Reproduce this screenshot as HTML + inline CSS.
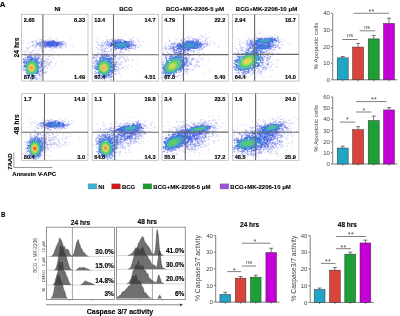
<!DOCTYPE html><html><head><meta charset="utf-8"><style>html,body{margin:0;padding:0;background:#fff;}svg{display:block;will-change:transform}</style></head><body>
<svg width="400" height="316" viewBox="0 0 400 316">
<defs><filter id="soft" x="-5%" y="-5%" width="110%" height="110%"><feGaussianBlur stdDeviation="0.32"/><feColorMatrix type="saturate" values="0.82"/></filter></defs>
<rect width="400" height="316" fill="#fff"/>
<text x="-0.3" y="6.6" font-family="Liberation Sans, sans-serif" font-size="7.8" font-weight="bold" fill="#000" stroke="#000" stroke-width="0.12">A</text>
<text transform="translate(0.9,216.8) scale(0.78,1)" font-family="Liberation Sans, sans-serif" font-size="7.8" font-weight="bold" fill="#000" stroke="#000" stroke-width="0.12">B</text>
<text x="57.5" y="11.1" text-anchor="middle" font-family="Liberation Sans, sans-serif" font-size="6.1" font-weight="bold" fill="#000" stroke="#000" stroke-width="0.12">NI</text>
<text x="126" y="11.1" text-anchor="middle" font-family="Liberation Sans, sans-serif" font-size="6.1" font-weight="bold" fill="#000" stroke="#000" stroke-width="0.12">BCG</text>
<text x="195" y="11.1" text-anchor="middle" font-family="Liberation Sans, sans-serif" font-size="6.1" font-weight="bold" fill="#000" stroke="#000" stroke-width="0.12">BCG+MK-2206-5 μM</text>
<text x="266.5" y="11.1" text-anchor="middle" font-family="Liberation Sans, sans-serif" font-size="6.1" font-weight="bold" fill="#000" stroke="#000" stroke-width="0.12">BCG+MK-2206-10 μM</text>
<text transform="translate(18.6,47.5) rotate(-90)" text-anchor="middle" font-family="Liberation Sans, sans-serif" font-size="6.8" font-weight="bold" fill="#000" stroke="#000" stroke-width="0.12">24 hrs</text>
<text transform="translate(18.6,124.2) rotate(-90)" text-anchor="middle" font-family="Liberation Sans, sans-serif" font-size="6.8" font-weight="bold" fill="#000" stroke="#000" stroke-width="0.12">48 hrs</text>
<rect x="21.6" y="14.3" width="66.4" height="66.8" fill="#fff" stroke="#b8b8b8" stroke-width="0.8"/>
<g filter="url(#soft)">
<path d="M70.4 38.0h.3M44.3 37.0h.3M72.5 46.7h.3M23.6 40.9h.3M62.1 62.1h.3M58.8 56.1h.3M54.3 52.4h.3M22.6 42.8h.3M49.4 37.9h.3M50.4 38.1h.3M70.5 45.3h.3M62.0 49.2h.3M37.5 38.9h.3M51.9 50.7h.3M66.1 47.7h.3M52.3 55.0h.3M49.6 50.5h.3M57.0 61.3h.3M55.5 66.1h.3" stroke="rgb(120, 120, 245)" stroke-opacity="0.4" stroke-width="0.75" stroke-linecap="square" fill="none"/>
<path d="M40.0 39.2h.3M52.0 56.0h.3M55.6 63.5h.3M31.8 41.1h.3M43.4 50.9h.3M52.8 67.5h.3M46.1 53.6h.3M27.6 43.2h.3M43.3 39.1h.3M51.4 68.8h.3M43.2 51.8h.3M43.4 50.4h.3M41.0 39.4h.3M53.0 58.1h.3M47.8 54.9h.3M54.3 64.2h.3M49.3 55.8h.3M33.0 41.1h.3M22.5 50.7h.3M56.3 39.3h.3M59.9 48.4h.3M41.9 50.4h.3M42.8 52.2h.3M49.2 56.4h.3M30.2 42.6h.3M26.7 47.6h.3M34.2 41.1h.3M41.2 51.2h.3M49.0 56.7h.3M45.4 54.6h.3M66.1 46.0h.3M26.8 48.2h.3M36.2 40.7h.3M61.6 47.7h.3M52.5 62.4h.3M32.1 42.1h.3M43.4 49.3h.3M56.2 48.7h.3M28.3 47.8h.3M36.5 40.9h.3M47.0 39.5h.3M65.9 45.7h.3M52.5 48.9h.3M50.6 59.9h.3M29.9 46.2h.3M27.9 48.6h.3M44.1 54.7h.3M29.8 47.4h.3M62.4 40.8h.3M32.2 42.7h.3M33.9 41.9h.3M51.1 61.7h.3M34.9 41.6h.3M39.1 50.8h.3M64.7 46.3h.3M66.7 43.2h.3M49.6 66.8h.3M64.9 41.8h.3M42.4 40.0h.3" stroke="rgb(112, 114, 243)" stroke-opacity="0.4" stroke-width="0.75" stroke-linecap="square" fill="none"/>
<path d="M32.7 42.7h.3M39.5 48.8h.3M50.4 61.9h.3M26.9 49.7h.3M37.0 48.9h.3M49.7 65.0h.3M48.3 58.9h.3M45.0 56.1h.3M60.6 47.4h.3M49.9 62.8h.3M25.3 50.9h.3M50.8 48.7h.3M49.3 65.2h.3M49.8 62.4h.3M39.4 40.8h.3M31.9 46.2h.3M49.7 62.9h.3M34.5 48.1h.3M49.2 64.2h.3M43.1 55.0h.3M57.5 47.9h.3M40.8 48.3h.3M41.4 48.4h.3M48.4 60.2h.3M58.4 47.8h.3M32.4 45.8h.3M49.1 63.3h.3M36.5 50.5h.3M34.9 47.4h.3M46.0 73.1h.3M47.2 59.1h.3M32.9 45.9h.3M50.4 39.8h.3M62.9 41.4h.3M46.3 72.2h.3M41.5 40.6h.3M46.3 58.6h.3M45.6 48.3h.3M33.4 44.4h.3M33.4 45.1h.3M36.1 47.1h.3M48.2 63.8h.3M48.0 65.0h.3M34.0 50.2h.3M24.3 52.8h.3M47.9 65.0h.3M45.9 72.2h.3M65.1 44.8h.3M47.0 68.7h.3M53.3 48.1h.3M41.7 47.9h.3M41.4 54.5h.3" stroke="rgb(105, 109, 242)" stroke-opacity="0.4" stroke-width="0.75" stroke-linecap="square" fill="none"/>
<path d="M60.3 47.1h.3M40.7 79.0h.3M47.1 67.8h.3M36.3 42.4h.3M35.4 46.4h.3M65.3 43.6h.3M55.1 47.9h.3M43.4 40.6h.3M25.9 51.9h.3M47.0 61.0h.3M60.5 46.9h.3M52.4 40.0h.3M33.1 50.5h.3M27.7 51.2h.3M35.0 45.5h.3M46.6 61.1h.3M36.4 46.4h.3M34.9 44.9h.3M47.0 62.9h.3M45.5 71.7h.3M59.1 47.2h.3M62.9 41.9h.3M39.7 79.0h.3M60.2 46.9h.3M46.7 62.6h.3M45.3 59.6h.3M43.4 57.2h.3M43.5 40.8h.3M62.6 46.0h.3M37.3 80.0h.3M36.0 43.7h.3M36.5 45.8h.3M36.5 43.3h.3M44.5 73.2h.3M48.5 40.3h.3M37.2 42.9h.3M45.7 60.8h.3M45.4 47.7h.3M36.8 43.2h.3M53.7 40.3h.3M46.4 64.3h.3M63.9 42.8h.3M36.5 45.5h.3M41.4 77.3h.3M64.1 43.0h.3M39.7 46.8h.3M38.6 53.6h.3M37.4 42.9h.3M42.9 41.0h.3" stroke="rgb(98, 104, 241)" stroke-opacity="0.4" stroke-width="0.75" stroke-linecap="square" fill="none"/>
<path d="M44.4 73.0h.3M45.1 60.2h.3M32.4 51.3h.3M44.0 40.9h.3M39.1 46.5h.3M39.5 42.1h.3M56.3 40.5h.3M37.0 43.6h.3M37.4 43.2h.3M45.9 63.3h.3M63.3 45.2h.3M40.4 46.7h.3M41.2 41.6h.3M64.1 44.0h.3M37.0 45.0h.3M31.3 80.3h.3M45.9 65.6h.3M53.2 40.4h.3M40.5 46.7h.3M62.7 42.3h.3M37.0 44.2h.3M40.3 46.6h.3M40.5 41.9h.3M39.9 55.0h.3M30.2 80.0h.3M61.1 41.6h.3M38.4 42.9h.3M55.1 47.4h.3M37.7 45.2h.3M56.0 47.3h.3M44.9 61.3h.3M43.8 47.1h.3M53.0 40.5h.3M38.0 43.4h.3M61.6 45.9h.3M36.3 79.6h.3M29.1 52.2h.3" stroke="rgb(90, 99, 240)" stroke-opacity="0.4" stroke-width="0.75" stroke-linecap="square" fill="none"/>
<path d="M42.6 46.9h.3M61.0 46.1h.3M37.8 44.6h.3M38.9 42.9h.3M38.0 54.0h.3M37.9 44.2h.3M56.2 47.1h.3M49.4 47.5h.3M45.2 65.6h.3M45.5 41.0h.3M25.6 54.4h.3M40.2 55.8h.3M44.7 41.1h.3M38.3 78.5h.3M39.5 42.8h.3M42.5 41.6h.3M45.0 67.4h.3M44.4 61.6h.3M45.6 47.2h.3M62.0 42.3h.3M38.3 44.4h.3M33.1 79.8h.3M47.6 47.3h.3M44.5 47.0h.3M31.1 52.4h.3M31.1 79.7h.3M22.4 59.2h.3M39.6 45.6h.3M36.4 79.1h.3M63.0 43.3h.3M62.8 44.8h.3M40.4 56.4h.3M41.6 46.3h.3M39.7 77.2h.3M41.7 46.3h.3M43.4 72.4h.3" stroke="rgb(84, 94, 240)" stroke-opacity="0.55" stroke-width="0.75" stroke-linecap="square" fill="none"/>
<path d="M36.4 79.0h.3M42.0 58.3h.3M36.7 78.9h.3M40.0 42.9h.3M55.9 47.0h.3M36.9 54.0h.3M24.9 55.7h.3M39.5 45.1h.3M43.0 46.5h.3M45.4 46.9h.3M42.9 41.8h.3M43.3 72.2h.3M61.0 42.1h.3M39.9 43.1h.3M44.5 41.4h.3M44.9 46.8h.3M43.3 60.6h.3M44.5 66.4h.3M49.6 47.2h.3M44.4 67.9h.3M32.3 79.5h.3M38.7 55.4h.3M41.7 74.7h.3M35.1 53.5h.3M41.3 75.2h.3M51.8 40.7h.3M53.0 40.8h.3M41.7 42.3h.3M46.5 41.1h.3M54.3 47.0h.3M59.2 41.6h.3M60.0 41.8h.3M43.9 62.6h.3M62.1 44.8h.3M30.5 53.1h.3M50.4 47.1h.3M24.3 75.1h.3M41.7 42.4h.3" stroke="rgb(81, 93, 240)" stroke-opacity="0.55" stroke-width="0.75" stroke-linecap="square" fill="none"/>
<path d="M38.1 55.3h.3M60.3 45.8h.3M39.9 44.4h.3M40.2 43.4h.3M54.2 46.9h.3M38.9 55.9h.3M23.4 58.6h.3M40.0 44.0h.3M26.4 55.0h.3M45.8 46.7h.3M41.6 58.7h.3M43.2 41.9h.3M51.7 47.0h.3M43.9 63.9h.3M62.2 44.4h.3M27.0 77.6h.3M47.1 41.2h.3M44.9 41.5h.3M40.2 44.4h.3M40.2 44.3h.3M40.7 44.9h.3M40.1 75.8h.3M48.7 46.9h.3M42.6 72.1h.3M45.0 46.4h.3M41.5 45.3h.3M50.6 41.0h.3M53.8 41.0h.3M42.5 42.4h.3M42.4 42.4h.3" stroke="rgb(78, 92, 240)" stroke-opacity="0.55" stroke-width="0.75" stroke-linecap="square" fill="none"/>
<path d="M43.9 46.2h.3M42.7 71.6h.3M58.8 41.7h.3M61.9 44.3h.3M38.8 56.4h.3M42.7 45.7h.3M48.5 41.1h.3M56.0 46.5h.3M23.7 59.0h.3M52.2 46.8h.3M39.8 75.8h.3M43.6 66.8h.3M52.8 41.0h.3M23.2 60.0h.3M60.5 42.4h.3M41.0 58.9h.3M61.6 43.4h.3M45.1 46.3h.3M36.5 55.0h.3M42.4 42.6h.3M42.9 62.3h.3M41.7 60.0h.3M43.1 69.7h.3M44.4 46.1h.3M61.5 44.4h.3M41.8 60.3h.3M59.7 45.6h.3" stroke="rgb(75, 90, 240)" stroke-opacity="0.55" stroke-width="0.75" stroke-linecap="square" fill="none"/>
<path d="M41.9 72.6h.3M50.4 46.7h.3M50.2 46.7h.3M46.2 41.6h.3M43.7 42.3h.3M23.8 59.3h.3M43.2 42.5h.3M39.3 57.4h.3M42.8 63.2h.3M50.5 41.2h.3M42.2 61.4h.3M24.9 57.8h.3M42.7 70.0h.3M60.5 42.7h.3M42.2 43.2h.3M50.8 41.2h.3M45.5 41.9h.3M61.2 43.7h.3M48.3 46.5h.3M42.8 69.0h.3" stroke="rgb(71, 89, 240)" stroke-opacity="0.55" stroke-width="0.75" stroke-linecap="square" fill="none"/>
<path d="M60.9 44.6h.3M42.0 44.4h.3M45.1 42.0h.3M54.8 41.4h.3M43.1 45.3h.3M47.1 46.3h.3M42.5 43.2h.3M61.1 43.7h.3M53.8 41.3h.3M36.3 55.5h.3M32.2 54.4h.3M42.6 69.3h.3M34.2 54.8h.3M57.7 45.9h.3M23.5 60.7h.3M54.5 41.4h.3M58.0 41.9h.3M35.5 77.8h.3M53.1 41.3h.3M30.1 54.8h.3M50.0 46.5h.3M34.4 55.0h.3M48.0 41.6h.3" stroke="rgb(68, 88, 240)" stroke-opacity="0.55" stroke-width="0.75" stroke-linecap="square" fill="none"/>
<path d="M23.0 62.5h.3M31.5 54.7h.3M40.4 59.5h.3M42.0 70.4h.3M40.6 73.4h.3M43.7 42.8h.3M32.3 78.3h.3M46.1 45.9h.3M43.2 43.2h.3M41.9 70.6h.3M22.5 66.3h.3M49.2 41.5h.3M58.9 45.3h.3M31.8 54.8h.3M56.8 41.8h.3M41.3 61.3h.3M59.6 45.0h.3M42.1 63.2h.3M54.0 46.3h.3M44.3 45.3h.3M30.4 78.0h.3M60.5 43.8h.3M47.5 46.1h.3M60.5 43.9h.3M23.1 70.5h.3M45.2 42.3h.3M29.9 55.2h.3" stroke="rgb(65, 86, 240)" stroke-opacity="0.55" stroke-width="0.75" stroke-linecap="square" fill="none"/>
<path d="M54.1 46.3h.3M38.1 57.4h.3M51.5 46.4h.3M28.9 55.6h.3M41.2 61.3h.3M28.9 77.5h.3M44.8 45.5h.3M46.2 45.8h.3M53.8 41.5h.3M55.6 46.1h.3M38.2 57.5h.3M41.9 63.0h.3M56.9 45.8h.3M52.7 41.5h.3M26.0 75.5h.3M44.7 42.6h.3M60.3 43.9h.3M38.9 75.1h.3M28.4 55.9h.3M34.9 77.6h.3M52.5 41.5h.3M46.9 42.0h.3M44.6 45.2h.3M49.8 41.6h.3M59.4 42.8h.3M42.2 66.0h.3M36.7 56.6h.3M45.0 45.4h.3M48.9 46.2h.3M23.4 62.5h.3" stroke="rgb(62, 85, 240)" stroke-opacity="0.55" stroke-width="0.75" stroke-linecap="square" fill="none"/>
<path d="M22.9 68.6h.3M41.7 63.2h.3M57.1 45.7h.3M57.9 45.4h.3M27.1 57.0h.3M45.6 42.4h.3M30.6 55.4h.3M56.1 45.9h.3M56.0 45.9h.3M43.6 43.7h.3M41.8 69.1h.3M51.1 41.6h.3M56.7 45.7h.3M26.2 57.8h.3M35.7 77.1h.3M41.6 63.2h.3M44.2 44.8h.3M38.9 58.7h.3M54.3 41.7h.3M58.9 44.9h.3M37.9 57.8h.3M39.0 58.8h.3M23.7 61.9h.3M43.8 43.8h.3M41.5 63.4h.3M28.8 56.1h.3" stroke="rgb(59, 84, 240)" stroke-opacity="0.55" stroke-width="0.75" stroke-linecap="square" fill="none"/>
<path d="M50.9 46.1h.3M38.8 74.8h.3M59.6 43.4h.3M41.7 64.4h.3M48.4 41.9h.3M24.0 61.5h.3M46.5 45.6h.3M56.6 45.6h.3M45.2 45.2h.3M55.2 41.9h.3M46.1 45.5h.3M48.4 41.9h.3M52.5 46.1h.3M24.7 60.1h.3M33.7 55.8h.3M41.2 62.7h.3M27.6 57.0h.3M27.8 56.8h.3M56.1 45.7h.3M57.5 45.4h.3M53.0 46.0h.3M25.9 58.6h.3M47.4 45.7h.3M27.8 56.9h.3M59.5 43.9h.3" stroke="rgb(56, 82, 240)" stroke-opacity="0.55" stroke-width="0.75" stroke-linecap="square" fill="none"/>
<path d="M57.8 42.5h.3M44.4 44.2h.3M35.2 56.5h.3M59.0 43.2h.3M57.7 42.5h.3M30.0 77.4h.3M40.5 61.6h.3M24.5 61.0h.3M41.3 69.6h.3M41.0 70.4h.3M44.7 43.4h.3M41.5 64.8h.3M52.5 46.0h.3M41.6 67.0h.3M52.4 41.8h.3M49.0 42.0h.3M53.4 45.9h.3M27.1 75.9h.3" stroke="rgb(53, 81, 240)" stroke-opacity="0.55" stroke-width="0.75" stroke-linecap="square" fill="none"/>
<path d="M27.4 57.5h.3M46.5 42.6h.3M46.7 45.4h.3M44.8 43.6h.3M40.5 71.5h.3M58.5 44.7h.3M46.7 42.5h.3M44.7 43.9h.3M38.8 74.1h.3M41.4 65.5h.3M50.5 45.9h.3M44.9 43.7h.3M41.4 65.9h.3M25.0 60.3h.3M58.7 43.5h.3M30.8 56.2h.3M58.0 42.9h.3" stroke="rgb(50, 80, 240)" stroke-opacity="0.75" stroke-width="0.75" stroke-linecap="square" fill="none"/>
<path d="M47.0 45.3h.3M46.8 42.6h.3M58.7 43.5h.3M57.5 42.7h.3M58.0 42.9h.3M41.3 66.8h.3M58.2 44.6h.3M24.3 62.0h.3M57.2 45.1h.3M29.6 56.6h.3M28.2 57.3h.3M49.1 42.1h.3M53.8 42.0h.3M38.1 59.0h.3M48.9 42.2h.3M57.1 42.6h.3M52.9 45.8h.3M49.2 45.6h.3M53.9 42.0h.3M58.3 44.4h.3M54.1 42.1h.3M24.0 62.8h.3" stroke="rgb(49, 81, 239)" stroke-opacity="0.75" stroke-width="0.75" stroke-linecap="square" fill="none"/>
<path d="M46.3 42.9h.3M48.2 45.4h.3M55.5 45.4h.3M25.6 59.8h.3M51.2 42.0h.3M45.5 44.2h.3M55.8 45.4h.3M48.7 45.5h.3M24.4 62.0h.3M24.0 63.1h.3M50.2 45.7h.3M23.5 68.8h.3M40.8 64.1h.3M56.5 45.1h.3M38.0 59.2h.3M29.8 56.8h.3M28.7 57.3h.3M53.8 45.6h.3M31.4 56.5h.3M56.5 42.6h.3M50.7 42.1h.3M47.3 42.7h.3" stroke="rgb(48, 82, 239)" stroke-opacity="0.75" stroke-width="0.75" stroke-linecap="square" fill="none"/>
<path d="M40.2 71.0h.3M28.2 57.6h.3M40.8 64.5h.3M36.5 58.0h.3M48.5 45.4h.3M57.2 42.9h.3M58.1 43.8h.3M38.7 73.5h.3M48.0 42.6h.3M57.2 44.7h.3M46.1 44.3h.3M53.1 45.6h.3M48.1 45.2h.3M34.8 57.2h.3" stroke="rgb(48, 83, 239)" stroke-opacity="0.75" stroke-width="0.75" stroke-linecap="square" fill="none"/>
<path d="M50.1 45.5h.3M50.2 42.3h.3M31.6 77.1h.3M51.0 45.5h.3M47.7 42.7h.3M34.0 57.0h.3M27.6 58.2h.3M39.4 61.5h.3M29.0 57.4h.3M35.4 57.6h.3M51.3 42.2h.3M56.8 42.9h.3M48.6 42.5h.3M57.8 44.0h.3M51.0 42.2h.3M37.8 59.4h.3M50.9 45.5h.3M56.1 45.0h.3M48.8 42.6h.3M28.5 76.2h.3M48.1 42.7h.3M46.4 44.0h.3M47.3 43.0h.3M54.4 42.4h.3M46.4 43.8h.3M56.3 42.9h.3M48.6 42.6h.3M57.5 43.8h.3M32.4 76.9h.3M55.4 42.6h.3M57.1 43.3h.3M24.1 64.1h.3M36.4 58.5h.3M33.9 76.6h.3M52.7 42.3h.3M57.0 43.3h.3M48.0 42.9h.3M55.7 42.7h.3M48.0 42.9h.3M47.2 44.5h.3M39.7 62.7h.3M55.4 42.7h.3M51.6 42.4h.3M40.5 66.2h.3M57.0 44.2h.3M52.4 45.3h.3M54.7 45.1h.3M37.0 59.1h.3M48.2 44.8h.3M56.4 44.6h.3M39.1 72.1h.3M52.0 45.3h.3M24.9 62.1h.3M56.4 43.2h.3M47.1 44.0h.3M47.3 43.5h.3M47.6 44.5h.3M52.7 42.5h.3M56.7 44.2h.3M24.7 62.7h.3M53.3 45.2h.3M56.8 44.1h.3M47.4 44.2h.3M54.3 42.7h.3M32.1 57.3h.3M40.3 67.4h.3M56.6 44.3h.3" stroke="rgb(47, 85, 239)" stroke-opacity="0.75" stroke-width="0.75" stroke-linecap="square" fill="none"/>
<path d="M56.7 44.0h.3M49.0 44.9h.3M30.1 57.6h.3M49.3 44.9h.3M48.1 43.2h.3M49.7 45.0h.3M47.6 43.6h.3M54.4 42.8h.3M52.0 42.6h.3M47.6 44.1h.3M48.5 43.1h.3M24.2 65.0h.3M48.4 44.6h.3M55.1 44.8h.3M24.0 66.6h.3M27.0 59.6h.3M36.9 59.5h.3M49.5 42.9h.3M54.9 44.8h.3M47.7 44.0h.3M55.8 43.2h.3M50.3 45.0h.3M49.0 43.0h.3M55.6 44.5h.3M55.8 44.4h.3M55.4 44.6h.3M52.0 45.1h.3M39.4 63.2h.3M48.7 44.6h.3M54.6 42.9h.3M54.8 44.7h.3M48.4 43.3h.3M54.3 42.9h.3M36.1 75.1h.3M48.0 44.1h.3M30.9 57.7h.3M51.6 42.7h.3M48.7 43.3h.3M49.4 44.7h.3M48.3 44.1h.3M48.3 44.0h.3M55.4 44.4h.3M52.8 42.8h.3M50.0 43.0h.3M48.4 44.0h.3M39.7 69.0h.3M34.7 75.8h.3M38.6 62.0h.3M54.7 43.1h.3M49.3 44.5h.3M50.3 43.0h.3M33.2 76.3h.3M48.6 43.9h.3M50.7 44.8h.3M39.8 67.6h.3M53.7 44.7h.3M52.1 44.8h.3M48.8 44.0h.3M53.5 43.0h.3M55.2 43.9h.3M33.4 76.2h.3M52.4 44.7h.3M49.0 43.8h.3M28.8 75.7h.3M53.4 43.0h.3M31.4 57.9h.3M35.1 58.7h.3M24.3 65.9h.3M50.6 44.6h.3M54.0 43.2h.3M54.6 43.4h.3M31.2 76.3h.3M51.1 44.6h.3M49.2 44.0h.3M51.2 44.6h.3M52.4 44.6h.3M49.5 43.7h.3M52.2 44.6h.3M51.3 44.6h.3M50.5 44.4h.3M49.7 43.7h.3M53.3 44.5h.3M49.6 43.9h.3M51.6 44.5h.3M54.0 43.4h.3M27.9 59.5h.3M32.5 76.2h.3M50.5 44.3h.3M36.3 59.8h.3M53.4 43.3h.3M52.5 43.2h.3" stroke="rgb(43, 93, 237)" stroke-opacity="0.75" stroke-width="0.75" stroke-linecap="square" fill="none"/>
<path d="M50.0 43.7h.3M34.5 58.7h.3M24.5 65.5h.3M30.6 58.3h.3M53.9 43.5h.3M24.5 65.9h.3M36.9 60.4h.3M50.2 44.1h.3M51.1 44.4h.3M24.8 70.2h.3M50.3 44.0h.3M51.0 43.4h.3M24.5 69.1h.3M53.4 44.2h.3M52.2 44.3h.3M50.5 43.9h.3M38.2 62.2h.3M50.8 44.0h.3M38.1 62.1h.3M50.9 44.0h.3M53.5 43.9h.3M30.1 58.5h.3M50.9 43.9h.3M37.0 60.6h.3M51.7 43.5h.3M52.5 43.5h.3M38.8 63.7h.3M51.5 43.6h.3M52.5 44.1h.3M51.1 43.9h.3M51.8 43.6h.3M39.4 68.3h.3M53.1 43.8h.3M25.8 62.1h.3M24.5 66.2h.3M33.0 58.4h.3M51.9 43.6h.3M51.5 44.0h.3M51.5 43.8h.3M37.8 72.5h.3M51.6 43.9h.3M39.3 65.8h.3M51.9 43.8h.3M33.0 58.4h.3M36.7 60.5h.3M38.4 71.4h.3M36.1 60.0h.3M38.3 62.8h.3M31.4 76.1h.3M31.0 58.5h.3M32.5 58.5h.3M26.5 61.2h.3M34.9 59.2h.3M32.3 58.5h.3M32.6 58.5h.3M24.6 67.2h.3M29.1 59.2h.3M26.4 73.2h.3M26.9 61.0h.3M34.1 75.4h.3M32.1 58.6h.3M36.3 60.5h.3M38.3 70.9h.3M26.7 61.3h.3M38.5 63.9h.3M26.1 72.6h.3" stroke="rgb(39, 101, 236)" stroke-opacity="0.75" stroke-width="0.75" stroke-linecap="square" fill="none"/>
<path d="M36.9 73.2h.3M26.6 61.6h.3M32.5 75.8h.3M38.2 70.8h.3M26.2 62.3h.3M32.9 59.0h.3M35.0 59.8h.3M31.2 59.0h.3M27.1 73.6h.3M29.9 59.3h.3M29.0 59.7h.3M36.8 73.0h.3M36.8 61.5h.3M37.8 71.3h.3M37.1 72.6h.3M34.8 59.9h.3M33.0 75.5h.3M28.0 74.4h.3M36.1 60.9h.3M36.9 72.8h.3M28.3 60.3h.3M37.8 71.1h.3M25.6 70.8h.3M36.7 61.8h.3" stroke="rgb(35, 110, 235)" stroke-opacity="0.9" stroke-width="1.0" stroke-linecap="square" fill="none"/>
<path d="M31.3 59.3h.3M33.1 75.2h.3M32.3 59.4h.3M31.7 75.4h.3M26.0 63.4h.3M38.4 66.7h.3M36.4 72.9h.3M33.3 59.7h.3M30.9 59.6h.3M30.9 59.6h.3M36.4 72.8h.3M30.2 59.8h.3M34.6 60.4h.3M28.9 74.5h.3M37.5 70.8h.3" stroke="rgb(30, 120, 230)" stroke-opacity="0.9" stroke-width="1.0" stroke-linecap="square" fill="none"/>
<path d="M36.2 61.9h.3M25.6 65.2h.3M38.1 67.4h.3M38.1 67.2h.3M34.6 60.6h.3M38.0 68.4h.3M26.2 63.7h.3M38.1 67.0h.3M32.2 75.0h.3M30.1 60.2h.3M37.9 68.9h.3M36.6 62.7h.3M29.6 74.6h.3M33.0 60.1h.3M36.7 63.0h.3M25.5 66.5h.3M36.5 62.7h.3M35.9 72.8h.3M25.5 67.7h.3M37.5 70.0h.3M36.4 62.6h.3" stroke="rgb(26, 130, 226)" stroke-opacity="0.9" stroke-width="1.0" stroke-linecap="square" fill="none"/>
<path d="M37.9 67.4h.3M37.5 64.8h.3M37.8 66.6h.3M36.9 63.6h.3M36.8 63.4h.3M37.3 64.7h.3M27.3 62.4h.3M35.5 73.1h.3M37.8 67.5h.3M25.9 65.4h.3M35.2 61.6h.3M26.8 63.3h.3M28.8 61.2h.3M35.8 72.7h.3M30.7 60.4h.3M32.5 74.7h.3M35.3 61.8h.3M37.4 65.5h.3M36.9 64.1h.3M31.7 60.4h.3M35.9 62.5h.3" stroke="rgb(22, 141, 222)" stroke-opacity="0.9" stroke-width="1.0" stroke-linecap="square" fill="none"/>
<path d="M37.5 68.9h.3M37.6 67.5h.3M28.0 61.9h.3M31.7 74.6h.3M31.3 60.5h.3M27.6 62.5h.3M29.4 61.1h.3M35.1 61.9h.3M37.0 70.2h.3M37.0 64.9h.3M34.8 61.7h.3M29.4 61.2h.3M37.4 68.0h.3M36.1 63.2h.3M37.1 69.4h.3" stroke="rgb(18, 151, 218)" stroke-opacity="0.9" stroke-width="1.0" stroke-linecap="square" fill="none"/>
<path d="M37.0 69.8h.3M31.2 60.7h.3M37.2 68.4h.3M27.5 72.4h.3M36.0 71.8h.3M36.9 69.9h.3M36.9 65.2h.3M37.2 66.4h.3M31.4 60.8h.3M27.4 72.1h.3M36.8 64.9h.3M31.6 74.3h.3M34.7 62.0h.3M32.7 74.2h.3M26.5 70.4h.3M29.0 61.8h.3M26.9 71.2h.3M26.6 70.5h.3" stroke="rgb(15, 160, 213)" stroke-opacity="1" stroke-width="1.0" stroke-linecap="square" fill="none"/>
<path d="M26.6 64.8h.3M29.4 61.5h.3M29.9 61.3h.3M26.7 64.7h.3M28.2 62.4h.3M30.5 61.2h.3M36.5 64.6h.3M29.7 61.5h.3M32.7 74.0h.3M33.1 73.8h.3M28.2 62.6h.3M29.7 61.5h.3" stroke="rgb(15, 165, 204)" stroke-opacity="1" stroke-width="1.0" stroke-linecap="square" fill="none"/>
<path d="M33.0 61.4h.3M36.7 69.5h.3M33.9 61.8h.3M32.2 61.2h.3M34.1 73.2h.3M36.9 67.3h.3M34.8 62.5h.3M27.1 71.1h.3M34.7 72.8h.3M26.6 65.4h.3M35.9 64.0h.3M31.1 74.0h.3M36.5 65.3h.3M27.8 63.2h.3M29.2 62.0h.3M26.3 67.2h.3M28.7 73.0h.3M36.7 66.5h.3M36.7 68.9h.3M34.2 73.0h.3M35.9 71.0h.3M26.6 69.5h.3M31.0 61.4h.3M28.8 62.3h.3M35.0 62.9h.3M34.6 62.6h.3M28.6 62.5h.3" stroke="rgb(16, 170, 195)" stroke-opacity="1" stroke-width="1.0" stroke-linecap="square" fill="none"/>
<path d="M36.3 65.0h.3M36.0 70.7h.3M26.4 67.8h.3M36.7 67.2h.3M27.1 64.7h.3M35.1 63.2h.3M35.8 64.3h.3M28.5 62.7h.3M35.7 64.1h.3M36.4 65.6h.3M32.0 73.8h.3M26.6 66.4h.3M36.2 65.3h.3M36.3 69.8h.3M31.2 61.6h.3M36.6 67.4h.3M29.6 73.3h.3" stroke="rgb(17, 175, 186)" stroke-opacity="1" stroke-width="1.0" stroke-linecap="square" fill="none"/>
<path d="M32.6 61.7h.3M32.7 61.8h.3M35.0 63.4h.3M26.7 69.3h.3M29.9 73.4h.3M26.9 69.7h.3M28.7 72.6h.3M26.7 66.5h.3M35.7 70.8h.3" stroke="rgb(17, 180, 177)" stroke-opacity="1" stroke-width="1.0" stroke-linecap="square" fill="none"/>
<path d="M36.2 66.1h.3M27.6 71.1h.3M36.3 66.9h.3M27.3 64.8h.3M34.8 63.4h.3M32.6 62.0h.3M36.3 67.5h.3M36.3 67.5h.3M29.9 62.2h.3M34.2 72.5h.3M36.3 67.4h.3M27.9 71.5h.3M34.3 63.0h.3M27.1 65.4h.3M36.2 66.6h.3M36.1 66.0h.3M30.2 62.2h.3M32.7 73.2h.3M36.1 66.2h.3" stroke="rgb(18, 185, 168)" stroke-opacity="1" stroke-width="1.0" stroke-linecap="square" fill="none"/>
<path d="M27.9 64.1h.3M27.0 66.0h.3M28.9 63.0h.3M34.9 63.7h.3M33.9 62.8h.3M34.7 63.5h.3M34.5 63.4h.3M29.0 63.0h.3M27.0 66.7h.3M30.3 62.3h.3" stroke="rgb(19, 190, 159)" stroke-opacity="1" stroke-width="1.0" stroke-linecap="square" fill="none"/>
<path d="M30.1 73.0h.3M35.0 64.1h.3M35.9 66.2h.3M34.6 71.8h.3M33.7 72.5h.3M35.8 65.8h.3M29.2 63.0h.3M29.9 62.6h.3M27.9 64.3h.3M33.4 62.7h.3M27.0 67.2h.3M30.0 72.9h.3M32.8 62.5h.3M28.9 72.2h.3M27.4 65.4h.3M35.9 66.7h.3M35.8 66.1h.3M30.4 62.5h.3M31.2 62.3h.3M30.9 62.4h.3M32.9 72.9h.3M35.9 67.1h.3M27.2 66.4h.3M30.2 62.5h.3" stroke="rgb(20, 195, 150)" stroke-opacity="1" stroke-width="1.0" stroke-linecap="square" fill="none"/>
<path d="M30.6 73.0h.3M35.5 70.0h.3M32.3 62.4h.3M28.3 64.0h.3M31.5 73.1h.3M28.5 63.7h.3M35.5 65.4h.3M27.3 69.5h.3M35.3 65.0h.3M27.7 70.5h.3M33.8 63.2h.3M32.9 62.7h.3M27.6 65.3h.3M33.7 63.2h.3M31.3 73.0h.3M35.4 65.2h.3M27.9 70.8h.3M35.6 65.9h.3M35.7 69.2h.3M31.7 62.5h.3M35.1 64.8h.3" stroke="rgb(25, 196, 140)" stroke-opacity="1" stroke-width="1.0" stroke-linecap="square" fill="none"/>
<path d="M27.2 68.0h.3M28.8 63.7h.3M34.7 71.2h.3M32.0 62.6h.3M35.3 65.4h.3M34.2 63.7h.3M35.4 69.8h.3M27.7 65.4h.3M31.4 72.9h.3M35.2 70.1h.3" stroke="rgb(31, 198, 130)" stroke-opacity="1" stroke-width="1.0" stroke-linecap="square" fill="none"/>
<path d="M34.3 71.5h.3M28.8 71.7h.3M29.8 63.1h.3M29.7 63.2h.3M35.6 67.2h.3M35.3 65.7h.3M30.7 62.8h.3M32.2 62.8h.3M35.3 65.9h.3M31.2 62.7h.3M35.6 67.7h.3M34.5 64.4h.3" stroke="rgb(36, 200, 120)" stroke-opacity="1" stroke-width="1.0" stroke-linecap="square" fill="none"/>
<path d="M30.8 62.9h.3M28.1 64.9h.3M27.7 66.0h.3M27.6 66.1h.3M31.6 62.8h.3M35.0 65.3h.3M35.2 65.8h.3M34.7 64.8h.3M32.8 72.4h.3M31.5 62.9h.3M29.0 63.9h.3M33.7 71.8h.3M30.5 63.0h.3M27.5 66.8h.3M27.6 66.4h.3M35.4 67.0h.3M28.0 65.3h.3M31.7 62.9h.3M31.6 72.6h.3M34.8 65.0h.3" stroke="rgb(42, 201, 110)" stroke-opacity="1" stroke-width="1.0" stroke-linecap="square" fill="none"/>
<path d="M27.8 65.9h.3M32.3 63.1h.3M35.4 67.1h.3M31.9 63.0h.3M27.7 66.5h.3M28.6 64.5h.3M30.2 63.3h.3M34.9 70.0h.3M31.0 72.5h.3M31.2 63.0h.3M29.7 63.5h.3M33.9 64.0h.3M35.0 65.8h.3M35.2 69.0h.3M33.5 63.7h.3M34.4 64.7h.3M35.3 67.3h.3M33.4 63.7h.3M35.3 67.6h.3" stroke="rgb(47, 203, 99)" stroke-opacity="1" stroke-width="1.0" stroke-linecap="square" fill="none"/>
<path d="M27.6 67.9h.3M27.6 68.2h.3M29.7 71.9h.3M34.7 70.3h.3M35.0 65.9h.3M31.5 72.4h.3M30.3 63.3h.3M34.7 70.3h.3M31.5 72.4h.3M28.6 64.7h.3M33.4 63.7h.3M29.6 71.8h.3M33.0 63.5h.3M34.1 64.4h.3M27.8 69.1h.3M29.6 63.8h.3M31.3 63.2h.3" stroke="rgb(53, 205, 90)" stroke-opacity="1" stroke-width="1.0" stroke-linecap="square" fill="none"/>
<path d="M28.6 64.9h.3M34.2 70.9h.3M35.2 68.4h.3M27.8 66.7h.3M34.4 70.6h.3M34.7 65.6h.3M35.1 68.6h.3M29.5 71.6h.3M27.9 69.0h.3M29.6 71.7h.3M34.2 70.7h.3M31.2 72.3h.3M27.9 68.9h.3" stroke="rgb(58, 206, 79)" stroke-opacity="1" stroke-width="1.0" stroke-linecap="square" fill="none"/>
<path d="M34.5 70.2h.3M34.9 66.3h.3M33.9 71.0h.3M31.6 72.2h.3M29.8 63.9h.3M30.3 72.0h.3M28.6 65.1h.3M33.4 64.0h.3M28.9 64.7h.3M34.3 70.4h.3M32.8 71.9h.3M28.4 65.5h.3M31.5 63.4h.3M34.4 70.2h.3M27.9 67.5h.3M35.0 66.9h.3M34.9 66.7h.3M33.4 64.1h.3M29.0 64.6h.3M28.8 70.7h.3" stroke="rgb(64, 208, 70)" stroke-opacity="1" stroke-width="1.0" stroke-linecap="square" fill="none"/>
<path d="M33.8 71.0h.3M29.0 70.9h.3M28.8 70.7h.3M35.0 67.9h.3M29.5 64.2h.3M34.4 70.1h.3M28.5 70.2h.3M34.5 65.6h.3M33.3 71.4h.3M30.4 71.8h.3M32.7 71.7h.3M31.9 63.6h.3M34.9 68.2h.3M28.0 68.3h.3M34.8 66.7h.3" stroke="rgb(70, 210, 60)" stroke-opacity="1" stroke-width="1.0" stroke-linecap="square" fill="none"/>
<path d="M28.7 65.3h.3M31.3 63.6h.3M31.0 71.9h.3M30.5 71.8h.3M32.8 64.0h.3M33.9 64.9h.3M33.9 64.9h.3M33.5 71.0h.3M30.9 71.9h.3M33.6 71.0h.3M32.9 71.5h.3M33.9 70.6h.3M28.3 69.3h.3M34.7 66.8h.3M34.2 65.3h.3M28.2 69.2h.3M32.6 63.9h.3M28.6 65.5h.3M34.4 65.9h.3M31.8 63.7h.3M31.4 63.7h.3M34.7 68.8h.3M28.3 66.3h.3M30.6 63.8h.3" stroke="rgb(79, 211, 55)" stroke-opacity="1" stroke-width="1.0" stroke-linecap="square" fill="none"/>
<path d="M33.9 65.0h.3M28.3 66.4h.3M28.6 65.6h.3M30.5 71.7h.3M28.1 68.3h.3M32.7 71.6h.3M28.5 69.7h.3M33.5 64.7h.3M28.7 70.0h.3M29.0 70.6h.3M33.5 70.9h.3M32.4 64.0h.3M28.1 67.8h.3M32.3 71.7h.3M33.1 71.2h.3M34.7 67.5h.3M34.5 69.1h.3M33.8 70.6h.3" stroke="rgb(88, 212, 50)" stroke-opacity="1" stroke-width="1.0" stroke-linecap="square" fill="none"/>
<path d="M30.6 64.0h.3M28.6 65.8h.3M33.1 64.4h.3M33.6 70.7h.3M33.5 64.8h.3M32.9 64.3h.3M34.3 66.1h.3M29.3 64.9h.3M31.7 71.7h.3M34.0 65.5h.3M30.4 71.5h.3M33.3 70.9h.3M31.9 64.0h.3M30.3 71.4h.3M28.3 67.8h.3M28.5 69.1h.3" stroke="rgb(97, 213, 45)" stroke-opacity="1" stroke-width="1.0" stroke-linecap="square" fill="none"/>
<path d="M28.7 65.9h.3M32.2 64.1h.3M29.5 64.8h.3M33.3 70.9h.3M34.3 66.2h.3M31.5 64.0h.3M28.5 69.1h.3M28.3 67.3h.3M34.5 67.5h.3M31.6 64.1h.3M30.7 64.2h.3M28.9 70.0h.3" stroke="rgb(106, 215, 39)" stroke-opacity="1" stroke-width="1.0" stroke-linecap="square" fill="none"/>
<path d="M30.5 64.3h.3M30.4 64.3h.3M32.7 64.5h.3M30.3 71.2h.3M33.0 71.0h.3M30.8 64.2h.3M34.2 66.4h.3M28.7 66.2h.3M33.6 70.3h.3M28.4 67.3h.3M31.1 71.4h.3M34.4 68.5h.3M31.6 64.2h.3" stroke="rgb(115, 216, 35)" stroke-opacity="1" stroke-width="1.0" stroke-linecap="square" fill="none"/>
<path d="M30.8 64.3h.3M30.6 64.4h.3M29.1 65.6h.3M28.8 66.4h.3M28.5 67.7h.3M31.9 71.3h.3M30.1 64.7h.3M29.2 65.6h.3" stroke="rgb(125, 217, 29)" stroke-opacity="1" stroke-width="1.0" stroke-linecap="square" fill="none"/>
<path d="M33.3 70.4h.3M30.9 71.2h.3M29.1 65.9h.3M31.2 64.4h.3M31.9 64.5h.3M32.2 64.6h.3M32.6 70.9h.3M32.0 71.1h.3M31.5 64.4h.3M29.2 69.9h.3" stroke="rgb(134, 218, 25)" stroke-opacity="1" stroke-width="1.0" stroke-linecap="square" fill="none"/>
<path d="M33.6 65.8h.3M29.3 69.9h.3M30.3 64.8h.3M30.9 64.5h.3M32.4 64.7h.3M32.7 64.9h.3M30.3 70.9h.3M33.1 65.2h.3M34.0 68.8h.3M31.4 64.5h.3M29.0 66.3h.3M32.3 64.7h.3M30.9 64.6h.3M31.1 64.6h.3M32.5 64.8h.3M34.1 67.5h.3M32.2 64.7h.3" stroke="rgb(143, 220, 19)" stroke-opacity="1" stroke-width="1.0" stroke-linecap="square" fill="none"/>
<path d="M31.7 64.6h.3M30.9 64.7h.3M29.0 69.2h.3M32.8 70.6h.3M29.2 66.0h.3M30.0 70.5h.3M28.9 68.5h.3M33.9 68.6h.3M29.0 69.1h.3M29.7 65.5h.3" stroke="rgb(152, 221, 15)" stroke-opacity="1" stroke-width="1.0" stroke-linecap="square" fill="none"/>
<path d="M30.9 64.8h.3M30.9 64.8h.3M31.3 64.7h.3M33.4 69.8h.3M31.2 70.9h.3M31.2 70.9h.3M29.3 69.5h.3M30.1 70.5h.3M28.9 67.6h.3M28.9 68.1h.3M33.6 66.3h.3M31.1 70.9h.3M33.9 67.5h.3M33.9 68.0h.3M30.8 70.8h.3M30.5 65.0h.3" stroke="rgb(161, 222, 10)" stroke-opacity="1" stroke-width="1.0" stroke-linecap="square" fill="none"/>
<path d="M29.2 66.6h.3M30.4 70.6h.3M29.1 67.0h.3M30.2 65.3h.3M30.6 65.1h.3M33.1 65.7h.3M33.5 69.3h.3M31.3 70.8h.3M32.9 65.5h.3M31.6 64.9h.3" stroke="rgb(170, 223, 5)" stroke-opacity="1" stroke-width="1.0" stroke-linecap="square" fill="none"/>
<path d="M33.2 69.7h.3M29.4 69.4h.3M31.4 70.7h.3M33.5 66.7h.3M32.1 65.2h.3M29.2 68.5h.3M33.7 67.7h.3" stroke="rgb(180, 225, 0)" stroke-opacity="1" stroke-width="1.0" stroke-linecap="square" fill="none"/>
<path d="M32.0 65.2h.3M32.3 70.4h.3M33.3 69.3h.3M33.6 68.4h.3M32.1 70.4h.3M29.2 67.2h.3M33.2 66.3h.3" stroke="rgb(187, 223, 0)" stroke-opacity="1" stroke-width="1.0" stroke-linecap="square" fill="none"/>
<path d="M33.6 68.1h.3M29.2 67.8h.3M30.3 65.6h.3M31.1 70.4h.3M29.4 66.9h.3M30.0 66.0h.3M30.2 70.0h.3M33.4 67.4h.3" stroke="rgb(194, 221, 0)" stroke-opacity="1" stroke-width="1.0" stroke-linecap="square" fill="none"/>
<path d="M33.0 69.4h.3M30.8 70.3h.3M30.8 65.5h.3M33.0 66.2h.3M31.9 65.4h.3M30.3 65.8h.3M31.8 65.4h.3M31.2 65.4h.3M32.1 65.5h.3M29.5 67.1h.3M31.2 70.3h.3M29.4 68.4h.3M30.0 66.1h.3" stroke="rgb(201, 220, 0)" stroke-opacity="1" stroke-width="1.0" stroke-linecap="square" fill="none"/>
<path d="M29.6 68.9h.3M29.5 67.1h.3M31.1 70.2h.3M33.3 67.6h.3M31.2 70.2h.3M33.3 67.8h.3M32.7 66.1h.3M33.1 66.8h.3M31.4 70.2h.3M31.5 70.1h.3" stroke="rgb(208, 218, 0)" stroke-opacity="1" stroke-width="1.0" stroke-linecap="square" fill="none"/>
<path d="M29.8 66.7h.3M29.9 66.5h.3M30.8 70.0h.3M29.7 68.6h.3M30.9 70.0h.3M33.2 67.3h.3M33.2 68.4h.3M30.2 69.5h.3M30.1 66.3h.3M29.8 68.9h.3M32.9 69.1h.3M29.7 67.2h.3M31.3 70.0h.3M33.1 68.4h.3M30.8 65.8h.3" stroke="rgb(216, 216, 0)" stroke-opacity="1" stroke-width="1.0" stroke-linecap="square" fill="none"/>
<path d="M33.0 67.0h.3M30.7 65.9h.3M31.3 65.8h.3M32.0 69.8h.3M29.7 67.6h.3M29.7 67.4h.3M31.3 69.9h.3M31.9 69.8h.3M32.3 66.1h.3M31.5 69.9h.3M29.7 67.6h.3M29.9 68.8h.3M29.9 66.9h.3M32.0 69.7h.3M32.6 69.2h.3M30.8 66.0h.3" stroke="rgb(223, 215, 0)" stroke-opacity="1" stroke-width="1.0" stroke-linecap="square" fill="none"/>
<path d="M29.8 68.0h.3M30.6 66.2h.3M31.7 69.8h.3M32.4 66.4h.3M29.8 67.5h.3M33.0 67.9h.3M32.8 68.7h.3M29.9 68.6h.3M30.7 66.2h.3M32.9 67.7h.3M30.1 66.8h.3M32.9 68.2h.3M31.9 69.6h.3" stroke="rgb(230, 213, 0)" stroke-opacity="1" stroke-width="1.0" stroke-linecap="square" fill="none"/>
<path d="M31.5 66.0h.3M31.1 66.1h.3M30.1 67.0h.3M32.8 68.2h.3M30.3 66.9h.3M32.5 68.8h.3M31.0 69.5h.3" stroke="rgb(237, 211, 0)" stroke-opacity="1" stroke-width="1.0" stroke-linecap="square" fill="none"/>
<path d="M31.2 66.2h.3M32.3 69.1h.3M30.0 67.7h.3M32.1 69.3h.3M30.4 66.8h.3M32.7 67.6h.3M30.3 67.0h.3M32.7 68.2h.3M30.8 66.5h.3M32.7 67.6h.3M30.2 67.3h.3M30.2 67.6h.3" stroke="rgb(245, 210, 0)" stroke-opacity="1" stroke-width="1.0" stroke-linecap="square" fill="none"/>
<path d="M31.1 69.3h.3M31.8 69.3h.3M31.8 66.5h.3M32.4 67.0h.3M30.5 66.9h.3M30.9 66.6h.3M30.9 66.6h.3M30.2 67.9h.3M31.3 66.5h.3M30.3 68.4h.3M31.3 66.5h.3" stroke="rgb(246, 198, 0)" stroke-opacity="1" stroke-width="1.0" stroke-linecap="square" fill="none"/>
<path d="M32.3 67.2h.3M32.4 68.4h.3M32.4 67.6h.3M32.4 68.4h.3M31.9 69.0h.3M30.4 68.2h.3M30.4 68.2h.3M31.3 69.0h.3" stroke="rgb(248, 186, 0)" stroke-opacity="1" stroke-width="1.0" stroke-linecap="square" fill="none"/>
<path d="M30.6 67.3h.3M30.6 67.4h.3M30.5 67.9h.3M32.3 67.6h.3M31.4 68.9h.3M30.5 67.8h.3M32.1 67.3h.3M31.6 68.8h.3M32.1 68.4h.3M30.7 68.3h.3M30.7 68.4h.3M30.6 67.9h.3M30.6 68.1h.3M31.6 67.0h.3M31.9 67.2h.3M31.9 68.5h.3M32.1 67.5h.3M30.8 67.3h.3M31.1 67.1h.3M32.0 67.4h.3M32.1 67.9h.3" stroke="rgb(250, 175, 0)" stroke-opacity="1" stroke-width="1.0" stroke-linecap="square" fill="none"/>
<path d="M31.1 67.1h.3M30.8 68.2h.3M32.0 68.1h.3M30.8 68.1h.3M32.0 67.8h.3M31.3 68.6h.3M32.0 67.9h.3M31.9 68.0h.3M31.5 68.5h.3M31.7 67.4h.3M30.9 68.1h.3M31.5 67.3h.3M31.9 67.7h.3M31.9 67.8h.3M31.2 68.4h.3M31.1 68.3h.3M31.2 68.4h.3M31.0 68.2h.3M31.7 68.2h.3M31.5 67.4h.3" stroke="rgb(251, 163, 0)" stroke-opacity="1" stroke-width="1.0" stroke-linecap="square" fill="none"/>
<path d="M31.6 68.2h.3M31.1 67.7h.3M31.2 68.2h.3M31.5 67.8h.3M31.4 67.8h.3" stroke="rgb(253, 151, 0)" stroke-opacity="1" stroke-width="1.0" stroke-linecap="square" fill="none"/>
</g>
<line x1="42.9" y1="14.3" x2="42.9" y2="81.1" stroke="#666" stroke-width="1.1"/>
<line x1="21.6" y1="54.8" x2="88.0" y2="54.8" stroke="#666" stroke-width="1.1"/>
<g font-family="Liberation Sans, sans-serif" font-size="5.6" font-weight="bold" fill="#000" stroke="#000" stroke-width="0.15">
<text x="23.8" y="21.5">2.65</text>
<text x="85.0" y="21.5" text-anchor="end">8.33</text>
<text x="23.8" y="79.3">87.5</text>
<text x="85.0" y="79.3" text-anchor="end">1.49</text>
</g>
<rect x="92.1" y="14.3" width="66.4" height="66.8" fill="#fff" stroke="#b8b8b8" stroke-width="0.8"/>
<g filter="url(#soft)">
<path d="M143.9 54.2h.3M125.2 34.8h.3M136.2 71.9h.3M105.4 36.0h.3M133.4 37.3h.3M96.9 38.7h.3M144.0 41.9h.3M138.0 63.9h.3M94.5 40.2h.3M137.6 60.5h.3M142.3 41.1h.3M137.1 39.0h.3" stroke="rgb(120, 120, 245)" stroke-opacity="0.4" stroke-width="0.75" stroke-linecap="square" fill="none"/>
<path d="M137.5 40.2h.3M129.4 52.4h.3M121.3 37.2h.3M97.0 41.4h.3M138.9 41.5h.3M140.5 46.4h.3M131.7 66.1h.3M132.4 59.5h.3M96.9 41.9h.3M132.6 60.7h.3M132.6 39.0h.3M129.4 38.4h.3M120.5 76.7h.3M113.2 37.7h.3M134.5 49.7h.3M121.9 74.2h.3M139.1 42.6h.3M139.9 45.0h.3M138.4 47.4h.3M137.8 47.7h.3" stroke="rgb(112, 114, 243)" stroke-opacity="0.4" stroke-width="0.75" stroke-linecap="square" fill="none"/>
<path d="M127.7 67.9h.3M123.6 52.5h.3M97.4 43.3h.3M113.1 38.3h.3M122.7 52.3h.3M125.5 69.2h.3M129.9 39.1h.3M118.2 38.1h.3M135.3 48.8h.3M96.4 47.5h.3M127.3 57.4h.3M122.4 54.3h.3M128.4 64.6h.3M128.2 59.4h.3M138.6 45.9h.3M103.3 40.5h.3M129.7 50.5h.3M128.5 60.5h.3M108.2 39.3h.3M98.3 43.9h.3M131.2 39.6h.3M100.8 41.8h.3M120.0 52.8h.3M120.2 52.1h.3M126.0 57.8h.3M121.7 51.6h.3M98.3 44.7h.3M106.6 39.9h.3M97.4 48.6h.3M128.4 50.5h.3M125.5 66.4h.3M115.5 38.7h.3" stroke="rgb(105, 109, 242)" stroke-opacity="0.4" stroke-width="0.75" stroke-linecap="square" fill="none"/>
<path d="M123.4 56.5h.3M126.6 59.9h.3M121.1 51.5h.3M119.2 53.7h.3M119.4 51.7h.3M123.9 68.0h.3M132.9 40.5h.3M114.2 78.9h.3M126.4 61.4h.3M99.2 45.4h.3M110.3 39.4h.3M133.4 40.8h.3M106.6 40.3h.3M97.8 49.6h.3M125.4 60.1h.3M101.8 42.3h.3M123.4 57.6h.3M134.8 48.2h.3M117.3 51.7h.3M101.3 42.7h.3M114.5 39.0h.3M106.8 40.4h.3M99.9 45.4h.3M124.4 59.7h.3M124.5 60.1h.3M121.5 56.9h.3M121.0 51.0h.3M122.7 67.7h.3M123.6 59.0h.3M124.8 62.0h.3M100.4 45.0h.3M118.6 73.5h.3M119.4 72.2h.3" stroke="rgb(98, 104, 241)" stroke-opacity="0.4" stroke-width="0.75" stroke-linecap="square" fill="none"/>
<path d="M116.6 53.4h.3M100.4 47.6h.3M127.7 50.2h.3M122.5 67.4h.3M120.8 56.9h.3M135.5 47.3h.3M130.2 40.1h.3M121.9 68.2h.3M120.8 50.9h.3M137.1 44.4h.3M99.1 49.9h.3M115.3 52.5h.3M135.3 47.4h.3M110.4 80.0h.3M101.2 44.9h.3M101.1 46.1h.3M110.7 79.7h.3M102.4 43.3h.3M95.3 76.4h.3M111.6 39.8h.3M101.7 47.3h.3M101.6 45.7h.3M110.0 79.9h.3M92.8 58.2h.3M120.5 69.0h.3M120.3 57.8h.3M102.0 48.4h.3M105.1 41.8h.3" stroke="rgb(90, 99, 240)" stroke-opacity="0.4" stroke-width="0.75" stroke-linecap="square" fill="none"/>
<path d="M102.0 44.9h.3M94.6 55.0h.3M135.1 42.7h.3M98.0 78.6h.3M133.0 48.3h.3M101.0 49.9h.3M95.4 76.1h.3M100.9 49.9h.3M115.8 54.4h.3M111.7 40.0h.3M121.9 62.2h.3M119.5 57.9h.3M102.8 46.7h.3M93.3 57.9h.3M125.6 50.1h.3M104.1 42.8h.3M121.4 61.7h.3M102.7 45.3h.3M118.6 39.5h.3M121.1 65.1h.3M112.1 40.1h.3M94.0 56.8h.3M102.7 49.8h.3M103.9 49.0h.3M125.4 50.0h.3M131.9 41.2h.3" stroke="rgb(84, 94, 240)" stroke-opacity="0.55" stroke-width="0.75" stroke-linecap="square" fill="none"/>
<path d="M94.9 55.7h.3M121.6 39.5h.3M96.4 76.7h.3M107.5 41.4h.3M104.7 48.9h.3M135.4 46.0h.3M135.5 45.8h.3M116.1 55.5h.3M115.0 50.2h.3M93.5 58.5h.3M103.4 45.7h.3M97.4 53.1h.3M119.0 69.1h.3M105.1 80.2h.3M110.4 51.0h.3M118.5 58.1h.3M105.9 42.2h.3M133.2 42.0h.3M131.4 48.6h.3M135.6 45.2h.3M117.0 39.7h.3M110.9 51.6h.3M95.0 74.9h.3M105.2 42.8h.3M105.4 48.4h.3M94.1 57.4h.3M107.5 41.6h.3M104.1 43.8h.3M97.3 77.4h.3M99.6 78.9h.3M117.9 39.7h.3M94.3 73.6h.3M118.8 39.6h.3M109.4 41.0h.3M120.3 63.7h.3M119.3 59.9h.3M114.8 40.0h.3M102.2 50.9h.3M111.3 49.8h.3M118.0 70.3h.3M104.4 50.4h.3" stroke="rgb(81, 93, 240)" stroke-opacity="0.55" stroke-width="0.75" stroke-linecap="square" fill="none"/>
<path d="M114.3 49.9h.3M113.0 53.7h.3M106.9 48.5h.3M119.8 65.1h.3M115.2 74.3h.3M114.6 55.0h.3M94.5 57.5h.3M113.5 76.1h.3M118.5 68.8h.3M96.1 55.2h.3M131.6 48.2h.3M115.2 55.7h.3M130.9 41.3h.3M92.7 67.4h.3M97.0 76.7h.3M104.6 44.9h.3M122.5 39.9h.3M92.7 66.0h.3M115.7 73.2h.3M120.5 39.8h.3M110.7 49.2h.3M96.1 55.6h.3M108.6 51.7h.3M131.7 48.1h.3M115.6 56.5h.3M104.9 51.2h.3M105.7 46.9h.3" stroke="rgb(78, 92, 240)" stroke-opacity="0.55" stroke-width="0.75" stroke-linecap="square" fill="none"/>
<path d="M102.5 51.6h.3M129.9 48.7h.3M115.4 56.5h.3M106.2 47.2h.3M119.2 39.9h.3M99.0 53.2h.3M134.7 45.4h.3M106.7 42.8h.3M117.4 59.0h.3M105.9 51.4h.3M105.1 51.5h.3M93.3 62.4h.3M99.0 77.9h.3M118.8 64.0h.3M111.2 77.3h.3M116.0 49.7h.3M111.6 53.7h.3M130.6 41.4h.3M113.7 49.4h.3M93.2 62.9h.3M107.4 42.5h.3M114.7 56.3h.3M120.7 40.0h.3M133.9 46.3h.3M118.2 67.0h.3M111.0 48.9h.3M114.6 40.4h.3M97.2 55.0h.3" stroke="rgb(75, 90, 240)" stroke-opacity="0.55" stroke-width="0.75" stroke-linecap="square" fill="none"/>
<path d="M126.2 49.4h.3M116.3 71.2h.3M113.8 40.6h.3M102.6 52.1h.3M113.6 55.6h.3M112.6 75.9h.3M114.3 56.2h.3M108.4 42.2h.3M125.9 49.4h.3M115.3 49.4h.3M129.5 48.5h.3M111.5 76.6h.3M109.0 78.1h.3M104.1 79.1h.3M117.7 62.3h.3M120.0 40.2h.3M102.5 78.9h.3M116.7 69.6h.3" stroke="rgb(71, 89, 240)" stroke-opacity="0.55" stroke-width="0.75" stroke-linecap="square" fill="none"/>
<path d="M117.6 40.3h.3M109.9 77.6h.3M131.1 41.9h.3M112.7 41.0h.3M106.3 44.7h.3M114.9 57.4h.3M131.6 42.2h.3M106.4 44.9h.3M112.5 55.3h.3M113.7 40.8h.3M133.9 45.6h.3M112.5 41.1h.3M122.9 40.3h.3M134.0 45.0h.3M134.0 44.7h.3M129.4 41.4h.3M108.9 47.6h.3M106.8 44.2h.3M114.1 73.6h.3M94.4 60.7h.3M117.2 67.0h.3M129.5 41.4h.3M108.1 42.9h.3M117.5 64.4h.3M97.0 56.2h.3M132.1 42.6h.3" stroke="rgb(68, 88, 240)" stroke-opacity="0.55" stroke-width="0.75" stroke-linecap="square" fill="none"/>
<path d="M111.2 76.4h.3M128.9 48.5h.3M131.3 47.6h.3M111.7 75.9h.3M104.5 52.8h.3M97.8 76.2h.3M115.0 58.4h.3M133.3 45.9h.3M133.1 43.6h.3M107.4 53.3h.3M128.8 48.4h.3M110.6 41.9h.3M115.2 71.2h.3M110.6 76.5h.3" stroke="rgb(65, 86, 240)" stroke-opacity="0.55" stroke-width="0.75" stroke-linecap="square" fill="none"/>
<path d="M107.3 45.0h.3M117.3 40.6h.3M112.6 41.4h.3M115.5 40.8h.3M124.8 49.1h.3M94.1 63.3h.3M107.2 53.4h.3M101.5 53.7h.3M112.1 56.0h.3M129.1 41.6h.3M111.6 55.6h.3M122.7 49.3h.3M112.4 41.5h.3M97.0 57.1h.3M116.3 62.1h.3M95.2 72.2h.3M96.1 58.4h.3M109.0 43.0h.3M116.0 61.4h.3M107.8 45.5h.3" stroke="rgb(62, 85, 240)" stroke-opacity="0.55" stroke-width="0.75" stroke-linecap="square" fill="none"/>
<path d="M113.2 41.3h.3M100.5 77.7h.3M116.3 67.2h.3M114.8 59.2h.3M116.2 62.3h.3M123.5 40.7h.3M122.1 40.6h.3M107.9 44.4h.3M132.9 44.1h.3M94.0 66.2h.3M131.9 43.0h.3M95.9 73.3h.3M116.3 64.0h.3M94.2 68.6h.3M108.4 46.1h.3M115.2 60.4h.3M105.8 78.2h.3M113.0 41.5h.3M116.8 40.8h.3M108.4 45.9h.3M120.4 49.2h.3" stroke="rgb(59, 84, 240)" stroke-opacity="0.55" stroke-width="0.75" stroke-linecap="square" fill="none"/>
<path d="M108.6 43.8h.3M116.0 62.9h.3M116.1 66.4h.3M94.2 65.2h.3M114.5 71.1h.3M98.1 75.9h.3M101.7 54.3h.3M107.8 77.5h.3M132.8 44.9h.3M128.4 48.2h.3M102.6 54.1h.3M115.3 41.1h.3M119.3 40.7h.3M96.0 59.5h.3M100.9 54.7h.3M115.1 69.3h.3" stroke="rgb(56, 82, 240)" stroke-opacity="0.55" stroke-width="0.75" stroke-linecap="square" fill="none"/>
<path d="M132.7 45.0h.3M116.3 48.8h.3M109.0 43.7h.3M126.4 48.6h.3M118.4 40.8h.3M109.1 76.7h.3M95.2 71.4h.3M115.0 69.1h.3M124.3 41.0h.3M105.0 54.2h.3" stroke="rgb(53, 81, 240)" stroke-opacity="0.55" stroke-width="0.75" stroke-linecap="square" fill="none"/>
<path d="M124.8 41.1h.3M110.1 75.9h.3M116.1 48.7h.3M106.6 77.6h.3M105.1 54.3h.3M114.6 69.4h.3M115.8 41.2h.3M122.5 48.9h.3M109.1 55.4h.3M95.5 61.4h.3M121.3 49.0h.3M112.6 42.0h.3M106.2 54.6h.3M106.9 54.7h.3M103.0 54.6h.3" stroke="rgb(50, 80, 240)" stroke-opacity="0.75" stroke-width="0.75" stroke-linecap="square" fill="none"/>
<path d="M94.7 68.0h.3M132.1 45.6h.3M129.3 47.6h.3M103.9 54.6h.3M114.9 62.8h.3M115.2 65.9h.3M132.1 44.9h.3M104.6 54.6h.3M121.2 48.9h.3M110.3 46.5h.3M120.5 48.9h.3M114.5 69.0h.3" stroke="rgb(49, 81, 239)" stroke-opacity="0.75" stroke-width="0.75" stroke-linecap="square" fill="none"/>
<path d="M96.2 60.4h.3M113.2 47.8h.3M115.0 64.6h.3M112.8 58.9h.3M96.4 73.0h.3M128.6 42.1h.3M114.9 64.4h.3M111.1 42.9h.3M116.1 41.4h.3M114.8 64.1h.3M125.5 41.4h.3M131.7 44.2h.3M111.5 57.8h.3M112.3 73.0h.3M108.2 76.6h.3M109.6 45.1h.3M112.0 58.3h.3M114.5 48.1h.3M100.8 77.0h.3" stroke="rgb(48, 82, 239)" stroke-opacity="0.75" stroke-width="0.75" stroke-linecap="square" fill="none"/>
<path d="M106.7 55.2h.3M114.8 66.3h.3M114.0 69.6h.3M108.5 55.8h.3M111.2 74.3h.3M104.7 55.0h.3M111.0 43.1h.3M110.5 46.4h.3M113.2 71.4h.3M108.7 55.9h.3M101.6 55.6h.3M114.7 66.2h.3M113.5 70.8h.3M120.3 41.1h.3M127.5 41.9h.3M124.6 41.3h.3M126.5 41.7h.3M116.1 48.3h.3M110.3 46.0h.3M112.6 72.1h.3M108.8 56.2h.3M111.1 43.2h.3" stroke="rgb(48, 83, 239)" stroke-opacity="0.75" stroke-width="0.75" stroke-linecap="square" fill="none"/>
<path d="M125.2 41.5h.3M114.6 41.8h.3M101.6 55.8h.3M114.6 65.2h.3M95.6 62.8h.3M129.5 42.7h.3M124.8 48.4h.3M114.2 68.1h.3M119.2 41.2h.3M104.0 55.3h.3M112.2 59.1h.3M110.5 57.4h.3M111.1 57.9h.3M110.1 45.1h.3M110.8 43.6h.3M130.9 46.2h.3M111.6 43.0h.3M106.3 77.1h.3M129.0 42.5h.3M111.2 43.3h.3M114.9 41.9h.3M111.3 73.6h.3M102.5 55.7h.3M101.3 56.2h.3M117.5 41.4h.3M95.1 67.2h.3M115.7 48.1h.3M122.2 48.6h.3M114.1 67.3h.3M95.1 67.4h.3M109.6 75.3h.3M131.3 44.7h.3M111.2 43.5h.3M95.4 69.2h.3M130.9 43.9h.3M127.6 42.1h.3M111.8 72.9h.3M109.4 56.9h.3M113.9 68.1h.3M130.9 45.9h.3M114.2 66.3h.3M111.9 72.6h.3M113.1 61.0h.3M112.3 72.1h.3M105.2 55.6h.3M110.5 44.6h.3M106.6 55.8h.3M125.5 41.7h.3M126.7 41.9h.3M112.8 60.6h.3M99.9 57.2h.3M99.2 57.7h.3M111.1 46.1h.3M130.3 43.5h.3M114.0 66.6h.3M106.4 55.9h.3M110.5 74.3h.3M95.4 65.0h.3M113.6 62.9h.3M126.1 41.9h.3M127.3 47.7h.3M111.2 58.8h.3M126.0 41.9h.3M117.6 48.2h.3M120.2 41.4h.3M110.9 44.5h.3" stroke="rgb(47, 85, 239)" stroke-opacity="0.75" stroke-width="0.75" stroke-linecap="square" fill="none"/>
<path d="M120.6 41.4h.3M110.9 45.1h.3M113.3 62.4h.3M97.1 60.6h.3M107.4 56.5h.3M113.7 64.3h.3M113.6 63.8h.3M111.4 46.0h.3M111.0 45.4h.3M111.1 45.3h.3M105.3 77.0h.3M111.3 59.2h.3M113.7 47.3h.3M115.6 47.8h.3M108.5 57.1h.3M112.5 70.8h.3M102.6 56.4h.3M111.5 59.6h.3M113.2 68.7h.3M110.3 58.4h.3M102.4 56.5h.3M124.3 41.7h.3M111.3 45.5h.3M110.7 58.8h.3M128.9 43.0h.3M97.1 60.9h.3M116.0 42.0h.3M116.5 41.9h.3M130.0 46.1h.3M129.1 46.8h.3M127.6 47.4h.3M127.7 47.4h.3M111.3 45.1h.3M121.5 41.6h.3M120.3 41.6h.3M130.3 45.7h.3M113.4 66.9h.3M118.5 48.2h.3M126.2 42.1h.3M113.3 66.9h.3M124.6 41.9h.3M127.5 47.4h.3M111.9 43.9h.3M104.7 56.4h.3M124.3 41.8h.3M112.0 43.8h.3M126.5 42.2h.3M119.6 41.7h.3M103.2 76.8h.3M102.4 56.8h.3M130.0 45.8h.3M104.1 56.5h.3M128.0 47.1h.3M118.1 48.1h.3M111.7 44.4h.3M128.0 47.1h.3M112.0 71.1h.3M109.0 75.0h.3M128.9 43.2h.3M111.4 60.3h.3M112.8 68.9h.3M125.3 42.1h.3M100.2 58.0h.3M112.1 44.1h.3M111.8 44.9h.3M115.5 42.3h.3M115.3 42.4h.3M114.0 42.8h.3M111.9 44.5h.3M120.2 41.7h.3M108.2 75.4h.3M129.8 44.1h.3M95.7 66.4h.3M112.4 70.0h.3M118.8 41.8h.3M113.7 43.0h.3M106.0 56.8h.3M126.3 47.6h.3M102.5 76.6h.3M112.5 69.7h.3M114.4 47.1h.3M104.8 76.7h.3M117.6 42.0h.3M128.2 43.0h.3M114.3 47.1h.3M128.5 46.7h.3M109.9 58.8h.3M116.5 42.2h.3M117.5 47.9h.3M100.2 58.1h.3M106.5 57.0h.3M110.7 59.7h.3M114.6 42.7h.3M112.9 43.5h.3M119.0 48.0h.3M97.0 61.8h.3M111.9 61.5h.3M118.6 48.0h.3M112.7 68.2h.3M124.3 47.9h.3M115.0 42.6h.3M101.8 57.4h.3M114.2 42.9h.3M112.2 45.5h.3M99.4 75.0h.3M104.7 76.6h.3" stroke="rgb(43, 93, 237)" stroke-opacity="0.75" stroke-width="0.75" stroke-linecap="square" fill="none"/>
<path d="M118.5 47.9h.3M121.0 48.0h.3M101.7 57.5h.3M129.6 45.7h.3M100.1 58.4h.3M129.1 46.1h.3M112.7 67.7h.3M112.3 62.8h.3M122.9 48.0h.3M112.2 44.7h.3M112.2 62.7h.3M108.9 74.7h.3M119.3 48.0h.3M124.9 42.2h.3M109.8 59.2h.3M96.0 68.4h.3M110.6 60.0h.3M109.4 58.9h.3M96.1 69.0h.3M108.2 75.1h.3M109.5 59.0h.3M101.6 76.1h.3M122.9 47.9h.3M101.4 57.8h.3M109.0 58.6h.3M128.2 46.6h.3M113.6 43.4h.3M108.7 74.8h.3M127.4 46.9h.3M119.6 47.9h.3M121.3 47.9h.3M125.8 42.4h.3M96.0 66.7h.3M113.5 46.3h.3M96.5 63.8h.3M106.7 75.8h.3M113.9 43.4h.3M112.4 64.6h.3M102.7 76.3h.3M108.0 58.3h.3M111.5 61.8h.3M123.8 42.1h.3M112.7 45.2h.3M103.1 57.4h.3M124.9 42.3h.3M117.4 47.6h.3M96.4 69.7h.3M111.3 71.2h.3M108.4 58.6h.3M104.8 76.3h.3M108.5 58.7h.3M114.2 46.6h.3M118.7 42.1h.3M105.7 76.1h.3M112.9 44.4h.3M107.8 58.3h.3M101.6 75.9h.3M114.0 46.4h.3M114.4 46.6h.3M118.9 42.2h.3M127.9 43.4h.3M108.6 74.5h.3M109.5 59.6h.3M104.2 57.6h.3M125.3 42.5h.3M97.2 62.7h.3M113.3 45.7h.3M129.0 44.7h.3M118.6 47.6h.3M107.1 75.4h.3M128.9 44.5h.3M99.5 74.6h.3M105.8 57.8h.3M106.0 57.8h.3M114.2 43.5h.3M124.0 47.5h.3M103.9 76.2h.3M128.8 45.5h.3M108.7 74.3h.3M128.7 45.7h.3" stroke="rgb(39, 101, 236)" stroke-opacity="0.75" stroke-width="0.75" stroke-linecap="square" fill="none"/>
<path d="M113.3 44.6h.3M98.6 73.6h.3M124.5 42.5h.3M108.0 74.8h.3M113.7 45.8h.3M115.3 46.8h.3M100.3 59.0h.3M109.5 60.0h.3M112.1 65.9h.3M111.4 70.3h.3M111.9 64.3h.3M110.8 71.5h.3M114.5 43.5h.3M115.9 46.9h.3M114.0 43.9h.3M114.9 46.6h.3M105.0 76.0h.3M128.7 44.6h.3M114.1 46.0h.3M114.9 46.5h.3M128.7 45.2h.3M113.5 45.0h.3M117.3 42.6h.3M112.0 66.3h.3M104.7 57.9h.3M107.1 58.5h.3M103.4 58.0h.3M97.8 72.4h.3M125.3 47.1h.3M116.4 42.9h.3M111.2 62.8h.3M109.3 60.1h.3M111.9 66.8h.3M127.7 43.8h.3M127.1 43.4h.3M99.8 59.7h.3M103.5 58.1h.3M111.0 70.8h.3M114.1 45.8h.3M124.9 42.7h.3M127.0 43.4h.3M124.1 47.3h.3M118.4 42.5h.3M109.0 60.0h.3M120.9 47.5h.3M126.1 43.1h.3M102.3 58.4h.3M123.1 47.4h.3M128.3 45.1h.3M97.4 63.0h.3M109.8 72.7h.3M114.4 45.9h.3M127.9 45.9h.3M116.2 43.1h.3M107.5 59.0h.3M100.6 59.2h.3M125.7 43.0h.3M105.0 75.8h.3M124.1 42.6h.3M127.9 45.7h.3M111.3 63.7h.3M127.7 46.0h.3M122.3 47.4h.3M99.3 60.3h.3M116.6 43.0h.3M122.1 42.5h.3M99.2 74.0h.3M115.0 46.2h.3M127.6 45.9h.3M110.3 61.8h.3M115.8 43.3h.3M109.9 61.2h.3M108.4 59.7h.3M114.8 43.8h.3M114.2 44.7h.3M105.5 58.4h.3M110.2 61.7h.3M116.3 43.2h.3" stroke="rgb(35, 110, 235)" stroke-opacity="0.9" stroke-width="1.0" stroke-linecap="square" fill="none"/>
<path d="M108.2 59.7h.3M126.7 43.5h.3M110.9 70.4h.3M115.7 46.4h.3M106.0 58.6h.3M126.5 46.5h.3M114.4 44.6h.3M114.9 45.9h.3M110.8 63.1h.3M106.4 75.2h.3M105.0 75.6h.3M115.4 43.7h.3M118.8 47.2h.3M115.1 43.8h.3M122.0 47.3h.3M114.5 44.4h.3M117.1 46.9h.3M114.7 44.2h.3M111.5 67.6h.3M114.6 44.5h.3M123.9 42.8h.3M115.4 46.1h.3M119.3 42.7h.3M114.5 44.7h.3M111.4 66.0h.3M125.8 46.6h.3M111.0 69.7h.3M127.2 45.8h.3M122.8 42.7h.3M117.7 46.9h.3M116.8 43.2h.3M96.9 69.3h.3M126.9 46.0h.3M98.5 61.8h.3M120.1 42.7h.3M114.6 45.0h.3M122.2 42.7h.3M111.4 67.5h.3M110.5 62.8h.3M110.0 71.7h.3M106.9 59.3h.3M114.8 44.8h.3M97.2 64.6h.3M116.1 43.6h.3M116.1 46.3h.3M100.2 60.1h.3M118.0 46.9h.3M117.5 46.7h.3M106.5 59.2h.3M124.8 46.7h.3M111.2 67.6h.3M97.3 64.3h.3M97.0 69.2h.3M102.8 59.0h.3M117.1 43.3h.3M127.2 45.0h.3M126.4 46.0h.3M96.9 67.9h.3M109.3 61.3h.3" stroke="rgb(30, 120, 230)" stroke-opacity="0.9" stroke-width="1.0" stroke-linecap="square" fill="none"/>
<path d="M103.6 58.9h.3M103.2 59.0h.3M125.8 43.6h.3M121.1 47.1h.3M110.0 62.5h.3M108.5 60.6h.3M110.4 63.4h.3M124.2 43.1h.3M121.4 47.1h.3M124.2 46.7h.3M115.3 44.6h.3M116.8 43.5h.3M109.2 61.4h.3M111.1 66.3h.3M99.8 60.7h.3M115.8 45.7h.3M119.1 46.9h.3M126.6 45.6h.3M109.5 61.9h.3M97.1 68.9h.3M118.8 43.1h.3M108.1 73.6h.3M109.8 62.5h.3M117.2 43.5h.3M120.3 43.0h.3M104.4 75.3h.3M119.3 46.8h.3M122.8 46.9h.3M116.3 45.9h.3M126.8 44.9h.3M108.8 61.1h.3M116.8 46.2h.3M108.1 60.5h.3M118.6 43.2h.3M123.0 46.8h.3M107.7 74.0h.3M99.9 60.7h.3M103.6 59.1h.3M110.1 63.2h.3M119.3 46.8h.3M97.8 63.7h.3M120.4 43.0h.3M115.9 45.4h.3M126.4 44.5h.3M124.4 46.5h.3M116.4 45.9h.3M116.1 44.2h.3M121.2 46.9h.3M117.5 43.5h.3M97.1 67.2h.3M110.9 66.5h.3M121.8 46.9h.3M104.2 59.2h.3M109.0 72.6h.3M119.9 43.1h.3M124.4 46.5h.3M122.0 43.1h.3M117.9 46.4h.3M117.3 46.2h.3M116.1 45.5h.3M121.5 46.8h.3M110.7 65.1h.3M110.8 66.0h.3M97.2 66.5h.3M99.9 60.9h.3M116.2 45.5h.3M118.0 46.4h.3M119.6 46.7h.3M116.3 45.6h.3M100.0 60.8h.3M123.3 46.6h.3M103.5 59.3h.3M105.1 59.4h.3M105.9 74.8h.3" stroke="rgb(26, 130, 226)" stroke-opacity="0.9" stroke-width="1.0" stroke-linecap="square" fill="none"/>
<path d="M110.8 67.1h.3M100.5 60.5h.3M97.2 66.8h.3M123.9 43.4h.3M121.0 43.1h.3M108.4 61.1h.3M118.8 43.3h.3M123.4 43.3h.3M97.7 64.4h.3M97.2 66.9h.3M118.4 46.5h.3M126.0 45.5h.3M110.8 66.7h.3M116.9 45.9h.3M121.2 46.7h.3M106.1 74.7h.3M117.8 46.2h.3M107.2 60.3h.3M122.3 43.3h.3M116.8 44.2h.3M124.7 43.8h.3M97.8 64.2h.3M108.8 61.7h.3M97.6 65.0h.3M117.8 46.2h.3M124.9 46.1h.3M116.4 45.2h.3M116.4 45.2h.3M110.2 64.1h.3M120.8 43.3h.3M122.5 46.6h.3M110.2 69.7h.3M125.8 44.6h.3M125.8 45.3h.3M97.6 69.9h.3M124.7 46.0h.3M97.3 67.1h.3M97.6 65.2h.3M117.1 45.7h.3M98.1 63.7h.3M110.4 69.1h.3M102.2 74.8h.3M101.7 60.1h.3M105.2 59.7h.3M119.5 46.4h.3M104.3 75.0h.3M118.4 46.2h.3M118.1 43.8h.3M108.9 62.1h.3M121.0 46.5h.3M125.6 44.8h.3M108.5 61.6h.3M117.9 46.0h.3M121.2 43.4h.3M107.6 60.8h.3M118.1 46.0h.3M110.0 64.2h.3M119.2 46.3h.3M118.8 46.2h.3M106.2 60.1h.3" stroke="rgb(22, 141, 222)" stroke-opacity="0.9" stroke-width="1.0" stroke-linecap="square" fill="none"/>
<path d="M107.9 61.1h.3M124.7 44.1h.3M97.5 69.0h.3M97.6 65.8h.3M99.1 62.2h.3M118.9 46.2h.3M122.4 46.4h.3M117.1 44.9h.3M108.6 61.9h.3M103.3 59.8h.3M117.4 44.5h.3M117.3 44.6h.3M110.3 65.6h.3M124.3 44.0h.3M121.8 43.5h.3M107.7 61.1h.3M122.1 43.6h.3M106.8 60.5h.3M117.4 44.6h.3M110.0 69.8h.3M124.7 45.5h.3M124.9 45.3h.3M109.4 71.1h.3M102.7 74.7h.3M102.5 60.0h.3M109.0 62.7h.3M118.1 45.6h.3M119.1 43.9h.3M123.1 46.1h.3M98.9 62.7h.3M123.4 43.9h.3M103.7 59.9h.3M122.2 46.2h.3M117.7 45.1h.3M107.3 61.0h.3M119.5 43.9h.3M124.7 45.2h.3M108.0 72.9h.3M122.4 46.1h.3M105.0 60.0h.3M124.6 45.2h.3M119.4 46.0h.3M118.4 45.6h.3M118.3 45.5h.3M102.6 60.2h.3M118.7 44.2h.3M123.3 45.9h.3M110.2 68.0h.3M124.5 44.9h.3M124.5 45.0h.3M110.1 68.7h.3M100.2 61.5h.3M99.1 62.7h.3M102.2 74.5h.3M118.8 44.2h.3M119.3 44.0h.3M118.6 44.3h.3" stroke="rgb(18, 151, 218)" stroke-opacity="0.9" stroke-width="1.0" stroke-linecap="square" fill="none"/>
<path d="M107.2 61.0h.3M120.6 43.9h.3M118.1 45.0h.3M119.2 44.1h.3M110.2 66.8h.3M123.7 44.4h.3M98.8 71.6h.3M121.7 43.9h.3M108.1 72.6h.3M118.4 44.9h.3M122.8 44.1h.3M99.1 72.1h.3M99.0 72.0h.3M104.1 74.6h.3M108.9 63.0h.3M119.0 45.5h.3M123.9 44.7h.3M123.4 44.4h.3M103.6 60.1h.3M120.6 45.9h.3M122.7 45.7h.3M121.6 44.0h.3M118.9 45.4h.3M103.2 74.6h.3M122.2 44.1h.3M122.0 45.8h.3M109.3 63.7h.3M123.1 45.5h.3M101.8 60.6h.3M119.0 44.6h.3M122.9 44.3h.3M121.1 44.1h.3M97.7 67.9h.3M110.0 67.3h.3M99.8 62.1h.3M122.7 44.3h.3M123.0 44.4h.3M121.7 45.7h.3M104.2 60.2h.3M107.7 61.7h.3M120.1 44.3h.3M120.9 44.2h.3M121.2 44.2h.3M119.2 45.0h.3M123.1 44.7h.3M119.3 44.8h.3M119.7 44.5h.3M108.7 62.9h.3M119.8 44.5h.3M122.6 45.5h.3M108.4 62.5h.3M119.8 45.4h.3M121.7 44.3h.3M122.3 44.4h.3M100.5 61.6h.3M123.0 44.8h.3M100.6 73.4h.3M99.8 72.7h.3" stroke="rgb(15, 160, 213)" stroke-opacity="1" stroke-width="1.0" stroke-linecap="square" fill="none"/>
<path d="M120.5 45.5h.3M122.6 45.3h.3M119.5 45.0h.3M120.3 45.5h.3M119.6 44.9h.3M119.7 44.8h.3M121.5 45.5h.3M99.3 72.1h.3M119.8 45.1h.3M120.4 45.4h.3M107.6 72.9h.3M122.6 44.9h.3M122.6 44.8h.3M120.1 45.2h.3M97.9 67.0h.3M120.8 45.4h.3M122.0 44.6h.3M121.6 44.5h.3M120.1 44.9h.3M120.2 44.8h.3M122.1 44.7h.3M120.2 45.1h.3M98.5 64.4h.3M121.8 44.7h.3M121.6 45.3h.3M109.9 66.9h.3M120.6 44.8h.3M121.2 45.2h.3M121.9 45.0h.3M109.8 68.1h.3M102.0 60.8h.3M108.9 63.5h.3M109.1 70.6h.3M109.8 67.6h.3M107.6 62.0h.3M109.5 65.1h.3M98.1 69.1h.3M103.9 60.5h.3M98.5 64.6h.3M100.8 61.6h.3" stroke="rgb(15, 165, 204)" stroke-opacity="1" stroke-width="1.0" stroke-linecap="square" fill="none"/>
<path d="M100.6 61.8h.3M101.6 61.2h.3M101.4 61.3h.3M108.3 71.7h.3M109.6 66.5h.3M104.4 60.7h.3M98.5 64.9h.3M99.5 63.1h.3M109.4 65.5h.3M108.3 63.1h.3M109.4 65.9h.3M104.6 74.1h.3M103.2 60.9h.3M107.5 72.4h.3" stroke="rgb(16, 170, 195)" stroke-opacity="1" stroke-width="1.0" stroke-linecap="square" fill="none"/>
<path d="M102.2 61.1h.3M101.7 61.4h.3M109.3 69.2h.3M108.1 63.1h.3M98.4 65.8h.3M106.5 73.2h.3M99.6 63.2h.3M100.4 62.3h.3M106.2 73.4h.3M108.2 63.3h.3M98.9 64.5h.3M98.2 67.2h.3M98.7 70.2h.3M108.8 70.5h.3M108.9 64.7h.3M98.3 68.3h.3M99.1 64.1h.3M107.2 72.6h.3M108.8 70.3h.3M108.6 64.1h.3M108.9 64.8h.3" stroke="rgb(17, 175, 186)" stroke-opacity="1" stroke-width="1.0" stroke-linecap="square" fill="none"/>
<path d="M108.7 64.4h.3M106.9 62.1h.3M100.3 72.5h.3M107.3 62.5h.3M103.0 73.8h.3M101.9 73.5h.3M107.7 71.9h.3M109.3 66.9h.3M107.9 71.6h.3M98.8 65.0h.3M107.2 62.5h.3M101.3 73.2h.3M109.2 68.3h.3M104.4 73.8h.3M102.0 61.6h.3M99.4 64.0h.3M106.8 62.2h.3M103.7 61.2h.3M105.8 73.3h.3M98.5 67.6h.3M100.8 62.4h.3" stroke="rgb(17, 180, 177)" stroke-opacity="1" stroke-width="1.0" stroke-linecap="square" fill="none"/>
<path d="M104.9 73.6h.3M103.5 73.7h.3M103.9 61.3h.3M109.0 66.0h.3M105.3 61.6h.3M101.3 73.0h.3M99.7 71.5h.3M98.6 66.4h.3M108.5 64.7h.3M108.6 70.0h.3M99.9 63.5h.3M99.5 64.1h.3M108.6 64.9h.3M98.9 69.7h.3M104.9 73.5h.3M100.0 63.3h.3M106.9 62.7h.3" stroke="rgb(18, 185, 168)" stroke-opacity="1" stroke-width="1.0" stroke-linecap="square" fill="none"/>
<path d="M108.9 66.6h.3M102.4 73.4h.3M105.0 73.4h.3M106.1 62.2h.3M103.9 73.6h.3M105.2 61.7h.3M99.7 71.2h.3M107.9 63.9h.3M99.5 64.4h.3M108.0 64.1h.3M103.0 61.7h.3M102.5 61.8h.3M108.4 70.1h.3M108.2 64.6h.3M99.4 64.6h.3M100.8 62.8h.3M101.4 72.8h.3M108.8 67.1h.3M99.6 70.9h.3M107.6 71.4h.3" stroke="rgb(19, 190, 159)" stroke-opacity="1" stroke-width="1.0" stroke-linecap="square" fill="none"/>
<path d="M108.6 65.7h.3M107.3 71.6h.3M108.7 66.6h.3M108.7 66.2h.3M101.7 72.9h.3M101.9 72.9h.3M108.7 67.9h.3M101.9 72.9h.3M105.7 72.9h.3M107.0 71.9h.3M102.6 73.2h.3M105.2 73.1h.3M107.0 63.1h.3M100.3 71.7h.3M100.5 71.9h.3M108.7 68.0h.3M104.2 61.9h.3M105.6 72.9h.3" stroke="rgb(20, 195, 150)" stroke-opacity="1" stroke-width="1.0" stroke-linecap="square" fill="none"/>
<path d="M103.8 61.9h.3M99.0 66.2h.3M99.9 64.1h.3M107.0 63.3h.3M108.4 69.1h.3M99.2 65.7h.3M102.9 73.1h.3M99.0 67.8h.3M105.2 72.9h.3M104.3 62.0h.3M99.5 70.2h.3M108.0 64.8h.3M105.6 62.4h.3M107.3 71.3h.3M105.9 62.6h.3" stroke="rgb(25, 196, 140)" stroke-opacity="1" stroke-width="1.0" stroke-linecap="square" fill="none"/>
<path d="M107.1 71.5h.3M107.5 64.1h.3M99.0 67.9h.3M100.8 63.3h.3M99.4 65.5h.3M102.5 62.3h.3M108.2 65.7h.3M99.9 64.5h.3M101.5 72.4h.3M108.1 69.5h.3M107.0 71.4h.3M106.7 63.4h.3" stroke="rgb(31, 198, 130)" stroke-opacity="1" stroke-width="1.0" stroke-linecap="square" fill="none"/>
<path d="M101.4 72.3h.3M107.6 70.4h.3M101.8 62.8h.3M100.2 71.0h.3M106.5 71.9h.3M108.3 68.0h.3M99.4 66.0h.3M108.3 66.9h.3M104.6 62.4h.3" stroke="rgb(36, 200, 120)" stroke-opacity="1" stroke-width="1.0" stroke-linecap="square" fill="none"/>
<path d="M101.2 63.4h.3M107.3 70.8h.3M104.9 62.6h.3M104.3 72.7h.3M100.9 71.6h.3M99.4 67.6h.3M103.2 62.5h.3M100.8 71.4h.3M108.1 66.6h.3M99.9 65.2h.3M108.0 69.0h.3M101.1 71.7h.3" stroke="rgb(42, 201, 110)" stroke-opacity="1" stroke-width="1.0" stroke-linecap="square" fill="none"/>
<path d="M108.1 67.4h.3M99.4 67.6h.3M102.7 62.7h.3M107.9 69.1h.3M100.3 64.7h.3M101.0 63.8h.3M99.5 68.7h.3M107.9 66.4h.3M107.9 66.5h.3M105.4 63.1h.3M104.2 72.5h.3" stroke="rgb(47, 203, 99)" stroke-opacity="1" stroke-width="1.0" stroke-linecap="square" fill="none"/>
<path d="M108.0 67.4h.3M99.5 67.9h.3M103.3 62.7h.3M108.0 67.2h.3M100.9 71.3h.3M100.7 64.2h.3M105.7 71.9h.3M101.8 63.3h.3M103.2 72.5h.3M103.5 62.8h.3M102.6 63.0h.3M103.5 62.8h.3M100.2 70.2h.3M105.8 63.5h.3" stroke="rgb(53, 205, 90)" stroke-opacity="1" stroke-width="1.0" stroke-linecap="square" fill="none"/>
<path d="M100.0 65.6h.3M102.2 72.1h.3M102.7 63.0h.3M107.4 65.5h.3M107.5 65.7h.3M102.9 72.3h.3M99.7 67.8h.3M104.0 62.9h.3M107.7 66.5h.3M104.6 72.3h.3M106.7 64.4h.3M101.0 71.2h.3M104.5 72.3h.3M100.3 65.1h.3M107.5 69.3h.3M99.7 68.3h.3M100.7 64.6h.3M100.6 70.6h.3" stroke="rgb(58, 206, 79)" stroke-opacity="1" stroke-width="1.0" stroke-linecap="square" fill="none"/>
<path d="M105.2 63.3h.3M107.0 70.3h.3M100.0 69.3h.3M104.1 72.3h.3M103.7 72.3h.3M99.8 66.7h.3M101.0 71.1h.3M100.7 64.7h.3M101.1 64.2h.3M103.7 63.1h.3M103.0 63.1h.3M100.9 70.8h.3M101.6 71.6h.3M103.7 72.2h.3M100.2 65.6h.3M101.9 63.7h.3M107.1 69.9h.3M101.1 64.3h.3M105.5 71.7h.3" stroke="rgb(64, 208, 70)" stroke-opacity="1" stroke-width="1.0" stroke-linecap="square" fill="none"/>
<path d="M100.2 65.7h.3M100.8 70.7h.3M100.4 70.1h.3M107.1 69.7h.3M104.5 72.1h.3M107.6 67.6h.3M102.8 63.3h.3M100.8 64.9h.3M100.6 70.3h.3M106.3 64.4h.3M103.8 72.1h.3M107.0 69.9h.3M107.5 68.3h.3M104.0 63.3h.3M104.5 72.0h.3M102.7 63.4h.3" stroke="rgb(70, 210, 60)" stroke-opacity="1" stroke-width="1.0" stroke-linecap="square" fill="none"/>
<path d="M107.3 66.2h.3M100.0 67.0h.3M107.5 67.3h.3M107.5 67.4h.3M106.9 70.0h.3M100.0 68.1h.3M102.2 63.7h.3M103.7 72.0h.3M100.3 69.2h.3M106.9 65.5h.3M104.6 63.5h.3M100.8 65.1h.3" stroke="rgb(79, 211, 55)" stroke-opacity="1" stroke-width="1.0" stroke-linecap="square" fill="none"/>
<path d="M100.1 67.4h.3M104.0 63.4h.3M105.4 71.4h.3M100.1 67.4h.3M101.5 64.4h.3M106.9 69.7h.3M107.3 67.3h.3M105.8 64.2h.3M102.0 64.0h.3M107.2 68.6h.3M106.4 70.3h.3M102.8 63.7h.3" stroke="rgb(88, 212, 50)" stroke-opacity="1" stroke-width="1.0" stroke-linecap="square" fill="none"/>
<path d="M105.0 71.5h.3M100.2 67.8h.3M105.0 71.5h.3M106.1 70.7h.3M100.8 70.0h.3M106.4 65.0h.3M105.6 71.1h.3M107.1 68.6h.3M101.8 64.3h.3M104.0 71.7h.3M100.7 65.7h.3M102.9 71.6h.3M106.7 65.6h.3" stroke="rgb(97, 213, 45)" stroke-opacity="1" stroke-width="1.0" stroke-linecap="square" fill="none"/>
<path d="M101.9 64.3h.3M105.8 70.8h.3M100.3 67.4h.3M100.4 68.7h.3M105.9 70.7h.3M103.3 71.6h.3M107.0 68.6h.3M100.5 69.1h.3M103.2 63.8h.3M102.6 71.4h.3M105.7 70.9h.3M106.8 69.1h.3M107.0 68.1h.3" stroke="rgb(106, 215, 39)" stroke-opacity="1" stroke-width="1.0" stroke-linecap="square" fill="none"/>
<path d="M105.3 71.1h.3M100.4 67.5h.3M100.5 68.3h.3M100.7 66.2h.3M101.8 64.6h.3M107.0 67.7h.3M101.4 70.4h.3M103.9 63.9h.3M103.5 71.5h.3M103.1 71.4h.3M101.7 64.7h.3" stroke="rgb(115, 216, 35)" stroke-opacity="1" stroke-width="1.0" stroke-linecap="square" fill="none"/>
<path d="M103.3 71.4h.3M105.6 70.7h.3M106.9 67.8h.3M103.5 64.0h.3M101.5 70.4h.3M103.6 71.4h.3M104.8 64.2h.3M106.3 69.7h.3M101.0 65.8h.3M104.6 71.2h.3M103.6 71.3h.3M105.3 64.5h.3M106.0 65.2h.3" stroke="rgb(125, 217, 29)" stroke-opacity="1" stroke-width="1.0" stroke-linecap="square" fill="none"/>
<path d="M106.6 69.1h.3M106.7 66.8h.3M106.6 69.0h.3M106.2 69.7h.3M103.0 71.2h.3M101.5 70.1h.3M106.3 69.5h.3M102.7 71.0h.3M106.5 66.2h.3M104.4 64.3h.3" stroke="rgb(134, 218, 25)" stroke-opacity="1" stroke-width="1.0" stroke-linecap="square" fill="none"/>
<path d="M102.1 70.7h.3M102.5 64.5h.3M106.4 69.3h.3M103.8 71.2h.3M106.1 65.7h.3M100.7 68.0h.3M103.4 64.3h.3M106.4 69.1h.3M105.0 64.6h.3M101.1 66.1h.3M106.3 69.1h.3M104.5 64.4h.3M100.8 68.3h.3M103.1 71.0h.3" stroke="rgb(143, 220, 19)" stroke-opacity="1" stroke-width="1.0" stroke-linecap="square" fill="none"/>
<path d="M106.6 67.9h.3M104.1 64.4h.3M104.5 64.5h.3M105.4 70.4h.3M101.7 70.1h.3M103.4 64.4h.3M101.5 69.8h.3M101.2 66.1h.3M100.9 67.3h.3M104.0 64.4h.3M101.0 66.7h.3M103.7 71.0h.3" stroke="rgb(152, 221, 15)" stroke-opacity="1" stroke-width="1.0" stroke-linecap="square" fill="none"/>
<path d="M105.8 69.8h.3M100.9 67.7h.3M104.4 70.8h.3M105.2 70.4h.3M102.1 70.4h.3M101.5 69.6h.3M103.8 70.9h.3M103.3 70.9h.3M105.5 65.3h.3M104.8 70.6h.3M104.1 64.6h.3M101.9 65.4h.3M101.0 68.4h.3M101.5 65.9h.3M105.3 70.3h.3M102.9 64.7h.3" stroke="rgb(161, 222, 10)" stroke-opacity="1" stroke-width="1.0" stroke-linecap="square" fill="none"/>
<path d="M103.3 64.7h.3M105.4 65.3h.3M102.1 65.3h.3M101.2 66.9h.3M106.2 67.0h.3M102.7 64.9h.3M102.7 70.5h.3M105.6 65.7h.3" stroke="rgb(170, 223, 5)" stroke-opacity="1" stroke-width="1.0" stroke-linecap="square" fill="none"/>
<path d="M101.2 67.2h.3M101.7 65.8h.3M102.7 65.0h.3M104.9 65.1h.3M104.9 65.1h.3M101.5 66.2h.3M104.6 70.5h.3M104.7 70.4h.3M106.1 66.9h.3M101.3 67.0h.3M102.8 70.4h.3M102.6 70.3h.3M101.3 67.3h.3M105.1 70.0h.3M105.6 69.5h.3" stroke="rgb(180, 225, 0)" stroke-opacity="1" stroke-width="1.0" stroke-linecap="square" fill="none"/>
<path d="M106.1 68.3h.3M105.1 65.4h.3M104.0 64.9h.3M101.3 67.3h.3M102.6 70.2h.3M101.3 67.4h.3" stroke="rgb(187, 223, 0)" stroke-opacity="1" stroke-width="1.0" stroke-linecap="square" fill="none"/>
<path d="M102.4 70.0h.3M103.9 65.0h.3M101.8 69.3h.3M105.7 69.1h.3M101.7 69.1h.3M106.0 67.5h.3M102.0 69.5h.3M105.0 65.6h.3M105.5 69.4h.3M103.9 65.1h.3M103.5 70.4h.3M102.6 65.5h.3M105.9 67.1h.3M105.9 68.0h.3M105.5 69.3h.3M102.7 70.1h.3" stroke="rgb(194, 221, 0)" stroke-opacity="1" stroke-width="1.0" stroke-linecap="square" fill="none"/>
<path d="M102.3 69.8h.3M105.4 66.1h.3M104.8 70.0h.3M105.7 68.6h.3M102.9 65.4h.3M102.6 65.6h.3M102.0 69.3h.3M102.8 65.5h.3M102.9 65.5h.3" stroke="rgb(201, 220, 0)" stroke-opacity="1" stroke-width="1.0" stroke-linecap="square" fill="none"/>
<path d="M103.7 70.2h.3M105.4 66.3h.3M102.1 66.2h.3M104.2 65.4h.3M105.2 69.3h.3M105.7 67.9h.3M105.5 68.7h.3M102.7 69.8h.3M102.1 69.2h.3M103.0 69.9h.3M101.8 68.4h.3" stroke="rgb(208, 218, 0)" stroke-opacity="1" stroke-width="1.0" stroke-linecap="square" fill="none"/>
<path d="M103.2 65.5h.3M102.6 69.6h.3M101.8 67.3h.3M105.1 66.2h.3M101.8 68.2h.3M105.4 68.7h.3M105.6 68.2h.3M102.2 66.3h.3M105.6 67.8h.3M105.5 67.4h.3" stroke="rgb(216, 216, 0)" stroke-opacity="1" stroke-width="1.0" stroke-linecap="square" fill="none"/>
<path d="M102.2 69.1h.3M105.5 68.1h.3M102.4 69.3h.3M105.1 66.3h.3M105.4 68.2h.3M104.2 65.7h.3M104.1 65.7h.3M105.4 68.0h.3M105.1 66.5h.3M102.5 66.3h.3M102.2 66.8h.3" stroke="rgb(223, 215, 0)" stroke-opacity="1" stroke-width="1.0" stroke-linecap="square" fill="none"/>
<path d="M105.2 66.8h.3M102.4 69.1h.3M103.8 65.8h.3M104.9 69.0h.3M102.5 69.2h.3M105.3 68.2h.3M102.8 69.4h.3M102.9 66.1h.3M105.0 68.8h.3M104.7 66.3h.3M105.2 67.1h.3M102.2 67.1h.3M102.3 68.7h.3M102.3 66.9h.3" stroke="rgb(230, 213, 0)" stroke-opacity="1" stroke-width="1.0" stroke-linecap="square" fill="none"/>
<path d="M104.8 69.0h.3M102.1 67.5h.3M103.8 69.5h.3M105.0 66.8h.3M105.1 68.4h.3M104.5 69.2h.3M102.2 67.5h.3M105.1 68.1h.3M103.9 69.5h.3M103.8 69.5h.3M103.8 66.0h.3M104.0 69.4h.3M103.9 69.5h.3M105.1 67.6h.3M102.8 66.4h.3M105.1 68.2h.3" stroke="rgb(237, 211, 0)" stroke-opacity="1" stroke-width="1.0" stroke-linecap="square" fill="none"/>
<path d="M104.9 66.8h.3M102.7 66.6h.3M104.0 66.2h.3M105.0 67.8h.3M103.5 69.3h.3M102.5 67.0h.3M104.9 68.2h.3M104.9 68.1h.3M103.2 66.4h.3" stroke="rgb(245, 210, 0)" stroke-opacity="1" stroke-width="1.0" stroke-linecap="square" fill="none"/>
<path d="M104.3 66.5h.3M103.3 66.4h.3M103.9 66.4h.3M104.9 68.0h.3M103.9 69.1h.3M102.5 67.9h.3M103.2 69.0h.3M103.4 66.5h.3M103.8 66.4h.3M103.5 66.4h.3M104.1 66.6h.3" stroke="rgb(246, 198, 0)" stroke-opacity="1" stroke-width="1.0" stroke-linecap="square" fill="none"/>
<path d="M102.7 67.2h.3M104.7 67.5h.3M102.8 68.5h.3M104.6 67.3h.3M103.8 68.9h.3M102.9 68.6h.3M104.3 68.6h.3M103.0 68.5h.3M103.0 67.0h.3M102.9 68.3h.3" stroke="rgb(248, 186, 0)" stroke-opacity="1" stroke-width="1.0" stroke-linecap="square" fill="none"/>
<path d="M103.0 68.3h.3M104.0 68.6h.3M103.8 66.8h.3M104.4 68.2h.3M103.9 66.9h.3M103.0 68.0h.3M104.4 67.7h.3M103.2 68.4h.3M103.2 67.1h.3M103.4 67.0h.3M103.6 68.5h.3M103.7 67.0h.3M103.3 67.2h.3M103.4 68.3h.3" stroke="rgb(250, 175, 0)" stroke-opacity="1" stroke-width="1.0" stroke-linecap="square" fill="none"/>
<path d="M103.8 68.3h.3M103.8 68.3h.3M103.6 68.3h.3M103.3 67.6h.3M103.4 67.8h.3M103.6 68.1h.3M103.6 68.1h.3M103.5 68.0h.3M103.4 67.8h.3M103.7 68.0h.3" stroke="rgb(251, 163, 0)" stroke-opacity="1" stroke-width="1.0" stroke-linecap="square" fill="none"/>
</g>
<line x1="113.5" y1="14.3" x2="113.5" y2="81.1" stroke="#666" stroke-width="1.1"/>
<line x1="92.1" y1="54.8" x2="158.5" y2="54.8" stroke="#666" stroke-width="1.1"/>
<g font-family="Liberation Sans, sans-serif" font-size="5.6" font-weight="bold" fill="#000" stroke="#000" stroke-width="0.15">
<text x="94.3" y="21.5">13.4</text>
<text x="155.5" y="21.5" text-anchor="end">14.7</text>
<text x="94.3" y="79.3">67.4</text>
<text x="155.5" y="79.3" text-anchor="end">4.51</text>
</g>
<rect x="162.0" y="14.3" width="66.4" height="66.8" fill="#fff" stroke="#b8b8b8" stroke-width="0.8"/>
<g filter="url(#soft)">
<path d="M213.1 53.6h.3M218.3 47.3h.3M218.5 46.3h.3M205.7 34.2h.3M209.6 70.4h.3M204.9 73.1h.3M200.5 35.2h.3M202.0 35.7h.3" stroke="rgb(120, 120, 245)" stroke-opacity="0.4" stroke-width="0.75" stroke-linecap="square" fill="none"/>
<path d="M208.9 60.7h.3M214.9 43.4h.3M208.6 37.5h.3M214.3 43.7h.3M168.5 39.9h.3M203.4 53.2h.3M206.1 37.7h.3M202.7 52.7h.3M202.4 37.0h.3M212.4 42.0h.3M203.8 37.3h.3M188.5 36.5h.3M206.4 38.3h.3M169.5 40.5h.3M190.0 36.7h.3M181.3 78.3h.3M187.8 74.7h.3" stroke="rgb(112, 114, 243)" stroke-opacity="0.4" stroke-width="0.75" stroke-linecap="square" fill="none"/>
<path d="M210.1 41.0h.3M201.0 37.6h.3M166.1 42.9h.3M191.6 37.0h.3M198.9 37.4h.3M186.9 37.2h.3M178.2 38.6h.3M169.8 41.2h.3M169.6 41.3h.3M202.5 65.6h.3M202.2 58.4h.3M199.0 52.7h.3M210.1 44.8h.3M202.0 58.5h.3M162.7 49.1h.3M199.5 55.5h.3M206.9 39.8h.3M202.5 61.0h.3M165.5 44.4h.3M206.2 39.6h.3M197.5 52.7h.3M164.9 79.7h.3M186.8 38.0h.3M184.9 38.2h.3M193.6 70.1h.3M209.6 42.8h.3" stroke="rgb(105, 109, 242)" stroke-opacity="0.4" stroke-width="0.75" stroke-linecap="square" fill="none"/>
<path d="M188.5 37.9h.3M198.8 67.0h.3M199.2 57.0h.3M163.1 52.6h.3M165.4 79.6h.3M176.2 39.9h.3M200.6 59.4h.3M202.3 49.8h.3M164.8 46.5h.3M196.7 54.8h.3M187.0 73.1h.3M199.0 66.3h.3M182.2 76.0h.3M208.8 45.1h.3M165.1 46.5h.3M163.0 53.9h.3M183.2 75.2h.3M164.9 47.4h.3M193.3 69.4h.3M163.1 53.9h.3M186.5 73.1h.3M163.5 53.4h.3M192.3 69.7h.3M198.3 65.8h.3M165.0 48.7h.3M207.0 46.6h.3M198.0 65.8h.3M165.4 48.7h.3M199.2 61.1h.3M192.9 38.3h.3" stroke="rgb(98, 104, 241)" stroke-opacity="0.4" stroke-width="0.75" stroke-linecap="square" fill="none"/>
<path d="M194.3 54.0h.3M194.3 53.3h.3M196.1 66.7h.3M166.2 46.8h.3M165.6 49.7h.3M193.7 38.5h.3M202.5 49.0h.3M196.5 65.9h.3M194.0 54.5h.3M166.0 48.6h.3M194.3 67.4h.3M205.4 40.6h.3M198.3 61.9h.3M181.5 39.6h.3M201.7 49.2h.3M183.0 74.4h.3M207.1 45.7h.3M198.2 50.5h.3M166.1 50.0h.3M197.9 62.8h.3M195.8 38.7h.3M196.4 58.1h.3M183.2 39.3h.3M188.9 38.7h.3M199.8 49.9h.3M166.5 48.0h.3M187.0 71.6h.3M200.1 49.8h.3M185.0 39.2h.3M168.4 45.0h.3M196.5 64.6h.3M191.8 38.7h.3M207.6 43.5h.3M183.3 73.9h.3M207.0 42.3h.3M196.0 51.2h.3M206.0 46.4h.3M194.7 38.8h.3M197.2 61.9h.3" stroke="rgb(90, 99, 240)" stroke-opacity="0.4" stroke-width="0.75" stroke-linecap="square" fill="none"/>
<path d="M196.7 60.2h.3M196.4 38.9h.3M177.1 77.0h.3M170.7 43.7h.3M207.1 44.8h.3M188.6 69.9h.3M193.9 66.1h.3M193.6 51.9h.3M195.4 64.4h.3M171.7 43.2h.3M199.9 39.5h.3M196.3 62.2h.3M207.1 44.2h.3M163.0 77.4h.3M164.4 55.1h.3M185.9 71.6h.3M192.2 55.2h.3M166.8 52.2h.3M172.5 43.0h.3M199.7 49.5h.3M204.4 47.1h.3M184.2 39.7h.3M180.8 40.3h.3M180.1 75.2h.3M206.7 43.3h.3M205.5 41.8h.3" stroke="rgb(84, 94, 240)" stroke-opacity="0.55" stroke-width="0.75" stroke-linecap="square" fill="none"/>
<path d="M194.0 51.3h.3M169.1 46.0h.3M168.1 48.9h.3M183.9 39.8h.3M181.8 40.2h.3M202.1 48.3h.3M188.8 68.9h.3M198.4 39.6h.3M194.2 59.6h.3M171.8 43.9h.3M187.8 69.5h.3M183.8 72.6h.3M203.6 40.9h.3M193.2 58.2h.3M181.3 40.5h.3M176.6 76.4h.3M175.3 42.2h.3M204.1 46.9h.3M197.4 49.9h.3M186.9 69.9h.3" stroke="rgb(81, 93, 240)" stroke-opacity="0.55" stroke-width="0.75" stroke-linecap="square" fill="none"/>
<path d="M192.7 58.7h.3M203.5 47.2h.3M169.2 48.8h.3M168.8 77.8h.3M169.4 50.0h.3M193.2 39.5h.3M165.0 77.3h.3M192.1 51.4h.3M167.8 53.1h.3M205.8 44.3h.3M205.7 44.1h.3M192.1 58.5h.3M175.3 76.5h.3M195.2 39.6h.3M191.5 64.5h.3M178.2 75.3h.3M192.5 60.1h.3M197.2 39.8h.3M190.1 55.5h.3M186.8 69.3h.3M169.9 48.1h.3" stroke="rgb(78, 92, 240)" stroke-opacity="0.55" stroke-width="0.75" stroke-linecap="square" fill="none"/>
<path d="M166.2 55.0h.3M172.4 44.6h.3M166.0 77.3h.3M170.9 46.1h.3M166.3 55.1h.3M170.5 47.0h.3M170.3 49.0h.3M174.4 43.4h.3M191.6 59.4h.3M186.8 69.0h.3M196.2 39.9h.3M170.8 46.8h.3M191.5 63.0h.3M165.6 56.0h.3M191.4 59.0h.3M171.4 45.8h.3M190.5 64.7h.3M188.3 53.7h.3M204.9 43.2h.3M184.6 70.7h.3M188.2 53.7h.3M170.8 49.2h.3" stroke="rgb(75, 90, 240)" stroke-opacity="0.55" stroke-width="0.75" stroke-linecap="square" fill="none"/>
<path d="M174.1 43.9h.3M189.4 55.9h.3M192.9 39.9h.3M199.0 48.8h.3M190.2 64.2h.3M189.3 65.6h.3M190.3 63.9h.3M189.2 40.1h.3M188.5 54.9h.3M193.5 50.4h.3M173.1 44.8h.3M191.0 61.2h.3M198.3 40.4h.3M171.3 48.6h.3M174.7 43.8h.3M187.4 53.1h.3M168.8 77.1h.3M189.2 40.1h.3M188.3 55.0h.3M190.5 51.1h.3M188.1 54.7h.3" stroke="rgb(71, 89, 240)" stroke-opacity="0.55" stroke-width="0.75" stroke-linecap="square" fill="none"/>
<path d="M171.5 47.7h.3M196.3 40.2h.3M174.3 44.1h.3M190.3 63.1h.3M185.5 69.3h.3M187.8 54.6h.3M187.3 53.7h.3M168.7 54.0h.3M190.4 61.9h.3M200.5 47.9h.3M204.4 43.7h.3M177.6 42.7h.3M167.9 54.7h.3M188.2 55.3h.3M202.1 41.6h.3M171.9 48.5h.3M165.7 56.7h.3M188.1 66.2h.3M187.0 53.9h.3M200.7 47.7h.3M165.3 57.3h.3" stroke="rgb(68, 88, 240)" stroke-opacity="0.55" stroke-width="0.75" stroke-linecap="square" fill="none"/>
<path d="M187.0 52.0h.3M171.7 52.0h.3M174.8 44.3h.3M172.3 48.0h.3M182.9 41.3h.3M166.9 56.0h.3M187.5 66.5h.3M188.9 51.1h.3M185.4 68.8h.3M173.0 50.0h.3M203.8 44.9h.3M183.8 70.3h.3M188.7 57.2h.3M203.5 43.0h.3M172.6 47.9h.3M193.3 40.3h.3M164.4 58.7h.3M191.4 50.5h.3M173.2 50.1h.3" stroke="rgb(65, 86, 240)" stroke-opacity="0.55" stroke-width="0.75" stroke-linecap="square" fill="none"/>
<path d="M168.6 54.8h.3M189.0 63.4h.3M186.2 40.8h.3M170.0 53.9h.3M173.3 46.2h.3M173.1 49.0h.3M173.6 50.6h.3M185.8 53.6h.3M172.9 47.3h.3M173.7 50.3h.3M173.1 48.4h.3M203.4 45.1h.3M189.1 59.3h.3M173.9 50.5h.3M185.2 52.7h.3M173.2 47.1h.3M188.6 50.9h.3M173.7 51.5h.3M191.7 40.5h.3M173.6 46.3h.3M197.3 40.8h.3M168.1 76.5h.3" stroke="rgb(62, 85, 240)" stroke-opacity="0.55" stroke-width="0.75" stroke-linecap="square" fill="none"/>
<path d="M187.8 51.0h.3M167.7 76.4h.3M173.4 52.2h.3M174.4 49.8h.3M163.8 75.2h.3M185.0 41.2h.3M187.2 65.6h.3M174.8 50.9h.3M187.8 64.5h.3M184.3 52.5h.3M174.6 50.0h.3M198.4 41.1h.3M185.3 51.5h.3M184.4 52.0h.3M174.2 49.2h.3M173.7 52.2h.3M173.9 48.4h.3M181.2 71.8h.3" stroke="rgb(59, 84, 240)" stroke-opacity="0.55" stroke-width="0.75" stroke-linecap="square" fill="none"/>
<path d="M202.5 45.7h.3M174.0 48.5h.3M200.4 47.3h.3M173.8 47.5h.3M199.0 47.9h.3M184.1 51.9h.3M188.4 40.9h.3M198.6 41.2h.3M184.0 53.0h.3M174.0 47.5h.3M176.8 44.1h.3M174.0 47.1h.3M187.2 41.0h.3M175.8 50.6h.3M186.7 65.8h.3M186.6 65.9h.3M175.5 50.0h.3M185.1 54.4h.3M187.9 41.0h.3" stroke="rgb(56, 82, 240)" stroke-opacity="0.55" stroke-width="0.75" stroke-linecap="square" fill="none"/>
<path d="M167.9 76.2h.3M196.4 41.0h.3M201.0 46.7h.3M175.8 50.2h.3M183.4 69.6h.3M176.2 50.5h.3M188.2 60.6h.3M190.5 40.9h.3M186.2 56.0h.3M196.6 48.6h.3" stroke="rgb(53, 81, 240)" stroke-opacity="0.55" stroke-width="0.75" stroke-linecap="square" fill="none"/>
<path d="M176.0 52.1h.3M187.3 58.2h.3M202.4 44.6h.3M177.9 51.1h.3M183.4 42.0h.3M187.7 62.2h.3M184.2 54.3h.3M175.6 52.5h.3M181.2 52.1h.3M166.3 58.1h.3M174.3 53.0h.3M182.3 42.2h.3M200.9 46.5h.3M182.8 53.3h.3M174.4 53.0h.3M178.6 43.6h.3M179.6 43.2h.3M180.7 51.6h.3M187.4 50.4h.3M178.9 51.6h.3M166.4 58.0h.3M180.9 52.2h.3M197.9 48.0h.3M179.0 51.3h.3M184.9 50.8h.3M202.3 44.2h.3M180.2 52.0h.3M177.3 50.1h.3M176.1 52.5h.3" stroke="rgb(50, 80, 240)" stroke-opacity="0.75" stroke-width="0.75" stroke-linecap="square" fill="none"/>
<path d="M187.6 60.6h.3M195.4 41.1h.3M175.2 46.6h.3M178.9 50.9h.3M199.2 47.4h.3M190.9 41.0h.3M177.6 44.2h.3M197.3 41.4h.3M176.9 52.5h.3M180.8 71.3h.3M166.1 58.5h.3M179.6 43.3h.3M183.1 53.8h.3M171.0 54.8h.3M181.5 50.9h.3M187.5 41.4h.3M180.7 50.9h.3M188.4 50.2h.3M187.3 62.2h.3M177.1 49.6h.3M181.7 50.8h.3M176.7 45.0h.3" stroke="rgb(49, 81, 239)" stroke-opacity="0.75" stroke-width="0.75" stroke-linecap="square" fill="none"/>
<path d="M176.6 49.1h.3M179.0 72.5h.3M187.1 62.8h.3M201.9 44.2h.3M186.7 58.0h.3M182.5 42.4h.3M175.5 47.2h.3M184.0 42.0h.3M193.3 41.1h.3M183.4 68.8h.3M186.6 41.5h.3M184.3 50.5h.3M162.8 73.4h.3M193.9 49.1h.3M186.0 57.0h.3M200.2 42.4h.3M178.2 52.8h.3M184.3 55.1h.3M184.3 55.1h.3M180.6 53.1h.3M186.6 58.2h.3M185.1 50.4h.3M163.6 61.9h.3M187.1 41.5h.3M179.3 52.9h.3M199.9 42.4h.3M181.8 53.6h.3M196.0 48.4h.3" stroke="rgb(48, 82, 239)" stroke-opacity="0.75" stroke-width="0.75" stroke-linecap="square" fill="none"/>
<path d="M196.5 48.2h.3M182.1 53.8h.3M192.6 41.2h.3M201.6 43.9h.3M183.2 42.3h.3M181.8 53.8h.3M163.1 62.9h.3M198.4 41.9h.3M183.4 68.5h.3M186.9 41.6h.3M201.0 43.2h.3M197.9 47.6h.3M180.9 70.8h.3M179.3 53.2h.3M200.3 46.2h.3M185.9 50.2h.3M195.5 48.5h.3M200.9 45.6h.3" stroke="rgb(48, 83, 239)" stroke-opacity="0.75" stroke-width="0.75" stroke-linecap="square" fill="none"/>
<path d="M176.2 46.8h.3M197.5 47.7h.3M180.4 50.1h.3M186.6 59.1h.3M177.4 48.9h.3M176.3 46.4h.3M177.5 49.0h.3M177.1 45.3h.3M177.6 44.9h.3M182.9 54.6h.3M177.3 45.1h.3M169.5 56.3h.3M196.7 41.7h.3M184.5 66.8h.3M179.9 53.5h.3M167.2 75.3h.3M181.2 43.1h.3M179.5 53.5h.3M176.5 46.9h.3M186.5 59.5h.3M177.7 45.0h.3M187.7 49.9h.3M175.4 53.8h.3M188.9 49.7h.3M177.5 48.7h.3M183.1 42.6h.3M168.5 75.4h.3M200.7 45.5h.3M186.5 62.0h.3M179.4 44.0h.3M182.8 42.7h.3M192.5 41.4h.3M176.9 47.9h.3M186.2 41.9h.3M195.8 48.2h.3M185.9 64.2h.3M186.5 60.2h.3M183.4 42.6h.3M197.1 41.9h.3M186.1 63.4h.3M171.3 55.5h.3M170.7 55.8h.3M188.9 41.6h.3M179.2 53.7h.3M176.5 53.8h.3M188.2 49.7h.3M183.8 55.7h.3M197.3 41.9h.3M200.9 44.1h.3M172.2 55.1h.3M179.4 44.1h.3M174.7 54.2h.3M179.2 49.3h.3M168.1 75.3h.3M200.0 43.0h.3M182.8 68.5h.3M170.6 75.2h.3M186.2 62.4h.3M185.2 65.0h.3M162.9 64.3h.3M178.4 44.8h.3M169.3 56.8h.3M173.6 74.5h.3M185.3 64.8h.3M200.4 43.5h.3M177.5 53.8h.3M162.8 72.5h.3M179.0 53.9h.3M182.6 49.8h.3M178.2 48.6h.3M188.6 41.7h.3M180.7 49.5h.3M177.7 45.6h.3M185.5 58.2h.3M180.5 49.5h.3M165.3 74.5h.3M186.5 42.1h.3M179.7 54.1h.3M191.8 41.6h.3M193.2 41.6h.3M183.0 42.9h.3M163.5 73.2h.3M187.9 49.6h.3M174.0 74.3h.3M190.1 49.3h.3M185.8 59.6h.3" stroke="rgb(47, 85, 239)" stroke-opacity="0.75" stroke-width="0.75" stroke-linecap="square" fill="none"/>
<path d="M177.6 46.0h.3M182.8 42.9h.3M183.2 49.7h.3M183.3 49.7h.3M177.9 45.7h.3M185.1 42.4h.3M179.0 48.7h.3M200.4 44.8h.3M185.9 60.5h.3M189.5 49.3h.3M186.5 49.6h.3M195.2 41.8h.3M189.0 41.8h.3M197.8 42.3h.3M178.4 48.3h.3M193.0 41.7h.3M197.3 47.3h.3M182.0 69.0h.3M182.0 69.0h.3M181.0 43.7h.3M189.9 49.3h.3M178.1 45.7h.3M188.5 49.4h.3M185.8 61.7h.3M194.4 48.3h.3M166.4 59.6h.3M186.0 49.6h.3M179.1 48.6h.3M162.9 64.9h.3M200.0 43.8h.3M185.2 58.6h.3M178.2 45.7h.3M183.2 67.4h.3M182.8 43.1h.3M184.5 57.5h.3M184.2 65.9h.3M182.4 49.4h.3M200.0 44.9h.3M192.8 48.6h.3M178.0 46.3h.3M170.2 56.8h.3M199.9 45.2h.3M179.5 48.6h.3M198.6 46.5h.3M195.1 48.0h.3M185.1 63.9h.3M180.4 70.2h.3M198.9 46.2h.3M188.6 42.0h.3M178.9 48.1h.3M199.2 43.3h.3M180.4 48.8h.3M191.0 41.9h.3M165.3 74.1h.3M177.8 54.5h.3M171.8 56.0h.3M178.2 46.8h.3M178.7 47.8h.3M198.0 46.7h.3M178.5 45.9h.3M191.2 41.9h.3M181.1 55.2h.3M177.9 54.6h.3M180.6 55.1h.3M187.2 49.3h.3M167.1 74.7h.3M176.6 54.7h.3M180.1 44.6h.3M199.8 44.5h.3M190.2 42.0h.3M178.8 47.7h.3M185.3 61.3h.3M196.2 42.3h.3M163.0 71.8h.3M184.8 58.9h.3M198.0 46.6h.3M179.0 54.8h.3M179.7 44.9h.3M178.3 54.7h.3M179.8 44.8h.3M179.7 48.3h.3M194.6 48.0h.3M184.5 49.3h.3M166.1 60.5h.3M192.6 42.0h.3M178.9 47.6h.3M182.8 49.1h.3M184.2 49.2h.3M193.9 48.1h.3M189.8 42.1h.3M174.7 55.2h.3M179.9 48.3h.3M184.2 58.1h.3M180.0 44.8h.3M195.5 42.3h.3M193.1 48.3h.3M178.9 47.4h.3M180.0 44.9h.3M184.4 64.5h.3M199.3 45.2h.3M183.9 65.5h.3M178.8 46.8h.3M184.7 42.9h.3M181.9 48.8h.3M190.9 42.1h.3M193.3 42.1h.3M165.4 73.9h.3M171.7 56.4h.3M176.5 72.6h.3M189.7 42.2h.3M188.3 49.0h.3M195.9 47.4h.3M186.3 49.1h.3M199.0 43.9h.3M199.2 44.8h.3M181.7 56.0h.3M197.7 46.5h.3M199.1 44.1h.3M174.0 73.7h.3M186.7 42.6h.3M198.9 45.4h.3M185.8 49.1h.3M181.4 55.9h.3M196.8 47.0h.3" stroke="rgb(43, 93, 237)" stroke-opacity="0.75" stroke-width="0.75" stroke-linecap="square" fill="none"/>
<path d="M182.3 67.6h.3M194.2 42.2h.3M164.2 72.9h.3M184.5 63.5h.3M195.7 47.4h.3M179.5 45.7h.3M162.6 67.9h.3M171.8 56.5h.3M192.4 48.3h.3M184.4 63.9h.3M170.8 57.1h.3M171.8 74.3h.3M180.7 69.3h.3M183.8 65.0h.3M177.8 55.2h.3M184.7 62.3h.3M187.6 42.5h.3M198.8 44.2h.3M198.9 44.8h.3M184.5 63.1h.3M162.8 67.2h.3M192.4 48.3h.3M179.8 45.8h.3M179.5 46.7h.3M174.0 73.6h.3M179.6 47.0h.3M179.9 55.6h.3M180.1 69.8h.3M197.4 43.1h.3M197.5 43.2h.3M197.1 46.6h.3M182.4 48.6h.3M192.2 48.3h.3M184.7 48.9h.3M180.3 45.3h.3M181.1 68.8h.3M183.9 64.5h.3M167.0 60.2h.3M168.6 58.7h.3M189.9 42.4h.3M197.8 43.5h.3M189.5 42.4h.3M179.8 46.3h.3M180.6 47.8h.3M186.2 42.9h.3M185.2 48.8h.3M180.6 45.2h.3M180.9 47.9h.3M183.4 48.6h.3M189.3 42.5h.3M183.0 66.1h.3M183.2 48.6h.3M179.9 46.3h.3M198.2 45.3h.3M184.0 43.6h.3M180.8 45.2h.3M179.2 70.3h.3M174.2 56.0h.3M185.8 43.1h.3M171.6 57.1h.3M184.1 63.1h.3M198.3 44.7h.3M197.1 43.3h.3M187.4 48.7h.3M182.9 57.8h.3M170.0 58.0h.3M179.0 55.8h.3M198.0 44.0h.3M196.5 43.1h.3M187.1 42.9h.3M178.0 55.7h.3M181.5 47.9h.3M163.1 67.4h.3M178.6 70.7h.3M183.6 59.1h.3M197.0 46.3h.3M192.4 48.0h.3M175.6 72.6h.3M176.1 72.3h.3M180.4 46.7h.3M177.9 71.2h.3M180.6 47.0h.3M183.9 63.2h.3M180.0 69.4h.3M195.0 42.8h.3M181.3 56.8h.3M190.2 42.6h.3M180.2 69.2h.3M180.8 45.7h.3M180.9 45.6h.3M196.8 43.4h.3M187.7 48.6h.3M180.5 56.4h.3M183.3 48.3h.3M188.6 42.8h.3M189.3 48.4h.3M180.1 69.2h.3" stroke="rgb(39, 101, 236)" stroke-opacity="0.75" stroke-width="0.75" stroke-linecap="square" fill="none"/>
<path d="M197.9 44.8h.3M180.6 46.6h.3M181.6 47.7h.3M191.0 48.2h.3M187.7 42.9h.3M181.9 57.3h.3M173.6 73.4h.3M197.8 44.5h.3M177.9 55.9h.3M190.9 42.6h.3M181.2 45.4h.3M182.6 66.0h.3M178.9 56.0h.3M169.7 58.5h.3M183.8 62.6h.3M164.2 72.0h.3M180.1 69.2h.3M181.1 56.8h.3M165.6 73.2h.3M192.5 42.7h.3M183.4 64.2h.3M182.8 65.5h.3M194.9 42.9h.3M182.3 66.5h.3M183.5 59.5h.3M192.4 47.8h.3M191.3 42.7h.3M177.0 56.0h.3M182.1 57.7h.3M192.1 47.9h.3M163.7 65.9h.3M183.6 48.2h.3M181.4 45.5h.3M184.0 44.0h.3M191.4 42.7h.3M193.4 42.8h.3M195.2 46.9h.3M190.2 42.8h.3M193.3 47.5h.3M183.5 60.1h.3M182.2 44.9h.3M189.3 42.8h.3M197.4 45.2h.3M194.2 47.2h.3M188.9 48.3h.3M187.9 43.0h.3M197.4 45.0h.3M186.6 43.3h.3M183.1 48.0h.3M181.2 46.4h.3M181.6 67.3h.3M181.6 67.1h.3M182.0 45.1h.3M172.4 57.2h.3M184.8 43.8h.3M197.1 44.3h.3M196.6 45.9h.3M185.3 48.2h.3M163.3 68.7h.3M195.3 43.3h.3M169.9 74.0h.3M180.9 57.2h.3M195.7 43.4h.3M187.3 48.3h.3M176.0 56.3h.3M182.5 47.5h.3M185.9 43.6h.3M185.9 43.6h.3M191.5 47.8h.3M178.0 56.3h.3M182.4 65.6h.3M194.4 43.2h.3M181.8 47.0h.3M182.0 47.1h.3M182.4 65.7h.3M181.8 45.7h.3M170.1 58.6h.3M166.2 62.0h.3M181.4 67.2h.3M183.1 63.8h.3M183.4 61.2h.3M181.7 46.5h.3M181.7 66.7h.3M183.0 64.1h.3M186.8 43.5h.3M180.6 68.2h.3M163.4 68.7h.3M182.8 45.0h.3M163.5 67.7h.3M193.2 43.1h.3M195.8 46.2h.3M187.0 43.4h.3M195.8 43.7h.3M196.7 44.4h.3M182.3 47.0h.3M182.7 64.7h.3M191.7 43.0h.3M191.0 43.0h.3M182.7 59.4h.3" stroke="rgb(35, 110, 235)" stroke-opacity="0.9" stroke-width="1.0" stroke-linecap="square" fill="none"/>
<path d="M170.8 58.3h.3M182.2 45.7h.3M189.2 48.0h.3M192.2 43.1h.3M184.3 47.8h.3M163.9 70.7h.3M168.5 73.8h.3M187.9 48.0h.3M191.1 43.1h.3M192.8 47.3h.3M185.7 43.9h.3M196.4 45.3h.3M185.6 43.9h.3M170.5 73.7h.3M167.4 61.0h.3M187.1 48.0h.3M194.5 43.5h.3M196.3 45.3h.3M181.3 58.0h.3M167.2 61.1h.3M183.0 47.2h.3M182.7 59.9h.3M189.0 47.9h.3M182.1 65.5h.3M182.8 60.4h.3M185.4 44.0h.3M184.7 44.3h.3M183.0 62.1h.3M173.3 73.0h.3M179.2 57.0h.3M166.7 61.8h.3M175.2 56.8h.3M189.2 47.8h.3M189.5 47.8h.3M183.3 45.1h.3M195.9 44.3h.3M179.6 57.2h.3M173.7 57.2h.3M190.0 47.7h.3M166.6 73.2h.3M172.8 57.6h.3M195.2 46.1h.3M187.9 47.9h.3M185.3 47.7h.3M177.0 56.8h.3M163.7 67.8h.3M163.7 68.1h.3M187.7 47.9h.3M184.8 47.6h.3M187.3 43.7h.3M194.0 46.7h.3M192.4 47.2h.3M184.9 47.6h.3M180.6 57.8h.3M170.5 58.7h.3M176.4 56.8h.3M182.9 46.6h.3M184.2 44.7h.3M186.3 43.9h.3M195.7 44.4h.3M181.4 66.4h.3M182.8 61.1h.3M183.8 47.2h.3M164.7 71.5h.3M192.3 43.4h.3M163.8 68.0h.3M188.2 47.8h.3M185.5 44.2h.3M166.6 73.1h.3M183.9 47.2h.3M180.4 67.9h.3M191.8 47.3h.3M192.3 43.4h.3M175.4 57.0h.3M195.7 44.7h.3M182.8 62.1h.3M195.7 44.9h.3M194.7 46.2h.3M174.8 57.1h.3M195.2 45.8h.3M187.8 47.7h.3M187.1 43.8h.3M193.8 46.6h.3M186.1 44.1h.3M164.9 71.7h.3M182.7 62.3h.3M183.5 46.7h.3M182.7 61.8h.3M182.2 64.6h.3M164.0 69.6h.3M179.8 57.6h.3M175.4 57.1h.3M183.8 45.3h.3M165.6 72.4h.3M190.7 43.5h.3M178.5 57.2h.3" stroke="rgb(30, 120, 230)" stroke-opacity="0.9" stroke-width="1.0" stroke-linecap="square" fill="none"/>
<path d="M163.9 69.4h.3M180.1 68.1h.3M182.4 60.6h.3M164.2 66.5h.3M164.9 64.8h.3M195.4 44.7h.3M186.5 44.1h.3M187.6 47.6h.3M195.3 45.4h.3M182.1 59.8h.3M178.4 69.8h.3M191.6 43.5h.3M165.5 63.7h.3M192.9 46.8h.3M193.3 46.7h.3M194.9 45.7h.3M182.2 64.3h.3M169.3 73.5h.3M195.3 44.7h.3M190.8 47.3h.3M171.0 73.4h.3M181.9 59.7h.3M185.0 44.7h.3M194.4 46.1h.3M194.8 44.3h.3M187.6 47.6h.3M183.6 46.0h.3M181.7 65.4h.3M188.5 47.5h.3M186.7 47.5h.3M189.2 43.7h.3M194.0 46.3h.3M188.8 47.5h.3M195.1 45.3h.3M195.1 44.9h.3M183.9 45.7h.3M174.2 57.5h.3M190.4 47.3h.3M184.6 45.0h.3M186.5 44.2h.3M175.9 57.3h.3M181.6 59.4h.3M185.9 44.5h.3M195.0 45.2h.3M174.4 57.5h.3M194.6 44.4h.3M170.1 59.4h.3M191.6 47.0h.3M184.2 45.6h.3M182.3 61.7h.3M182.3 62.3h.3M181.8 60.1h.3M181.6 65.2h.3M175.4 71.7h.3M178.8 69.1h.3M192.6 46.6h.3M194.4 44.5h.3M185.1 46.9h.3M184.3 46.2h.3M191.7 43.8h.3M182.2 62.5h.3M166.7 72.7h.3M171.8 58.5h.3M181.8 60.1h.3M167.4 61.6h.3M175.9 71.3h.3M192.5 46.6h.3M194.0 44.4h.3M188.3 47.3h.3M194.5 45.2h.3M176.2 71.1h.3M191.0 43.8h.3M168.1 73.1h.3M185.8 44.8h.3M184.8 46.6h.3M194.4 44.9h.3M182.2 62.0h.3M174.3 72.1h.3M185.0 46.7h.3M190.7 47.0h.3M169.9 73.2h.3M168.3 73.1h.3M186.8 47.1h.3M194.2 45.3h.3M193.6 45.9h.3M168.9 60.4h.3M192.0 46.6h.3M193.8 44.5h.3M193.4 44.3h.3M164.6 70.4h.3" stroke="rgb(26, 130, 226)" stroke-opacity="0.9" stroke-width="1.0" stroke-linecap="square" fill="none"/>
<path d="M172.9 58.2h.3M193.1 44.2h.3M169.0 60.4h.3M191.6 46.7h.3M185.4 46.6h.3M178.9 68.9h.3M179.1 68.6h.3M192.9 46.2h.3M170.6 59.3h.3M165.9 63.7h.3M178.2 57.8h.3M185.1 45.7h.3M190.4 44.0h.3M182.0 62.6h.3M189.5 44.1h.3M189.9 44.1h.3M179.7 67.9h.3M185.6 45.2h.3M187.3 47.0h.3M191.6 44.1h.3M187.6 47.0h.3M181.9 63.2h.3M193.1 45.9h.3M191.0 44.1h.3M193.6 44.9h.3M178.5 57.9h.3M173.1 58.3h.3M175.6 57.7h.3M186.4 44.9h.3M191.8 44.2h.3M180.9 66.0h.3M188.2 44.4h.3M191.6 44.2h.3M176.7 57.7h.3M181.7 63.8h.3M185.8 45.3h.3M187.5 46.9h.3M179.2 58.3h.3M191.1 46.6h.3M164.5 69.5h.3M189.0 44.3h.3M185.6 45.7h.3M165.5 64.5h.3M187.3 44.7h.3M192.7 45.9h.3M166.8 62.7h.3M191.5 44.2h.3M177.6 57.8h.3M186.7 46.7h.3M191.4 44.3h.3M193.2 45.1h.3M191.7 44.3h.3M186.2 45.3h.3M186.8 45.0h.3M190.8 46.5h.3M164.9 70.6h.3M169.0 73.0h.3M180.8 59.7h.3M188.5 44.5h.3M173.5 58.3h.3M174.6 71.8h.3M186.9 45.1h.3M188.8 46.7h.3M188.0 46.7h.3M173.9 58.2h.3M190.0 44.4h.3M171.7 72.8h.3M191.1 46.3h.3M191.7 46.1h.3M179.9 59.0h.3M192.6 45.3h.3M181.2 64.7h.3M181.6 61.9h.3M191.1 46.2h.3M190.7 46.3h.3" stroke="rgb(22, 141, 222)" stroke-opacity="0.9" stroke-width="1.0" stroke-linecap="square" fill="none"/>
<path d="M189.3 44.6h.3M192.0 44.8h.3M181.2 60.7h.3M169.3 72.9h.3M192.4 45.3h.3M177.2 58.0h.3M169.5 60.4h.3M166.2 71.9h.3M165.9 64.3h.3M192.2 45.4h.3M192.3 45.4h.3M191.9 44.9h.3M187.2 45.2h.3M177.2 58.0h.3M174.8 58.1h.3M192.0 45.7h.3M186.9 45.7h.3M191.4 44.8h.3M189.4 46.4h.3M191.7 45.7h.3M191.9 45.1h.3M192.0 45.3h.3M181.1 60.8h.3M190.3 44.7h.3M187.5 45.3h.3M189.1 44.8h.3M190.9 44.8h.3M190.8 44.8h.3M191.7 45.6h.3M188.5 44.9h.3M191.2 44.9h.3M187.4 45.5h.3M189.4 46.3h.3M187.5 46.0h.3M190.4 44.8h.3M190.9 44.9h.3M189.3 46.2h.3M191.3 45.7h.3M188.7 45.0h.3M188.4 45.1h.3M175.8 58.1h.3M187.9 45.3h.3M189.5 46.2h.3M167.7 72.6h.3M191.3 45.5h.3M164.9 70.0h.3M170.7 59.8h.3M188.1 46.0h.3M172.0 72.5h.3M169.2 72.8h.3M190.5 45.8h.3M178.8 58.7h.3M190.8 45.1h.3M188.8 45.2h.3M189.7 46.0h.3M189.5 45.0h.3M165.4 65.5h.3M188.4 45.5h.3M172.4 72.4h.3M188.9 46.0h.3M188.8 45.3h.3M189.0 45.3h.3M179.4 67.6h.3M190.5 45.4h.3M189.2 45.8h.3M189.0 45.5h.3M189.0 45.6h.3M190.0 45.5h.3M177.2 69.8h.3M168.1 61.8h.3M179.9 59.6h.3M167.0 72.1h.3M181.2 62.3h.3" stroke="rgb(18, 151, 218)" stroke-opacity="0.9" stroke-width="1.0" stroke-linecap="square" fill="none"/>
<path d="M167.5 62.5h.3M181.0 64.2h.3M179.6 67.0h.3M180.6 60.6h.3M171.6 72.5h.3M173.1 58.9h.3M180.9 61.3h.3M179.9 66.5h.3M165.0 69.6h.3M172.0 59.3h.3M171.3 59.7h.3M176.0 58.4h.3M164.9 68.1h.3M167.7 62.4h.3M176.7 70.0h.3M170.9 59.9h.3M171.9 72.3h.3M165.2 66.6h.3M166.7 63.7h.3M170.6 72.5h.3M174.7 58.7h.3M177.2 58.7h.3M172.8 72.0h.3M167.3 72.0h.3M177.8 68.9h.3M168.5 61.8h.3M174.9 58.7h.3M180.8 62.3h.3" stroke="rgb(15, 160, 213)" stroke-opacity="1" stroke-width="1.0" stroke-linecap="square" fill="none"/>
<path d="M180.0 60.5h.3M180.4 64.9h.3M167.2 63.3h.3M165.2 69.4h.3M178.1 59.1h.3M180.6 64.0h.3M175.6 58.8h.3M165.8 70.6h.3M172.3 72.0h.3M178.0 68.5h.3M177.3 59.0h.3M180.3 61.4h.3M180.2 61.2h.3M177.0 58.9h.3M178.7 59.5h.3M166.7 64.0h.3M180.1 65.2h.3M170.8 72.3h.3M179.2 67.0h.3M172.6 59.5h.3M176.6 58.9h.3M180.5 62.7h.3M175.2 58.9h.3M166.9 71.5h.3M170.7 60.5h.3M165.3 67.5h.3M175.4 70.5h.3M174.2 71.2h.3M177.9 68.5h.3" stroke="rgb(15, 165, 204)" stroke-opacity="1" stroke-width="1.0" stroke-linecap="square" fill="none"/>
<path d="M168.2 62.4h.3M177.0 59.1h.3M172.4 59.7h.3M165.5 69.3h.3M179.5 60.5h.3M179.9 61.3h.3M167.8 71.8h.3M179.1 66.7h.3M176.8 69.4h.3M179.0 60.3h.3M168.1 71.9h.3M165.5 68.5h.3M172.4 59.9h.3M173.3 59.6h.3M177.3 59.5h.3M165.5 68.2h.3M170.6 72.1h.3" stroke="rgb(16, 170, 195)" stroke-opacity="1" stroke-width="1.0" stroke-linecap="square" fill="none"/>
<path d="M173.5 59.6h.3M177.6 59.7h.3M168.4 71.8h.3M176.7 59.4h.3M170.7 60.8h.3M166.1 70.1h.3M175.1 59.4h.3M175.1 59.4h.3M176.9 69.1h.3M176.9 59.5h.3M179.2 60.8h.3M165.7 67.6h.3M173.7 59.7h.3M179.4 61.3h.3M175.0 59.5h.3M173.8 59.7h.3M174.0 71.0h.3M177.2 59.7h.3M179.3 65.7h.3M170.5 61.0h.3M176.7 59.6h.3M175.9 69.8h.3M178.8 60.6h.3M166.9 70.9h.3M166.3 70.2h.3M179.8 64.0h.3M175.4 70.1h.3M175.7 69.9h.3" stroke="rgb(17, 175, 186)" stroke-opacity="1" stroke-width="1.0" stroke-linecap="square" fill="none"/>
<path d="M176.3 69.4h.3M177.5 59.9h.3M171.7 60.5h.3M168.1 71.5h.3M168.8 62.4h.3M175.4 59.6h.3M173.9 59.8h.3M176.9 68.7h.3M167.0 70.8h.3M167.6 63.8h.3M165.9 67.3h.3M175.7 59.7h.3M172.6 60.3h.3M179.0 65.9h.3M172.2 60.4h.3M176.9 68.7h.3M175.6 69.8h.3M176.2 59.8h.3M176.8 59.9h.3M179.5 63.1h.3M166.0 68.5h.3M170.0 71.7h.3M167.8 71.2h.3" stroke="rgb(17, 180, 177)" stroke-opacity="1" stroke-width="1.0" stroke-linecap="square" fill="none"/>
<path d="M178.5 66.6h.3M168.2 71.4h.3M179.2 62.0h.3M176.9 60.0h.3M177.4 60.3h.3M170.6 61.3h.3M177.5 60.4h.3M169.2 71.6h.3M176.9 60.1h.3M167.9 63.7h.3M166.2 69.1h.3M176.8 68.7h.3M166.5 66.0h.3M171.6 71.5h.3M166.8 65.5h.3M168.7 71.4h.3M179.1 64.9h.3M168.8 62.8h.3M170.3 71.6h.3M166.4 66.3h.3M166.9 70.3h.3M174.8 70.1h.3M172.1 71.3h.3M175.1 70.0h.3M179.2 64.6h.3M172.6 71.1h.3M174.7 70.2h.3" stroke="rgb(18, 185, 168)" stroke-opacity="1" stroke-width="1.0" stroke-linecap="square" fill="none"/>
<path d="M179.0 64.9h.3M166.2 68.7h.3M174.8 60.1h.3M171.1 61.2h.3M178.4 66.3h.3M167.8 70.9h.3M175.1 60.1h.3M172.6 60.6h.3M166.2 68.3h.3M174.2 60.2h.3M177.7 67.4h.3M174.4 60.2h.3M168.5 71.2h.3M174.9 69.9h.3M177.3 67.8h.3M168.1 71.0h.3M167.8 70.7h.3M178.9 64.6h.3M178.8 62.4h.3M172.9 60.6h.3M170.0 71.4h.3" stroke="rgb(19, 190, 159)" stroke-opacity="1" stroke-width="1.0" stroke-linecap="square" fill="none"/>
<path d="M168.9 71.2h.3M169.1 71.2h.3M168.1 63.8h.3M176.1 60.4h.3M178.9 64.3h.3M166.5 66.8h.3M178.9 64.2h.3M166.8 69.5h.3M177.8 66.9h.3M169.2 71.2h.3M167.8 64.4h.3M178.7 64.8h.3M178.6 65.2h.3M171.3 61.5h.3" stroke="rgb(20, 195, 150)" stroke-opacity="1" stroke-width="1.0" stroke-linecap="square" fill="none"/>
<path d="M178.6 62.9h.3M176.1 68.7h.3M172.9 60.9h.3M178.6 63.0h.3M166.7 68.5h.3M176.6 60.9h.3M171.5 61.5h.3M175.0 69.5h.3M174.6 60.6h.3M178.6 63.8h.3M167.8 64.6h.3M177.6 66.8h.3M166.7 68.1h.3M167.0 66.4h.3M166.8 66.8h.3" stroke="rgb(25, 196, 140)" stroke-opacity="1" stroke-width="1.0" stroke-linecap="square" fill="none"/>
<path d="M174.1 60.8h.3M177.0 61.2h.3M167.2 69.6h.3M170.7 71.0h.3M167.0 66.4h.3M174.1 60.8h.3M169.0 63.4h.3M166.9 68.8h.3M172.4 70.7h.3M175.0 60.8h.3M169.5 70.9h.3M172.3 61.3h.3M169.0 63.5h.3M177.5 61.7h.3M178.2 62.8h.3M172.9 61.1h.3M174.7 60.8h.3M167.9 64.8h.3M167.0 66.7h.3M170.0 70.9h.3M173.2 61.1h.3M174.9 69.3h.3M167.5 65.5h.3M174.1 69.8h.3M176.1 61.1h.3" stroke="rgb(31, 198, 130)" stroke-opacity="1" stroke-width="1.0" stroke-linecap="square" fill="none"/>
<path d="M167.2 69.2h.3M170.5 62.4h.3M170.1 70.9h.3M168.1 64.6h.3M170.3 70.8h.3M175.7 61.1h.3M174.1 61.0h.3M170.2 62.6h.3M177.9 65.3h.3M177.9 62.9h.3M177.9 62.9h.3M176.4 67.8h.3M169.8 63.0h.3M167.5 69.3h.3M177.1 61.8h.3M167.3 69.0h.3" stroke="rgb(36, 200, 120)" stroke-opacity="1" stroke-width="1.0" stroke-linecap="square" fill="none"/>
<path d="M178.0 64.7h.3M173.0 70.2h.3M177.1 61.9h.3M168.9 70.5h.3M174.8 69.2h.3M169.6 63.2h.3M177.9 65.0h.3M177.5 62.4h.3M170.0 62.9h.3M167.2 67.2h.3M176.7 67.4h.3M174.0 69.7h.3M172.9 70.2h.3M172.1 61.7h.3M168.5 64.3h.3M170.4 62.7h.3M174.8 69.2h.3M167.2 67.9h.3M167.4 66.4h.3M177.3 62.3h.3M177.9 64.5h.3M176.1 68.0h.3M169.1 70.4h.3M175.2 61.3h.3" stroke="rgb(42, 201, 110)" stroke-opacity="1" stroke-width="1.0" stroke-linecap="square" fill="none"/>
<path d="M177.8 63.6h.3M176.2 67.8h.3M175.4 68.6h.3M169.0 64.0h.3M167.3 67.6h.3M170.2 62.9h.3M177.7 63.5h.3M176.3 61.7h.3M169.5 63.5h.3M175.3 61.4h.3M175.4 61.5h.3M177.5 63.0h.3M169.7 63.4h.3M167.4 68.0h.3M174.2 69.4h.3M167.8 65.9h.3M176.5 61.9h.3M177.7 64.5h.3M167.8 69.2h.3M170.7 70.5h.3M168.2 69.7h.3M176.6 67.1h.3M167.4 67.6h.3M167.5 66.9h.3M168.4 65.0h.3" stroke="rgb(47, 203, 99)" stroke-opacity="1" stroke-width="1.0" stroke-linecap="square" fill="none"/>
<path d="M168.7 70.0h.3M168.7 64.5h.3M169.5 63.7h.3M172.9 69.9h.3M167.5 67.6h.3M170.9 70.4h.3M169.6 70.3h.3M172.8 61.8h.3M176.9 62.5h.3M170.1 70.3h.3M171.9 70.2h.3M168.7 69.9h.3M168.4 65.2h.3M169.0 64.4h.3M172.0 62.2h.3" stroke="rgb(53, 205, 90)" stroke-opacity="1" stroke-width="1.0" stroke-linecap="square" fill="none"/>
<path d="M175.7 61.8h.3M176.5 62.3h.3M175.2 68.4h.3M167.7 66.8h.3M173.8 69.4h.3M169.2 64.2h.3M168.2 69.2h.3M167.8 66.5h.3M173.7 61.8h.3M177.0 66.0h.3M174.4 61.7h.3M171.1 62.7h.3M168.9 69.7h.3M177.3 64.1h.3M173.6 69.4h.3M174.0 61.8h.3M171.6 62.5h.3M177.2 64.8h.3M173.8 61.8h.3M176.5 66.8h.3M168.8 64.8h.3M174.9 61.9h.3" stroke="rgb(58, 206, 79)" stroke-opacity="1" stroke-width="1.0" stroke-linecap="square" fill="none"/>
<path d="M168.8 64.9h.3M174.8 61.8h.3M174.5 68.8h.3M172.9 62.0h.3M168.2 69.0h.3M177.0 65.7h.3M171.5 70.0h.3M171.3 70.1h.3M172.9 62.1h.3M172.9 69.6h.3M168.7 69.5h.3M176.5 62.8h.3M176.8 63.1h.3M169.6 64.1h.3M175.7 67.6h.3M171.0 70.1h.3M168.8 65.0h.3M176.0 67.2h.3M177.0 65.5h.3M167.9 67.0h.3M171.5 62.7h.3M173.9 62.0h.3M175.1 62.0h.3M168.0 66.7h.3M173.5 62.0h.3M167.9 67.3h.3M174.8 68.4h.3M171.3 62.8h.3" stroke="rgb(64, 208, 70)" stroke-opacity="1" stroke-width="1.0" stroke-linecap="square" fill="none"/>
<path d="M176.9 63.5h.3M174.9 62.1h.3M173.3 69.4h.3M176.4 62.8h.3M172.0 62.5h.3M168.5 69.1h.3M168.8 69.4h.3M171.6 62.7h.3M174.1 68.9h.3M174.2 62.0h.3M173.9 62.1h.3M169.9 63.9h.3M171.3 69.9h.3M169.3 69.7h.3M169.2 64.6h.3M168.1 66.8h.3M171.8 69.8h.3M168.3 66.2h.3M173.0 62.2h.3M168.3 66.3h.3M168.9 69.4h.3M168.6 65.5h.3M176.5 66.1h.3" stroke="rgb(70, 210, 60)" stroke-opacity="1" stroke-width="1.0" stroke-linecap="square" fill="none"/>
<path d="M174.5 62.2h.3M168.2 68.1h.3M176.8 64.8h.3M172.0 62.7h.3M176.3 63.1h.3M168.5 65.9h.3M171.4 63.0h.3M168.4 66.2h.3M168.1 67.6h.3M176.6 63.8h.3M171.4 69.7h.3M176.0 63.0h.3M175.8 62.8h.3M174.6 68.3h.3M171.9 62.8h.3M174.6 62.3h.3M169.4 69.4h.3M170.5 69.7h.3" stroke="rgb(79, 211, 55)" stroke-opacity="1" stroke-width="1.0" stroke-linecap="square" fill="none"/>
<path d="M168.3 68.0h.3M168.6 65.9h.3M171.3 63.1h.3M176.2 66.4h.3M170.5 63.7h.3M170.5 63.7h.3M169.0 69.0h.3M176.5 64.0h.3M170.2 64.0h.3M171.5 63.1h.3M171.3 69.6h.3M169.7 69.4h.3M168.4 67.8h.3M169.6 64.7h.3M172.1 69.5h.3M173.1 69.1h.3M176.2 63.5h.3M169.9 64.3h.3" stroke="rgb(88, 212, 50)" stroke-opacity="1" stroke-width="1.0" stroke-linecap="square" fill="none"/>
<path d="M172.8 69.2h.3M168.4 67.6h.3M174.6 62.6h.3M172.6 69.2h.3M170.3 64.0h.3M176.4 64.4h.3M175.5 67.1h.3M170.5 63.9h.3M174.6 68.1h.3M168.5 67.2h.3M169.9 69.3h.3M169.1 65.4h.3M171.5 63.2h.3M176.3 65.5h.3M173.6 62.6h.3M175.6 63.1h.3M172.5 69.2h.3" stroke="rgb(97, 213, 45)" stroke-opacity="1" stroke-width="1.0" stroke-linecap="square" fill="none"/>
<path d="M168.7 68.0h.3M175.4 63.0h.3M168.8 68.3h.3M176.2 64.3h.3M173.2 68.8h.3M174.6 62.8h.3M171.4 63.4h.3M172.7 69.1h.3M172.8 62.9h.3M168.7 67.2h.3M171.5 69.3h.3M172.9 68.9h.3M176.1 64.7h.3M175.9 63.9h.3" stroke="rgb(106, 215, 39)" stroke-opacity="1" stroke-width="1.0" stroke-linecap="square" fill="none"/>
<path d="M175.8 66.2h.3M170.6 64.1h.3M170.1 69.2h.3M171.3 63.6h.3M169.0 68.2h.3M169.0 66.3h.3M174.3 68.0h.3M171.4 63.6h.3M171.1 63.7h.3M176.0 64.4h.3M175.7 66.3h.3M170.3 64.4h.3M175.6 63.6h.3M170.2 69.1h.3M169.1 68.3h.3M176.0 64.5h.3M175.1 63.2h.3M169.3 65.7h.3M169.2 68.3h.3M168.9 67.2h.3M172.8 63.1h.3M171.1 63.9h.3" stroke="rgb(115, 216, 35)" stroke-opacity="1" stroke-width="1.0" stroke-linecap="square" fill="none"/>
<path d="M175.8 64.2h.3M173.3 68.6h.3M169.9 68.9h.3M169.0 66.6h.3M169.9 68.9h.3M175.7 65.9h.3M169.9 64.9h.3M175.9 64.6h.3M170.6 69.1h.3M175.9 64.8h.3M175.5 63.8h.3M175.5 63.8h.3M175.4 66.4h.3M170.8 69.0h.3M174.8 67.2h.3M170.0 65.0h.3M172.6 63.3h.3M174.4 63.2h.3M174.8 67.2h.3" stroke="rgb(125, 217, 29)" stroke-opacity="1" stroke-width="1.0" stroke-linecap="square" fill="none"/>
<path d="M169.2 67.8h.3M169.1 67.5h.3M170.0 65.0h.3M169.2 66.3h.3M172.9 63.3h.3M175.7 64.6h.3M173.8 63.2h.3M174.3 63.3h.3M172.3 68.8h.3M174.4 67.5h.3M169.2 67.5h.3M175.5 64.3h.3M173.9 63.3h.3M171.1 68.9h.3M171.9 63.7h.3M170.1 65.0h.3" stroke="rgb(134, 218, 25)" stroke-opacity="1" stroke-width="1.0" stroke-linecap="square" fill="none"/>
<path d="M169.5 66.0h.3M172.6 63.5h.3M175.5 65.6h.3M175.5 64.9h.3M170.4 68.7h.3M173.1 63.4h.3M175.0 66.5h.3M171.3 64.1h.3M171.4 64.1h.3M175.5 65.1h.3M175.4 64.9h.3M174.8 66.8h.3M171.3 64.2h.3M171.2 64.2h.3M175.3 64.4h.3M175.4 64.9h.3M172.9 63.5h.3M171.6 64.0h.3" stroke="rgb(143, 220, 19)" stroke-opacity="1" stroke-width="1.0" stroke-linecap="square" fill="none"/>
<path d="M174.6 63.7h.3M169.5 66.5h.3M172.0 68.6h.3M172.1 63.8h.3M169.6 67.7h.3M173.1 63.6h.3M174.8 66.7h.3M171.2 68.6h.3M171.9 64.0h.3M174.2 63.7h.3M174.7 64.0h.3M170.1 68.2h.3M173.2 68.0h.3" stroke="rgb(152, 221, 15)" stroke-opacity="1" stroke-width="1.0" stroke-linecap="square" fill="none"/>
<path d="M169.6 67.1h.3M175.0 64.6h.3M172.1 68.4h.3M170.8 64.8h.3M172.2 68.4h.3M169.8 66.5h.3M170.0 67.9h.3M171.3 68.5h.3M170.9 64.8h.3M173.3 63.8h.3M173.6 67.6h.3M169.7 67.1h.3M169.9 67.7h.3M170.2 68.0h.3M172.5 64.0h.3M173.1 63.9h.3M173.9 63.9h.3M171.5 64.4h.3" stroke="rgb(161, 222, 10)" stroke-opacity="1" stroke-width="1.0" stroke-linecap="square" fill="none"/>
<path d="M170.5 68.1h.3M169.9 67.4h.3M173.2 63.9h.3M170.4 65.5h.3M170.1 67.6h.3M171.3 68.3h.3M170.1 66.2h.3M174.6 64.7h.3M171.5 68.2h.3M170.7 65.3h.3M173.4 67.5h.3M170.1 66.2h.3" stroke="rgb(170, 223, 5)" stroke-opacity="1" stroke-width="1.0" stroke-linecap="square" fill="none"/>
<path d="M172.8 64.1h.3M174.0 66.9h.3M172.9 67.7h.3M174.1 66.8h.3M170.8 65.3h.3M173.3 64.1h.3M171.6 64.7h.3M172.8 67.8h.3M172.0 64.4h.3M174.4 64.6h.3M173.3 67.5h.3M170.9 68.0h.3M171.1 68.0h.3M170.6 65.6h.3M171.5 64.7h.3M172.6 67.8h.3M170.2 66.8h.3M171.0 65.3h.3M174.5 65.1h.3" stroke="rgb(180, 225, 0)" stroke-opacity="1" stroke-width="1.0" stroke-linecap="square" fill="none"/>
<path d="M173.0 64.3h.3M173.7 67.0h.3M170.3 66.6h.3M172.2 64.5h.3M170.8 65.5h.3M174.3 65.0h.3M174.1 66.5h.3M171.3 67.9h.3M172.5 64.5h.3M172.7 67.6h.3M173.8 64.5h.3M173.5 67.1h.3M171.8 64.8h.3M170.8 67.6h.3M170.4 66.5h.3M170.7 65.8h.3M171.8 67.8h.3M174.1 64.9h.3" stroke="rgb(187, 223, 0)" stroke-opacity="1" stroke-width="1.0" stroke-linecap="square" fill="none"/>
<path d="M174.2 65.3h.3M174.1 65.0h.3M171.5 65.0h.3M170.5 66.7h.3M171.2 67.7h.3M170.8 66.0h.3M170.6 66.6h.3M174.1 66.0h.3M172.0 64.8h.3M173.7 64.8h.3M173.2 64.6h.3M170.8 67.3h.3M174.0 65.9h.3M172.0 64.9h.3M172.5 67.4h.3M173.8 65.0h.3M171.3 67.5h.3" stroke="rgb(194, 221, 0)" stroke-opacity="1" stroke-width="1.0" stroke-linecap="square" fill="none"/>
<path d="M174.0 65.5h.3M173.8 66.3h.3M173.8 66.1h.3M173.7 65.1h.3M172.0 65.0h.3M173.5 66.6h.3M170.9 66.9h.3M172.1 67.4h.3M171.4 65.6h.3M173.0 64.9h.3M171.0 66.6h.3M172.0 67.3h.3M173.7 65.8h.3M172.5 65.0h.3M171.1 66.2h.3M173.2 65.0h.3" stroke="rgb(201, 220, 0)" stroke-opacity="1" stroke-width="1.0" stroke-linecap="square" fill="none"/>
<path d="M173.7 65.8h.3M171.3 67.1h.3M173.0 66.8h.3M173.6 66.1h.3M171.8 67.2h.3M173.3 65.3h.3M172.1 65.3h.3M171.5 65.8h.3M171.3 66.8h.3M172.3 65.2h.3M172.1 67.1h.3M173.0 66.6h.3M171.3 66.5h.3M172.1 65.4h.3M172.9 65.3h.3M171.8 67.1h.3M171.7 67.0h.3M172.9 65.3h.3M172.0 65.5h.3" stroke="rgb(208, 218, 0)" stroke-opacity="1" stroke-width="1.0" stroke-linecap="square" fill="none"/>
<path d="M173.2 66.0h.3M173.1 65.5h.3M172.2 65.5h.3M171.7 65.9h.3M172.1 66.8h.3M172.4 65.6h.3M172.9 66.1h.3M171.8 66.4h.3M172.5 65.7h.3M172.7 66.3h.3M172.5 66.5h.3M172.8 66.2h.3M172.2 66.3h.3M172.2 66.2h.3M172.5 66.1h.3" stroke="rgb(216, 216, 0)" stroke-opacity="1" stroke-width="1.0" stroke-linecap="square" fill="none"/>
</g>
<line x1="183.5" y1="14.3" x2="183.5" y2="81.1" stroke="#666" stroke-width="1.1"/>
<line x1="162.0" y1="54.6" x2="228.4" y2="54.6" stroke="#666" stroke-width="1.1"/>
<g font-family="Liberation Sans, sans-serif" font-size="5.6" font-weight="bold" fill="#000" stroke="#000" stroke-width="0.15">
<text x="164.2" y="21.5">4.79</text>
<text x="225.4" y="21.5" text-anchor="end">22.2</text>
<text x="164.2" y="79.3">67.8</text>
<text x="225.4" y="79.3" text-anchor="end">5.40</text>
</g>
<rect x="232.5" y="14.3" width="66.4" height="66.8" fill="#fff" stroke="#b8b8b8" stroke-width="0.8"/>
<g filter="url(#soft)">
<path d="M258.7 31.1h.3M290.2 44.5h.3M259.8 32.6h.3M245.6 35.5h.3M274.4 75.7h.3M238.8 39.0h.3M287.3 43.2h.3" stroke="rgb(120, 120, 245)" stroke-opacity="0.4" stroke-width="0.75" stroke-linecap="square" fill="none"/>
<path d="M257.8 33.8h.3M270.6 76.5h.3M260.4 33.7h.3M262.7 33.9h.3M255.0 34.8h.3M235.9 80.1h.3M278.1 53.6h.3M234.4 46.4h.3M263.8 77.3h.3M274.5 35.4h.3M276.9 67.2h.3M239.5 41.8h.3M240.3 41.2h.3M277.2 36.4h.3M255.5 78.4h.3M276.2 67.2h.3M277.7 60.4h.3" stroke="rgb(112, 114, 243)" stroke-opacity="0.4" stroke-width="0.75" stroke-linecap="square" fill="none"/>
<path d="M282.9 44.7h.3M277.2 60.2h.3M284.4 40.3h.3M279.5 48.5h.3M276.7 64.0h.3M260.3 76.3h.3M275.3 51.0h.3M272.5 70.5h.3M267.7 35.5h.3M280.3 47.9h.3M236.3 48.6h.3M279.7 48.2h.3M239.3 44.3h.3M241.3 78.6h.3M254.7 77.3h.3M249.2 38.0h.3M281.9 45.6h.3M239.9 44.1h.3M282.1 41.8h.3M239.8 45.1h.3M270.3 70.1h.3" stroke="rgb(105, 109, 242)" stroke-opacity="0.4" stroke-width="0.75" stroke-linecap="square" fill="none"/>
<path d="M273.0 51.9h.3M261.6 74.4h.3M273.1 53.9h.3M264.9 36.2h.3M278.5 37.6h.3M277.6 37.4h.3M272.7 53.4h.3M278.4 48.2h.3M243.0 41.9h.3M238.9 77.4h.3M280.3 44.2h.3M277.7 37.5h.3M248.5 39.0h.3M234.0 53.8h.3M272.1 36.7h.3M256.0 37.2h.3M272.7 55.3h.3M256.4 75.4h.3M274.1 49.7h.3M237.7 49.8h.3M279.1 47.5h.3M274.7 49.4h.3M248.8 77.1h.3M270.0 68.6h.3M242.7 43.4h.3M272.9 64.2h.3M279.2 43.2h.3M272.0 50.7h.3" stroke="rgb(98, 104, 241)" stroke-opacity="0.4" stroke-width="0.75" stroke-linecap="square" fill="none"/>
<path d="M240.9 77.0h.3M259.3 73.9h.3M246.6 77.0h.3M240.4 47.2h.3M271.2 53.3h.3M245.6 40.9h.3M273.2 49.8h.3M280.7 41.8h.3M259.5 73.7h.3M271.3 66.0h.3M235.3 53.2h.3M279.4 42.4h.3M247.5 40.0h.3M270.7 66.3h.3M270.7 51.2h.3M265.3 70.5h.3M256.0 37.7h.3M261.5 72.3h.3M240.4 76.4h.3M241.7 46.7h.3M281.3 39.7h.3" stroke="rgb(90, 99, 240)" stroke-opacity="0.4" stroke-width="0.75" stroke-linecap="square" fill="none"/>
<path d="M238.4 50.8h.3M240.9 48.0h.3M241.0 48.0h.3M271.5 62.1h.3M270.7 37.2h.3M272.0 37.3h.3M278.1 42.7h.3M270.6 56.4h.3M246.2 76.2h.3M260.6 72.0h.3M265.1 69.7h.3M268.5 66.9h.3M262.3 37.3h.3M266.2 68.8h.3M253.2 38.6h.3M260.1 72.0h.3" stroke="rgb(84, 94, 240)" stroke-opacity="0.55" stroke-width="0.75" stroke-linecap="square" fill="none"/>
<path d="M278.6 42.2h.3M278.1 45.2h.3M276.8 44.1h.3M270.0 56.7h.3M237.8 52.4h.3M260.9 71.4h.3M247.1 41.3h.3M268.8 52.6h.3M270.0 57.2h.3M257.2 38.0h.3M250.2 75.0h.3M257.4 72.7h.3M265.9 68.0h.3M278.0 46.7h.3M265.6 68.2h.3M266.3 67.6h.3M268.4 52.6h.3M247.4 41.3h.3M246.1 43.5h.3M262.5 70.1h.3M268.8 54.6h.3M268.2 65.3h.3" stroke="rgb(81, 93, 240)" stroke-opacity="0.55" stroke-width="0.75" stroke-linecap="square" fill="none"/>
<path d="M234.0 57.2h.3M246.5 43.1h.3M268.9 50.4h.3M269.6 58.7h.3M269.6 37.5h.3M278.8 41.6h.3M241.4 49.8h.3M243.5 47.5h.3M254.3 38.7h.3M268.2 64.3h.3M269.0 61.9h.3M246.8 43.6h.3M242.5 48.9h.3M252.9 73.7h.3M245.9 45.1h.3M250.3 40.0h.3M277.6 46.4h.3M237.3 53.8h.3M241.0 50.5h.3M268.4 63.0h.3" stroke="rgb(78, 92, 240)" stroke-opacity="0.55" stroke-width="0.75" stroke-linecap="square" fill="none"/>
<path d="M263.3 68.8h.3M254.6 73.0h.3M270.3 49.5h.3M267.4 64.6h.3M268.8 59.3h.3M241.9 75.0h.3M247.5 42.9h.3M267.4 64.4h.3M276.3 47.4h.3M268.6 58.7h.3M272.3 37.8h.3M267.1 52.4h.3M263.8 68.0h.3M267.6 63.6h.3M276.9 45.4h.3M276.7 38.5h.3M257.6 71.5h.3M251.9 73.6h.3M274.4 43.9h.3M242.4 74.8h.3M264.2 67.4h.3M258.4 38.2h.3M262.3 68.8h.3M267.7 55.6h.3" stroke="rgb(75, 90, 240)" stroke-opacity="0.55" stroke-width="0.75" stroke-linecap="square" fill="none"/>
<path d="M266.9 50.9h.3M268.0 57.3h.3M276.7 38.5h.3M267.0 53.6h.3M247.6 44.5h.3M266.5 37.7h.3M275.5 47.6h.3M260.2 38.0h.3M267.8 57.1h.3M266.9 63.9h.3M266.1 64.9h.3M267.5 55.7h.3M249.3 41.1h.3M253.2 72.8h.3M266.3 51.3h.3M264.8 66.2h.3M246.7 45.9h.3M275.0 38.3h.3M266.8 50.4h.3M273.9 38.1h.3M267.6 58.3h.3M243.8 74.5h.3M271.8 37.9h.3M263.0 67.6h.3M264.1 37.8h.3M241.9 50.7h.3" stroke="rgb(71, 89, 240)" stroke-opacity="0.55" stroke-width="0.75" stroke-linecap="square" fill="none"/>
<path d="M236.5 55.7h.3M248.6 44.3h.3M250.5 40.4h.3M267.4 60.6h.3M238.4 53.8h.3M258.6 70.2h.3M248.9 43.6h.3M254.0 72.2h.3M274.8 44.8h.3M278.8 40.2h.3M248.1 45.3h.3M267.0 61.0h.3M238.6 53.7h.3M270.5 49.0h.3M259.5 69.5h.3M251.6 40.1h.3M258.2 38.4h.3M267.1 57.9h.3" stroke="rgb(68, 88, 240)" stroke-opacity="0.55" stroke-width="0.75" stroke-linecap="square" fill="none"/>
<path d="M266.9 60.4h.3M265.4 51.4h.3M236.4 72.6h.3M266.9 59.0h.3M243.0 74.0h.3M245.0 74.0h.3M266.8 59.9h.3M258.3 38.5h.3M266.5 37.9h.3M262.8 66.8h.3M249.3 44.8h.3M270.3 49.0h.3M272.4 43.8h.3M243.0 50.6h.3M239.1 73.5h.3M247.9 46.1h.3M275.5 47.1h.3M249.6 42.2h.3M237.4 55.3h.3M274.6 38.4h.3M248.0 73.5h.3M249.9 43.2h.3M242.1 73.8h.3" stroke="rgb(65, 86, 240)" stroke-opacity="0.55" stroke-width="0.75" stroke-linecap="square" fill="none"/>
<path d="M278.0 39.6h.3M275.4 45.5h.3M260.9 38.2h.3M272.2 44.1h.3M245.9 48.3h.3M275.1 42.3h.3M273.1 43.0h.3M250.3 44.1h.3M253.5 71.8h.3M268.8 38.0h.3M249.1 45.6h.3M278.1 40.1h.3M263.5 65.4h.3M273.7 42.8h.3M233.9 60.7h.3M267.6 49.5h.3M274.5 47.5h.3M250.7 41.0h.3M247.4 47.1h.3M250.3 42.9h.3M265.0 62.9h.3M273.8 44.9h.3" stroke="rgb(62, 85, 240)" stroke-opacity="0.55" stroke-width="0.75" stroke-linecap="square" fill="none"/>
<path d="M246.6 73.4h.3M250.7 43.5h.3M250.3 45.1h.3M256.6 39.0h.3M276.2 41.7h.3M250.4 45.0h.3M271.4 44.0h.3M251.0 44.5h.3M238.1 72.7h.3M251.2 43.9h.3M273.4 47.8h.3M275.1 45.8h.3M261.1 67.1h.3M251.2 43.8h.3M265.4 55.4h.3M238.7 72.8h.3M255.0 70.7h.3" stroke="rgb(59, 84, 240)" stroke-opacity="0.55" stroke-width="0.75" stroke-linecap="square" fill="none"/>
<path d="M271.3 43.5h.3M250.5 42.0h.3M264.0 51.8h.3M273.3 44.9h.3M252.6 40.2h.3M272.8 44.8h.3M264.3 52.6h.3M249.8 72.5h.3M251.4 44.7h.3M251.2 43.2h.3M246.2 73.2h.3M247.7 72.9h.3M234.2 60.9h.3M251.1 41.2h.3M264.2 52.8h.3M246.0 49.5h.3M244.4 73.2h.3M258.2 38.8h.3" stroke="rgb(56, 82, 240)" stroke-opacity="0.55" stroke-width="0.75" stroke-linecap="square" fill="none"/>
<path d="M274.2 38.6h.3M251.4 45.2h.3M260.7 38.5h.3M253.3 71.1h.3M251.1 41.5h.3M272.6 38.4h.3M254.9 70.4h.3M252.0 44.8h.3M277.2 40.7h.3M252.2 44.7h.3M265.1 56.9h.3M244.7 73.1h.3M257.8 68.7h.3M263.6 52.2h.3M258.1 38.9h.3M234.9 60.0h.3M252.7 44.4h.3M245.5 73.0h.3M265.0 57.2h.3M255.2 70.1h.3" stroke="rgb(53, 81, 240)" stroke-opacity="0.55" stroke-width="0.75" stroke-linecap="square" fill="none"/>
<path d="M251.6 42.8h.3M269.7 43.9h.3M273.7 45.4h.3M268.6 38.2h.3M276.3 41.3h.3M263.4 52.3h.3M270.4 43.3h.3M246.1 50.0h.3M249.3 47.0h.3M236.8 57.4h.3M272.2 44.9h.3M233.8 67.8h.3M253.4 44.5h.3M265.3 49.5h.3M248.1 72.4h.3M252.9 43.5h.3M249.6 46.8h.3" stroke="rgb(50, 80, 240)" stroke-opacity="0.75" stroke-width="0.75" stroke-linecap="square" fill="none"/>
<path d="M262.3 64.4h.3M271.7 42.9h.3M238.2 71.9h.3M248.2 48.5h.3M274.1 38.8h.3M233.6 66.4h.3M243.3 72.8h.3M261.6 38.5h.3M261.2 65.4h.3M235.3 70.0h.3M233.8 63.6h.3M237.5 56.9h.3M248.1 48.9h.3M269.6 43.4h.3M252.1 42.6h.3" stroke="rgb(49, 81, 239)" stroke-opacity="0.75" stroke-width="0.75" stroke-linecap="square" fill="none"/>
<path d="M257.2 68.4h.3M260.3 66.0h.3M235.1 60.5h.3M258.3 39.0h.3M266.9 38.3h.3M243.5 72.6h.3M254.7 44.4h.3M269.7 48.5h.3M264.1 56.8h.3M254.9 44.1h.3M261.9 51.1h.3M250.0 47.2h.3M250.5 46.8h.3M241.9 72.5h.3M270.3 44.7h.3M269.3 44.5h.3M239.4 55.2h.3" stroke="rgb(48, 82, 239)" stroke-opacity="0.75" stroke-width="0.75" stroke-linecap="square" fill="none"/>
<path d="M253.3 45.4h.3M262.7 62.7h.3M262.6 62.8h.3M271.2 48.0h.3M241.7 53.4h.3M267.9 43.7h.3M255.4 44.4h.3M268.3 44.3h.3M255.4 44.3h.3M248.0 71.9h.3M244.8 51.4h.3M269.9 44.7h.3M271.6 47.9h.3M255.6 44.3h.3M260.1 38.8h.3M276.4 40.4h.3M252.2 41.8h.3M262.7 53.1h.3M255.6 44.1h.3M252.6 45.8h.3M267.5 43.8h.3M253.1 42.8h.3M235.0 69.1h.3M263.6 59.9h.3M235.1 69.1h.3M276.1 40.8h.3M271.0 38.5h.3M253.7 45.4h.3" stroke="rgb(48, 83, 239)" stroke-opacity="0.75" stroke-width="0.75" stroke-linecap="square" fill="none"/>
<path d="M272.8 42.3h.3M267.2 44.1h.3M255.7 44.6h.3M248.5 71.7h.3M261.5 51.3h.3M256.1 44.1h.3M262.7 62.1h.3M253.7 45.5h.3M248.0 49.9h.3M252.5 46.0h.3M265.7 38.4h.3M261.2 50.7h.3M238.4 56.5h.3M266.7 44.0h.3M252.1 70.4h.3M236.3 70.2h.3M249.8 48.3h.3M255.8 44.8h.3M273.9 39.0h.3M234.9 61.9h.3M256.6 44.0h.3M252.6 41.7h.3M256.5 44.0h.3M256.9 44.3h.3M255.9 43.7h.3M276.0 40.6h.3M236.5 59.1h.3M234.3 66.9h.3M262.1 53.0h.3M236.2 70.0h.3M256.6 44.6h.3M255.4 43.5h.3M250.4 47.8h.3M254.4 45.4h.3M257.0 44.5h.3M252.8 46.1h.3M263.1 60.2h.3M247.9 50.2h.3M249.9 71.1h.3M256.9 43.9h.3M248.5 49.9h.3M267.9 38.5h.3M256.5 44.8h.3M259.1 39.1h.3M257.3 44.5h.3M269.8 44.9h.3M259.1 66.0h.3M275.9 40.4h.3M257.6 44.4h.3M272.7 42.2h.3M274.7 39.3h.3M250.0 48.8h.3M268.3 43.2h.3M256.3 44.9h.3M262.9 55.3h.3M269.3 48.3h.3M268.3 43.2h.3M247.5 50.6h.3M250.5 48.3h.3M261.5 63.1h.3M246.6 71.7h.3M252.4 46.5h.3M272.9 46.3h.3M234.7 63.5h.3M268.2 48.5h.3M258.0 43.9h.3M261.4 52.6h.3M260.2 50.9h.3M258.7 66.0h.3M244.7 71.9h.3M267.7 43.3h.3M262.0 62.0h.3M271.4 38.7h.3M269.4 42.9h.3M265.3 43.7h.3M261.0 38.9h.3M264.6 43.8h.3M260.6 51.7h.3M243.3 71.9h.3M259.5 44.0h.3M259.9 50.4h.3M263.2 44.0h.3M261.7 53.2h.3M256.1 67.9h.3M264.5 49.1h.3M251.7 70.1h.3" stroke="rgb(47, 85, 239)" stroke-opacity="0.75" stroke-width="0.75" stroke-linecap="square" fill="none"/>
<path d="M261.1 44.3h.3M256.5 43.4h.3M270.3 45.2h.3M262.8 57.7h.3M274.7 39.5h.3M254.9 42.9h.3M261.5 44.0h.3M257.7 45.0h.3M238.8 56.8h.3M260.6 44.5h.3M267.7 48.5h.3M258.4 66.0h.3M262.3 44.4h.3M259.6 50.7h.3M262.3 60.5h.3M260.4 51.7h.3M235.5 61.6h.3M259.3 39.2h.3M269.7 45.1h.3M234.8 66.9h.3M262.7 58.3h.3M262.7 49.3h.3M259.5 43.8h.3M238.0 70.6h.3M252.1 47.0h.3M275.0 39.8h.3M258.9 44.8h.3M269.0 45.0h.3M263.6 44.5h.3M272.3 46.8h.3M268.0 43.1h.3M264.5 38.6h.3M270.1 38.7h.3M257.9 66.3h.3M257.8 45.0h.3M254.6 45.9h.3M259.6 50.1h.3M236.2 60.3h.3M235.3 62.3h.3M242.3 53.9h.3M263.0 38.8h.3M257.4 45.1h.3M259.5 39.2h.3M247.0 71.3h.3M263.9 43.6h.3M261.4 44.6h.3M270.5 38.7h.3M263.8 43.6h.3M244.3 71.6h.3M249.1 50.4h.3M252.6 46.9h.3M251.6 48.2h.3M267.2 44.8h.3M269.8 45.2h.3M248.4 50.7h.3M257.6 66.5h.3M270.3 38.7h.3M245.7 51.9h.3M257.9 66.2h.3M254.4 40.7h.3M259.5 44.8h.3M274.5 39.6h.3M252.7 46.9h.3M261.9 44.6h.3M265.4 44.7h.3M235.7 61.4h.3M262.3 49.3h.3M258.8 65.3h.3M258.4 65.6h.3M258.9 45.0h.3M257.8 45.2h.3M261.0 62.5h.3M236.7 59.7h.3M269.3 48.0h.3M265.5 44.8h.3M245.3 71.4h.3M247.7 51.1h.3M262.2 59.4h.3M258.7 45.1h.3M272.0 46.4h.3M260.8 53.0h.3M248.9 70.7h.3M274.4 39.6h.3M264.9 43.4h.3M236.0 68.7h.3M251.9 69.6h.3M263.1 44.7h.3M267.4 43.1h.3M262.3 58.2h.3M255.2 42.7h.3M238.9 57.1h.3M258.4 50.4h.3M264.9 48.8h.3M252.3 47.9h.3M256.0 40.1h.3M266.5 48.6h.3M255.0 40.5h.3M241.9 54.5h.3M263.3 43.5h.3M252.7 69.2h.3M253.8 46.6h.3M252.6 49.2h.3M257.1 66.4h.3M248.2 70.8h.3M262.1 57.0h.3M259.0 45.2h.3M259.1 64.5h.3M262.1 49.2h.3M274.6 40.8h.3M271.6 46.8h.3M267.4 43.0h.3M262.2 44.9h.3M269.9 45.5h.3M260.0 45.1h.3M267.7 45.1h.3M258.4 45.3h.3M261.8 59.3h.3M262.9 49.0h.3M264.4 38.8h.3M271.2 46.1h.3M266.6 48.4h.3M260.1 52.9h.3M259.9 43.3h.3M265.9 43.1h.3M258.4 51.3h.3M253.5 49.4h.3M271.4 46.3h.3M254.3 46.6h.3M259.1 45.3h.3M270.1 42.4h.3M265.4 38.8h.3M269.2 38.8h.3M257.0 45.7h.3M239.6 56.7h.3M272.0 39.1h.3M257.8 51.1h.3M254.4 41.7h.3M267.6 45.2h.3M256.7 42.8h.3M235.3 64.5h.3M268.8 45.4h.3M256.6 49.7h.3M258.6 64.7h.3M256.2 50.0h.3M266.8 45.1h.3M274.4 40.1h.3M244.1 53.3h.3M261.9 49.0h.3M254.6 41.2h.3M265.6 43.1h.3M239.3 57.1h.3M256.8 50.6h.3M257.9 43.0h.3M256.1 50.3h.3M254.6 50.0h.3M264.7 48.7h.3M253.8 48.8h.3M240.2 56.2h.3M256.6 50.6h.3M255.6 50.2h.3M267.7 45.3h.3M253.4 48.2h.3M255.8 50.3h.3M254.1 48.9h.3" stroke="rgb(43, 93, 237)" stroke-opacity="0.75" stroke-width="0.75" stroke-linecap="square" fill="none"/>
<path d="M269.2 42.5h.3M260.6 45.2h.3M264.0 45.1h.3M269.5 45.6h.3M273.8 39.8h.3M259.7 63.0h.3M259.4 49.2h.3M259.0 63.9h.3M255.6 67.0h.3M255.9 49.3h.3M242.6 54.4h.3M260.9 43.2h.3M253.4 50.3h.3M265.1 45.1h.3M257.0 51.0h.3M266.7 48.3h.3M269.9 47.5h.3M253.7 48.1h.3M259.9 62.5h.3M260.5 61.5h.3M252.2 68.9h.3M256.3 49.2h.3M254.5 46.9h.3M252.4 50.6h.3M260.3 53.9h.3M235.8 66.8h.3M266.8 45.3h.3M255.6 42.3h.3M258.0 64.8h.3M236.8 60.7h.3M256.5 66.1h.3M256.7 51.1h.3M258.1 49.1h.3M257.8 64.9h.3M256.3 46.2h.3M258.4 52.1h.3M245.6 52.8h.3M261.3 58.1h.3M253.5 50.6h.3M254.9 46.8h.3M237.6 59.4h.3M267.0 42.8h.3M268.2 45.5h.3M257.8 42.8h.3M236.6 61.2h.3M250.1 51.2h.3M255.1 41.7h.3M259.0 39.6h.3M255.4 48.8h.3M240.7 70.6h.3M262.6 45.3h.3M257.8 49.0h.3M261.1 56.7h.3M235.6 64.8h.3M240.1 56.7h.3M252.6 68.5h.3M257.3 46.0h.3M258.4 49.0h.3M252.6 50.8h.3M242.6 70.8h.3M260.6 55.1h.3M255.7 48.8h.3M268.7 45.7h.3M262.7 45.3h.3M238.6 69.8h.3M257.2 48.9h.3M263.7 45.3h.3M257.0 65.4h.3M272.4 39.5h.3M272.7 41.4h.3M260.6 60.3h.3M244.8 70.7h.3M265.1 48.4h.3M273.8 40.2h.3M256.9 46.2h.3M256.1 46.5h.3M243.3 54.3h.3M236.9 60.9h.3M237.1 60.6h.3M256.3 51.4h.3M253.0 68.1h.3M260.6 43.0h.3M260.2 48.8h.3M260.0 54.2h.3M260.9 45.5h.3M257.5 64.7h.3M261.8 45.4h.3M264.1 45.4h.3M255.7 48.4h.3M260.1 42.9h.3M258.0 42.7h.3M235.9 64.5h.3M259.6 45.7h.3M263.0 45.4h.3M269.2 47.4h.3M255.8 48.4h.3M260.6 39.4h.3M266.0 48.2h.3M260.3 55.3h.3M268.4 47.6h.3M256.5 48.6h.3M263.4 48.5h.3M260.8 45.6h.3M269.8 46.3h.3M254.8 66.8h.3M260.5 59.7h.3M260.1 45.7h.3M264.3 48.4h.3M260.1 39.5h.3M261.4 39.4h.3M249.0 69.7h.3M260.8 45.6h.3M260.3 55.5h.3M260.7 57.4h.3M260.7 57.5h.3M264.5 39.1h.3M268.2 47.7h.3M259.5 48.7h.3M260.7 57.7h.3M254.6 66.9h.3M261.9 42.9h.3M260.6 45.7h.3M251.4 68.7h.3M255.8 66.0h.3M271.8 41.6h.3M257.0 52.0h.3M262.5 39.2h.3M260.2 60.4h.3" stroke="rgb(39, 101, 236)" stroke-opacity="0.75" stroke-width="0.75" stroke-linecap="square" fill="none"/>
<path d="M259.1 48.7h.3M269.5 39.1h.3M269.6 46.5h.3M269.7 46.7h.3M268.7 46.0h.3M255.5 47.5h.3M253.4 67.5h.3M256.5 48.4h.3M265.4 48.2h.3M236.1 65.7h.3M247.3 52.5h.3M239.0 69.6h.3M238.6 69.4h.3M261.2 48.6h.3M271.7 41.6h.3M262.8 42.9h.3M260.9 39.5h.3M253.7 51.4h.3M256.5 40.7h.3M258.4 63.3h.3M259.8 39.7h.3M255.6 51.7h.3M267.5 45.8h.3M272.6 39.8h.3M268.2 47.5h.3M248.6 69.6h.3M260.0 45.8h.3M253.7 67.3h.3M257.3 42.3h.3M265.0 39.1h.3M263.2 48.4h.3M256.6 42.1h.3M259.4 39.8h.3M246.0 53.2h.3M248.3 69.7h.3M239.1 58.2h.3M260.4 56.9h.3M272.9 40.8h.3M263.2 48.4h.3M240.2 70.0h.3M259.4 39.8h.3M256.1 41.4h.3M259.9 60.1h.3M262.3 48.4h.3M272.5 41.1h.3M256.2 41.6h.3M256.9 48.2h.3M255.6 65.9h.3M272.3 41.2h.3M268.4 46.1h.3M259.2 46.0h.3M267.2 45.8h.3M239.4 58.1h.3M236.5 66.7h.3M258.3 46.3h.3M264.7 42.7h.3M256.4 47.9h.3M236.9 67.4h.3M257.9 53.1h.3M267.3 45.9h.3M269.1 46.6h.3M241.2 70.1h.3M269.0 42.1h.3M258.2 40.1h.3M262.4 45.7h.3M262.5 45.7h.3M240.0 69.8h.3M246.8 53.0h.3M241.3 70.1h.3M256.5 41.7h.3M236.9 62.1h.3M262.6 45.7h.3M237.8 60.3h.3M251.8 51.7h.3M261.4 45.8h.3M259.7 48.4h.3M244.0 54.4h.3M257.6 53.0h.3M237.6 68.2h.3M258.1 63.1h.3M260.9 48.4h.3M250.6 68.6h.3M265.1 45.7h.3M236.6 66.5h.3M243.4 54.8h.3M268.6 46.4h.3M272.5 40.1h.3M257.0 40.7h.3M257.7 48.1h.3M268.0 42.3h.3M265.2 45.8h.3M253.2 67.2h.3M258.5 42.4h.3M236.9 62.4h.3M236.8 66.9h.3M264.4 48.1h.3M267.9 47.3h.3M269.4 42.0h.3M241.5 70.0h.3M253.9 51.9h.3M268.5 46.6h.3M261.4 42.7h.3M256.9 47.2h.3M261.2 45.9h.3M251.2 51.9h.3M243.8 70.1h.3M255.3 65.7h.3M257.0 40.9h.3M252.4 51.9h.3M268.4 46.7h.3M247.0 53.1h.3M268.6 42.1h.3M262.9 48.2h.3M257.1 47.2h.3M257.1 47.4h.3M257.3 47.7h.3M267.7 46.2h.3" stroke="rgb(35, 110, 235)" stroke-opacity="0.9" stroke-width="1.0" stroke-linecap="square" fill="none"/>
<path d="M258.3 42.3h.3M271.6 39.8h.3M242.2 55.9h.3M267.8 47.2h.3M254.1 66.5h.3M258.3 40.3h.3M270.1 41.7h.3M270.8 41.5h.3M253.0 67.1h.3M264.1 45.9h.3M247.4 53.0h.3M238.4 68.6h.3M262.8 45.9h.3M236.6 65.6h.3M262.5 45.9h.3M236.6 64.7h.3M261.6 46.0h.3M259.3 48.1h.3M256.8 52.9h.3M268.0 46.6h.3M259.6 48.1h.3M249.0 52.6h.3M270.0 41.7h.3M260.7 48.2h.3M260.9 48.2h.3M265.3 46.0h.3M262.4 46.0h.3M259.5 59.0h.3M257.9 47.0h.3M253.1 52.1h.3M252.2 52.1h.3M271.8 41.0h.3M257.2 53.3h.3M237.6 67.6h.3M258.1 40.5h.3M262.1 42.6h.3M247.2 69.5h.3M256.4 52.9h.3M239.8 69.3h.3M272.1 40.3h.3M258.8 42.2h.3M265.5 39.3h.3M246.1 53.7h.3M262.9 48.0h.3M267.7 46.7h.3M244.7 54.4h.3M257.4 41.6h.3M259.2 48.0h.3M236.7 64.8h.3M261.4 48.1h.3M259.5 58.3h.3M270.4 39.7h.3M267.4 46.5h.3M267.4 47.0h.3M262.1 48.0h.3M256.1 52.9h.3M261.4 46.2h.3M257.5 40.9h.3M259.6 47.9h.3M258.2 47.4h.3M264.3 47.8h.3M255.2 52.6h.3M271.8 40.7h.3M236.8 65.3h.3M245.7 69.6h.3M266.2 42.3h.3M255.1 65.4h.3M258.4 47.5h.3M269.4 41.8h.3M266.2 42.3h.3M257.8 41.8h.3M269.2 41.8h.3M258.6 47.6h.3M268.8 39.5h.3M261.4 46.2h.3M258.4 47.4h.3M267.7 42.1h.3M244.6 69.8h.3M258.6 47.6h.3M264.5 47.8h.3M238.8 59.6h.3M260.9 42.4h.3M246.2 69.5h.3M259.0 47.7h.3M252.6 52.3h.3M268.1 42.0h.3M264.7 42.4h.3M263.4 42.4h.3M260.8 46.4h.3M265.9 46.3h.3M260.9 46.4h.3M269.0 41.8h.3M265.1 46.2h.3M270.1 39.7h.3M261.4 46.3h.3M259.1 46.8h.3M270.8 39.9h.3M238.4 60.3h.3M265.6 47.5h.3M262.2 47.9h.3M258.3 54.8h.3M269.9 41.6h.3M259.5 40.2h.3M263.2 47.8h.3M271.1 40.0h.3M257.9 40.9h.3M259.1 56.9h.3M242.2 69.7h.3M264.4 42.4h.3M264.7 46.2h.3M256.4 53.3h.3M266.9 46.9h.3M263.8 39.5h.3M265.8 46.3h.3M259.2 47.6h.3M269.7 41.6h.3M266.3 46.4h.3M266.5 42.2h.3M238.5 60.2h.3M264.9 47.6h.3M259.5 47.7h.3M247.9 69.0h.3M266.5 42.2h.3M265.7 46.3h.3M255.4 52.9h.3M263.9 42.4h.3M259.9 46.7h.3M259.5 46.9h.3" stroke="rgb(30, 120, 230)" stroke-opacity="0.9" stroke-width="1.0" stroke-linecap="square" fill="none"/>
<path d="M259.3 47.0h.3M259.1 57.9h.3M250.3 68.1h.3M270.4 41.3h.3M263.5 42.4h.3M256.2 53.2h.3M258.2 41.8h.3M259.8 40.2h.3M265.8 42.2h.3M260.9 47.8h.3M266.2 47.1h.3M257.1 53.9h.3M257.5 54.2h.3M270.3 41.4h.3M265.2 47.4h.3M251.8 67.3h.3M270.3 41.4h.3M259.9 42.2h.3M261.7 39.8h.3M265.7 46.5h.3M266.1 46.6h.3M243.2 69.6h.3M263.1 47.7h.3M264.5 47.5h.3M254.0 52.7h.3M269.5 39.7h.3M265.8 46.5h.3M253.7 52.6h.3M259.7 40.2h.3M264.2 47.6h.3M260.1 46.8h.3M271.0 40.1h.3M253.1 66.5h.3M265.6 47.2h.3M237.7 62.0h.3M268.6 39.6h.3M267.6 42.0h.3M258.1 55.1h.3M270.3 39.9h.3M269.5 41.5h.3M270.2 39.9h.3M245.8 54.3h.3M264.8 47.3h.3M247.7 68.9h.3M249.4 53.0h.3M264.6 46.5h.3M258.0 55.1h.3M263.1 47.5h.3M256.6 63.3h.3M256.7 63.2h.3M264.5 46.5h.3M262.8 47.5h.3M239.6 59.1h.3M264.3 47.3h.3M258.6 59.5h.3M258.7 58.9h.3M263.3 42.3h.3M261.1 47.4h.3M268.6 41.7h.3M261.6 42.2h.3M265.6 39.6h.3M270.9 40.4h.3M264.9 46.7h.3M264.9 47.0h.3M257.7 54.9h.3M260.5 42.1h.3M256.3 63.5h.3M270.8 40.5h.3M263.7 47.3h.3M263.1 47.4h.3M258.4 56.4h.3M264.7 46.9h.3M241.3 57.3h.3M258.8 41.6h.3M249.0 53.2h.3M258.6 57.3h.3M269.2 39.8h.3M256.9 62.6h.3M264.4 46.8h.3M261.5 47.2h.3M241.9 56.9h.3M256.4 53.9h.3M270.4 41.0h.3M254.6 65.1h.3M237.4 63.9h.3M262.5 47.3h.3M260.8 42.1h.3M270.5 40.3h.3M258.5 58.8h.3M263.4 46.9h.3M268.4 41.7h.3M263.2 47.1h.3M263.2 47.1h.3M262.9 47.0h.3" stroke="rgb(26, 130, 226)" stroke-opacity="0.9" stroke-width="1.0" stroke-linecap="square" fill="none"/>
<path d="M260.5 40.2h.3M248.9 68.3h.3M258.9 41.0h.3M258.0 60.5h.3M259.6 41.8h.3M257.8 55.4h.3M265.0 42.1h.3M244.0 69.3h.3M239.2 59.9h.3M258.4 58.5h.3M266.4 39.7h.3M255.0 53.4h.3M249.4 68.0h.3M257.8 55.5h.3M262.7 42.1h.3M254.4 53.2h.3M258.3 59.0h.3M262.0 40.0h.3M259.2 41.5h.3M263.8 42.1h.3M257.8 60.6h.3M254.9 64.5h.3M258.0 60.0h.3M267.1 39.7h.3M266.6 39.7h.3M262.9 42.1h.3M256.2 63.1h.3M253.5 65.6h.3M259.4 40.9h.3M267.8 39.8h.3M240.8 68.7h.3M251.4 53.2h.3M255.5 63.7h.3M254.8 53.6h.3M258.0 56.7h.3M246.6 54.4h.3M269.8 40.5h.3M239.8 59.5h.3M256.5 62.5h.3M238.3 62.0h.3M263.1 42.0h.3M264.7 41.9h.3M255.6 54.0h.3M260.9 41.8h.3M240.8 58.4h.3M252.7 53.3h.3M259.8 41.4h.3" stroke="rgb(22, 141, 222)" stroke-opacity="0.9" stroke-width="1.0" stroke-linecap="square" fill="none"/>
<path d="M262.8 41.9h.3M267.1 41.6h.3M263.2 41.9h.3M239.3 67.8h.3M257.4 55.9h.3M238.3 66.6h.3M250.0 53.4h.3M240.6 68.5h.3M269.1 41.1h.3M257.1 55.4h.3M239.6 67.9h.3M265.0 41.9h.3M261.6 41.8h.3M263.3 40.0h.3M269.1 40.2h.3M252.8 53.3h.3M269.3 40.3h.3M241.1 58.1h.3M252.0 53.3h.3M269.0 41.1h.3M260.2 40.8h.3M248.9 53.7h.3M254.1 64.9h.3M262.3 41.8h.3M242.3 57.1h.3M260.4 41.5h.3M249.6 67.6h.3M266.7 39.9h.3M265.7 41.7h.3M250.1 53.6h.3M245.1 68.8h.3M257.7 59.1h.3M267.6 40.1h.3M265.3 41.7h.3M257.4 59.9h.3M269.0 40.7h.3M268.6 40.3h.3M261.5 41.6h.3M260.7 41.3h.3M262.8 41.8h.3M239.8 67.8h.3M253.6 65.0h.3M265.3 41.7h.3M249.2 67.6h.3M257.2 56.4h.3M261.7 40.5h.3M249.8 67.3h.3M254.1 64.6h.3M257.6 57.8h.3" stroke="rgb(18, 151, 218)" stroke-opacity="0.9" stroke-width="1.0" stroke-linecap="square" fill="none"/>
<path d="M249.2 53.9h.3M265.7 41.6h.3M267.4 40.2h.3M261.1 41.3h.3M261.3 40.7h.3M265.1 40.1h.3M261.3 40.7h.3M265.9 41.5h.3M265.5 41.6h.3M261.5 41.5h.3M268.4 40.5h.3M261.0 41.2h.3M261.0 41.0h.3M239.2 67.1h.3M253.3 53.8h.3M262.3 41.6h.3M261.1 41.1h.3M255.9 54.9h.3M247.1 68.2h.3M267.3 40.3h.3M243.1 68.6h.3M257.3 57.4h.3M261.3 41.0h.3M261.6 41.3h.3M262.0 41.4h.3M266.3 41.4h.3M253.5 53.9h.3M263.0 41.5h.3M262.9 40.4h.3M252.9 53.8h.3M253.3 53.9h.3M244.6 68.5h.3M265.0 40.2h.3M257.2 57.1h.3M250.9 53.8h.3M263.7 41.5h.3M238.5 65.6h.3M267.6 40.5h.3M265.6 41.4h.3M239.3 66.9h.3M239.3 61.0h.3M248.0 67.8h.3M262.5 41.3h.3M262.7 41.4h.3M256.9 56.8h.3M265.6 41.4h.3M264.5 40.3h.3M240.2 59.7h.3M265.0 40.3h.3M256.3 55.7h.3" stroke="rgb(15, 160, 213)" stroke-opacity="1" stroke-width="1.0" stroke-linecap="square" fill="none"/>
<path d="M242.9 68.4h.3M256.0 61.9h.3M240.9 67.9h.3M239.1 61.6h.3M266.9 40.5h.3M255.9 55.4h.3M246.3 68.2h.3M257.0 59.3h.3M264.9 41.3h.3M256.1 61.5h.3M267.0 40.8h.3M263.5 40.6h.3M264.1 40.5h.3M264.7 41.3h.3M250.1 66.8h.3M256.9 59.5h.3M262.9 40.9h.3M265.1 40.5h.3M250.6 54.1h.3M265.2 41.2h.3M264.2 40.6h.3M251.9 65.7h.3M263.4 41.1h.3M254.3 63.7h.3M245.6 68.2h.3M264.5 40.6h.3M264.2 41.1h.3M263.4 40.9h.3M265.7 41.0h.3M252.7 65.1h.3M249.1 54.4h.3M244.5 56.3h.3M250.0 66.7h.3M243.9 56.6h.3M238.9 65.6h.3M265.5 40.7h.3M255.2 62.6h.3M264.8 40.8h.3M256.8 58.1h.3M255.0 55.1h.3" stroke="rgb(15, 165, 204)" stroke-opacity="1" stroke-width="1.0" stroke-linecap="square" fill="none"/>
<path d="M255.4 62.2h.3M243.6 56.9h.3M245.5 68.1h.3M238.9 62.8h.3M253.0 64.7h.3M256.7 58.7h.3M256.3 60.4h.3M255.3 55.4h.3M255.1 55.3h.3M256.6 59.0h.3M253.4 64.3h.3M254.0 54.7h.3M256.4 59.6h.3M238.9 63.3h.3M245.6 68.0h.3M255.5 55.8h.3M252.8 64.7h.3M245.3 56.0h.3M254.0 54.9h.3M248.6 67.1h.3M247.1 67.6h.3M254.6 55.2h.3M254.4 55.1h.3M256.3 59.7h.3M255.2 55.6h.3M246.8 55.4h.3M254.3 63.1h.3" stroke="rgb(16, 170, 195)" stroke-opacity="1" stroke-width="1.0" stroke-linecap="square" fill="none"/>
<path d="M245.0 67.9h.3M244.8 56.4h.3M256.2 59.5h.3M252.6 54.6h.3M247.1 55.3h.3M245.3 56.2h.3M240.1 66.6h.3M256.2 57.6h.3M239.2 65.1h.3M243.8 57.1h.3M239.1 64.2h.3M256.0 57.3h.3M256.1 59.5h.3M251.6 54.6h.3M251.7 65.2h.3M239.5 65.6h.3M243.2 67.8h.3" stroke="rgb(17, 175, 186)" stroke-opacity="1" stroke-width="1.0" stroke-linecap="square" fill="none"/>
<path d="M253.3 55.0h.3M246.2 55.9h.3M240.1 66.4h.3M251.9 54.8h.3M255.8 57.4h.3M255.6 56.9h.3M243.2 57.7h.3M255.7 60.0h.3M240.2 61.1h.3M250.0 66.1h.3M255.9 59.0h.3M253.9 63.0h.3M254.9 61.7h.3M255.8 57.8h.3M243.5 57.5h.3M251.7 54.9h.3M242.3 67.4h.3M246.5 55.9h.3M255.6 57.4h.3M240.9 66.8h.3M241.3 67.0h.3M255.4 56.9h.3M251.7 64.9h.3M240.6 60.6h.3M252.2 55.0h.3M255.6 57.4h.3" stroke="rgb(17, 180, 177)" stroke-opacity="1" stroke-width="1.0" stroke-linecap="square" fill="none"/>
<path d="M245.8 56.2h.3M240.9 66.7h.3M239.5 63.7h.3M240.6 66.5h.3M255.7 59.5h.3M255.5 57.8h.3M255.6 58.1h.3M244.9 67.4h.3M255.3 57.4h.3M246.1 67.3h.3M239.9 62.4h.3M251.4 65.0h.3M240.1 65.7h.3M250.2 65.7h.3" stroke="rgb(18, 185, 168)" stroke-opacity="1" stroke-width="1.0" stroke-linecap="square" fill="none"/>
<path d="M239.7 63.9h.3M254.7 56.6h.3M244.5 57.2h.3M239.8 63.2h.3M254.7 56.6h.3M249.8 65.8h.3M249.4 66.0h.3M244.5 67.4h.3M255.1 57.4h.3M250.7 65.3h.3M249.3 66.1h.3M240.3 61.7h.3M255.3 59.2h.3M239.8 63.5h.3M255.3 59.3h.3M255.3 59.5h.3M246.3 56.3h.3M253.1 55.7h.3M253.5 55.8h.3M240.6 61.2h.3M248.8 66.2h.3M246.1 56.4h.3M241.1 66.3h.3" stroke="rgb(19, 190, 159)" stroke-opacity="1" stroke-width="1.0" stroke-linecap="square" fill="none"/>
<path d="M240.4 65.6h.3M240.1 62.6h.3M240.3 62.1h.3M253.3 55.9h.3M246.9 56.1h.3M251.3 55.4h.3M240.1 62.7h.3M253.3 62.9h.3M245.5 67.1h.3M251.2 64.7h.3M250.5 55.4h.3M248.6 66.2h.3M244.4 57.5h.3M247.6 55.9h.3M241.7 59.9h.3M253.8 56.4h.3M240.7 61.4h.3M241.4 66.3h.3M242.8 58.8h.3M241.1 66.1h.3M248.6 66.1h.3M248.4 55.8h.3M251.0 64.8h.3M240.3 62.4h.3" stroke="rgb(20, 195, 150)" stroke-opacity="1" stroke-width="1.0" stroke-linecap="square" fill="none"/>
<path d="M240.6 65.4h.3M252.7 55.9h.3M241.4 66.2h.3M248.2 66.3h.3M253.7 62.2h.3M254.9 58.4h.3M243.2 58.5h.3M243.5 67.0h.3M247.6 56.1h.3M240.8 65.6h.3M254.8 59.4h.3M254.4 57.2h.3M249.3 55.7h.3M247.2 56.3h.3M241.7 66.3h.3M250.3 65.1h.3M243.9 66.9h.3M242.9 58.9h.3M240.3 63.9h.3M241.9 66.4h.3M244.3 66.9h.3M253.9 61.6h.3M243.0 66.7h.3" stroke="rgb(25, 196, 140)" stroke-opacity="1" stroke-width="1.0" stroke-linecap="square" fill="none"/>
<path d="M254.6 59.8h.3M244.7 57.6h.3M241.4 66.0h.3M240.4 64.4h.3M242.0 66.3h.3M252.0 63.8h.3M249.6 65.4h.3M247.5 66.3h.3M243.7 58.3h.3M240.5 64.4h.3M245.7 66.7h.3M248.8 65.7h.3M242.5 59.4h.3M244.5 57.8h.3M254.5 59.0h.3M243.9 66.7h.3M251.1 55.9h.3M254.5 59.3h.3M245.2 57.4h.3M243.8 58.4h.3M252.2 63.3h.3M240.5 64.0h.3M254.3 60.0h.3M242.0 66.1h.3" stroke="rgb(31, 198, 130)" stroke-opacity="1" stroke-width="1.0" stroke-linecap="square" fill="none"/>
<path d="M249.4 56.0h.3M252.6 62.9h.3M245.8 66.6h.3M253.4 61.8h.3M246.0 57.1h.3M243.3 58.9h.3M243.4 58.8h.3M248.0 56.3h.3M246.5 66.4h.3M251.3 64.1h.3M250.9 64.3h.3M253.0 56.6h.3M248.9 65.5h.3M244.3 58.1h.3M252.9 56.6h.3M241.0 65.0h.3M240.7 63.7h.3M251.7 63.6h.3M254.2 58.8h.3M254.2 59.4h.3" stroke="rgb(36, 200, 120)" stroke-opacity="1" stroke-width="1.0" stroke-linecap="square" fill="none"/>
<path d="M249.0 65.4h.3M251.7 56.2h.3M253.9 57.8h.3M252.8 62.4h.3M248.0 65.8h.3M241.3 65.2h.3M242.7 59.5h.3M240.8 64.1h.3M246.8 56.8h.3M253.4 61.6h.3M253.3 61.7h.3M254.1 59.5h.3M252.0 63.3h.3M252.6 62.5h.3M251.5 63.7h.3M248.1 65.7h.3M252.2 56.5h.3M253.7 60.8h.3M241.2 64.9h.3M246.7 66.1h.3" stroke="rgb(42, 201, 110)" stroke-opacity="1" stroke-width="1.0" stroke-linecap="square" fill="none"/>
<path d="M241.4 61.6h.3M254.0 59.2h.3M244.7 58.1h.3M242.8 59.6h.3M252.9 62.0h.3M248.2 56.5h.3M245.9 66.2h.3M241.4 61.8h.3M244.0 66.2h.3M244.5 58.3h.3M248.2 65.5h.3M248.7 65.3h.3" stroke="rgb(47, 203, 99)" stroke-opacity="1" stroke-width="1.0" stroke-linecap="square" fill="none"/>
<path d="M246.7 66.0h.3M252.5 62.4h.3M253.4 58.1h.3M252.5 62.3h.3M242.9 59.8h.3M246.0 66.1h.3M253.3 57.9h.3M252.3 57.0h.3M241.3 64.1h.3M241.9 61.2h.3M250.5 64.1h.3M253.3 58.1h.3M242.0 65.2h.3M241.5 62.1h.3M241.6 64.6h.3M241.8 64.9h.3" stroke="rgb(53, 205, 90)" stroke-opacity="1" stroke-width="1.0" stroke-linecap="square" fill="none"/>
<path d="M251.1 56.6h.3M242.9 65.7h.3M252.9 57.6h.3M251.4 56.8h.3M243.0 59.8h.3M252.3 62.3h.3M248.2 65.3h.3M244.4 66.0h.3M253.1 57.9h.3M250.8 63.8h.3M241.8 61.6h.3M247.3 57.1h.3M246.2 65.9h.3M252.6 57.5h.3M243.8 59.1h.3M251.6 63.0h.3M251.8 57.0h.3M249.8 56.7h.3M246.0 57.7h.3" stroke="rgb(58, 206, 79)" stroke-opacity="1" stroke-width="1.0" stroke-linecap="square" fill="none"/>
<path d="M248.6 56.8h.3M243.4 65.8h.3M253.2 60.3h.3M249.0 56.8h.3M243.5 65.7h.3M248.3 57.0h.3M252.2 57.4h.3M250.2 64.0h.3M241.7 64.1h.3M253.1 58.7h.3M242.3 65.0h.3M244.8 65.8h.3M249.6 64.4h.3M242.0 64.7h.3M252.6 57.8h.3" stroke="rgb(64, 208, 70)" stroke-opacity="1" stroke-width="1.0" stroke-linecap="square" fill="none"/>
<path d="M251.2 63.2h.3M243.5 59.7h.3M252.6 61.3h.3M248.7 64.8h.3M251.4 57.1h.3M241.8 64.1h.3M246.3 65.6h.3M251.4 62.9h.3M245.0 58.5h.3M246.6 65.5h.3M245.8 58.1h.3M251.9 57.5h.3M251.5 57.3h.3M244.4 59.0h.3M252.8 58.5h.3M248.8 64.6h.3M252.6 61.1h.3M252.8 60.6h.3" stroke="rgb(70, 210, 60)" stroke-opacity="1" stroke-width="1.0" stroke-linecap="square" fill="none"/>
<path d="M250.8 57.1h.3M242.1 61.8h.3M241.9 62.5h.3M250.9 57.2h.3M252.9 59.1h.3M242.1 62.0h.3M252.9 59.5h.3M252.7 58.5h.3M252.9 59.3h.3M249.1 57.1h.3M243.2 65.2h.3M244.2 65.5h.3M249.0 57.1h.3M249.1 64.4h.3M242.2 64.3h.3M246.4 65.4h.3M242.0 62.9h.3M249.0 64.4h.3" stroke="rgb(79, 211, 55)" stroke-opacity="1" stroke-width="1.0" stroke-linecap="square" fill="none"/>
<path d="M247.1 65.2h.3M246.9 57.7h.3M249.5 64.1h.3M252.7 59.3h.3M246.3 58.0h.3M251.5 57.6h.3M248.8 64.5h.3M251.9 61.8h.3M243.3 60.3h.3M252.0 58.1h.3M242.8 64.8h.3M244.2 59.5h.3M245.2 65.4h.3M243.3 65.0h.3M247.6 64.9h.3" stroke="rgb(88, 212, 50)" stroke-opacity="1" stroke-width="1.0" stroke-linecap="square" fill="none"/>
<path d="M243.0 60.8h.3M251.1 57.6h.3M243.2 64.9h.3M244.4 65.3h.3M245.0 58.9h.3M250.1 57.4h.3M249.3 64.1h.3M251.2 57.7h.3M250.6 57.5h.3M250.9 57.6h.3M243.8 65.1h.3M242.4 62.3h.3M252.4 59.7h.3M244.1 59.7h.3M247.0 65.0h.3M243.8 60.1h.3M249.9 63.6h.3M246.6 65.1h.3" stroke="rgb(97, 213, 45)" stroke-opacity="1" stroke-width="1.0" stroke-linecap="square" fill="none"/>
<path d="M252.1 58.7h.3M250.7 57.6h.3M242.4 63.4h.3M252.3 59.2h.3M243.8 60.0h.3M252.0 58.5h.3M251.3 62.1h.3M249.8 57.5h.3M248.0 64.6h.3M242.4 62.9h.3M247.7 57.8h.3M243.3 64.6h.3M243.9 65.0h.3M246.4 58.3h.3M250.0 57.6h.3M250.4 57.6h.3M248.5 64.3h.3M242.7 63.9h.3" stroke="rgb(106, 215, 39)" stroke-opacity="1" stroke-width="1.0" stroke-linecap="square" fill="none"/>
<path d="M252.0 59.0h.3M242.5 62.8h.3M242.6 63.5h.3M246.8 64.9h.3M244.1 64.9h.3M242.7 62.3h.3M251.0 62.3h.3M244.6 65.0h.3M249.2 57.7h.3M245.1 65.0h.3M248.9 57.7h.3M249.5 63.6h.3" stroke="rgb(115, 216, 35)" stroke-opacity="1" stroke-width="1.0" stroke-linecap="square" fill="none"/>
<path d="M243.7 60.5h.3M250.9 58.1h.3M243.9 64.7h.3M244.0 60.2h.3M247.2 64.7h.3M243.6 64.5h.3M244.6 59.7h.3M250.8 58.1h.3M244.1 64.7h.3M243.0 61.6h.3M251.5 61.3h.3M251.6 58.7h.3M248.9 57.8h.3M243.5 64.4h.3M251.9 59.7h.3M251.7 59.3h.3M251.4 58.7h.3M245.6 64.8h.3" stroke="rgb(125, 217, 29)" stroke-opacity="1" stroke-width="1.0" stroke-linecap="square" fill="none"/>
<path d="M251.7 60.5h.3M249.6 63.3h.3M247.8 58.1h.3M251.8 59.6h.3M245.0 59.5h.3M250.9 62.0h.3M247.2 58.3h.3M251.7 60.3h.3M244.1 64.5h.3M244.0 64.5h.3" stroke="rgb(134, 218, 25)" stroke-opacity="1" stroke-width="1.0" stroke-linecap="square" fill="none"/>
<path d="M251.5 60.5h.3M249.2 58.0h.3M246.0 64.6h.3M249.6 58.1h.3M250.7 62.0h.3M251.5 59.4h.3M251.2 58.9h.3M244.1 64.3h.3M248.3 58.2h.3M250.5 58.4h.3M250.6 62.1h.3M247.1 58.5h.3M250.4 62.3h.3M250.5 58.5h.3M244.1 60.7h.3" stroke="rgb(143, 220, 19)" stroke-opacity="1" stroke-width="1.0" stroke-linecap="square" fill="none"/>
<path d="M250.8 58.6h.3M243.5 61.5h.3M251.3 59.5h.3M251.3 59.4h.3M251.0 59.0h.3M250.8 61.5h.3M244.8 64.4h.3M250.2 62.4h.3M245.2 59.7h.3M243.4 62.1h.3" stroke="rgb(152, 221, 15)" stroke-opacity="1" stroke-width="1.0" stroke-linecap="square" fill="none"/>
<path d="M246.2 64.4h.3M249.5 62.9h.3M250.0 58.4h.3M248.2 63.8h.3M247.8 63.9h.3M250.5 58.7h.3M248.8 63.4h.3M249.8 62.6h.3M244.8 64.3h.3M243.5 62.8h.3M249.7 62.7h.3M244.6 64.2h.3M245.7 64.3h.3M246.1 64.3h.3M250.3 58.8h.3M244.6 60.4h.3M249.9 58.6h.3M251.0 59.7h.3M250.8 59.2h.3M243.5 62.6h.3" stroke="rgb(161, 222, 10)" stroke-opacity="1" stroke-width="1.0" stroke-linecap="square" fill="none"/>
<path d="M248.8 58.5h.3M243.7 63.3h.3M246.3 59.2h.3M247.2 64.0h.3M250.6 61.3h.3M243.6 62.7h.3M248.1 58.6h.3M246.1 59.4h.3M248.4 58.6h.3M243.7 62.9h.3M250.9 60.0h.3" stroke="rgb(170, 223, 5)" stroke-opacity="1" stroke-width="1.0" stroke-linecap="square" fill="none"/>
<path d="M249.1 62.9h.3M250.0 58.9h.3M249.4 58.7h.3M244.4 63.8h.3M250.4 59.3h.3M247.1 59.0h.3M245.7 64.0h.3M250.0 61.9h.3M244.6 63.7h.3" stroke="rgb(180, 225, 0)" stroke-opacity="1" stroke-width="1.0" stroke-linecap="square" fill="none"/>
<path d="M245.1 63.9h.3M247.2 59.1h.3M246.1 64.0h.3M245.7 59.8h.3M245.9 64.0h.3M249.0 58.8h.3M246.3 63.9h.3M247.2 59.1h.3M250.5 60.8h.3M247.9 63.4h.3M249.6 59.0h.3M249.0 58.8h.3M245.5 63.9h.3M244.1 62.2h.3M244.6 63.6h.3M249.1 58.9h.3M244.7 60.9h.3M244.1 62.3h.3M247.5 59.1h.3M245.9 59.8h.3M247.4 59.1h.3M246.4 59.5h.3" stroke="rgb(187, 223, 0)" stroke-opacity="1" stroke-width="1.0" stroke-linecap="square" fill="none"/>
<path d="M248.9 62.7h.3M246.7 63.8h.3M250.4 60.0h.3M249.8 59.2h.3M248.2 59.0h.3M247.4 63.5h.3M244.9 60.8h.3M250.1 59.5h.3M245.1 63.6h.3M246.9 63.6h.3M245.0 60.7h.3M247.9 59.1h.3M250.1 59.7h.3M245.6 60.2h.3M250.2 60.2h.3" stroke="rgb(194, 221, 0)" stroke-opacity="1" stroke-width="1.0" stroke-linecap="square" fill="none"/>
<path d="M244.6 61.4h.3M244.4 62.0h.3M248.6 59.1h.3M245.2 60.6h.3M247.7 63.2h.3M249.0 59.2h.3M244.5 61.7h.3M244.4 62.3h.3M249.4 62.0h.3M245.2 60.7h.3M244.6 61.5h.3M249.3 59.3h.3M249.7 59.6h.3M249.4 61.9h.3M249.2 59.3h.3" stroke="rgb(201, 220, 0)" stroke-opacity="1" stroke-width="1.0" stroke-linecap="square" fill="none"/>
<path d="M244.6 62.1h.3M244.7 61.5h.3M248.5 62.6h.3M248.1 62.9h.3M244.7 61.9h.3M248.3 62.7h.3M247.4 63.2h.3M245.1 63.1h.3M249.2 62.0h.3M244.9 61.5h.3M245.3 60.9h.3M249.5 59.8h.3M247.9 62.9h.3M249.1 62.0h.3" stroke="rgb(208, 218, 0)" stroke-opacity="1" stroke-width="1.0" stroke-linecap="square" fill="none"/>
<path d="M245.0 62.8h.3M245.0 62.9h.3M249.4 59.8h.3M245.6 63.2h.3M248.0 62.7h.3M245.4 61.0h.3M244.9 62.3h.3M249.1 61.8h.3M247.9 62.8h.3M249.3 61.4h.3M249.0 59.8h.3" stroke="rgb(216, 216, 0)" stroke-opacity="1" stroke-width="1.0" stroke-linecap="square" fill="none"/>
<path d="M246.5 60.2h.3M245.3 61.5h.3M245.6 62.9h.3M247.8 59.7h.3M247.1 63.0h.3M249.4 60.5h.3M245.3 62.7h.3M245.4 61.3h.3M246.1 60.6h.3M249.2 60.3h.3" stroke="rgb(223, 215, 0)" stroke-opacity="1" stroke-width="1.0" stroke-linecap="square" fill="none"/>
<path d="M248.7 61.9h.3M245.6 62.7h.3M247.0 62.8h.3M246.1 62.9h.3M245.3 61.8h.3M248.3 62.2h.3M245.4 62.5h.3M247.1 60.1h.3M247.7 62.5h.3M245.7 61.2h.3M245.5 62.2h.3M248.1 62.2h.3" stroke="rgb(230, 213, 0)" stroke-opacity="1" stroke-width="1.0" stroke-linecap="square" fill="none"/>
<path d="M248.8 61.4h.3M246.2 62.7h.3M248.7 60.3h.3M245.6 61.7h.3M245.6 61.9h.3M246.2 60.9h.3M248.0 60.1h.3M248.4 60.3h.3M245.9 61.4h.3M246.2 62.5h.3M247.2 62.4h.3M247.1 60.5h.3M246.8 60.6h.3M245.8 61.9h.3M247.5 60.4h.3M248.1 61.8h.3M247.8 62.1h.3" stroke="rgb(237, 211, 0)" stroke-opacity="1" stroke-width="1.0" stroke-linecap="square" fill="none"/>
<path d="M246.4 60.9h.3M246.3 61.1h.3M246.7 62.4h.3M247.8 60.4h.3M246.0 61.6h.3M246.0 61.6h.3M248.5 60.9h.3M247.9 61.9h.3M248.1 61.7h.3M247.7 62.0h.3M246.8 60.9h.3M246.4 62.1h.3M247.7 60.7h.3M248.0 61.5h.3" stroke="rgb(245, 210, 0)" stroke-opacity="1" stroke-width="1.0" stroke-linecap="square" fill="none"/>
<path d="M247.6 60.7h.3M247.3 62.0h.3M246.8 61.9h.3M246.6 61.5h.3M246.9 61.1h.3M247.5 61.0h.3M247.4 61.6h.3M247.0 61.6h.3M247.3 61.2h.3" stroke="rgb(246, 198, 0)" stroke-opacity="1" stroke-width="1.0" stroke-linecap="square" fill="none"/>
</g>
<line x1="254.6" y1="14.3" x2="254.6" y2="81.1" stroke="#666" stroke-width="1.1"/>
<line x1="232.5" y1="54.4" x2="298.9" y2="54.4" stroke="#666" stroke-width="1.1"/>
<g font-family="Liberation Sans, sans-serif" font-size="5.6" font-weight="bold" fill="#000" stroke="#000" stroke-width="0.15">
<text x="234.7" y="21.5">2.94</text>
<text x="295.9" y="21.5" text-anchor="end">18.7</text>
<text x="234.7" y="79.3">64.4</text>
<text x="295.9" y="79.3" text-anchor="end">14.0</text>
</g>
<rect x="21.6" y="93.6" width="66.4" height="66.7" fill="#fff" stroke="#b8b8b8" stroke-width="0.8"/>
<g filter="url(#soft)">
<path d="M79.2 138.2h.3M23.3 123.5h.3M29.4 119.5h.3M72.7 131.8h.3M70.6 134.4h.3M72.8 121.0h.3M71.2 120.5h.3M49.3 156.2h.3M42.5 118.5h.3" stroke="rgb(120, 120, 245)" stroke-opacity="0.4" stroke-width="0.75" stroke-linecap="square" fill="none"/>
<path d="M68.1 133.7h.3M70.4 136.4h.3M66.4 145.9h.3M22.6 153.8h.3M68.6 144.0h.3M25.2 134.8h.3M64.8 119.6h.3M31.0 122.7h.3M30.2 127.3h.3M64.0 133.3h.3M58.5 118.8h.3M68.4 142.0h.3M35.4 120.7h.3M64.2 146.0h.3M32.8 121.9h.3M59.7 132.6h.3M56.5 130.9h.3M67.3 136.4h.3M59.8 147.6h.3M23.2 153.1h.3M30.9 124.5h.3M61.3 119.3h.3M61.5 146.8h.3M52.2 133.1h.3M52.0 133.3h.3M58.2 147.6h.3M67.5 138.7h.3M66.4 128.8h.3M56.4 133.7h.3M64.1 144.7h.3M65.5 143.3h.3M62.9 134.7h.3M50.7 150.9h.3M50.2 133.1h.3M65.8 136.9h.3M52.6 134.0h.3M65.4 142.7h.3M52.8 134.2h.3M58.6 129.9h.3M34.3 122.4h.3M65.7 141.8h.3M48.4 132.5h.3M65.7 138.2h.3M33.5 123.1h.3M48.9 130.4h.3M50.1 130.2h.3M64.6 142.7h.3M61.1 145.3h.3M62.7 144.3h.3M65.2 138.6h.3M53.3 134.9h.3M68.5 121.6h.3M53.5 147.6h.3M51.1 119.4h.3" stroke="rgb(112, 114, 243)" stroke-opacity="0.4" stroke-width="0.75" stroke-linecap="square" fill="none"/>
<path d="M24.1 141.5h.3M56.1 146.6h.3M57.7 135.3h.3M71.5 123.5h.3M46.3 131.0h.3M61.8 129.1h.3M63.9 142.0h.3M33.3 129.1h.3M59.8 129.4h.3M59.1 145.2h.3M63.1 137.8h.3M51.5 119.6h.3M57.5 145.5h.3M43.2 120.3h.3M57.4 145.4h.3M64.7 128.4h.3M50.8 129.6h.3M46.8 119.9h.3M47.1 133.2h.3M36.3 122.5h.3M48.3 134.3h.3M34.5 126.2h.3M50.4 129.5h.3M50.6 129.5h.3M54.2 136.6h.3M62.2 139.3h.3M49.5 135.4h.3M62.2 139.7h.3M46.2 154.7h.3M47.4 129.4h.3M68.1 122.0h.3M53.8 136.9h.3M47.6 120.0h.3M46.6 133.4h.3M54.8 137.0h.3M59.6 143.1h.3M55.8 137.0h.3M36.2 127.7h.3M58.6 143.6h.3M56.5 144.5h.3M43.8 130.7h.3M46.8 133.8h.3M36.5 128.0h.3M59.7 142.7h.3M44.7 129.4h.3M55.8 144.4h.3M65.2 128.0h.3M56.5 137.7h.3M50.5 147.3h.3M55.3 137.8h.3M51.1 120.0h.3M70.5 124.9h.3M62.1 128.5h.3M52.7 145.2h.3M45.5 129.1h.3M37.8 128.3h.3M37.8 128.3h.3M58.9 139.2h.3M54.2 144.3h.3M67.4 127.1h.3" stroke="rgb(105, 109, 242)" stroke-opacity="0.4" stroke-width="0.75" stroke-linecap="square" fill="none"/>
<path d="M48.6 135.9h.3M59.1 140.9h.3M37.7 127.8h.3M34.2 130.6h.3M30.5 133.0h.3M51.7 137.9h.3M58.3 141.5h.3M55.7 143.2h.3M54.0 143.9h.3M58.3 140.0h.3M38.8 128.3h.3M54.2 138.7h.3M50.8 137.7h.3M56.0 139.0h.3M48.3 129.0h.3M50.7 146.1h.3M54.1 143.5h.3M52.6 138.6h.3M52.6 144.4h.3M57.5 140.4h.3M63.4 121.0h.3M55.5 142.6h.3M41.5 128.6h.3M30.1 133.7h.3M64.1 128.0h.3M48.0 128.9h.3M46.9 120.5h.3M35.4 130.6h.3M59.8 128.6h.3M48.7 120.4h.3M51.1 145.1h.3M52.5 139.4h.3M53.9 142.4h.3M53.1 143.0h.3M49.4 137.5h.3M61.2 120.8h.3M48.5 149.0h.3M51.2 138.8h.3M44.3 132.9h.3M51.3 144.5h.3M25.9 154.5h.3M53.6 140.7h.3M64.5 121.4h.3M49.2 137.6h.3M57.7 128.8h.3M48.3 149.1h.3M36.8 124.9h.3M63.0 121.1h.3M42.2 131.6h.3M25.0 144.1h.3M29.7 134.4h.3M33.0 131.9h.3M37.2 123.9h.3M25.7 153.7h.3M52.0 140.3h.3M51.0 144.2h.3M51.4 143.3h.3M51.8 140.6h.3M27.8 157.8h.3M45.7 120.8h.3M43.1 132.5h.3M65.1 121.7h.3M48.1 148.8h.3M56.5 128.7h.3M37.7 125.7h.3M61.2 128.2h.3M50.3 139.9h.3" stroke="rgb(98, 104, 241)" stroke-opacity="0.4" stroke-width="0.75" stroke-linecap="square" fill="none"/>
<path d="M30.0 134.5h.3M47.3 128.5h.3M50.0 139.7h.3M35.5 131.3h.3M62.1 128.1h.3M42.4 127.8h.3M49.6 145.0h.3M50.2 143.1h.3M43.5 133.3h.3M48.2 137.9h.3M46.8 136.4h.3M68.8 125.4h.3M57.0 120.6h.3M38.9 126.4h.3M50.0 141.7h.3M37.9 124.7h.3M49.9 142.4h.3M25.9 142.4h.3M56.3 120.6h.3M49.4 140.5h.3M45.6 135.4h.3M62.4 121.3h.3M25.2 147.7h.3M26.2 153.8h.3M49.3 140.5h.3M63.5 127.6h.3M39.4 123.1h.3M45.3 135.3h.3M48.3 120.8h.3M68.7 124.0h.3M41.0 122.4h.3M51.2 120.7h.3M39.4 123.2h.3M49.4 120.8h.3M67.3 126.2h.3M47.5 148.2h.3M53.9 120.7h.3M47.8 147.4h.3M48.5 139.9h.3M48.7 144.8h.3M45.8 151.7h.3" stroke="rgb(90, 99, 240)" stroke-opacity="0.4" stroke-width="0.75" stroke-linecap="square" fill="none"/>
<path d="M41.0 126.9h.3M55.2 128.5h.3M68.5 124.1h.3M46.9 149.2h.3M67.7 125.9h.3M55.4 120.7h.3M68.5 124.7h.3M54.8 128.4h.3M46.8 128.1h.3M41.1 158.1h.3M46.1 136.9h.3M48.1 140.0h.3M63.5 127.5h.3M55.1 120.8h.3M26.4 142.1h.3M68.4 124.6h.3M48.2 128.2h.3M25.6 149.7h.3M27.7 156.4h.3M41.7 122.5h.3M63.8 127.3h.3M44.7 127.6h.3M45.3 127.7h.3M30.8 135.1h.3M56.4 120.9h.3M46.3 127.9h.3M39.5 125.4h.3M47.9 144.6h.3M38.2 132.4h.3M66.8 126.1h.3M40.1 123.5h.3M48.0 128.0h.3M41.4 122.7h.3M43.0 127.1h.3" stroke="rgb(84, 94, 240)" stroke-opacity="0.55" stroke-width="0.75" stroke-linecap="square" fill="none"/>
<path d="M41.2 126.5h.3M47.7 144.6h.3M46.4 138.7h.3M26.3 151.9h.3M40.2 133.3h.3M49.5 121.1h.3M54.5 128.2h.3M47.1 146.1h.3M37.8 132.8h.3M47.8 127.8h.3M41.4 123.1h.3M43.1 135.3h.3M42.9 135.1h.3M47.1 144.7h.3M40.2 125.0h.3M43.9 122.2h.3M67.1 123.7h.3M45.8 138.6h.3" stroke="rgb(81, 93, 240)" stroke-opacity="0.55" stroke-width="0.75" stroke-linecap="square" fill="none"/>
<path d="M26.0 148.8h.3M62.1 127.4h.3M35.3 133.4h.3M45.3 150.1h.3M40.4 133.9h.3M42.3 155.6h.3M46.9 144.2h.3M44.6 137.2h.3M45.8 148.7h.3M43.7 122.4h.3M57.8 127.9h.3M49.2 127.8h.3M41.2 123.5h.3M40.8 123.9h.3M27.1 142.2h.3M46.1 147.2h.3M66.7 125.5h.3M30.0 137.1h.3M41.1 125.4h.3M38.4 133.6h.3M43.9 137.0h.3M45.0 138.4h.3M45.5 139.4h.3M46.5 142.8h.3" stroke="rgb(78, 92, 240)" stroke-opacity="0.55" stroke-width="0.75" stroke-linecap="square" fill="none"/>
<path d="M30.5 136.7h.3M42.2 123.1h.3M53.8 121.2h.3M43.1 122.8h.3M30.3 158.3h.3M41.9 125.8h.3M37.2 133.8h.3M46.2 142.9h.3M45.7 140.7h.3M55.7 121.3h.3M43.6 137.1h.3M38.1 134.0h.3M66.7 124.9h.3M53.9 127.9h.3M43.6 152.5h.3M38.5 134.1h.3M57.7 121.4h.3M41.7 125.4h.3M43.4 126.4h.3M43.0 123.0h.3M40.8 135.0h.3" stroke="rgb(75, 90, 240)" stroke-opacity="0.55" stroke-width="0.75" stroke-linecap="square" fill="none"/>
<path d="M53.0 121.3h.3M28.9 156.5h.3M42.9 126.1h.3M44.6 139.1h.3M27.3 143.1h.3M45.3 140.9h.3M45.4 141.6h.3M31.8 136.2h.3M61.1 127.2h.3M33.7 159.6h.3" stroke="rgb(71, 89, 240)" stroke-opacity="0.55" stroke-width="0.75" stroke-linecap="square" fill="none"/>
<path d="M45.5 143.7h.3M44.3 139.2h.3M36.7 134.5h.3M65.7 125.5h.3M27.2 144.0h.3M45.1 146.9h.3M65.9 125.1h.3M45.2 146.1h.3M43.4 138.3h.3M45.1 142.2h.3M62.7 126.7h.3M45.3 144.7h.3M52.6 127.6h.3M28.5 140.7h.3M44.9 141.5h.3M27.2 151.7h.3M55.5 121.6h.3" stroke="rgb(68, 88, 240)" stroke-opacity="0.55" stroke-width="0.75" stroke-linecap="square" fill="none"/>
<path d="M45.1 142.9h.3M44.1 139.8h.3M45.0 143.1h.3M34.4 135.3h.3M45.2 122.6h.3M29.8 138.8h.3M63.2 126.5h.3M37.7 158.5h.3M44.8 146.8h.3M62.6 122.5h.3M54.3 127.6h.3M42.8 123.9h.3M39.9 156.8h.3M41.7 136.9h.3M38.0 135.1h.3M60.0 127.2h.3M37.4 135.1h.3M48.7 121.9h.3M58.6 121.8h.3M62.5 126.6h.3M51.9 127.5h.3M64.0 126.1h.3M57.1 127.5h.3M35.4 159.2h.3M43.0 138.5h.3" stroke="rgb(65, 86, 240)" stroke-opacity="0.55" stroke-width="0.75" stroke-linecap="square" fill="none"/>
<path d="M27.2 145.3h.3M43.2 123.8h.3M47.8 122.1h.3M65.3 125.1h.3M44.4 123.1h.3M31.0 137.8h.3M43.5 125.6h.3M44.4 147.0h.3M43.9 125.8h.3M27.0 147.5h.3M44.2 141.5h.3M42.9 138.8h.3M27.3 145.5h.3M63.8 126.1h.3M40.8 155.4h.3M59.4 127.1h.3M44.1 141.4h.3M60.0 122.1h.3M43.1 124.2h.3" stroke="rgb(62, 85, 240)" stroke-opacity="0.55" stroke-width="0.75" stroke-linecap="square" fill="none"/>
<path d="M65.2 124.7h.3M50.7 127.3h.3M42.1 138.1h.3M64.0 125.9h.3M44.4 144.2h.3M27.4 145.4h.3M54.6 121.8h.3M51.5 127.3h.3M43.4 149.8h.3M54.4 121.8h.3M43.9 141.9h.3" stroke="rgb(59, 84, 240)" stroke-opacity="0.55" stroke-width="0.75" stroke-linecap="square" fill="none"/>
<path d="M64.9 125.0h.3M38.8 157.3h.3M57.4 121.9h.3M34.2 136.2h.3M40.7 155.2h.3M44.0 142.9h.3M41.5 137.9h.3M27.2 148.2h.3M42.5 139.2h.3M41.8 138.3h.3M43.7 141.5h.3M51.6 121.9h.3M43.4 141.1h.3M43.9 123.9h.3M43.5 141.1h.3M54.5 127.4h.3M40.8 137.4h.3M52.8 127.3h.3M40.0 155.9h.3M50.9 122.0h.3M44.7 125.8h.3" stroke="rgb(56, 82, 240)" stroke-opacity="0.55" stroke-width="0.75" stroke-linecap="square" fill="none"/>
<path d="M64.6 124.8h.3M47.7 122.4h.3M44.6 125.7h.3M43.7 147.1h.3M56.1 127.2h.3M28.7 141.9h.3M42.4 151.5h.3M43.9 124.4h.3M31.0 157.4h.3M36.2 136.2h.3M43.9 124.3h.3M54.6 121.9h.3M55.6 121.9h.3M63.7 125.6h.3M41.2 138.3h.3" stroke="rgb(53, 81, 240)" stroke-opacity="0.55" stroke-width="0.75" stroke-linecap="square" fill="none"/>
<path d="M43.3 148.3h.3M44.0 124.9h.3M35.2 158.6h.3M39.0 156.7h.3M48.7 126.8h.3M50.8 127.1h.3M27.7 151.1h.3M43.0 149.3h.3M53.3 122.0h.3M51.6 122.1h.3M61.8 126.3h.3M63.5 123.6h.3M29.4 141.0h.3M63.9 125.2h.3M58.0 122.2h.3M28.7 142.3h.3" stroke="rgb(50, 80, 240)" stroke-opacity="0.75" stroke-width="0.75" stroke-linecap="square" fill="none"/>
<path d="M49.4 126.9h.3M61.6 122.9h.3M46.4 126.2h.3M62.1 123.0h.3M43.1 142.1h.3M30.5 156.6h.3M38.3 157.1h.3M42.5 150.4h.3M43.3 143.7h.3M63.9 124.9h.3M59.7 122.5h.3M58.2 122.3h.3M33.3 158.3h.3M63.2 125.6h.3M49.4 122.4h.3M56.2 127.1h.3M27.6 148.2h.3M63.0 123.5h.3" stroke="rgb(49, 81, 239)" stroke-opacity="0.75" stroke-width="0.75" stroke-linecap="square" fill="none"/>
<path d="M49.2 122.4h.3M59.1 126.8h.3M50.2 126.9h.3M43.3 146.0h.3M59.7 126.7h.3M44.6 125.0h.3M60.7 126.5h.3M32.4 137.9h.3M44.9 125.3h.3M44.7 125.0h.3M45.2 125.4h.3M36.0 158.2h.3M46.4 123.1h.3M43.0 147.7h.3M46.2 125.9h.3M41.9 140.2h.3M47.7 126.4h.3M59.6 122.5h.3M44.8 125.1h.3M37.2 136.9h.3M47.1 126.2h.3M48.6 122.6h.3" stroke="rgb(48, 82, 239)" stroke-opacity="0.75" stroke-width="0.75" stroke-linecap="square" fill="none"/>
<path d="M41.7 140.0h.3M30.5 139.8h.3M30.5 156.4h.3M29.3 154.7h.3M30.2 140.2h.3M47.4 126.3h.3M63.1 125.4h.3M43.0 144.2h.3M31.2 139.1h.3M31.7 138.7h.3M39.1 137.8h.3M62.1 125.9h.3M37.5 137.2h.3M58.2 126.8h.3M27.8 148.9h.3M40.6 139.0h.3" stroke="rgb(48, 83, 239)" stroke-opacity="0.75" stroke-width="0.75" stroke-linecap="square" fill="none"/>
<path d="M29.9 140.7h.3M36.3 137.1h.3M50.2 126.7h.3M49.1 122.6h.3M42.2 141.7h.3M52.9 126.9h.3M62.9 125.3h.3M45.2 124.5h.3M35.1 137.3h.3M35.4 137.2h.3M42.4 142.5h.3M50.5 122.5h.3M27.8 147.9h.3M62.9 123.9h.3M42.7 147.6h.3M63.1 124.2h.3M48.1 122.9h.3M51.5 122.4h.3M40.4 154.1h.3M58.9 122.6h.3M46.6 123.4h.3M48.4 126.3h.3M42.6 144.0h.3M63.0 124.1h.3M45.6 124.2h.3M60.4 123.0h.3M45.6 125.0h.3M51.4 122.4h.3M38.7 156.2h.3M40.8 153.1h.3M49.7 126.5h.3M39.7 155.0h.3M41.9 150.3h.3M28.2 145.6h.3M40.9 153.0h.3M42.5 144.7h.3M31.8 139.1h.3M30.3 155.7h.3M28.1 146.2h.3M40.9 140.2h.3M41.7 150.9h.3M39.1 138.5h.3M37.9 156.7h.3M52.4 122.4h.3M28.0 148.6h.3M50.9 126.6h.3M42.4 146.7h.3M62.8 124.7h.3M62.1 125.5h.3M35.4 137.7h.3M40.9 140.4h.3M46.2 125.3h.3M46.3 125.3h.3M50.0 126.5h.3" stroke="rgb(47, 85, 239)" stroke-opacity="0.75" stroke-width="0.75" stroke-linecap="square" fill="none"/>
<path d="M34.4 137.9h.3M62.2 125.4h.3M32.8 138.5h.3M39.1 138.7h.3M60.1 123.0h.3M62.1 123.8h.3M53.3 122.4h.3M58.4 122.7h.3M57.3 122.6h.3M57.8 126.5h.3M35.3 137.8h.3M36.9 137.9h.3M42.3 146.9h.3M46.1 124.5h.3M47.6 123.3h.3M54.6 122.5h.3M42.2 144.7h.3M61.7 125.4h.3M46.3 124.3h.3M50.7 122.7h.3M58.3 126.4h.3M28.4 150.6h.3M41.1 141.4h.3M51.3 126.5h.3M29.6 154.2h.3M46.8 125.3h.3M41.8 149.2h.3M53.9 126.6h.3M29.4 142.7h.3M32.8 157.2h.3M48.4 126.0h.3M42.1 145.4h.3M29.3 143.0h.3M39.9 154.0h.3M62.0 124.9h.3M42.0 145.1h.3M62.1 124.5h.3M37.6 138.4h.3M40.1 140.2h.3M41.6 143.2h.3M61.9 124.1h.3M60.0 123.2h.3M30.2 155.0h.3M47.0 125.3h.3M62.0 124.7h.3M41.7 148.9h.3M41.6 143.6h.3M37.9 138.7h.3M50.8 122.8h.3M41.9 147.7h.3M47.0 124.0h.3M39.1 155.0h.3M56.4 126.5h.3M41.7 143.9h.3M49.9 123.0h.3M36.4 157.1h.3M28.3 149.2h.3M28.4 146.7h.3M50.8 126.3h.3M41.8 147.1h.3M46.9 125.0h.3M31.9 156.6h.3M41.8 145.9h.3M55.8 126.5h.3M48.4 125.8h.3M47.1 124.9h.3M35.4 138.4h.3M58.4 123.0h.3M38.8 139.5h.3M39.4 140.0h.3M48.0 125.5h.3M52.4 122.8h.3M32.9 157.0h.3M58.7 123.1h.3" stroke="rgb(43, 93, 237)" stroke-opacity="0.75" stroke-width="0.75" stroke-linecap="square" fill="none"/>
<path d="M40.2 141.1h.3M38.6 139.5h.3M53.4 126.4h.3M50.0 126.1h.3M47.8 125.3h.3M48.1 123.7h.3M47.8 123.9h.3M59.9 123.5h.3M37.4 139.0h.3M58.1 123.1h.3M38.2 139.4h.3M41.0 143.2h.3M51.2 126.2h.3M60.5 125.3h.3M37.4 139.1h.3M48.5 123.7h.3M54.6 126.3h.3M38.7 155.0h.3M54.9 126.3h.3M37.8 155.9h.3M55.2 122.9h.3M55.7 126.3h.3M34.7 138.8h.3M33.0 139.4h.3M40.9 150.7h.3M50.5 126.0h.3M50.0 125.9h.3M61.0 124.5h.3M49.9 125.9h.3M41.1 143.9h.3M40.7 142.6h.3M51.0 123.1h.3M33.7 139.1h.3M40.7 142.7h.3M49.3 125.7h.3M48.0 124.1h.3M58.9 123.4h.3M40.2 141.8h.3M31.2 155.6h.3M39.2 154.2h.3M40.5 151.7h.3M52.6 123.0h.3M57.8 123.2h.3M41.0 149.8h.3M40.9 150.3h.3M57.8 126.0h.3M59.2 123.5h.3M28.8 146.4h.3M40.6 151.4h.3M58.7 125.8h.3M50.6 125.9h.3M28.8 146.6h.3M41.0 149.5h.3M55.1 123.0h.3M51.5 123.2h.3M48.6 124.0h.3M51.7 123.2h.3M34.3 156.9h.3M41.2 147.8h.3M59.3 125.5h.3M38.7 140.4h.3M29.0 151.2h.3M59.4 123.8h.3" stroke="rgb(39, 101, 236)" stroke-opacity="0.75" stroke-width="0.75" stroke-linecap="square" fill="none"/>
<path d="M36.8 156.3h.3M30.4 142.2h.3M51.1 123.3h.3M39.9 142.0h.3M54.4 123.1h.3M53.5 126.1h.3M58.9 125.6h.3M48.8 125.1h.3M34.9 139.2h.3M41.1 148.1h.3M59.4 125.3h.3M40.1 142.4h.3M54.4 123.1h.3M56.9 125.9h.3M54.4 123.1h.3M58.7 125.6h.3M38.0 155.4h.3M59.9 124.9h.3M59.0 123.7h.3M55.0 123.1h.3M35.3 156.8h.3M35.4 139.3h.3M39.7 142.0h.3M32.2 140.4h.3M58.5 125.6h.3M41.0 145.7h.3M51.1 125.8h.3M39.1 141.2h.3M49.2 124.0h.3M58.6 123.7h.3M49.2 125.2h.3M56.1 125.9h.3M29.7 144.0h.3M49.4 124.0h.3M38.7 140.8h.3M59.7 124.3h.3M51.5 123.4h.3M56.4 125.9h.3M48.9 124.7h.3M59.1 123.9h.3M56.4 123.3h.3M49.1 124.2h.3M49.5 125.2h.3M52.1 123.3h.3M57.8 123.5h.3M51.5 125.8h.3M50.2 125.5h.3M37.4 139.9h.3M58.9 125.3h.3M53.6 125.9h.3M38.2 155.0h.3M59.4 125.0h.3M39.2 153.5h.3M58.4 123.7h.3M40.7 149.4h.3M57.2 125.7h.3M50.7 125.5h.3M39.7 152.7h.3M51.9 123.4h.3M57.5 125.6h.3M49.3 124.5h.3M52.0 125.8h.3M53.0 125.9h.3M53.8 125.9h.3M29.8 152.9h.3M59.1 125.0h.3M53.7 125.9h.3M31.3 141.5h.3M53.1 123.4h.3M30.4 142.8h.3M31.3 141.5h.3M52.1 125.7h.3M50.5 123.8h.3M40.8 147.0h.3M58.3 125.3h.3" stroke="rgb(35, 110, 235)" stroke-opacity="0.9" stroke-width="1.0" stroke-linecap="square" fill="none"/>
<path d="M50.6 123.8h.3M40.8 146.5h.3M38.6 141.1h.3M35.8 139.7h.3M59.0 124.4h.3M32.1 140.8h.3M50.6 125.3h.3M55.6 125.8h.3M57.2 123.6h.3M58.9 124.8h.3M50.0 124.2h.3M52.0 123.6h.3M58.8 124.9h.3M58.6 124.1h.3M55.3 125.8h.3M51.4 125.5h.3M55.3 125.8h.3M33.7 140.0h.3M31.6 155.3h.3M58.3 125.2h.3M58.7 124.9h.3M58.9 124.6h.3M34.7 139.8h.3M50.4 124.1h.3M50.0 124.9h.3M53.6 125.7h.3M58.8 124.7h.3M53.4 123.5h.3M57.7 125.3h.3M40.1 151.2h.3M40.7 147.5h.3M39.4 142.5h.3M58.3 124.2h.3M38.6 154.1h.3M29.4 145.7h.3M58.6 124.6h.3M53.7 125.7h.3M50.2 124.4h.3M50.4 124.9h.3M32.0 141.1h.3M58.3 124.3h.3M58.3 124.2h.3M57.9 125.1h.3M50.6 125.0h.3M58.1 125.0h.3M38.8 153.7h.3M50.5 124.4h.3M54.2 123.6h.3M38.4 141.3h.3M52.5 125.5h.3M32.4 140.9h.3M40.3 150.0h.3M50.6 124.6h.3M37.8 154.9h.3M33.1 156.0h.3M40.5 146.9h.3M30.7 142.7h.3M52.0 123.9h.3" stroke="rgb(30, 120, 230)" stroke-opacity="0.9" stroke-width="1.0" stroke-linecap="square" fill="none"/>
<path d="M52.2 125.3h.3M50.8 124.5h.3M50.8 124.5h.3M33.3 140.4h.3M55.2 123.7h.3M57.7 124.8h.3M35.5 156.1h.3M37.7 141.0h.3M51.8 124.0h.3M40.4 148.5h.3M54.7 125.5h.3M51.2 124.4h.3M52.3 125.3h.3M55.0 125.4h.3M51.6 124.1h.3M54.4 123.7h.3M34.3 156.2h.3M38.9 142.2h.3M40.4 147.6h.3M30.8 142.7h.3M51.8 125.1h.3M53.6 125.4h.3M54.5 123.8h.3M37.0 155.4h.3M51.3 124.5h.3M39.1 142.6h.3M30.2 144.0h.3M38.9 142.3h.3M31.2 154.4h.3M32.6 141.0h.3M40.1 145.1h.3M53.7 123.9h.3M31.9 141.6h.3M52.0 125.0h.3M37.7 141.2h.3M54.5 123.9h.3M40.3 146.8h.3M55.7 125.2h.3M32.1 141.4h.3M38.8 142.3h.3M32.2 155.3h.3M52.3 124.2h.3M56.9 124.7h.3M54.3 125.2h.3M54.1 124.0h.3M40.2 146.4h.3M36.0 155.8h.3M56.6 124.5h.3M33.5 140.6h.3M54.8 125.2h.3M40.0 145.1h.3M53.9 125.1h.3M39.2 143.2h.3M52.5 124.3h.3M52.8 125.0h.3M29.7 145.7h.3M36.5 140.6h.3M29.7 151.3h.3M52.7 124.8h.3M54.8 124.1h.3" stroke="rgb(26, 130, 226)" stroke-opacity="0.9" stroke-width="1.0" stroke-linecap="square" fill="none"/>
<path d="M52.6 124.5h.3M37.1 141.0h.3M54.1 124.1h.3M39.4 143.7h.3M38.0 154.3h.3M55.9 124.4h.3M39.9 145.3h.3M56.0 124.7h.3M55.5 124.8h.3M54.6 124.2h.3M29.6 146.5h.3M54.7 124.3h.3M54.5 124.3h.3M53.2 124.7h.3M54.6 124.3h.3M39.3 152.0h.3M53.7 124.8h.3M54.0 124.4h.3M55.2 124.5h.3M54.2 124.4h.3M38.4 142.3h.3M54.7 124.5h.3M31.8 154.7h.3M31.0 143.0h.3M38.6 142.6h.3M38.7 153.1h.3M29.9 145.2h.3M30.2 144.6h.3M40.1 148.2h.3M38.7 153.1h.3M39.5 151.3h.3M39.6 144.7h.3M39.7 145.2h.3M33.4 155.6h.3M31.0 153.7h.3M31.7 142.2h.3M39.9 149.2h.3M40.0 148.1h.3" stroke="rgb(22, 141, 222)" stroke-opacity="0.9" stroke-width="1.0" stroke-linecap="square" fill="none"/>
<path d="M33.5 155.6h.3M37.8 154.1h.3M30.0 145.4h.3M39.6 144.9h.3M39.6 150.7h.3M38.3 142.5h.3M31.7 142.4h.3M38.5 153.2h.3M33.6 141.0h.3M29.8 150.5h.3M36.3 141.0h.3M39.6 145.5h.3M34.2 140.9h.3M33.8 155.5h.3M36.8 141.4h.3M37.5 141.8h.3M39.0 152.0h.3M39.1 151.7h.3M30.5 144.4h.3M30.5 144.4h.3M36.1 155.2h.3" stroke="rgb(18, 151, 218)" stroke-opacity="0.9" stroke-width="1.0" stroke-linecap="square" fill="none"/>
<path d="M39.8 148.0h.3M30.3 151.8h.3M33.6 141.3h.3M37.7 154.0h.3M29.7 148.1h.3M37.4 142.1h.3M39.4 145.4h.3M30.7 152.6h.3M39.6 149.3h.3M36.7 141.6h.3M39.4 145.5h.3M36.7 141.6h.3M36.1 141.3h.3M31.3 153.5h.3M39.5 146.3h.3M38.8 144.0h.3M34.6 141.2h.3M35.4 141.3h.3" stroke="rgb(15, 160, 213)" stroke-opacity="1" stroke-width="1.0" stroke-linecap="square" fill="none"/>
<path d="M30.7 144.4h.3M29.9 148.6h.3M34.0 141.4h.3M30.8 144.3h.3M35.6 141.4h.3M38.8 144.3h.3M39.1 144.9h.3M37.1 142.1h.3M36.5 154.7h.3M31.6 143.1h.3M37.9 142.8h.3M29.9 147.9h.3M37.7 153.5h.3M31.8 153.9h.3M37.9 142.9h.3M30.0 147.9h.3M37.1 154.1h.3M36.3 154.7h.3" stroke="rgb(15, 165, 204)" stroke-opacity="1" stroke-width="1.0" stroke-linecap="square" fill="none"/>
<path d="M30.6 151.8h.3M39.4 148.4h.3M32.9 142.1h.3M32.4 142.4h.3M39.4 148.3h.3M38.7 151.6h.3M30.1 147.4h.3M33.3 154.8h.3M37.2 142.4h.3M36.2 154.6h.3M37.9 143.3h.3M36.1 141.8h.3M39.1 146.1h.3M37.1 154.0h.3M38.9 151.0h.3M36.1 154.6h.3M30.7 151.9h.3M30.5 145.7h.3M30.1 148.1h.3" stroke="rgb(16, 170, 195)" stroke-opacity="1" stroke-width="1.0" stroke-linecap="square" fill="none"/>
<path d="M35.0 154.9h.3M35.5 141.8h.3M36.3 142.0h.3M30.8 145.0h.3M30.8 151.9h.3M34.1 141.8h.3M35.2 141.8h.3M39.0 146.0h.3M39.2 148.8h.3M38.6 145.0h.3M30.2 148.9h.3M38.9 150.5h.3M38.3 152.0h.3M36.9 142.6h.3" stroke="rgb(17, 175, 186)" stroke-opacity="1" stroke-width="1.0" stroke-linecap="square" fill="none"/>
<path d="M36.5 154.2h.3M36.5 142.4h.3M32.4 142.9h.3M30.3 147.9h.3M38.4 144.6h.3M33.9 154.7h.3M38.9 146.1h.3M33.5 142.2h.3M30.9 145.1h.3M31.4 152.8h.3M38.5 151.5h.3M37.8 152.7h.3M30.7 145.7h.3M34.2 154.7h.3M36.5 154.0h.3M36.5 142.5h.3M35.4 154.5h.3M38.3 151.7h.3" stroke="rgb(17, 180, 177)" stroke-opacity="1" stroke-width="1.0" stroke-linecap="square" fill="none"/>
<path d="M38.6 150.8h.3M31.8 153.2h.3M33.8 142.3h.3M36.9 153.6h.3M37.4 143.4h.3M36.3 142.5h.3M33.8 142.3h.3M38.2 151.6h.3M30.7 150.7h.3M31.4 152.5h.3M33.8 142.3h.3M36.2 154.1h.3M38.9 147.3h.3M38.9 147.2h.3M30.6 146.6h.3M30.9 145.6h.3" stroke="rgb(18, 185, 168)" stroke-opacity="1" stroke-width="1.0" stroke-linecap="square" fill="none"/>
<path d="M33.5 142.6h.3M36.8 143.1h.3M34.3 142.3h.3M30.5 149.2h.3M38.9 148.2h.3M38.2 151.4h.3M38.5 150.5h.3M30.6 147.0h.3M31.0 145.8h.3M35.6 142.5h.3M35.9 142.6h.3M36.6 153.6h.3M37.9 152.0h.3M31.8 152.7h.3" stroke="rgb(19, 190, 159)" stroke-opacity="1" stroke-width="1.0" stroke-linecap="square" fill="none"/>
<path d="M33.9 142.5h.3M30.6 147.2h.3M34.0 154.3h.3M32.1 153.0h.3M33.4 154.1h.3M36.0 153.9h.3M36.0 142.8h.3M35.7 154.0h.3M33.0 153.8h.3M36.7 143.2h.3M33.6 142.7h.3M33.4 142.8h.3M31.4 151.9h.3M37.8 151.9h.3M34.7 154.2h.3M32.3 143.7h.3M38.4 146.2h.3M31.1 145.7h.3M33.1 143.1h.3M33.8 142.8h.3" stroke="rgb(20, 195, 150)" stroke-opacity="1" stroke-width="1.0" stroke-linecap="square" fill="none"/>
<path d="M38.3 150.4h.3M38.5 149.5h.3M38.6 149.0h.3M32.0 144.2h.3M38.4 149.9h.3M31.1 146.1h.3M38.0 145.3h.3M31.8 152.4h.3" stroke="rgb(25, 196, 140)" stroke-opacity="1" stroke-width="1.0" stroke-linecap="square" fill="none"/>
<path d="M32.4 143.9h.3M38.3 150.0h.3M31.0 150.4h.3M31.7 152.1h.3M38.2 146.1h.3M38.4 147.3h.3M37.3 144.3h.3M30.9 147.7h.3M36.4 143.4h.3M34.1 143.0h.3" stroke="rgb(31, 198, 130)" stroke-opacity="1" stroke-width="1.0" stroke-linecap="square" fill="none"/>
<path d="M30.9 147.5h.3M38.3 147.2h.3M35.9 153.5h.3M35.4 143.1h.3M32.0 144.7h.3M34.7 153.8h.3M33.3 143.4h.3M38.3 149.1h.3M30.9 148.7h.3" stroke="rgb(36, 200, 120)" stroke-opacity="1" stroke-width="1.0" stroke-linecap="square" fill="none"/>
<path d="M35.8 143.3h.3M34.5 143.1h.3M36.5 143.8h.3M34.5 153.7h.3M33.7 143.3h.3M35.9 143.4h.3M37.7 151.2h.3M31.6 151.3h.3M31.2 150.0h.3M36.8 152.5h.3M35.5 153.5h.3M35.3 153.5h.3M36.7 152.7h.3" stroke="rgb(42, 201, 110)" stroke-opacity="1" stroke-width="1.0" stroke-linecap="square" fill="none"/>
<path d="M36.1 153.2h.3M32.1 144.8h.3M31.0 148.9h.3M36.4 143.8h.3M32.3 152.4h.3M34.6 143.2h.3M34.4 143.2h.3M31.8 145.3h.3M32.6 152.7h.3M33.0 143.9h.3M37.2 151.8h.3M32.1 152.0h.3M31.7 145.7h.3M37.2 151.9h.3M31.2 147.5h.3M31.1 148.4h.3" stroke="rgb(47, 203, 99)" stroke-opacity="1" stroke-width="1.0" stroke-linecap="square" fill="none"/>
<path d="M36.1 143.7h.3M31.1 148.9h.3M36.0 143.7h.3M31.6 145.9h.3M37.5 145.4h.3M34.0 143.5h.3M31.8 151.4h.3M37.8 150.3h.3M32.1 151.9h.3M31.7 151.2h.3M36.1 143.8h.3M36.7 144.3h.3M36.7 152.4h.3M38.0 147.7h.3M31.7 151.1h.3" stroke="rgb(53, 205, 90)" stroke-opacity="1" stroke-width="1.0" stroke-linecap="square" fill="none"/>
<path d="M33.2 153.0h.3M37.1 151.8h.3M35.2 153.3h.3M32.2 145.1h.3M37.8 146.6h.3M32.2 145.0h.3M31.7 151.0h.3M33.2 144.0h.3M31.3 149.7h.3M33.1 144.1h.3M34.9 143.6h.3M35.9 143.9h.3M38.0 148.6h.3" stroke="rgb(58, 206, 79)" stroke-opacity="1" stroke-width="1.0" stroke-linecap="square" fill="none"/>
<path d="M31.6 150.7h.3M36.0 152.8h.3M31.3 147.9h.3M32.4 152.0h.3M34.3 143.6h.3M37.8 149.4h.3M31.3 148.9h.3M37.0 145.1h.3M35.6 153.0h.3M37.9 149.0h.3M34.3 153.2h.3M37.8 147.3h.3M34.8 153.2h.3M35.3 143.8h.3M37.3 151.0h.3" stroke="rgb(64, 208, 70)" stroke-opacity="1" stroke-width="1.0" stroke-linecap="square" fill="none"/>
<path d="M36.0 144.1h.3M31.5 147.3h.3M36.7 144.8h.3M31.6 150.1h.3M35.1 153.1h.3M35.0 153.1h.3M37.8 148.0h.3M36.4 152.3h.3M36.7 144.9h.3M36.8 145.0h.3M31.4 148.7h.3M32.0 145.8h.3M32.8 152.4h.3M32.2 145.5h.3M33.7 152.9h.3M32.7 152.2h.3M33.1 152.5h.3" stroke="rgb(70, 210, 60)" stroke-opacity="1" stroke-width="1.0" stroke-linecap="square" fill="none"/>
<path d="M31.8 146.4h.3M31.8 146.5h.3M35.7 144.1h.3M36.5 152.1h.3M35.4 144.0h.3M31.5 148.1h.3M32.2 151.3h.3M33.5 152.7h.3M32.7 144.9h.3M35.2 152.8h.3" stroke="rgb(79, 211, 55)" stroke-opacity="1" stroke-width="1.0" stroke-linecap="square" fill="none"/>
<path d="M32.7 145.0h.3M32.0 150.9h.3M31.6 149.3h.3M32.2 151.3h.3M36.4 152.0h.3M31.6 147.6h.3M34.0 144.1h.3M36.9 145.5h.3M35.3 144.2h.3M37.3 146.4h.3M37.6 147.5h.3M36.6 151.7h.3" stroke="rgb(88, 212, 50)" stroke-opacity="1" stroke-width="1.0" stroke-linecap="square" fill="none"/>
<path d="M31.7 149.6h.3M35.4 144.2h.3M35.9 144.5h.3M37.6 148.0h.3M36.7 145.3h.3M36.2 144.7h.3M36.3 151.9h.3M35.4 144.3h.3M35.0 152.7h.3M34.1 144.3h.3" stroke="rgb(97, 213, 45)" stroke-opacity="1" stroke-width="1.0" stroke-linecap="square" fill="none"/>
<path d="M37.5 147.6h.3M32.9 152.0h.3M33.0 152.0h.3M35.1 152.6h.3M32.9 145.0h.3M34.3 144.3h.3M36.9 150.9h.3M37.4 149.3h.3M31.9 150.1h.3M35.7 152.3h.3M35.1 152.5h.3M33.0 152.0h.3M32.2 146.2h.3M37.5 148.6h.3M37.3 149.5h.3" stroke="rgb(106, 215, 39)" stroke-opacity="1" stroke-width="1.0" stroke-linecap="square" fill="none"/>
<path d="M36.3 151.7h.3M32.6 145.6h.3M36.0 152.0h.3M37.2 147.0h.3M34.7 144.4h.3M33.7 144.6h.3M34.3 152.5h.3" stroke="rgb(115, 216, 35)" stroke-opacity="1" stroke-width="1.0" stroke-linecap="square" fill="none"/>
<path d="M32.7 151.5h.3M34.0 144.6h.3M33.7 144.7h.3M31.9 149.1h.3M34.1 144.6h.3M34.1 152.4h.3M32.6 145.9h.3M31.9 148.4h.3M32.7 145.6h.3M37.2 149.6h.3M37.3 148.5h.3M34.2 152.4h.3M37.2 147.3h.3" stroke="rgb(125, 217, 29)" stroke-opacity="1" stroke-width="1.0" stroke-linecap="square" fill="none"/>
<path d="M33.7 152.2h.3M37.1 149.8h.3M35.0 144.6h.3M31.9 148.1h.3M35.8 151.9h.3M32.1 149.9h.3M32.0 149.1h.3M37.2 148.2h.3M32.7 151.1h.3M32.9 145.6h.3" stroke="rgb(134, 218, 25)" stroke-opacity="1" stroke-width="1.0" stroke-linecap="square" fill="none"/>
<path d="M32.1 147.5h.3M33.6 152.0h.3M32.0 149.2h.3M32.8 151.2h.3M37.0 149.8h.3M34.7 144.7h.3M35.1 152.1h.3M32.4 150.4h.3M34.0 152.1h.3" stroke="rgb(143, 220, 19)" stroke-opacity="1" stroke-width="1.0" stroke-linecap="square" fill="none"/>
<path d="M37.0 147.5h.3M32.1 148.2h.3M32.2 149.7h.3M36.4 145.9h.3M34.8 144.8h.3M36.0 145.4h.3M35.1 144.9h.3M32.1 148.2h.3M37.0 147.5h.3M36.9 149.8h.3M34.8 152.0h.3M34.9 144.9h.3M32.7 146.1h.3" stroke="rgb(152, 221, 15)" stroke-opacity="1" stroke-width="1.0" stroke-linecap="square" fill="none"/>
<path d="M32.3 150.0h.3M34.4 152.0h.3M32.6 150.6h.3M33.4 151.6h.3M32.5 146.5h.3M35.7 151.6h.3M34.6 144.9h.3M34.6 144.9h.3M32.4 150.2h.3M34.1 145.0h.3M35.8 151.5h.3M32.5 146.8h.3" stroke="rgb(161, 222, 10)" stroke-opacity="1" stroke-width="1.0" stroke-linecap="square" fill="none"/>
<path d="M36.0 145.6h.3M33.1 145.9h.3M36.2 151.0h.3M36.9 148.0h.3M33.0 146.0h.3M34.2 145.1h.3M35.3 151.7h.3M36.7 149.8h.3M34.3 151.8h.3M36.9 148.8h.3M33.3 145.7h.3" stroke="rgb(170, 223, 5)" stroke-opacity="1" stroke-width="1.0" stroke-linecap="square" fill="none"/>
<path d="M34.8 145.2h.3M36.2 146.1h.3M36.8 149.0h.3M35.6 145.5h.3M32.6 150.1h.3" stroke="rgb(180, 225, 0)" stroke-opacity="1" stroke-width="1.0" stroke-linecap="square" fill="none"/>
<path d="M33.7 151.5h.3M36.7 149.4h.3M34.0 145.4h.3M36.5 150.1h.3M34.2 145.3h.3M32.6 147.2h.3M33.1 146.2h.3M32.6 147.2h.3" stroke="rgb(187, 223, 0)" stroke-opacity="1" stroke-width="1.0" stroke-linecap="square" fill="none"/>
<path d="M35.6 151.2h.3M35.0 145.4h.3M36.2 150.4h.3M36.1 150.6h.3M36.7 148.6h.3M36.1 146.4h.3M34.0 145.6h.3M36.6 149.2h.3M36.5 149.6h.3M32.6 147.4h.3" stroke="rgb(194, 221, 0)" stroke-opacity="1" stroke-width="1.0" stroke-linecap="square" fill="none"/>
<path d="M32.8 147.0h.3M35.8 146.1h.3M34.5 145.5h.3M35.0 151.4h.3M35.2 145.7h.3M34.6 145.6h.3M33.8 145.8h.3M35.3 151.2h.3M33.2 150.5h.3" stroke="rgb(201, 220, 0)" stroke-opacity="1" stroke-width="1.0" stroke-linecap="square" fill="none"/>
<path d="M33.1 150.4h.3M33.7 145.9h.3M33.5 146.2h.3M35.9 150.6h.3M34.2 145.7h.3M33.9 145.9h.3M33.5 146.2h.3M32.7 148.8h.3" stroke="rgb(208, 218, 0)" stroke-opacity="1" stroke-width="1.0" stroke-linecap="square" fill="none"/>
<path d="M33.2 146.6h.3M36.3 147.4h.3M35.8 150.5h.3M36.2 147.1h.3M34.5 151.2h.3M35.0 145.8h.3M33.1 150.3h.3M36.1 150.1h.3M32.8 149.3h.3M35.7 146.4h.3M36.3 149.4h.3M35.8 150.4h.3M35.2 146.0h.3M34.9 145.9h.3" stroke="rgb(216, 216, 0)" stroke-opacity="1" stroke-width="1.0" stroke-linecap="square" fill="none"/>
<path d="M32.9 149.4h.3M34.1 146.0h.3M34.0 146.0h.3M35.9 150.2h.3M34.9 151.0h.3M36.2 149.5h.3M33.0 147.4h.3M32.9 147.9h.3M33.4 150.4h.3M33.0 147.5h.3M33.8 146.3h.3M35.5 146.3h.3" stroke="rgb(223, 215, 0)" stroke-opacity="1" stroke-width="1.0" stroke-linecap="square" fill="none"/>
<path d="M36.2 147.4h.3M36.2 149.3h.3M35.6 146.5h.3M33.8 146.2h.3M36.0 147.0h.3M33.0 147.5h.3M35.9 150.0h.3M32.9 148.9h.3M35.8 146.8h.3M34.6 150.9h.3M36.2 148.4h.3M33.1 149.6h.3M32.9 148.7h.3M35.8 146.9h.3M32.9 148.3h.3" stroke="rgb(230, 213, 0)" stroke-opacity="1" stroke-width="1.0" stroke-linecap="square" fill="none"/>
<path d="M33.8 146.4h.3M33.2 147.3h.3M33.0 148.0h.3M36.0 147.5h.3M33.0 148.7h.3M35.8 149.9h.3M33.1 149.3h.3M33.1 149.3h.3M34.8 146.2h.3M33.8 150.5h.3" stroke="rgb(237, 211, 0)" stroke-opacity="1" stroke-width="1.0" stroke-linecap="square" fill="none"/>
<path d="M34.0 146.4h.3M34.0 146.4h.3M33.1 148.0h.3M34.3 146.3h.3M33.7 150.4h.3M34.5 146.3h.3M34.9 146.3h.3M35.8 147.2h.3M34.4 146.3h.3M33.4 147.1h.3M33.2 149.3h.3M35.0 146.5h.3" stroke="rgb(245, 210, 0)" stroke-opacity="1" stroke-width="1.0" stroke-linecap="square" fill="none"/>
<path d="M33.8 150.3h.3M33.4 149.6h.3M34.7 150.6h.3M35.7 147.1h.3M35.3 146.7h.3M34.7 146.4h.3M34.0 146.6h.3M36.0 148.6h.3M34.2 150.4h.3M35.2 146.7h.3" stroke="rgb(246, 198, 0)" stroke-opacity="1" stroke-width="1.0" stroke-linecap="square" fill="none"/>
<path d="M34.6 146.5h.3M35.1 146.7h.3M34.9 146.6h.3M33.6 147.2h.3M35.7 149.5h.3M35.0 146.7h.3M35.9 148.6h.3M33.8 146.9h.3M35.6 149.6h.3M33.3 148.8h.3M35.1 150.2h.3M34.2 146.7h.3M33.9 146.9h.3M34.9 150.3h.3" stroke="rgb(248, 186, 0)" stroke-opacity="1" stroke-width="1.0" stroke-linecap="square" fill="none"/>
<path d="M33.3 148.6h.3M33.4 149.1h.3M35.0 150.2h.3M34.5 150.3h.3M33.6 147.3h.3M35.7 149.4h.3M33.4 149.2h.3M35.1 150.1h.3M34.0 150.1h.3M34.0 150.1h.3M35.8 148.3h.3M33.9 149.9h.3" stroke="rgb(250, 175, 0)" stroke-opacity="1" stroke-width="1.0" stroke-linecap="square" fill="none"/>
<path d="M33.4 148.7h.3M34.6 146.9h.3M34.6 150.1h.3M35.7 148.8h.3M35.7 148.9h.3M35.7 148.4h.3M35.5 149.3h.3M33.9 149.8h.3M33.9 149.7h.3M35.6 147.8h.3M34.7 150.0h.3" stroke="rgb(251, 163, 0)" stroke-opacity="1" stroke-width="1.0" stroke-linecap="square" fill="none"/>
<path d="M35.4 149.5h.3M34.7 150.0h.3M35.2 149.7h.3M33.6 148.0h.3M33.7 147.7h.3M35.6 148.3h.3M35.5 148.0h.3M33.6 148.8h.3M35.1 149.7h.3M33.6 148.6h.3M35.0 147.2h.3M35.5 148.0h.3M34.3 149.8h.3M33.7 148.1h.3" stroke="rgb(253, 151, 0)" stroke-opacity="1" stroke-width="1.0" stroke-linecap="square" fill="none"/>
<path d="M35.4 148.1h.3M34.4 149.8h.3M34.3 147.3h.3M34.5 149.8h.3M33.8 149.0h.3M35.3 147.9h.3M35.3 147.9h.3M35.3 149.2h.3M35.4 148.3h.3M34.8 149.6h.3M35.2 147.8h.3" stroke="rgb(255, 140, 0)" stroke-opacity="1" stroke-width="1.0" stroke-linecap="square" fill="none"/>
<path d="M35.3 148.5h.3M33.8 148.6h.3M34.1 147.7h.3M35.3 148.2h.3M34.0 147.8h.3M35.2 147.9h.3M34.4 147.6h.3M34.4 147.6h.3M34.3 147.7h.3M35.1 148.2h.3M34.4 149.3h.3M35.1 148.8h.3M34.0 148.5h.3" stroke="rgb(251, 124, 0)" stroke-opacity="1" stroke-width="1.0" stroke-linecap="square" fill="none"/>
<path d="M34.8 149.3h.3M34.0 148.3h.3M34.6 147.7h.3M34.1 148.1h.3M34.8 147.8h.3M35.1 148.7h.3M34.1 148.7h.3M34.2 148.0h.3M35.0 148.8h.3M34.9 148.1h.3M34.9 148.9h.3M34.3 148.0h.3M34.9 148.4h.3" stroke="rgb(248, 108, 0)" stroke-opacity="1" stroke-width="1.0" stroke-linecap="square" fill="none"/>
<path d="M34.3 148.8h.3M34.5 149.0h.3M34.6 148.9h.3M34.7 148.2h.3M34.4 148.3h.3M34.7 148.6h.3M34.4 148.6h.3M34.5 148.6h.3M34.6 148.4h.3" stroke="rgb(245, 92, 0)" stroke-opacity="1" stroke-width="1.0" stroke-linecap="square" fill="none"/>
</g>
<line x1="44.5" y1="93.6" x2="44.5" y2="160.3" stroke="#666" stroke-width="1.1"/>
<line x1="21.6" y1="132.3" x2="88.0" y2="132.3" stroke="#666" stroke-width="1.1"/>
<g font-family="Liberation Sans, sans-serif" font-size="5.6" font-weight="bold" fill="#000" stroke="#000" stroke-width="0.15">
<text x="23.8" y="100.8">1.7</text>
<text x="85.0" y="100.8" text-anchor="end">14.9</text>
<text x="23.8" y="158.5">80.4</text>
<text x="85.0" y="158.5" text-anchor="end">3.0</text>
</g>
<rect x="92.1" y="93.6" width="66.4" height="66.7" fill="#fff" stroke="#b8b8b8" stroke-width="0.8"/>
<g filter="url(#soft)">
<path d="M130.4 152.9h.3M131.7 152.1h.3M96.9 124.7h.3M103.0 122.6h.3M129.1 151.9h.3M133.4 117.5h.3M147.7 141.5h.3" stroke="rgb(120, 120, 245)" stroke-opacity="0.4" stroke-width="0.75" stroke-linecap="square" fill="none"/>
<path d="M116.7 121.1h.3M125.7 152.6h.3M103.9 124.5h.3M153.2 122.4h.3M103.9 124.8h.3M128.9 149.9h.3M123.6 120.3h.3M128.8 149.7h.3M154.8 127.5h.3M141.0 144.0h.3M110.3 123.7h.3M153.7 130.0h.3M143.3 141.4h.3M111.7 123.9h.3M153.4 126.7h.3M103.4 126.1h.3" stroke="rgb(112, 114, 243)" stroke-opacity="0.4" stroke-width="0.75" stroke-linecap="square" fill="none"/>
<path d="M150.5 122.9h.3M139.8 143.3h.3M145.3 120.9h.3M140.2 120.1h.3M98.1 129.7h.3M150.2 131.5h.3M151.1 124.9h.3M105.0 126.7h.3M100.4 128.6h.3M116.8 123.4h.3M143.7 138.8h.3M150.0 131.1h.3M150.6 124.8h.3M97.5 131.2h.3M129.9 120.9h.3M124.7 149.0h.3M125.7 148.4h.3M145.3 122.0h.3" stroke="rgb(105, 109, 242)" stroke-opacity="0.4" stroke-width="0.75" stroke-linecap="square" fill="none"/>
<path d="M93.7 145.0h.3M100.4 129.4h.3M150.1 129.0h.3M130.0 146.6h.3M138.7 142.0h.3M115.9 159.4h.3M141.0 139.9h.3M119.2 155.3h.3M138.2 121.3h.3M124.1 148.5h.3M127.7 146.9h.3M147.9 131.7h.3M118.3 123.9h.3M137.2 121.3h.3M138.3 121.4h.3M137.5 142.2h.3M112.0 126.1h.3M99.6 158.2h.3M99.2 131.3h.3M119.6 153.9h.3" stroke="rgb(98, 104, 241)" stroke-opacity="0.4" stroke-width="0.75" stroke-linecap="square" fill="none"/>
<path d="M120.5 123.5h.3M120.3 152.1h.3M128.7 145.9h.3M132.1 121.7h.3M134.9 121.6h.3M145.8 133.3h.3M110.7 126.8h.3M142.8 136.6h.3M141.8 137.8h.3M145.1 134.1h.3M134.1 143.5h.3M128.5 145.8h.3M124.3 147.2h.3M119.8 152.1h.3M108.8 127.7h.3M114.2 159.3h.3M134.8 142.8h.3M103.0 129.7h.3M125.4 146.5h.3M95.5 139.2h.3M120.1 151.1h.3M96.1 151.4h.3M104.7 129.3h.3" stroke="rgb(90, 99, 240)" stroke-opacity="0.4" stroke-width="0.75" stroke-linecap="square" fill="none"/>
<path d="M144.7 133.4h.3M106.0 128.9h.3M138.0 122.2h.3M122.4 147.8h.3M136.5 141.2h.3M121.9 148.2h.3M135.9 141.7h.3M126.6 122.9h.3M101.0 131.3h.3M144.1 133.7h.3M138.7 139.3h.3M145.3 132.1h.3M95.9 138.8h.3M120.9 124.2h.3M144.5 132.9h.3M124.1 123.5h.3M110.9 127.7h.3M130.5 144.1h.3M97.8 134.9h.3M140.6 137.1h.3M137.1 122.5h.3M146.6 128.9h.3M114.1 126.7h.3M132.1 143.2h.3M142.0 135.4h.3M130.0 144.0h.3M146.9 127.3h.3" stroke="rgb(84, 94, 240)" stroke-opacity="0.55" stroke-width="0.75" stroke-linecap="square" fill="none"/>
<path d="M106.7 129.3h.3M141.3 136.0h.3M122.6 146.8h.3M96.6 137.6h.3M135.2 141.3h.3M138.4 138.7h.3M127.1 123.2h.3M142.9 134.0h.3M97.9 154.3h.3M133.6 142.0h.3M133.9 141.8h.3M126.8 144.8h.3M138.3 138.4h.3M96.0 140.5h.3M145.8 125.1h.3M103.8 130.7h.3M109.7 128.8h.3M119.4 125.2h.3M96.9 151.9h.3M108.6 129.2h.3M96.1 140.5h.3M118.2 152.1h.3M111.2 128.4h.3" stroke="rgb(81, 93, 240)" stroke-opacity="0.55" stroke-width="0.75" stroke-linecap="square" fill="none"/>
<path d="M128.4 143.8h.3M136.4 122.9h.3M112.3 159.0h.3M144.1 131.5h.3M138.3 123.0h.3M128.2 143.8h.3M138.3 123.0h.3M130.6 142.8h.3M144.1 131.1h.3M125.9 123.8h.3M97.8 136.6h.3M129.1 123.3h.3M119.9 148.0h.3M115.3 156.1h.3M116.1 126.7h.3M96.3 141.0h.3M102.2 158.6h.3M122.0 145.8h.3M137.3 138.3h.3M142.6 123.9h.3M139.9 135.7h.3M110.2 129.2h.3M98.2 153.9h.3M112.5 128.4h.3M138.4 137.1h.3M99.2 134.9h.3M120.7 146.8h.3M99.2 155.5h.3" stroke="rgb(78, 92, 240)" stroke-opacity="0.55" stroke-width="0.75" stroke-linecap="square" fill="none"/>
<path d="M122.2 145.3h.3M135.8 139.1h.3M138.9 136.4h.3M145.3 126.1h.3M122.7 145.0h.3M134.0 140.3h.3M140.2 135.1h.3M102.7 132.2h.3M113.4 128.1h.3M99.1 135.3h.3M135.8 139.0h.3M136.7 123.2h.3M141.7 133.2h.3M97.3 138.5h.3M134.1 123.2h.3M143.4 130.7h.3M96.2 147.2h.3M140.6 123.7h.3M140.3 123.6h.3M135.1 139.3h.3M126.9 143.3h.3M97.3 151.7h.3M99.2 135.4h.3M110.0 129.8h.3M124.4 124.5h.3M128.0 142.8h.3M142.8 131.3h.3M103.0 158.7h.3M100.2 156.4h.3M96.4 142.4h.3" stroke="rgb(75, 90, 240)" stroke-opacity="0.55" stroke-width="0.75" stroke-linecap="square" fill="none"/>
<path d="M135.3 138.8h.3M118.2 126.4h.3M130.7 141.6h.3M130.9 141.5h.3M96.3 144.5h.3M105.0 131.7h.3M123.7 143.8h.3M144.2 125.2h.3M97.8 138.3h.3M142.2 131.5h.3M135.3 138.4h.3M116.1 153.4h.3M140.0 134.0h.3M130.0 141.5h.3M137.0 136.8h.3M96.5 143.8h.3M104.8 132.0h.3M100.1 156.1h.3M132.0 140.4h.3M134.3 138.9h.3M137.9 135.9h.3M139.7 134.1h.3M125.8 142.7h.3" stroke="rgb(71, 89, 240)" stroke-opacity="0.55" stroke-width="0.75" stroke-linecap="square" fill="none"/>
<path d="M107.9 131.2h.3M118.5 147.9h.3M130.5 141.1h.3M137.3 123.6h.3M144.4 126.2h.3M141.6 131.7h.3M142.0 131.0h.3M133.5 123.6h.3M140.5 133.0h.3M135.6 137.7h.3M96.7 147.8h.3M113.9 156.1h.3M138.3 135.1h.3M110.8 130.4h.3M120.2 144.9h.3M114.4 155.4h.3M110.3 158.7h.3M143.4 125.2h.3M110.7 158.5h.3M99.2 136.6h.3M118.7 126.6h.3M109.9 130.9h.3M139.6 124.0h.3M111.3 130.4h.3M135.8 137.0h.3" stroke="rgb(68, 88, 240)" stroke-opacity="0.55" stroke-width="0.75" stroke-linecap="square" fill="none"/>
<path d="M138.8 134.2h.3M122.0 143.2h.3M140.3 124.1h.3M143.5 128.3h.3M120.5 144.1h.3M98.5 138.0h.3M110.7 130.8h.3M109.4 131.3h.3M107.6 131.8h.3M134.8 137.6h.3M143.2 128.5h.3M98.7 153.5h.3M98.1 152.3h.3M132.7 123.8h.3M133.7 123.8h.3M112.8 156.7h.3M107.9 159.2h.3M138.0 123.9h.3M107.6 159.2h.3M140.0 132.5h.3M97.0 142.9h.3M132.7 123.8h.3M103.2 133.6h.3M136.2 136.1h.3M104.9 132.9h.3M120.3 143.7h.3M105.2 132.8h.3M99.6 154.8h.3" stroke="rgb(65, 86, 240)" stroke-opacity="0.55" stroke-width="0.75" stroke-linecap="square" fill="none"/>
<path d="M98.6 138.3h.3M132.7 138.5h.3M122.6 142.2h.3M130.6 124.1h.3M140.2 131.7h.3M115.9 151.9h.3M142.4 128.9h.3M101.8 134.7h.3M111.4 157.6h.3M107.8 132.3h.3M131.7 139.0h.3M122.4 142.1h.3M113.5 155.6h.3M102.1 134.6h.3M140.7 130.8h.3M112.9 130.4h.3M120.7 142.7h.3M119.8 126.6h.3M139.0 132.9h.3M101.2 156.5h.3M133.6 123.9h.3M139.5 132.1h.3M118.6 144.9h.3M131.9 138.6h.3M120.2 142.8h.3M129.0 124.3h.3M127.2 140.6h.3" stroke="rgb(62, 85, 240)" stroke-opacity="0.55" stroke-width="0.75" stroke-linecap="square" fill="none"/>
<path d="M122.7 141.6h.3M141.2 129.8h.3M142.2 128.8h.3M129.5 139.7h.3M139.1 132.4h.3M114.9 129.3h.3M120.5 142.4h.3M113.0 130.7h.3M129.7 139.5h.3M125.0 141.0h.3M143.1 127.7h.3M139.9 131.2h.3M117.1 148.0h.3M138.0 133.5h.3M118.5 144.5h.3M97.6 141.7h.3M124.4 141.0h.3M113.0 130.9h.3M140.7 130.2h.3M116.7 149.0h.3M138.6 132.7h.3M130.3 139.1h.3M131.8 138.2h.3M115.3 152.5h.3M140.1 124.5h.3M135.1 135.9h.3M99.2 153.8h.3M136.7 134.5h.3M117.5 146.5h.3M107.1 158.8h.3M102.5 134.7h.3M124.1 140.8h.3M119.3 142.7h.3M120.9 141.5h.3M100.7 136.3h.3" stroke="rgb(59, 84, 240)" stroke-opacity="0.55" stroke-width="0.75" stroke-linecap="square" fill="none"/>
<path d="M98.1 140.4h.3M139.9 130.7h.3M117.0 128.2h.3M117.9 144.9h.3M120.1 141.7h.3M124.5 140.5h.3M135.7 135.1h.3M112.8 131.5h.3M137.1 133.8h.3M127.7 139.7h.3M138.4 132.3h.3M118.4 143.4h.3M141.8 128.7h.3M112.6 156.0h.3M119.5 141.6h.3M113.9 130.8h.3M132.2 137.3h.3M131.3 137.9h.3M112.6 131.9h.3M125.0 140.1h.3M117.2 146.2h.3M116.4 148.6h.3M134.4 135.8h.3M136.0 134.4h.3M101.7 135.7h.3M118.7 142.2h.3M131.6 137.6h.3M134.6 135.6h.3M122.9 125.9h.3M138.9 131.3h.3" stroke="rgb(56, 82, 240)" stroke-opacity="0.55" stroke-width="0.75" stroke-linecap="square" fill="none"/>
<path d="M107.2 133.5h.3M121.3 140.3h.3M129.8 138.4h.3M116.5 147.8h.3M125.5 139.6h.3M117.6 143.7h.3M136.0 134.1h.3M129.6 138.3h.3M119.8 140.5h.3M122.6 139.9h.3M112.8 132.3h.3M138.1 131.9h.3M119.8 127.1h.3M121.2 140.0h.3M118.5 141.6h.3M138.0 131.9h.3M116.7 146.7h.3M116.0 149.1h.3M105.6 134.1h.3M140.8 124.9h.3M125.0 139.4h.3M109.8 157.7h.3M103.8 134.8h.3M102.7 157.2h.3M129.7 138.0h.3" stroke="rgb(53, 81, 240)" stroke-opacity="0.55" stroke-width="0.75" stroke-linecap="square" fill="none"/>
<path d="M116.0 148.8h.3M125.7 139.2h.3M129.5 138.0h.3M121.4 139.6h.3M124.7 139.3h.3M127.7 138.7h.3M125.1 139.2h.3M97.6 143.6h.3M117.4 143.0h.3M137.3 124.3h.3M117.3 143.0h.3M134.9 134.5h.3M131.7 136.7h.3M115.1 130.7h.3M117.6 142.0h.3M120.2 139.4h.3M123.1 139.2h.3M130.6 137.2h.3M129.1 137.9h.3M139.6 124.7h.3M129.0 137.9h.3M119.1 139.4h.3M120.3 139.1h.3M105.0 134.6h.3M121.6 138.9h.3M111.3 133.8h.3M131.3 136.7h.3M117.4 141.0h.3M132.7 135.8h.3" stroke="rgb(50, 80, 240)" stroke-opacity="0.75" stroke-width="0.75" stroke-linecap="square" fill="none"/>
<path d="M121.1 126.7h.3M101.0 136.9h.3M118.5 139.3h.3M126.4 138.5h.3M137.1 132.0h.3M123.7 138.8h.3M117.0 142.9h.3M113.4 133.3h.3M127.2 138.3h.3M117.4 140.5h.3M102.6 135.8h.3M116.7 144.3h.3M134.9 134.1h.3M134.6 134.3h.3M126.2 138.4h.3M114.1 152.8h.3M116.4 129.7h.3M117.0 141.8h.3M127.1 138.2h.3M130.2 137.0h.3M116.8 142.9h.3M99.6 138.8h.3M132.7 124.4h.3M114.9 132.0h.3M101.1 137.0h.3M132.4 135.7h.3M128.4 137.6h.3M127.4 137.9h.3M109.2 134.3h.3M117.0 139.9h.3M115.6 148.7h.3M137.3 124.5h.3M97.9 143.3h.3M107.4 134.4h.3M117.6 138.7h.3M125.9 138.2h.3M116.2 130.2h.3M115.6 131.1h.3M116.5 144.1h.3M120.9 138.2h.3M132.6 124.4h.3M135.4 133.2h.3M123.0 126.2h.3" stroke="rgb(49, 81, 239)" stroke-opacity="0.75" stroke-width="0.75" stroke-linecap="square" fill="none"/>
<path d="M109.7 134.5h.3M113.2 134.3h.3M136.9 131.7h.3M135.9 132.7h.3M116.3 144.7h.3M113.7 134.1h.3M124.7 138.2h.3M116.4 130.0h.3M116.6 141.0h.3M127.5 125.1h.3M116.6 140.1h.3M120.9 137.9h.3M116.6 139.0h.3M133.5 134.6h.3M138.3 130.4h.3M116.5 140.4h.3M115.7 131.5h.3M116.9 138.0h.3M117.5 137.6h.3M113.6 134.6h.3M116.3 139.7h.3M116.0 146.1h.3M116.3 139.2h.3M116.3 142.2h.3M116.2 130.7h.3M110.4 156.9h.3M119.5 137.4h.3M116.1 139.0h.3M117.7 137.2h.3M116.2 142.4h.3M139.8 125.0h.3M116.1 137.3h.3M116.1 137.2h.3M128.1 137.1h.3M116.2 131.1h.3M114.4 135.4h.3M127.0 137.3h.3" stroke="rgb(48, 82, 239)" stroke-opacity="0.75" stroke-width="0.75" stroke-linecap="square" fill="none"/>
<path d="M117.5 136.8h.3M118.3 136.9h.3M129.6 136.5h.3M114.0 135.5h.3M117.6 129.0h.3M124.4 137.6h.3M130.9 135.8h.3M98.6 141.3h.3M115.7 139.3h.3M114.8 135.8h.3M116.7 136.4h.3M129.1 136.6h.3M141.2 128.1h.3M104.2 135.5h.3M115.2 136.3h.3M137.8 130.6h.3M116.6 130.3h.3M111.5 135.2h.3M115.0 136.8h.3M132.8 134.6h.3M117.6 136.4h.3M114.8 136.7h.3M114.1 136.1h.3M101.5 155.8h.3M117.1 136.1h.3M124.6 125.8h.3M116.0 142.9h.3M141.6 127.5h.3M116.8 135.8h.3M131.5 135.3h.3M128.0 136.8h.3M128.1 136.8h.3M129.3 136.3h.3M127.3 136.9h.3M120.5 136.9h.3M134.9 132.7h.3M122.5 137.2h.3M103.7 135.8h.3M112.6 135.9h.3M141.7 126.6h.3M129.9 136.0h.3M135.6 132.1h.3M103.3 136.0h.3M98.8 151.5h.3M108.8 135.1h.3M118.1 136.0h.3M114.8 138.3h.3M112.0 135.8h.3M141.2 127.9h.3M97.9 144.3h.3M112.2 135.9h.3M138.6 129.9h.3M129.9 135.9h.3M130.2 135.8h.3M116.7 134.4h.3" stroke="rgb(48, 83, 239)" stroke-opacity="0.75" stroke-width="0.75" stroke-linecap="square" fill="none"/>
<path d="M105.4 135.3h.3M131.7 134.9h.3M100.0 139.0h.3M133.6 133.6h.3M122.1 136.9h.3M98.8 141.2h.3M115.3 147.5h.3M133.5 133.6h.3M124.1 137.0h.3M99.6 139.6h.3M137.0 130.8h.3M133.6 133.4h.3M139.4 125.1h.3M136.4 131.1h.3M135.5 131.8h.3M108.9 157.4h.3M124.8 136.8h.3M117.7 129.4h.3M118.3 135.1h.3M115.4 142.0h.3M141.3 127.5h.3M134.8 124.6h.3M134.6 132.4h.3M137.7 130.3h.3M105.8 135.4h.3M127.7 136.3h.3M118.3 134.9h.3M115.4 145.7h.3M117.6 129.5h.3M128.4 136.1h.3M100.6 138.4h.3M107.1 135.4h.3M125.4 136.6h.3M126.8 125.4h.3M131.3 134.7h.3M118.2 134.5h.3M98.9 141.3h.3M114.9 140.7h.3M120.3 127.6h.3M121.9 136.2h.3M117.4 130.0h.3M117.7 133.0h.3M113.8 138.5h.3M118.5 134.6h.3M126.9 136.2h.3M110.1 135.9h.3M113.1 137.7h.3M121.6 136.0h.3M113.6 138.4h.3M118.3 128.9h.3M132.5 133.7h.3M112.0 154.9h.3M120.4 135.5h.3M134.5 132.1h.3M99.8 139.6h.3M118.8 128.5h.3M112.6 137.4h.3M136.6 130.8h.3M138.6 125.0h.3M120.2 135.3h.3M121.7 135.9h.3M119.3 134.8h.3M122.2 136.0h.3M133.5 132.9h.3M139.6 125.2h.3M124.4 136.2h.3M118.9 134.3h.3M140.9 125.9h.3M122.4 135.9h.3M123.6 136.1h.3M137.0 124.8h.3M114.8 141.4h.3M137.0 130.5h.3M98.3 149.0h.3M122.6 126.7h.3M115.2 144.2h.3M134.3 132.0h.3M117.8 131.9h.3M115.0 142.6h.3M115.0 146.7h.3M131.2 134.2h.3M114.5 141.0h.3M99.4 152.5h.3M102.0 137.4h.3M114.8 147.8h.3M119.0 133.8h.3M140.9 127.7h.3M121.2 135.2h.3M121.1 135.2h.3M112.0 154.8h.3M132.3 133.3h.3M114.3 140.6h.3M136.8 124.8h.3M119.2 133.7h.3M132.1 133.4h.3M126.6 135.7h.3M127.5 135.5h.3M128.7 135.1h.3M136.4 130.7h.3M124.3 135.7h.3M114.6 148.6h.3M131.8 133.5h.3M138.0 129.8h.3M139.8 128.7h.3M113.9 140.1h.3M109.8 136.4h.3M138.3 125.0h.3M98.8 141.9h.3M117.9 130.7h.3M111.5 155.2h.3M106.4 157.6h.3M136.3 130.7h.3M123.8 126.4h.3M138.7 129.3h.3M131.4 133.6h.3M139.1 125.2h.3M112.4 138.2h.3M124.1 135.4h.3M114.8 146.1h.3M98.9 151.0h.3M120.4 133.9h.3M118.2 131.2h.3M112.8 153.2h.3M131.7 133.2h.3M109.2 136.4h.3M124.3 135.2h.3" stroke="rgb(47, 85, 239)" stroke-opacity="0.75" stroke-width="0.75" stroke-linecap="square" fill="none"/>
<path d="M124.0 135.1h.3M118.2 129.9h.3M131.3 133.3h.3M133.8 131.8h.3M132.4 132.6h.3M123.0 134.9h.3M118.5 129.5h.3M110.6 137.2h.3M119.2 128.7h.3M130.0 133.9h.3M104.9 157.3h.3M113.6 140.4h.3M122.0 134.4h.3M121.6 127.2h.3M130.5 133.6h.3M129.2 134.1h.3M112.0 138.3h.3M123.3 134.6h.3M135.1 131.0h.3M114.0 141.5h.3M102.6 156.1h.3M109.2 136.7h.3M131.7 132.8h.3M99.9 140.1h.3M108.0 136.4h.3M99.0 142.1h.3M112.7 139.3h.3M130.3 133.4h.3M129.3 133.9h.3M119.8 132.4h.3M120.6 133.0h.3M138.7 129.2h.3M118.5 129.8h.3M114.5 144.8h.3M118.5 129.8h.3M100.2 139.8h.3M133.2 131.8h.3M120.1 132.5h.3M121.1 127.5h.3M121.0 133.1h.3M124.8 134.5h.3M114.1 142.5h.3M124.0 134.3h.3M122.3 133.8h.3M133.7 131.5h.3M132.5 132.0h.3M130.4 133.1h.3M109.1 136.9h.3M103.9 136.9h.3M105.0 136.6h.3M124.9 134.3h.3M114.1 148.7h.3M125.3 134.3h.3M123.2 134.0h.3M125.1 126.1h.3M119.7 131.9h.3M130.6 132.9h.3M107.4 157.3h.3M126.5 134.1h.3M130.0 133.1h.3M118.7 129.8h.3M134.9 130.9h.3M106.3 136.5h.3M113.2 151.9h.3M111.3 138.3h.3M130.9 132.6h.3M128.8 133.4h.3M122.7 133.4h.3M108.9 137.0h.3M114.2 147.7h.3M125.7 133.9h.3M118.8 130.6h.3M101.2 138.8h.3M118.9 130.5h.3M121.9 132.8h.3M119.6 131.5h.3M124.4 133.7h.3M127.9 133.5h.3M110.5 138.0h.3M114.2 145.1h.3M118.9 130.0h.3M139.7 125.8h.3M120.3 131.9h.3M124.4 133.5h.3M111.1 138.5h.3M127.5 133.4h.3M127.2 133.4h.3M99.0 142.5h.3M110.1 137.8h.3M113.1 151.8h.3M124.3 133.4h.3M119.7 128.7h.3M124.8 133.4h.3M98.7 149.5h.3M125.9 133.3h.3M128.6 132.9h.3M120.1 128.5h.3M113.5 150.4h.3M125.7 126.1h.3M99.5 151.8h.3M111.8 139.4h.3M131.4 131.9h.3M105.1 137.0h.3M105.7 136.9h.3M110.9 138.7h.3M111.6 139.3h.3M113.8 148.5h.3M132.2 131.6h.3M113.2 151.2h.3M139.8 127.9h.3M127.3 133.0h.3M108.6 137.3h.3M129.0 125.4h.3M114.0 145.5h.3M124.8 132.9h.3M126.5 133.0h.3M134.7 130.7h.3M130.9 132.0h.3M140.2 127.3h.3M119.3 130.3h.3M121.9 132.2h.3M136.0 130.1h.3M112.0 140.0h.3M129.3 132.4h.3M126.7 132.8h.3M101.7 155.0h.3M135.2 130.4h.3M127.0 132.8h.3M104.1 137.4h.3M122.6 132.3h.3M120.5 128.4h.3M122.0 127.5h.3M125.0 126.3h.3M125.9 132.7h.3M101.7 154.9h.3M103.0 156.0h.3M120.0 128.8h.3M127.8 125.7h.3M113.7 144.5h.3M139.4 128.1h.3M135.7 130.2h.3M112.7 141.3h.3M133.1 131.1h.3M109.6 138.1h.3M121.5 131.9h.3M113.0 151.2h.3M121.4 127.8h.3M126.5 132.6h.3M105.1 137.3h.3M109.6 156.0h.3M120.0 128.9h.3M129.1 132.2h.3M113.7 145.0h.3M127.9 132.4h.3M111.2 139.5h.3M120.2 128.8h.3M105.8 137.3h.3M121.8 131.8h.3M100.1 152.7h.3M107.9 137.5h.3M113.6 145.3h.3" stroke="rgb(43, 93, 237)" stroke-opacity="0.75" stroke-width="0.75" stroke-linecap="square" fill="none"/>
<path d="M139.9 126.7h.3M121.6 131.7h.3M98.7 145.0h.3M119.7 130.1h.3M130.0 131.8h.3M125.3 132.3h.3M112.6 141.7h.3M120.8 131.3h.3M113.0 142.7h.3M120.9 131.3h.3M107.1 137.5h.3M104.0 156.5h.3M112.8 142.3h.3M109.0 138.1h.3M100.9 139.9h.3M120.1 129.1h.3M125.9 132.2h.3M121.3 131.3h.3M132.1 131.2h.3M122.6 127.4h.3M136.8 129.5h.3M105.6 137.5h.3M124.1 126.8h.3M104.1 137.8h.3M124.0 132.0h.3M106.2 137.5h.3M120.6 128.7h.3M99.1 150.1h.3M122.8 131.8h.3M99.3 142.7h.3M134.4 130.4h.3M100.2 141.0h.3M135.0 130.2h.3M138.5 128.5h.3M108.7 156.3h.3M120.0 129.7h.3M139.6 126.6h.3M107.8 137.9h.3M127.5 132.0h.3M109.0 138.4h.3M111.8 153.2h.3M111.5 140.6h.3M120.2 129.6h.3M123.9 126.9h.3M113.4 146.9h.3M126.4 126.2h.3M113.2 148.8h.3M121.7 127.9h.3M110.0 139.2h.3M123.1 127.3h.3M120.8 128.7h.3M131.5 125.4h.3M120.4 130.1h.3M112.2 142.1h.3M120.9 130.6h.3M121.3 128.3h.3M122.4 127.6h.3M133.3 125.3h.3M124.1 126.9h.3M113.0 149.7h.3M112.6 143.2h.3M125.0 126.6h.3M101.1 140.0h.3M121.8 131.1h.3M139.4 127.1h.3M111.1 154.1h.3M102.5 138.9h.3M127.3 131.7h.3M110.4 140.0h.3M98.9 145.9h.3M112.6 150.5h.3M110.4 154.8h.3M138.5 126.1h.3M135.6 125.4h.3M127.2 131.6h.3M102.9 138.8h.3M112.8 149.7h.3M99.3 150.1h.3M112.5 143.4h.3M138.0 128.5h.3M137.3 125.7h.3M138.2 128.4h.3M122.8 131.2h.3M137.3 128.9h.3M134.2 130.2h.3M107.6 138.4h.3M128.6 131.4h.3M120.9 130.1h.3M135.4 129.7h.3M112.3 151.3h.3M124.1 131.4h.3M112.9 146.3h.3M112.6 144.3h.3" stroke="rgb(39, 101, 236)" stroke-opacity="0.75" stroke-width="0.75" stroke-linecap="square" fill="none"/>
<path d="M112.6 150.3h.3M108.2 138.7h.3M128.8 125.8h.3M128.6 125.9h.3M124.6 131.4h.3M110.2 140.1h.3M102.3 154.9h.3M100.2 152.2h.3M120.9 129.7h.3M124.8 131.4h.3M131.3 130.9h.3M112.1 143.2h.3M110.1 140.2h.3M133.0 125.4h.3M110.2 140.3h.3M102.7 155.1h.3M138.8 126.7h.3M99.0 146.7h.3M110.5 140.7h.3M112.2 143.5h.3M129.0 125.8h.3M112.7 148.5h.3M121.2 129.8h.3M107.2 138.6h.3M112.6 149.2h.3M100.3 152.0h.3M110.7 141.1h.3M128.6 131.2h.3M127.5 131.3h.3M122.3 130.7h.3M121.2 129.5h.3M108.2 139.1h.3M134.1 125.5h.3M121.6 130.2h.3M101.8 140.0h.3M101.8 154.2h.3M108.9 139.5h.3M121.4 129.8h.3M128.4 131.2h.3M103.5 138.9h.3M105.9 138.6h.3M135.0 125.6h.3M100.1 142.4h.3M122.0 128.5h.3M109.4 155.2h.3M103.2 139.1h.3M122.7 128.0h.3M126.4 131.2h.3M134.4 125.6h.3M109.5 140.2h.3M121.9 130.1h.3M111.4 152.7h.3M138.4 127.3h.3M134.9 129.6h.3M111.4 142.6h.3M132.8 130.3h.3M112.3 145.3h.3M111.8 143.5h.3M99.3 148.3h.3M130.2 130.8h.3M106.4 156.2h.3M105.5 156.2h.3M108.4 139.5h.3M111.1 142.2h.3M137.1 128.5h.3M134.4 129.7h.3M110.1 141.0h.3" stroke="rgb(35, 110, 235)" stroke-opacity="0.9" stroke-width="1.0" stroke-linecap="square" fill="none"/>
<path d="M100.0 151.0h.3M122.4 130.2h.3M133.2 125.6h.3M123.1 127.9h.3M100.2 142.4h.3M133.4 130.0h.3M99.4 149.0h.3M122.6 130.3h.3M121.9 129.4h.3M111.1 142.6h.3M103.9 139.1h.3M123.9 130.7h.3M137.0 128.5h.3M125.4 130.9h.3M136.2 125.9h.3M102.8 154.8h.3M122.5 130.2h.3M122.4 130.1h.3M112.1 145.4h.3M127.1 126.5h.3M132.0 125.7h.3M136.6 128.7h.3M99.8 150.2h.3M122.8 130.3h.3M100.6 152.2h.3M112.3 146.8h.3M109.7 140.9h.3M137.4 126.4h.3M136.7 128.6h.3M109.1 140.4h.3M110.7 142.1h.3M104.0 155.5h.3M127.5 126.4h.3M134.8 125.8h.3M123.1 130.3h.3M111.3 143.4h.3M99.8 144.1h.3M100.8 141.8h.3M107.4 155.9h.3M109.4 140.7h.3M133.4 129.9h.3M100.5 142.3h.3M112.2 146.8h.3M131.9 125.8h.3M110.7 142.4h.3M102.0 154.0h.3M104.8 155.8h.3M137.8 127.3h.3M111.3 143.4h.3M109.3 140.7h.3M130.2 130.5h.3M99.8 144.0h.3M123.1 128.2h.3M102.2 140.3h.3M111.3 152.1h.3M110.6 153.3h.3M131.1 130.4h.3M134.0 125.8h.3M111.8 150.3h.3M135.9 128.9h.3M123.0 128.3h.3M110.0 141.6h.3M134.7 129.4h.3M137.5 126.7h.3M102.7 154.5h.3M134.9 125.9h.3M104.8 139.3h.3M136.2 128.7h.3M124.0 130.4h.3M133.8 125.8h.3" stroke="rgb(30, 120, 230)" stroke-opacity="0.9" stroke-width="1.0" stroke-linecap="square" fill="none"/>
<path d="M130.1 130.4h.3M137.4 126.8h.3M136.4 126.2h.3M123.4 128.2h.3M131.2 130.2h.3M110.4 142.3h.3M136.7 128.2h.3M104.3 139.5h.3M130.1 130.4h.3M108.8 155.0h.3M99.5 147.5h.3M124.8 127.5h.3M128.2 126.4h.3M123.0 129.7h.3M101.3 141.4h.3M111.1 152.0h.3M137.1 127.8h.3M105.6 139.5h.3M103.3 139.9h.3M110.6 143.0h.3M125.3 130.5h.3M101.3 152.9h.3M132.1 130.0h.3M104.7 139.6h.3M124.5 127.7h.3M110.7 143.2h.3M123.0 129.3h.3M124.1 130.1h.3M131.7 130.0h.3M124.6 130.3h.3M111.8 148.9h.3M123.7 129.9h.3M110.5 142.9h.3M102.6 140.5h.3M123.6 129.8h.3M107.1 139.9h.3M137.1 127.3h.3M101.9 153.5h.3M134.7 126.1h.3M103.7 139.9h.3M124.8 130.2h.3M137.0 127.6h.3M124.4 130.1h.3M109.0 141.2h.3M110.5 143.1h.3M127.3 130.4h.3M101.3 141.8h.3M110.3 142.7h.3M111.4 150.7h.3M124.4 127.9h.3M136.7 127.9h.3M102.0 141.1h.3M129.8 126.3h.3" stroke="rgb(26, 130, 226)" stroke-opacity="0.9" stroke-width="1.0" stroke-linecap="square" fill="none"/>
<path d="M124.3 130.0h.3M128.1 130.4h.3M130.2 130.2h.3M110.9 144.0h.3M135.9 126.4h.3M103.1 140.3h.3M108.2 140.7h.3M111.6 147.6h.3M124.3 128.1h.3M130.6 130.1h.3M99.8 145.7h.3M106.4 140.0h.3M123.7 128.6h.3M102.1 153.6h.3M129.2 126.4h.3M108.5 141.0h.3M125.2 130.1h.3M102.1 153.6h.3M102.8 154.2h.3M135.6 126.4h.3M100.0 149.1h.3M128.2 126.7h.3M135.8 126.5h.3M111.5 147.1h.3M106.1 155.5h.3M109.6 153.8h.3M136.7 127.4h.3M130.3 130.1h.3M99.8 147.3h.3M127.9 126.8h.3M125.8 130.2h.3M129.4 130.2h.3M101.2 142.2h.3M100.1 149.5h.3M101.2 142.3h.3M123.8 128.9h.3M134.1 129.1h.3M124.4 128.2h.3M126.0 127.3h.3M125.6 127.5h.3M103.9 140.2h.3M111.5 147.7h.3M109.8 142.5h.3M99.8 147.0h.3M109.0 154.4h.3M136.4 127.5h.3M136.4 127.1h.3M128.7 126.6h.3M111.4 148.9h.3M105.9 140.1h.3M124.0 128.8h.3M99.9 145.9h.3M129.2 126.5h.3M101.1 142.5h.3M133.7 126.2h.3M124.0 129.1h.3M134.1 126.3h.3M104.2 154.9h.3M131.0 126.3h.3M111.2 150.3h.3M135.7 128.1h.3M124.1 128.9h.3" stroke="rgb(22, 141, 222)" stroke-opacity="0.9" stroke-width="1.0" stroke-linecap="square" fill="none"/>
<path d="M124.6 129.6h.3M100.6 143.6h.3M111.2 146.0h.3M130.3 129.9h.3M127.5 127.0h.3M104.0 154.8h.3M105.5 140.2h.3M102.2 153.3h.3M135.2 126.6h.3M110.1 152.9h.3M104.8 155.1h.3M136.1 127.2h.3M111.3 147.9h.3M109.3 153.8h.3M100.2 149.5h.3M128.0 130.1h.3M131.4 129.7h.3M108.8 154.3h.3M131.5 129.6h.3M132.3 129.5h.3M134.5 126.5h.3M124.4 128.8h.3M100.6 150.5h.3M135.7 126.9h.3M104.1 154.7h.3M124.5 129.2h.3M103.2 154.2h.3M134.1 128.9h.3M108.3 141.4h.3M124.5 129.1h.3M125.2 129.7h.3M125.2 128.0h.3M110.2 143.6h.3M132.1 126.4h.3M102.5 153.6h.3M111.1 149.8h.3M135.4 128.0h.3M101.6 142.2h.3M129.2 126.7h.3M130.4 129.7h.3M127.1 129.9h.3M110.7 145.0h.3M106.7 140.7h.3M109.2 142.5h.3M103.1 140.9h.3M128.1 129.9h.3M127.7 127.1h.3M132.2 129.3h.3" stroke="rgb(18, 151, 218)" stroke-opacity="0.9" stroke-width="1.0" stroke-linecap="square" fill="none"/>
<path d="M124.8 128.8h.3M129.0 126.8h.3M100.3 145.1h.3M128.0 129.9h.3M111.1 147.7h.3M102.7 141.3h.3M110.7 145.3h.3M125.1 128.4h.3M134.9 126.9h.3M131.3 129.5h.3M135.3 127.8h.3M125.4 128.3h.3M133.1 129.0h.3M103.5 140.9h.3M133.2 128.9h.3M109.2 153.6h.3M127.0 129.7h.3M129.6 129.7h.3M110.7 145.8h.3M127.7 127.2h.3M100.4 145.1h.3M102.1 152.9h.3M128.8 127.0h.3M125.4 129.2h.3M127.8 129.7h.3M135.1 127.2h.3M133.5 126.7h.3M109.2 142.8h.3M101.6 152.1h.3M127.4 129.6h.3M131.0 126.7h.3M134.6 128.1h.3M110.6 150.9h.3M104.4 154.5h.3M132.5 126.7h.3" stroke="rgb(15, 160, 213)" stroke-opacity="1" stroke-width="1.0" stroke-linecap="square" fill="none"/>
<path d="M100.7 144.4h.3M125.8 129.2h.3M109.9 152.4h.3M127.0 127.6h.3M129.3 127.0h.3M100.3 145.9h.3M110.0 152.1h.3M110.6 145.7h.3M126.4 129.4h.3M130.9 129.4h.3M110.6 145.9h.3M134.3 127.0h.3M132.7 126.7h.3M103.1 153.7h.3M132.6 128.9h.3M134.3 127.1h.3M125.9 129.0h.3M127.1 127.7h.3M133.9 128.3h.3M104.3 154.4h.3M129.4 129.5h.3M126.6 127.9h.3M126.9 129.4h.3M110.3 151.4h.3M110.7 147.2h.3M104.6 154.5h.3M126.7 129.3h.3M126.8 127.9h.3M130.5 129.3h.3M106.6 141.2h.3M127.2 129.4h.3M129.3 129.4h.3M104.2 141.1h.3M129.8 129.4h.3M134.1 127.2h.3M127.7 129.4h.3M110.1 145.0h.3M106.6 141.2h.3M102.5 153.0h.3" stroke="rgb(15, 165, 204)" stroke-opacity="1" stroke-width="1.0" stroke-linecap="square" fill="none"/>
<path d="M104.4 154.3h.3M132.7 128.7h.3M102.9 141.7h.3M134.2 127.6h.3M104.5 141.1h.3M103.8 141.2h.3M128.1 129.4h.3M134.0 128.0h.3M134.1 127.8h.3M109.9 152.0h.3M134.0 127.4h.3M128.4 129.3h.3M110.5 146.4h.3M133.8 128.1h.3M126.5 128.4h.3M128.5 127.4h.3M100.4 147.6h.3M129.8 127.1h.3M105.3 154.5h.3M127.2 129.1h.3M130.6 129.1h.3M101.3 143.7h.3M126.9 128.9h.3M108.6 142.8h.3M126.8 128.8h.3M133.5 127.3h.3M104.2 154.1h.3M130.8 129.0h.3M110.4 146.4h.3M109.6 152.3h.3M133.3 127.3h.3M109.0 143.4h.3M102.7 142.0h.3M132.5 127.1h.3M109.3 143.9h.3M127.0 128.7h.3M110.6 148.7h.3M100.6 146.3h.3M107.7 142.1h.3M101.6 143.2h.3M128.6 129.2h.3M102.9 153.2h.3" stroke="rgb(16, 170, 195)" stroke-opacity="1" stroke-width="1.0" stroke-linecap="square" fill="none"/>
<path d="M132.9 128.3h.3M100.9 149.7h.3M133.5 127.7h.3M100.5 147.4h.3M133.1 127.3h.3M127.5 128.9h.3M132.8 128.3h.3M127.9 127.9h.3M132.7 128.3h.3M100.6 147.3h.3M110.2 145.9h.3M107.3 154.2h.3M104.3 154.0h.3M128.3 129.0h.3M100.6 148.2h.3M100.8 145.4h.3M133.1 127.5h.3M131.8 128.6h.3M133.1 127.6h.3M131.8 127.2h.3M132.5 128.4h.3M131.8 128.6h.3M128.0 127.9h.3M127.5 128.3h.3M133.0 127.9h.3M106.6 141.6h.3M104.2 141.5h.3M110.3 146.6h.3M109.9 145.2h.3M110.4 147.4h.3M110.1 150.9h.3M128.9 128.9h.3M101.1 144.6h.3M132.8 127.9h.3M132.7 128.0h.3M132.5 128.2h.3M130.3 128.8h.3M109.8 151.5h.3M127.9 128.2h.3M132.4 127.4h.3M109.0 143.7h.3M132.6 128.1h.3M132.1 127.4h.3M132.7 127.9h.3M132.5 127.6h.3M110.4 147.5h.3" stroke="rgb(17, 175, 186)" stroke-opacity="1" stroke-width="1.0" stroke-linecap="square" fill="none"/>
<path d="M130.5 127.4h.3M131.4 128.5h.3M129.8 128.8h.3M128.2 128.6h.3M109.6 151.8h.3M101.2 144.4h.3M129.9 128.7h.3M128.4 128.6h.3M108.6 153.1h.3M128.7 128.7h.3M128.3 128.3h.3M100.9 145.6h.3M130.7 127.5h.3M129.1 127.9h.3M131.5 127.6h.3M106.2 154.2h.3M108.5 143.3h.3M128.6 128.2h.3M128.6 128.4h.3M128.7 128.5h.3M101.3 150.4h.3M110.3 147.9h.3M130.0 127.7h.3M101.1 149.6h.3M129.0 128.4h.3M106.4 154.1h.3M130.8 128.4h.3M129.1 128.3h.3M131.4 127.9h.3M131.3 128.1h.3M129.2 128.3h.3M129.4 128.1h.3M129.9 128.4h.3M130.7 127.8h.3M129.4 128.2h.3M129.4 128.2h.3" stroke="rgb(17, 180, 177)" stroke-opacity="1" stroke-width="1.0" stroke-linecap="square" fill="none"/>
<path d="M130.5 128.3h.3M130.1 128.3h.3M129.6 128.2h.3M130.7 127.9h.3M107.0 153.9h.3M130.1 128.0h.3M130.5 128.2h.3M109.9 146.2h.3M109.8 150.9h.3M110.1 149.7h.3M109.6 151.5h.3M109.8 150.9h.3M108.1 143.1h.3M101.6 144.0h.3M110.2 148.6h.3M110.1 149.7h.3M108.6 152.9h.3M100.9 148.3h.3M106.4 142.0h.3M109.2 144.7h.3M107.8 142.9h.3M107.4 142.6h.3M104.2 153.6h.3" stroke="rgb(18, 185, 168)" stroke-opacity="1" stroke-width="1.0" stroke-linecap="square" fill="none"/>
<path d="M103.1 142.5h.3M101.4 150.0h.3M105.4 153.9h.3M110.0 147.1h.3M108.2 143.3h.3M109.7 150.8h.3M110.0 147.2h.3M109.1 152.0h.3M110.0 148.7h.3M109.1 144.6h.3M110.0 149.1h.3M110.0 147.8h.3M101.9 144.0h.3M101.1 148.8h.3M108.9 144.5h.3M109.5 150.9h.3M102.4 143.3h.3M107.7 143.1h.3" stroke="rgb(19, 190, 159)" stroke-opacity="1" stroke-width="1.0" stroke-linecap="square" fill="none"/>
<path d="M107.4 153.5h.3M101.6 144.7h.3M102.7 143.0h.3M108.9 144.5h.3M109.6 150.5h.3M109.3 151.2h.3M108.2 143.6h.3M109.7 150.3h.3M102.2 143.7h.3M108.7 144.3h.3M108.2 152.8h.3M103.3 152.7h.3M107.3 142.8h.3M109.8 146.9h.3M103.7 142.4h.3M109.9 148.4h.3M101.6 150.2h.3M109.7 146.7h.3M103.3 142.7h.3M103.7 152.9h.3M109.1 145.1h.3M102.3 151.4h.3M109.0 145.1h.3M109.1 151.5h.3M109.8 148.1h.3" stroke="rgb(20, 195, 150)" stroke-opacity="1" stroke-width="1.0" stroke-linecap="square" fill="none"/>
<path d="M102.4 151.6h.3M106.7 142.6h.3M102.8 152.1h.3M109.3 145.6h.3M108.7 152.1h.3M103.9 142.5h.3M107.3 153.3h.3M108.3 144.1h.3M108.2 152.6h.3M101.5 149.6h.3M108.5 144.3h.3M106.4 142.6h.3M107.9 152.9h.3M108.2 152.5h.3M106.8 153.4h.3M101.3 146.7h.3M101.6 149.6h.3M106.4 153.5h.3M101.3 146.8h.3M107.1 143.0h.3M109.3 145.9h.3M106.7 142.8h.3" stroke="rgb(25, 196, 140)" stroke-opacity="1" stroke-width="1.0" stroke-linecap="square" fill="none"/>
<path d="M101.3 146.4h.3M109.4 146.4h.3M107.3 143.2h.3M109.7 148.5h.3M108.7 144.8h.3M101.5 149.3h.3M108.9 151.6h.3M108.2 152.5h.3M109.6 148.6h.3M101.7 145.3h.3M109.6 148.2h.3M109.1 151.0h.3M109.3 146.5h.3M108.9 151.3h.3M108.6 151.8h.3M105.5 153.4h.3M108.4 144.6h.3M102.5 143.9h.3" stroke="rgb(31, 198, 130)" stroke-opacity="1" stroke-width="1.0" stroke-linecap="square" fill="none"/>
<path d="M108.5 151.9h.3M108.6 151.7h.3M108.7 151.7h.3M107.9 144.0h.3M106.8 143.0h.3M101.4 148.2h.3M106.6 142.9h.3M103.4 143.1h.3M108.9 151.1h.3M102.4 151.0h.3M104.4 142.7h.3M101.9 149.9h.3M109.4 148.9h.3M106.2 153.2h.3" stroke="rgb(36, 200, 120)" stroke-opacity="1" stroke-width="1.0" stroke-linecap="square" fill="none"/>
<path d="M102.0 150.1h.3M103.5 143.2h.3M106.7 143.2h.3M106.6 153.1h.3M109.0 146.0h.3M104.5 152.9h.3M105.9 142.9h.3M107.7 152.5h.3M109.4 149.2h.3M103.6 143.2h.3M101.6 148.1h.3M104.3 142.9h.3M107.2 152.8h.3M105.3 153.1h.3" stroke="rgb(42, 201, 110)" stroke-opacity="1" stroke-width="1.0" stroke-linecap="square" fill="none"/>
<path d="M109.2 146.9h.3M102.8 143.9h.3M102.1 145.0h.3M105.1 142.9h.3M104.6 152.9h.3M108.2 151.9h.3M104.2 143.0h.3M107.7 144.1h.3M107.4 143.8h.3M106.6 153.0h.3M107.9 152.1h.3M101.8 146.2h.3M104.1 152.5h.3M108.7 145.7h.3M105.3 153.0h.3M107.5 152.5h.3M109.0 146.5h.3" stroke="rgb(47, 203, 99)" stroke-opacity="1" stroke-width="1.0" stroke-linecap="square" fill="none"/>
<path d="M109.2 147.5h.3M101.9 149.4h.3M103.4 143.6h.3M108.4 151.4h.3M101.7 148.4h.3M106.6 143.4h.3M104.2 143.2h.3M103.2 151.6h.3M106.8 152.7h.3M108.2 151.6h.3M109.0 150.0h.3M108.9 146.8h.3M105.4 152.8h.3M108.7 146.2h.3" stroke="rgb(53, 205, 90)" stroke-opacity="1" stroke-width="1.0" stroke-linecap="square" fill="none"/>
<path d="M102.0 149.2h.3M102.7 144.5h.3M101.9 148.5h.3M104.7 152.6h.3M103.3 143.9h.3M101.8 147.3h.3" stroke="rgb(58, 206, 79)" stroke-opacity="1" stroke-width="1.0" stroke-linecap="square" fill="none"/>
<path d="M102.0 146.4h.3M102.5 145.0h.3M102.1 146.0h.3M107.9 151.6h.3M101.9 147.8h.3M108.9 147.5h.3M108.5 150.6h.3M108.9 149.4h.3M102.0 148.4h.3M108.5 150.7h.3M106.8 143.9h.3M107.2 152.2h.3M105.1 143.4h.3M104.4 152.3h.3" stroke="rgb(64, 208, 70)" stroke-opacity="1" stroke-width="1.0" stroke-linecap="square" fill="none"/>
<path d="M105.6 152.6h.3M108.8 147.4h.3M102.2 149.2h.3M107.5 144.6h.3M107.6 144.7h.3M103.2 151.1h.3M107.7 151.6h.3M107.0 152.2h.3M106.1 152.5h.3M108.0 151.2h.3M107.2 152.1h.3M107.0 144.3h.3M108.0 145.3h.3M108.8 148.9h.3" stroke="rgb(70, 210, 60)" stroke-opacity="1" stroke-width="1.0" stroke-linecap="square" fill="none"/>
<path d="M103.2 151.1h.3M108.4 146.5h.3M102.7 145.1h.3M108.4 146.4h.3M105.6 152.4h.3M105.7 143.7h.3M108.7 148.3h.3" stroke="rgb(79, 211, 55)" stroke-opacity="1" stroke-width="1.0" stroke-linecap="square" fill="none"/>
<path d="M104.0 151.7h.3M104.3 151.9h.3M104.8 152.2h.3M102.8 150.2h.3M106.9 144.3h.3M103.4 144.4h.3M103.8 151.5h.3M108.6 147.7h.3M102.7 145.3h.3M106.2 144.0h.3M103.9 144.1h.3M103.2 150.8h.3M102.2 147.4h.3M106.8 152.1h.3M103.5 151.2h.3M103.9 144.1h.3M106.2 144.0h.3M102.6 145.7h.3M107.8 151.2h.3M108.6 147.9h.3M102.2 147.1h.3M102.5 146.1h.3M108.5 147.4h.3" stroke="rgb(88, 212, 50)" stroke-opacity="1" stroke-width="1.0" stroke-linecap="square" fill="none"/>
<path d="M105.5 152.2h.3M108.6 149.2h.3M104.0 144.1h.3M103.0 150.4h.3M108.2 146.4h.3M103.8 144.2h.3M103.5 144.5h.3M103.5 151.1h.3M105.9 144.0h.3M108.0 150.9h.3M102.8 145.3h.3M102.9 145.3h.3M104.5 144.0h.3M103.6 144.5h.3M107.4 151.5h.3M106.9 151.8h.3" stroke="rgb(97, 213, 45)" stroke-opacity="1" stroke-width="1.0" stroke-linecap="square" fill="none"/>
<path d="M108.5 147.8h.3M108.1 146.4h.3M108.5 148.6h.3M104.6 151.8h.3M106.3 144.2h.3M106.0 152.1h.3M104.7 144.0h.3M102.7 149.5h.3M106.7 151.8h.3M105.0 144.0h.3M106.2 152.0h.3M107.6 145.4h.3M108.2 146.9h.3M105.8 152.0h.3M106.9 151.7h.3" stroke="rgb(106, 215, 39)" stroke-opacity="1" stroke-width="1.0" stroke-linecap="square" fill="none"/>
<path d="M108.0 146.2h.3M108.3 149.5h.3M104.5 144.2h.3M107.0 144.9h.3M103.1 150.2h.3M105.1 151.9h.3M106.4 144.5h.3M107.8 150.6h.3M103.8 144.6h.3M108.3 148.1h.3M107.9 150.3h.3" stroke="rgb(115, 216, 35)" stroke-opacity="1" stroke-width="1.0" stroke-linecap="square" fill="none"/>
<path d="M104.8 144.2h.3M102.9 149.7h.3M107.9 150.4h.3M108.3 148.8h.3M102.9 149.7h.3M103.2 145.3h.3M104.1 144.5h.3M102.6 148.5h.3M102.8 146.2h.3M108.1 147.2h.3M107.6 150.7h.3" stroke="rgb(125, 217, 29)" stroke-opacity="1" stroke-width="1.0" stroke-linecap="square" fill="none"/>
<path d="M108.1 147.4h.3M105.7 144.4h.3M108.1 147.4h.3M102.9 149.5h.3M103.0 146.0h.3M108.2 148.1h.3M105.5 144.4h.3M105.2 151.6h.3M103.3 145.5h.3" stroke="rgb(134, 218, 25)" stroke-opacity="1" stroke-width="1.0" stroke-linecap="square" fill="none"/>
<path d="M108.0 149.2h.3M103.7 145.1h.3M103.7 145.1h.3M104.4 144.7h.3" stroke="rgb(143, 220, 19)" stroke-opacity="1" stroke-width="1.0" stroke-linecap="square" fill="none"/>
<path d="M107.3 145.8h.3M104.5 144.7h.3M107.7 149.9h.3M103.0 146.3h.3M103.6 145.4h.3M106.9 145.5h.3M107.8 147.0h.3M107.2 150.7h.3M104.3 144.8h.3M104.5 144.8h.3M107.9 147.6h.3M102.9 148.5h.3" stroke="rgb(152, 221, 15)" stroke-opacity="1" stroke-width="1.0" stroke-linecap="square" fill="none"/>
<path d="M107.8 149.4h.3M107.7 149.7h.3M107.6 146.6h.3M103.0 148.8h.3M103.9 145.2h.3M104.1 150.7h.3M103.3 149.5h.3M106.9 150.9h.3M106.9 145.6h.3M102.9 147.7h.3M105.5 144.8h.3M106.7 151.0h.3M107.2 146.1h.3" stroke="rgb(161, 222, 10)" stroke-opacity="1" stroke-width="1.0" stroke-linecap="square" fill="none"/>
<path d="M105.6 151.3h.3M106.5 145.4h.3M104.4 145.0h.3M106.3 145.2h.3M107.6 149.5h.3M107.1 146.1h.3" stroke="rgb(170, 223, 5)" stroke-opacity="1" stroke-width="1.0" stroke-linecap="square" fill="none"/>
<path d="M106.2 151.1h.3M103.1 146.8h.3M107.4 146.6h.3M107.7 148.7h.3M104.2 145.3h.3M105.3 151.1h.3M104.1 145.4h.3M107.4 149.7h.3M107.2 146.4h.3" stroke="rgb(180, 225, 0)" stroke-opacity="1" stroke-width="1.0" stroke-linecap="square" fill="none"/>
<path d="M107.2 146.4h.3M106.6 150.7h.3M103.1 147.8h.3M103.4 146.4h.3M106.4 145.6h.3M106.7 150.6h.3M105.5 145.1h.3M103.9 150.1h.3M104.2 150.3h.3M106.4 145.6h.3M103.4 146.7h.3M106.0 145.3h.3M105.3 145.2h.3" stroke="rgb(187, 223, 0)" stroke-opacity="1" stroke-width="1.0" stroke-linecap="square" fill="none"/>
<path d="M104.6 150.6h.3M103.7 146.0h.3M103.3 148.4h.3M104.8 150.7h.3M105.1 145.2h.3M103.8 149.7h.3M103.8 146.0h.3M103.3 147.2h.3M103.3 147.7h.3M103.7 149.5h.3" stroke="rgb(194, 221, 0)" stroke-opacity="1" stroke-width="1.0" stroke-linecap="square" fill="none"/>
<path d="M103.3 148.0h.3M105.7 145.4h.3M107.4 147.6h.3M106.8 150.2h.3M107.4 149.1h.3M104.3 145.7h.3M106.9 150.0h.3M105.6 150.7h.3M103.7 146.4h.3M107.3 147.5h.3" stroke="rgb(201, 220, 0)" stroke-opacity="1" stroke-width="1.0" stroke-linecap="square" fill="none"/>
<path d="M107.1 149.7h.3M105.8 150.7h.3M103.9 146.2h.3M103.9 149.6h.3M105.3 150.6h.3M103.5 148.6h.3M106.6 150.2h.3M103.5 148.4h.3M106.2 150.5h.3M105.6 145.6h.3M104.9 145.6h.3M103.6 146.9h.3M104.8 150.4h.3M103.5 148.1h.3" stroke="rgb(208, 218, 0)" stroke-opacity="1" stroke-width="1.0" stroke-linecap="square" fill="none"/>
<path d="M105.7 145.7h.3M103.7 146.8h.3M103.7 146.8h.3M103.7 146.7h.3M107.2 147.9h.3M106.2 146.0h.3M106.6 146.4h.3M104.0 146.2h.3M103.8 149.1h.3M106.1 146.0h.3M107.1 147.5h.3M103.8 146.8h.3M105.7 145.8h.3" stroke="rgb(216, 216, 0)" stroke-opacity="1" stroke-width="1.0" stroke-linecap="square" fill="none"/>
<path d="M105.5 145.7h.3M104.5 150.0h.3M104.4 149.9h.3M103.8 148.8h.3M104.0 149.3h.3M104.1 146.3h.3M105.7 145.9h.3M103.7 148.3h.3M104.0 149.3h.3M103.8 148.6h.3M106.8 147.1h.3" stroke="rgb(223, 215, 0)" stroke-opacity="1" stroke-width="1.0" stroke-linecap="square" fill="none"/>
<path d="M106.3 150.0h.3M106.2 150.1h.3M106.8 147.0h.3M106.0 150.1h.3M106.3 150.0h.3M104.9 150.0h.3M105.1 150.2h.3M106.2 146.4h.3M106.7 149.5h.3M103.8 147.7h.3M105.4 150.2h.3M103.8 148.3h.3M104.6 146.2h.3" stroke="rgb(230, 213, 0)" stroke-opacity="1" stroke-width="1.0" stroke-linecap="square" fill="none"/>
<path d="M106.0 146.3h.3M106.6 146.9h.3M107.0 148.4h.3M106.9 147.6h.3M106.5 149.6h.3M106.2 149.9h.3M104.0 148.6h.3M106.7 147.2h.3" stroke="rgb(237, 211, 0)" stroke-opacity="1" stroke-width="1.0" stroke-linecap="square" fill="none"/>
<path d="M105.5 150.0h.3M104.0 148.6h.3M103.9 148.1h.3M104.1 147.0h.3M104.8 146.3h.3M104.0 148.0h.3M104.4 149.3h.3M104.1 148.8h.3M104.4 149.3h.3M104.1 147.3h.3M106.7 147.6h.3M104.3 146.8h.3M106.0 146.5h.3M106.5 149.2h.3M104.8 146.4h.3M106.2 149.7h.3M104.2 148.8h.3M106.7 148.1h.3M104.1 148.5h.3M106.1 146.7h.3" stroke="rgb(245, 210, 0)" stroke-opacity="1" stroke-width="1.0" stroke-linecap="square" fill="none"/>
<path d="M104.3 147.0h.3M106.7 147.8h.3M106.4 147.1h.3M104.5 146.7h.3M106.6 147.7h.3M105.9 146.7h.3M106.1 146.9h.3M106.6 148.4h.3M105.0 149.5h.3" stroke="rgb(246, 198, 0)" stroke-opacity="1" stroke-width="1.0" stroke-linecap="square" fill="none"/>
<path d="M104.3 147.2h.3M105.1 146.5h.3M106.2 147.0h.3M104.7 146.8h.3M104.8 146.7h.3M104.3 147.3h.3M104.3 148.5h.3M106.0 149.4h.3M104.3 147.7h.3M106.1 147.1h.3M104.4 147.2h.3M106.3 147.5h.3" stroke="rgb(248, 186, 0)" stroke-opacity="1" stroke-width="1.0" stroke-linecap="square" fill="none"/>
<path d="M105.5 149.5h.3M104.5 147.2h.3M106.4 148.1h.3M105.2 149.4h.3M106.4 148.5h.3M105.2 146.8h.3M106.0 149.1h.3M104.6 147.2h.3M105.8 147.0h.3M104.4 147.8h.3M104.5 147.6h.3M106.1 148.9h.3" stroke="rgb(250, 175, 0)" stroke-opacity="1" stroke-width="1.0" stroke-linecap="square" fill="none"/>
<path d="M104.5 148.0h.3M105.8 147.2h.3M105.5 149.2h.3M106.0 147.3h.3M105.4 149.2h.3M105.3 147.0h.3M104.6 148.2h.3M105.9 147.4h.3M106.0 148.8h.3M106.0 148.7h.3M105.2 149.0h.3M106.1 148.3h.3" stroke="rgb(251, 163, 0)" stroke-opacity="1" stroke-width="1.0" stroke-linecap="square" fill="none"/>
<path d="M105.8 148.9h.3M105.7 147.3h.3M105.8 147.4h.3M105.6 147.3h.3M105.1 148.8h.3M104.8 147.7h.3M104.9 148.5h.3M105.3 147.3h.3M105.8 148.5h.3M105.7 148.6h.3M105.8 147.8h.3M105.1 148.6h.3M105.8 147.9h.3" stroke="rgb(253, 151, 0)" stroke-opacity="1" stroke-width="1.0" stroke-linecap="square" fill="none"/>
<path d="M105.8 148.3h.3M105.3 148.6h.3M105.4 147.6h.3M105.6 147.7h.3M105.6 148.2h.3" stroke="rgb(255, 140, 0)" stroke-opacity="1" stroke-width="1.0" stroke-linecap="square" fill="none"/>
</g>
<line x1="114.6" y1="93.6" x2="114.6" y2="160.3" stroke="#666" stroke-width="1.1"/>
<line x1="92.1" y1="132.3" x2="158.5" y2="132.3" stroke="#666" stroke-width="1.1"/>
<g font-family="Liberation Sans, sans-serif" font-size="5.6" font-weight="bold" fill="#000" stroke="#000" stroke-width="0.15">
<text x="94.3" y="100.8">1.1</text>
<text x="155.5" y="100.8" text-anchor="end">19.8</text>
<text x="94.3" y="158.5">64.8</text>
<text x="155.5" y="158.5" text-anchor="end">14.3</text>
</g>
<rect x="162.0" y="93.6" width="66.4" height="66.7" fill="#fff" stroke="#b8b8b8" stroke-width="0.8"/>
<g filter="url(#soft)">
<path d="M227.4 118.2h.3M167.6 122.5h.3M218.2 116.3h.3M225.3 129.1h.3M208.7 116.3h.3M164.4 126.5h.3M212.8 116.5h.3M176.4 121.1h.3M180.7 158.8h.3M203.0 153.7h.3M208.5 150.6h.3M199.4 154.7h.3M218.8 140.1h.3M176.3 122.1h.3M218.0 140.9h.3M219.8 135.9h.3M177.2 157.9h.3M222.7 123.2h.3M218.9 119.7h.3M179.1 121.9h.3M186.4 120.4h.3" stroke="rgb(120, 120, 245)" stroke-opacity="0.4" stroke-width="0.75" stroke-linecap="square" fill="none"/>
<path d="M208.0 149.2h.3M181.1 121.9h.3M183.4 121.4h.3M181.5 156.2h.3M214.2 143.2h.3M214.0 119.1h.3M182.7 121.9h.3M217.5 136.2h.3M198.4 152.6h.3M215.0 120.0h.3M220.3 127.1h.3M217.3 134.6h.3M213.7 141.7h.3M213.6 141.5h.3M216.7 135.1h.3M215.9 137.1h.3M194.2 152.9h.3M200.5 119.6h.3M214.0 140.5h.3M201.0 150.3h.3M175.3 155.7h.3M202.4 119.7h.3M218.3 129.1h.3M213.7 120.8h.3M188.3 153.1h.3M168.2 128.9h.3M216.3 122.3h.3M200.7 120.1h.3M212.6 120.8h.3M193.6 151.9h.3" stroke="rgb(112, 114, 243)" stroke-opacity="0.4" stroke-width="0.75" stroke-linecap="square" fill="none"/>
<path d="M208.4 144.9h.3M216.1 131.7h.3M209.5 120.5h.3M215.5 122.7h.3M215.3 133.0h.3M172.9 127.1h.3M191.5 121.9h.3M206.0 146.3h.3M206.5 145.8h.3M196.2 150.6h.3M216.0 123.3h.3M170.5 155.3h.3M208.4 120.8h.3M217.2 124.1h.3M177.0 154.2h.3M215.8 130.7h.3M165.4 131.9h.3M216.6 128.6h.3M206.3 145.6h.3M204.0 147.1h.3M205.2 120.7h.3M184.3 152.5h.3M213.4 135.4h.3M178.2 125.5h.3M194.3 150.6h.3M213.2 135.6h.3M176.8 154.0h.3M212.7 136.3h.3M166.9 155.0h.3M168.6 155.0h.3M218.0 125.8h.3M191.1 151.0h.3M170.3 129.2h.3M208.0 143.3h.3M185.3 151.9h.3M208.7 121.4h.3M215.7 128.7h.3M213.7 133.1h.3M184.6 152.0h.3M214.5 131.4h.3M202.9 146.8h.3M197.8 149.1h.3M184.1 151.9h.3M165.9 154.7h.3M213.2 133.4h.3M194.6 149.8h.3M168.4 130.6h.3M191.2 122.8h.3M200.6 121.4h.3" stroke="rgb(105, 109, 242)" stroke-opacity="0.4" stroke-width="0.75" stroke-linecap="square" fill="none"/>
<path d="M193.9 122.4h.3M193.1 149.9h.3M200.5 147.5h.3M177.3 153.2h.3M204.4 145.3h.3M213.8 131.3h.3M183.6 124.7h.3M187.5 123.8h.3M174.6 127.6h.3M211.4 136.1h.3M212.2 134.3h.3M194.7 149.3h.3M212.2 134.1h.3M213.8 130.8h.3M183.6 151.5h.3M189.8 150.2h.3M175.6 127.3h.3M195.6 149.0h.3M200.9 147.0h.3M198.3 148.0h.3M204.6 121.7h.3M212.3 133.5h.3M192.1 149.7h.3M213.0 132.0h.3M167.1 154.3h.3M204.4 144.6h.3M214.5 128.7h.3M189.1 150.1h.3M211.1 123.1h.3M212.9 131.8h.3M208.8 139.7h.3M192.2 149.4h.3M170.7 153.9h.3M172.7 153.6h.3M187.0 124.3h.3M204.3 122.0h.3M206.2 122.2h.3M193.4 148.9h.3M181.8 125.7h.3M212.4 132.0h.3M208.8 139.1h.3M185.0 124.9h.3M190.0 149.4h.3M192.0 149.0h.3M198.1 122.5h.3" stroke="rgb(98, 104, 241)" stroke-opacity="0.4" stroke-width="0.75" stroke-linecap="square" fill="none"/>
<path d="M192.0 148.9h.3M172.2 129.5h.3M215.2 127.5h.3M162.9 136.5h.3M183.7 125.4h.3M210.8 123.5h.3M207.9 139.8h.3M195.5 148.0h.3M209.5 136.9h.3M212.7 130.4h.3M215.1 124.7h.3M177.7 127.2h.3M180.1 126.5h.3M187.9 149.4h.3M190.8 148.8h.3M168.7 131.9h.3M202.2 122.5h.3M205.7 122.7h.3M208.8 137.1h.3M213.6 128.5h.3M187.5 149.4h.3M198.0 146.6h.3M191.4 148.4h.3M195.6 123.2h.3M175.8 128.3h.3M214.6 127.7h.3M190.8 148.5h.3M200.0 145.7h.3M216.0 126.3h.3M192.1 123.8h.3M201.8 144.6h.3M205.8 122.9h.3M205.5 141.4h.3M211.2 131.7h.3M204.4 122.8h.3M208.5 136.6h.3M199.0 122.9h.3M212.0 129.9h.3M210.3 124.0h.3M170.7 131.0h.3M181.5 126.5h.3M197.4 123.1h.3M187.2 125.0h.3M193.6 147.6h.3M194.8 147.3h.3M200.6 122.9h.3M176.4 128.3h.3M209.5 134.2h.3" stroke="rgb(90, 99, 240)" stroke-opacity="0.4" stroke-width="0.75" stroke-linecap="square" fill="none"/>
<path d="M186.8 149.0h.3M205.2 141.1h.3M199.2 145.5h.3M201.3 144.2h.3M192.7 147.5h.3M184.2 149.6h.3M198.6 145.6h.3M185.6 125.6h.3M210.4 132.1h.3M185.3 125.7h.3M193.2 124.0h.3M205.1 123.3h.3M194.5 123.8h.3M202.5 143.0h.3M195.7 146.4h.3M179.4 151.0h.3M197.9 145.6h.3M203.3 142.2h.3M181.6 150.2h.3M202.3 143.1h.3M188.5 148.2h.3M202.8 123.3h.3M189.0 125.0h.3M169.4 132.3h.3M194.7 146.5h.3M206.7 137.5h.3M208.7 124.2h.3M199.5 144.5h.3M209.0 133.3h.3M184.7 126.2h.3M193.9 146.5h.3M204.2 140.7h.3M203.1 123.5h.3M188.7 125.3h.3M198.7 123.7h.3" stroke="rgb(84, 94, 240)" stroke-opacity="0.55" stroke-width="0.75" stroke-linecap="square" fill="none"/>
<path d="M191.1 147.1h.3M207.6 124.1h.3M197.1 145.3h.3M208.4 133.8h.3M196.0 145.6h.3M183.6 126.6h.3M202.9 141.6h.3M180.3 127.7h.3M205.7 137.9h.3M171.7 131.4h.3M199.5 143.8h.3M182.2 127.1h.3M187.6 147.6h.3M195.1 145.5h.3M206.3 136.3h.3M193.6 124.6h.3M203.5 123.9h.3M202.6 141.2h.3M201.8 141.9h.3M176.8 129.1h.3M186.2 126.2h.3M202.7 140.9h.3M205.7 136.8h.3M194.7 145.3h.3M208.5 132.1h.3M209.0 131.1h.3M204.9 137.6h.3M214.1 127.1h.3M201.4 124.1h.3M181.8 127.6h.3M175.8 129.7h.3" stroke="rgb(81, 93, 240)" stroke-opacity="0.55" stroke-width="0.75" stroke-linecap="square" fill="none"/>
<path d="M163.0 138.8h.3M185.3 148.0h.3M198.8 143.3h.3M187.2 147.4h.3M191.7 145.9h.3M185.4 147.9h.3M203.8 138.7h.3M208.2 132.0h.3M203.1 124.3h.3M166.0 136.0h.3M214.6 126.2h.3M205.1 136.8h.3M190.3 146.2h.3M208.1 132.1h.3M209.0 130.4h.3M196.4 144.1h.3M167.2 152.4h.3M187.1 147.2h.3M198.8 143.0h.3M205.3 136.2h.3M200.4 141.9h.3M203.9 138.2h.3M201.6 140.8h.3M203.7 138.4h.3M194.3 144.8h.3M207.9 132.1h.3M193.4 125.1h.3M197.8 143.3h.3M207.1 133.2h.3M205.7 135.3h.3M192.9 145.1h.3M213.2 127.6h.3M186.9 147.1h.3M188.8 126.1h.3M194.5 125.0h.3M200.9 141.1h.3M197.8 143.1h.3M197.9 143.1h.3M164.1 151.9h.3M205.5 135.2h.3M207.1 133.0h.3M195.1 144.2h.3M195.8 143.9h.3M180.6 128.4h.3M194.2 144.5h.3M206.6 133.5h.3M207.3 132.3h.3M204.6 136.3h.3" stroke="rgb(78, 92, 240)" stroke-opacity="0.55" stroke-width="0.75" stroke-linecap="square" fill="none"/>
<path d="M163.3 151.5h.3M163.9 151.7h.3M178.8 129.0h.3M201.2 140.2h.3M187.8 146.4h.3M192.8 144.6h.3M202.7 124.7h.3M206.5 133.2h.3M204.2 124.7h.3M169.0 134.2h.3M203.0 137.7h.3M206.5 132.8h.3M201.0 139.9h.3M185.9 147.0h.3M166.9 152.0h.3M193.8 144.0h.3M188.7 145.8h.3M203.2 137.1h.3M183.0 127.9h.3M198.7 141.5h.3M205.3 134.4h.3M186.5 146.6h.3M206.3 132.9h.3M197.5 142.1h.3M205.2 134.2h.3M164.2 151.5h.3M205.9 133.2h.3M205.9 133.2h.3M168.8 134.5h.3M204.7 134.8h.3M168.2 135.0h.3M201.4 138.8h.3M195.2 125.4h.3M184.8 127.6h.3" stroke="rgb(75, 90, 240)" stroke-opacity="0.55" stroke-width="0.75" stroke-linecap="square" fill="none"/>
<path d="M201.0 125.0h.3M202.6 137.1h.3M196.8 142.1h.3M185.8 127.4h.3M206.7 131.6h.3M206.6 131.7h.3M199.5 140.2h.3M192.5 143.9h.3M190.2 144.8h.3M172.1 151.4h.3M200.0 125.1h.3M191.5 144.3h.3M190.4 144.7h.3M204.7 134.3h.3M164.9 138.0h.3M199.8 125.1h.3M207.2 130.6h.3M194.9 142.8h.3M197.6 141.3h.3M197.2 125.3h.3M171.2 151.5h.3M201.2 138.2h.3M197.5 141.3h.3M177.0 130.3h.3M168.7 134.9h.3M198.6 125.3h.3M203.5 135.3h.3M187.0 145.8h.3M176.5 150.2h.3M199.5 139.4h.3M197.4 140.9h.3M187.2 145.7h.3M189.7 126.7h.3M179.1 149.2h.3M177.2 130.4h.3M202.4 136.2h.3M213.0 125.7h.3M201.0 137.7h.3" stroke="rgb(71, 89, 240)" stroke-opacity="0.55" stroke-width="0.75" stroke-linecap="square" fill="none"/>
<path d="M191.5 126.4h.3M195.0 142.1h.3M201.6 125.2h.3M202.2 136.2h.3M185.6 146.3h.3M188.8 144.7h.3M188.7 144.8h.3M207.2 130.2h.3M200.9 137.5h.3M175.4 150.3h.3M207.1 125.1h.3M207.1 130.2h.3M189.9 144.1h.3M204.0 133.8h.3M205.3 131.9h.3M197.9 125.6h.3M172.8 132.7h.3M212.5 127.4h.3M190.6 143.7h.3M199.0 138.8h.3M197.4 140.1h.3M192.3 142.9h.3M203.0 134.7h.3M205.4 131.4h.3M196.8 125.8h.3M178.8 130.1h.3M204.6 132.4h.3M199.1 138.5h.3M170.1 151.3h.3M204.3 132.9h.3M200.7 125.4h.3" stroke="rgb(68, 88, 240)" stroke-opacity="0.55" stroke-width="0.75" stroke-linecap="square" fill="none"/>
<path d="M179.6 129.9h.3M195.4 140.8h.3M196.4 125.9h.3M194.6 126.2h.3M203.6 125.3h.3M206.8 125.2h.3M200.6 125.5h.3M196.4 140.0h.3M197.2 139.5h.3M164.9 138.8h.3M173.8 132.4h.3M208.4 129.4h.3M192.7 142.0h.3M166.0 137.7h.3M197.8 138.9h.3M210.3 128.5h.3M195.6 140.3h.3M199.8 137.0h.3M196.5 126.0h.3M204.9 131.1h.3M199.8 136.8h.3M192.2 142.0h.3M197.5 138.7h.3M165.7 138.2h.3M190.8 142.7h.3M169.3 135.3h.3M197.6 138.6h.3M190.1 143.1h.3M191.0 142.6h.3M201.1 125.5h.3" stroke="rgb(65, 86, 240)" stroke-opacity="0.55" stroke-width="0.75" stroke-linecap="square" fill="none"/>
<path d="M205.8 125.3h.3M209.7 128.8h.3M175.4 149.9h.3M186.0 145.3h.3M194.6 126.4h.3M177.1 131.2h.3M182.6 129.3h.3M197.5 138.3h.3M195.1 139.9h.3M166.2 137.9h.3M183.1 146.7h.3M195.6 139.5h.3M165.8 138.2h.3M202.3 133.7h.3M197.7 137.9h.3M201.9 134.1h.3M199.8 136.2h.3M196.7 138.7h.3M195.9 139.1h.3M197.3 138.2h.3M192.8 141.1h.3M173.4 133.0h.3M191.7 141.8h.3M201.4 134.6h.3M202.4 125.5h.3M204.1 131.3h.3M208.2 129.3h.3M198.4 137.1h.3M202.2 133.5h.3M168.7 136.0h.3M182.3 129.5h.3M198.2 137.3h.3M195.6 139.1h.3M196.9 138.1h.3M195.3 139.2h.3" stroke="rgb(62, 85, 240)" stroke-opacity="0.55" stroke-width="0.75" stroke-linecap="square" fill="none"/>
<path d="M206.9 129.8h.3M198.0 137.2h.3M166.3 137.9h.3M175.4 132.1h.3M195.8 138.8h.3M187.2 144.2h.3M187.2 128.2h.3M179.0 148.4h.3M198.6 136.6h.3M172.4 150.5h.3M180.3 130.3h.3M206.3 130.0h.3M202.3 132.9h.3M167.9 150.9h.3M171.7 134.1h.3M195.5 138.8h.3M196.1 138.4h.3M175.6 132.2h.3M187.1 128.3h.3M192.4 140.8h.3M200.8 134.5h.3M204.5 130.8h.3M202.6 132.4h.3M190.5 141.9h.3M192.2 140.8h.3M193.7 139.8h.3M202.1 125.6h.3M191.7 141.1h.3M190.6 141.8h.3M186.1 144.7h.3M199.3 135.6h.3M193.4 139.9h.3M201.5 133.5h.3M190.3 127.6h.3M195.4 138.6h.3M203.5 131.2h.3M201.8 132.9h.3M195.2 138.5h.3M174.2 132.9h.3M176.8 131.8h.3M200.3 134.5h.3" stroke="rgb(59, 84, 240)" stroke-opacity="0.55" stroke-width="0.75" stroke-linecap="square" fill="none"/>
<path d="M196.4 126.4h.3M203.3 131.2h.3M199.4 135.1h.3M203.9 130.9h.3M200.3 134.3h.3M185.3 145.0h.3M191.8 140.7h.3M167.1 137.5h.3M192.1 127.2h.3M186.2 144.4h.3M196.5 137.3h.3M194.7 138.6h.3M165.7 138.8h.3M194.8 138.5h.3M188.1 143.1h.3M212.0 126.0h.3M207.9 129.3h.3M200.8 133.5h.3M176.1 132.2h.3M191.3 140.8h.3M191.4 127.4h.3M174.1 149.9h.3M190.5 141.4h.3M197.6 136.2h.3M196.5 137.1h.3M193.9 126.9h.3M202.6 131.4h.3M202.3 131.7h.3M182.0 130.1h.3M201.1 132.9h.3M191.4 127.5h.3M191.3 140.6h.3M196.5 136.8h.3M194.4 138.3h.3" stroke="rgb(56, 82, 240)" stroke-opacity="0.55" stroke-width="0.75" stroke-linecap="square" fill="none"/>
<path d="M199.6 134.2h.3M172.3 150.2h.3M205.3 130.2h.3M185.2 144.7h.3M199.5 134.3h.3M201.9 131.7h.3M198.7 134.9h.3M199.5 134.2h.3M175.4 149.4h.3M200.2 133.5h.3M182.1 146.5h.3M179.5 131.1h.3M199.8 133.8h.3M182.8 130.0h.3M166.9 150.5h.3M182.3 130.2h.3M194.0 138.2h.3M194.1 138.2h.3M193.4 138.7h.3M165.3 139.5h.3M200.6 132.8h.3M197.4 135.8h.3M184.1 145.3h.3M181.3 130.5h.3M189.7 141.4h.3M202.8 131.1h.3M199.7 133.6h.3M185.9 144.1h.3M194.6 137.6h.3M167.4 137.7h.3M200.3 132.7h.3M180.2 147.3h.3M183.7 129.8h.3M197.7 135.2h.3M200.3 132.8h.3M201.3 131.8h.3M194.0 137.9h.3M190.7 140.4h.3M172.3 134.4h.3" stroke="rgb(53, 81, 240)" stroke-opacity="0.55" stroke-width="0.75" stroke-linecap="square" fill="none"/>
<path d="M191.1 127.7h.3M181.3 146.7h.3M205.4 130.0h.3M197.9 134.8h.3M192.3 139.0h.3M199.5 133.2h.3M191.6 139.5h.3M188.3 142.2h.3M201.9 125.8h.3M177.5 132.1h.3M170.1 150.3h.3M199.1 133.5h.3M187.1 143.0h.3M173.4 149.7h.3M186.3 129.1h.3M181.3 130.8h.3M187.3 142.8h.3M196.3 126.6h.3M187.2 142.9h.3M192.2 138.8h.3M199.4 133.0h.3M174.4 149.4h.3M197.9 134.4h.3M204.0 130.5h.3M190.9 139.8h.3M196.4 135.6h.3M182.7 130.3h.3" stroke="rgb(50, 80, 240)" stroke-opacity="0.75" stroke-width="0.75" stroke-linecap="square" fill="none"/>
<path d="M198.9 133.3h.3M164.8 149.7h.3M164.2 141.2h.3M173.1 134.3h.3M196.0 135.6h.3M199.1 132.9h.3M185.2 144.1h.3M200.3 131.8h.3M171.0 150.1h.3M196.5 126.7h.3M194.5 136.5h.3M196.1 135.3h.3M194.2 136.7h.3M190.6 139.7h.3M178.5 132.0h.3M186.6 143.1h.3M196.6 134.8h.3M196.1 135.2h.3M194.4 136.4h.3M182.2 145.9h.3M178.1 132.2h.3M186.6 142.9h.3M191.4 138.8h.3M163.7 141.9h.3M173.3 134.3h.3M197.9 133.4h.3M211.2 126.1h.3M193.8 136.7h.3" stroke="rgb(49, 81, 239)" stroke-opacity="0.75" stroke-width="0.75" stroke-linecap="square" fill="none"/>
<path d="M200.1 131.7h.3M196.9 134.2h.3M166.6 138.9h.3M197.1 134.0h.3M185.5 143.7h.3M193.6 136.8h.3M188.3 141.4h.3M190.3 139.6h.3M193.9 136.5h.3M199.0 132.2h.3M193.7 136.6h.3M163.5 148.7h.3M185.4 129.6h.3M184.3 144.5h.3M188.5 141.1h.3M201.6 131.1h.3M181.0 131.3h.3M169.1 150.1h.3M190.8 128.0h.3M196.8 133.9h.3M174.6 133.8h.3M187.8 141.6h.3M196.7 133.8h.3M176.8 132.9h.3M190.7 138.9h.3M197.9 132.5h.3M194.5 135.5h.3M177.6 132.7h.3" stroke="rgb(48, 82, 239)" stroke-opacity="0.75" stroke-width="0.75" stroke-linecap="square" fill="none"/>
<path d="M181.1 131.4h.3M185.2 143.6h.3M189.3 140.1h.3M195.1 134.8h.3M195.1 134.7h.3M165.3 149.5h.3M188.8 140.4h.3M164.0 141.9h.3M190.5 138.7h.3M176.1 133.3h.3M194.4 135.2h.3M191.4 137.8h.3M173.7 134.4h.3M193.4 136.0h.3M188.2 140.9h.3M191.6 137.5h.3M197.1 132.7h.3M196.4 133.2h.3M179.6 147.0h.3M187.7 141.4h.3M191.8 137.3h.3M186.9 142.0h.3M193.2 136.0h.3M188.8 140.2h.3M191.5 137.5h.3M189.8 139.2h.3" stroke="rgb(48, 83, 239)" stroke-opacity="0.75" stroke-width="0.75" stroke-linecap="square" fill="none"/>
<path d="M179.6 132.1h.3M196.8 132.7h.3M201.7 126.1h.3M187.1 141.8h.3M168.4 149.9h.3M187.7 141.2h.3M206.5 125.7h.3M182.1 145.5h.3M177.6 147.8h.3M187.5 129.1h.3M197.4 132.2h.3M174.4 134.2h.3M190.1 138.6h.3M193.9 135.0h.3M192.2 136.6h.3M175.2 133.9h.3M190.0 138.8h.3M173.2 134.8h.3M193.4 135.4h.3M194.5 134.3h.3M209.5 128.2h.3M184.0 144.1h.3M191.4 137.2h.3M201.9 130.8h.3M179.1 132.4h.3M193.9 134.8h.3M192.7 135.9h.3M204.6 130.0h.3M203.3 130.4h.3M176.9 148.1h.3M185.2 130.0h.3M172.6 135.2h.3M196.3 132.6h.3M200.6 131.1h.3M209.4 128.2h.3M195.0 133.4h.3M192.5 135.8h.3M208.8 125.8h.3M202.9 130.5h.3M193.5 134.8h.3M174.6 134.3h.3M203.9 130.2h.3M173.0 135.0h.3M199.3 131.5h.3M194.5 133.7h.3M210.5 126.2h.3M180.3 132.1h.3M189.1 139.3h.3M197.8 131.9h.3M185.9 142.5h.3M194.4 133.6h.3M189.4 138.9h.3M192.9 135.1h.3M195.7 132.6h.3M185.7 142.6h.3M193.8 134.2h.3M191.2 136.8h.3M167.4 149.7h.3M210.9 126.5h.3M173.7 134.8h.3M171.3 136.1h.3M163.4 147.7h.3M189.5 138.6h.3M180.7 146.1h.3M195.0 127.2h.3M181.0 132.0h.3M177.8 147.5h.3M182.6 144.9h.3M180.6 132.1h.3M183.7 130.8h.3M181.3 145.7h.3M168.7 137.8h.3M167.1 149.6h.3M163.3 147.5h.3M190.5 137.3h.3M192.6 134.9h.3M175.5 134.1h.3M182.1 131.6h.3M186.8 141.3h.3M181.4 132.0h.3M188.4 139.6h.3M190.0 137.6h.3M190.2 137.3h.3M202.9 126.0h.3M178.3 133.1h.3M178.8 146.9h.3M194.3 132.7h.3M189.5 128.7h.3M188.4 139.5h.3M191.9 135.1h.3M172.0 135.9h.3M188.4 139.4h.3M190.4 136.8h.3M170.3 149.6h.3M182.4 131.6h.3M196.8 131.9h.3M178.9 146.9h.3M191.8 134.8h.3M193.1 133.0h.3M163.1 146.2h.3M192.4 133.5h.3M184.2 143.4h.3M188.8 138.7h.3M178.1 133.3h.3M192.6 133.2h.3M182.4 131.8h.3M203.8 126.0h.3M198.9 131.4h.3" stroke="rgb(47, 85, 239)" stroke-opacity="0.75" stroke-width="0.75" stroke-linecap="square" fill="none"/>
<path d="M193.7 127.6h.3M186.7 140.9h.3M202.4 126.1h.3M179.6 133.0h.3M166.1 149.2h.3M188.8 138.3h.3M189.9 136.7h.3M188.2 139.0h.3M192.7 132.8h.3M190.0 136.5h.3M188.6 138.5h.3M185.8 130.1h.3M191.7 133.2h.3M190.0 136.1h.3M190.1 135.8h.3M188.9 137.8h.3M164.1 143.0h.3M206.7 129.1h.3M165.2 141.3h.3M191.3 133.2h.3M170.1 149.4h.3M184.1 131.1h.3M179.5 146.3h.3M190.5 134.7h.3M171.9 149.1h.3M170.5 149.3h.3M189.3 136.9h.3M210.1 127.5h.3M197.8 126.8h.3M184.0 131.3h.3M194.3 132.2h.3M191.4 133.0h.3M209.4 127.9h.3M179.1 146.5h.3M188.3 138.4h.3M185.0 130.6h.3M187.9 138.9h.3M194.6 132.2h.3M190.2 134.8h.3M183.8 131.5h.3M189.1 137.1h.3M192.6 132.6h.3M188.9 137.2h.3M181.5 132.7h.3M178.0 133.7h.3M181.7 132.6h.3M170.0 137.4h.3M199.7 131.1h.3M190.3 133.3h.3M194.0 127.6h.3M192.0 132.7h.3M199.4 126.6h.3M178.3 146.8h.3M189.8 135.2h.3M178.0 147.0h.3M165.3 141.5h.3M203.1 130.2h.3M189.0 136.8h.3M168.0 138.9h.3M170.6 137.1h.3M189.8 133.8h.3M189.7 133.6h.3M184.0 143.0h.3M194.5 127.5h.3M182.9 132.3h.3M179.8 133.3h.3M172.2 136.2h.3M210.2 127.3h.3M183.1 143.7h.3M198.4 131.3h.3M165.2 141.6h.3M189.0 136.3h.3M189.5 134.5h.3M180.1 133.3h.3M172.6 148.9h.3M189.4 133.2h.3M187.9 138.2h.3M170.5 137.2h.3M165.8 140.9h.3M188.6 137.0h.3M181.1 145.1h.3M189.7 132.9h.3M166.9 139.9h.3M207.6 128.7h.3M167.9 149.2h.3M165.0 148.2h.3M183.4 143.4h.3M177.4 134.2h.3M184.4 131.4h.3M168.3 149.2h.3M197.5 126.9h.3M189.4 132.9h.3M183.7 132.4h.3M196.6 127.1h.3M185.2 141.5h.3M181.1 133.3h.3M164.9 142.2h.3M199.2 131.1h.3M183.5 132.6h.3M184.9 141.9h.3M178.7 133.9h.3M192.3 128.1h.3M191.2 132.5h.3M165.2 148.3h.3M183.1 132.8h.3M187.8 133.4h.3M192.5 128.0h.3M180.7 133.4h.3M164.3 143.2h.3M197.5 127.0h.3M167.9 149.1h.3M187.6 133.5h.3M188.1 136.7h.3M187.2 129.8h.3M184.8 141.8h.3M188.2 136.6h.3M183.6 132.8h.3M184.4 142.2h.3M187.5 133.7h.3M188.0 132.9h.3M184.4 132.7h.3M184.9 131.4h.3M178.4 134.1h.3M208.4 126.2h.3M164.0 146.9h.3M188.1 134.9h.3M187.4 137.9h.3M187.2 133.8h.3M188.1 135.9h.3M186.9 132.9h.3M194.3 127.6h.3M178.2 134.2h.3M164.1 146.9h.3M184.9 132.5h.3M187.0 133.8h.3M184.8 132.2h.3M186.2 133.1h.3M173.8 135.7h.3M199.3 131.0h.3M185.7 133.0h.3M195.1 131.8h.3M185.5 133.0h.3M168.0 149.0h.3M188.0 135.7h.3M183.6 133.2h.3M186.2 132.8h.3M183.5 142.9h.3M184.9 132.1h.3M185.9 132.8h.3M182.2 144.0h.3M202.8 130.1h.3M184.4 133.2h.3M189.3 132.5h.3M187.9 135.7h.3M180.2 133.8h.3M186.0 133.5h.3M177.7 146.8h.3M187.1 134.1h.3M185.1 132.1h.3M186.3 130.4h.3M187.4 129.8h.3M185.8 133.6h.3M182.9 143.3h.3M185.6 133.5h.3M187.1 138.0h.3M187.2 129.9h.3M201.7 130.4h.3M164.9 142.6h.3M195.2 131.7h.3M181.2 133.7h.3M188.7 132.5h.3M186.5 139.1h.3M186.7 138.8h.3M184.7 133.5h.3M187.5 136.3h.3M174.5 148.0h.3M187.2 134.7h.3M183.1 133.5h.3M185.8 133.8h.3M182.5 133.6h.3M187.1 137.7h.3M193.9 127.8h.3M169.1 138.5h.3M182.7 143.4h.3M184.0 133.6h.3" stroke="rgb(43, 93, 237)" stroke-opacity="0.75" stroke-width="0.75" stroke-linecap="square" fill="none"/>
<path d="M178.1 134.4h.3M178.3 134.4h.3M187.4 136.3h.3M187.3 137.0h.3M187.4 135.9h.3M183.4 142.8h.3M188.8 132.4h.3M172.8 136.4h.3M175.4 147.7h.3M192.5 128.2h.3M187.1 137.3h.3M193.6 131.9h.3M187.1 136.6h.3M188.1 132.3h.3M186.0 132.0h.3M172.6 148.5h.3M186.9 137.5h.3M184.8 134.0h.3M202.1 130.3h.3M193.4 131.9h.3M184.4 133.9h.3M171.2 137.3h.3M186.6 137.9h.3M187.1 132.2h.3M186.5 138.2h.3M186.7 132.1h.3M209.1 126.5h.3M185.9 131.8h.3M186.9 136.4h.3M171.3 137.2h.3M180.5 134.1h.3M185.7 134.5h.3M185.1 134.3h.3M209.2 127.6h.3M186.1 134.8h.3M178.9 134.4h.3M209.5 126.7h.3M199.0 130.9h.3M190.0 132.2h.3M186.3 135.2h.3M183.2 142.6h.3M209.0 126.5h.3M195.0 127.6h.3M168.5 139.1h.3M186.6 136.9h.3M192.3 131.9h.3M173.7 148.1h.3M187.5 132.1h.3M191.4 132.0h.3M186.1 138.5h.3M208.8 126.4h.3M182.0 134.2h.3M185.2 134.7h.3M194.8 127.6h.3M178.2 134.8h.3M176.0 147.2h.3M189.1 129.3h.3M185.8 135.5h.3M165.2 147.5h.3M186.4 131.0h.3M172.6 148.3h.3M175.8 147.3h.3M173.1 136.6h.3M168.8 148.7h.3M187.4 130.2h.3M181.9 134.4h.3M208.9 127.7h.3M176.6 146.9h.3M186.9 131.7h.3M186.5 131.0h.3M176.5 135.4h.3M185.9 136.7h.3M173.9 136.2h.3M193.7 131.7h.3M173.1 136.6h.3M179.5 134.7h.3M177.0 135.3h.3M185.7 137.0h.3M204.6 126.3h.3M181.2 144.0h.3M164.8 143.8h.3M179.7 145.1h.3M178.1 135.0h.3M184.6 135.3h.3M177.0 135.3h.3M170.8 148.5h.3M193.4 131.7h.3M184.0 135.1h.3M199.7 130.7h.3M185.4 136.4h.3M193.2 128.1h.3M205.0 126.3h.3M183.8 141.3h.3M207.8 128.2h.3M171.9 148.3h.3M180.6 134.8h.3M183.2 135.0h.3M185.1 138.7h.3M167.5 140.3h.3M165.4 147.4h.3M178.5 135.1h.3M185.3 137.4h.3M187.0 130.9h.3M201.9 130.1h.3" stroke="rgb(39, 101, 236)" stroke-opacity="0.75" stroke-width="0.75" stroke-linecap="square" fill="none"/>
<path d="M193.7 128.0h.3M176.9 146.6h.3M175.7 135.8h.3M190.7 131.8h.3M178.4 135.2h.3M184.6 139.7h.3M185.2 137.2h.3M184.0 140.7h.3M185.0 138.5h.3M177.1 135.5h.3M178.5 135.2h.3M184.9 136.5h.3M185.1 137.9h.3M198.6 127.0h.3M184.7 136.2h.3M167.5 140.4h.3M173.8 147.8h.3M200.1 126.8h.3M180.2 135.0h.3M184.4 136.0h.3M184.2 140.3h.3M172.9 137.0h.3M171.2 137.8h.3M171.1 137.9h.3M178.5 135.3h.3M184.5 136.3h.3M172.8 137.0h.3M168.2 148.4h.3M183.7 135.6h.3M166.8 148.0h.3M165.4 143.1h.3M183.5 135.6h.3M181.7 135.2h.3M182.2 135.2h.3M182.2 135.2h.3M170.0 138.6h.3M180.4 135.1h.3M196.2 127.5h.3M182.8 142.0h.3M184.3 136.3h.3M184.6 138.8h.3M184.8 137.7h.3M184.8 138.0h.3M184.6 138.8h.3M165.4 143.3h.3M181.7 135.3h.3M168.9 148.4h.3M182.9 135.5h.3M208.7 126.9h.3M188.9 131.6h.3M204.9 129.2h.3M181.0 143.7h.3M181.8 135.4h.3M171.5 137.8h.3M187.7 131.2h.3M170.4 138.5h.3M181.3 143.3h.3M182.9 141.6h.3M176.6 146.5h.3M190.7 131.7h.3M184.0 136.6h.3M179.4 144.8h.3M179.0 145.2h.3M182.2 135.6h.3M188.6 130.0h.3M206.5 128.6h.3M181.3 143.3h.3M198.5 130.8h.3M205.1 129.1h.3M179.8 144.5h.3M203.9 129.5h.3M183.5 136.4h.3M165.2 144.2h.3M184.1 138.9h.3M177.0 146.2h.3M165.7 147.0h.3M181.1 135.6h.3M183.5 136.5h.3M183.7 136.7h.3M183.5 136.5h.3M167.4 140.9h.3M190.3 129.2h.3M182.4 142.0h.3M179.9 144.4h.3M171.6 148.0h.3M179.1 135.6h.3M182.7 141.5h.3M175.3 136.4h.3M177.4 135.9h.3M195.8 131.2h.3M188.1 131.0h.3M183.5 136.8h.3M205.7 126.5h.3M174.8 147.1h.3M183.5 136.8h.3M183.0 136.4h.3M189.0 129.9h.3M182.8 136.3h.3M165.6 143.5h.3M180.7 143.6h.3M181.2 135.8h.3" stroke="rgb(35, 110, 235)" stroke-opacity="0.9" stroke-width="1.0" stroke-linecap="square" fill="none"/>
<path d="M183.0 136.5h.3M175.9 136.3h.3M206.2 128.7h.3M188.1 130.8h.3M181.1 143.2h.3M189.1 131.4h.3M183.1 140.7h.3M166.3 142.3h.3M165.6 146.5h.3M207.4 128.1h.3M206.8 128.4h.3M168.7 139.8h.3M171.0 138.4h.3M188.5 130.3h.3M183.5 137.4h.3M166.9 141.5h.3M173.4 137.2h.3M182.1 136.2h.3M181.5 136.0h.3M179.0 144.9h.3M170.3 148.1h.3M182.8 136.6h.3M166.1 142.7h.3M177.4 136.1h.3M179.3 135.9h.3M204.1 129.4h.3M166.0 146.9h.3M201.3 130.1h.3M188.3 130.8h.3M182.9 136.9h.3M181.5 142.7h.3M188.4 130.6h.3M177.5 136.1h.3M193.3 128.3h.3M177.7 145.6h.3M182.3 136.5h.3M175.8 146.6h.3M178.0 136.1h.3M181.0 136.1h.3M169.2 139.6h.3M206.9 128.3h.3M179.7 144.2h.3M166.3 147.1h.3M183.4 138.6h.3M179.2 144.6h.3M192.2 128.7h.3M182.0 136.5h.3M197.9 130.7h.3M199.2 130.5h.3M181.7 142.2h.3M207.1 126.7h.3M180.3 143.7h.3M199.1 127.1h.3M174.1 137.1h.3M170.9 147.9h.3M168.5 140.3h.3M179.4 144.4h.3M189.4 131.2h.3M207.1 126.7h.3M181.6 136.5h.3M183.0 140.0h.3M176.1 136.5h.3M181.1 136.4h.3M180.7 143.2h.3M173.4 137.4h.3M167.0 147.3h.3M172.9 137.7h.3M190.8 129.2h.3M205.5 128.8h.3M195.1 131.1h.3M188.8 130.8h.3M207.7 127.6h.3M177.6 136.4h.3M182.8 139.9h.3M169.4 139.6h.3M182.8 139.6h.3M165.6 144.6h.3M189.7 131.2h.3M191.9 128.9h.3M176.3 136.6h.3M166.4 146.8h.3M179.7 136.4h.3" stroke="rgb(30, 120, 230)" stroke-opacity="0.9" stroke-width="1.0" stroke-linecap="square" fill="none"/>
<path d="M165.8 145.8h.3M173.4 137.6h.3M173.4 147.3h.3M189.8 129.8h.3M190.9 131.2h.3M182.6 138.0h.3M165.8 144.3h.3M182.1 137.4h.3M196.5 127.7h.3M173.3 147.3h.3M177.1 145.6h.3M172.0 147.6h.3M171.0 138.8h.3M166.4 146.7h.3M177.6 136.5h.3M165.8 144.4h.3M190.7 131.2h.3M168.6 147.7h.3M181.1 136.9h.3M203.0 129.5h.3M168.6 147.6h.3M207.0 128.0h.3M166.0 143.9h.3M167.5 141.5h.3M191.7 129.0h.3M203.8 129.3h.3M182.1 137.7h.3M182.3 140.3h.3M189.8 131.0h.3M194.7 131.1h.3M180.1 143.3h.3M170.1 139.4h.3M181.1 137.1h.3M196.5 127.7h.3M178.9 136.6h.3M178.3 144.8h.3M203.8 129.2h.3M174.6 137.3h.3M190.6 129.5h.3M177.2 136.8h.3M166.0 145.7h.3M182.1 140.4h.3M203.4 129.4h.3M180.3 143.0h.3M180.3 143.1h.3M173.4 137.8h.3M202.4 129.6h.3M199.4 130.3h.3M175.7 137.1h.3M173.4 147.1h.3M182.1 139.8h.3M206.8 127.0h.3M170.2 139.5h.3M180.4 137.1h.3M174.1 146.8h.3M175.3 146.3h.3M194.1 131.0h.3M180.2 137.1h.3" stroke="rgb(26, 130, 226)" stroke-opacity="0.9" stroke-width="1.0" stroke-linecap="square" fill="none"/>
<path d="M182.0 139.7h.3M205.6 128.6h.3M181.9 138.7h.3M166.9 146.7h.3M198.5 127.4h.3M202.8 126.9h.3M166.2 145.5h.3M204.0 129.1h.3M182.0 139.2h.3M181.8 138.6h.3M166.1 144.7h.3M180.5 137.4h.3M174.6 146.5h.3M203.9 126.8h.3M207.0 127.6h.3M175.7 137.3h.3M197.7 130.5h.3M181.8 139.4h.3M175.9 137.3h.3M180.4 137.4h.3M198.5 127.4h.3M171.4 147.3h.3M166.6 143.4h.3M166.5 143.6h.3M206.9 127.3h.3M200.6 127.1h.3M191.0 130.9h.3M202.4 126.9h.3M206.7 127.8h.3M173.7 137.9h.3M199.8 127.2h.3M171.4 147.3h.3M193.5 128.6h.3M201.7 127.0h.3M178.4 137.1h.3M176.6 137.2h.3M166.6 145.9h.3M177.8 137.1h.3M196.0 128.0h.3M192.1 129.1h.3M166.4 145.4h.3M174.4 137.8h.3M178.7 137.2h.3M197.0 130.6h.3M171.9 138.8h.3M181.5 139.8h.3M176.6 137.3h.3M193.8 128.5h.3M166.6 143.6h.3M178.8 137.3h.3M180.7 141.8h.3M167.2 142.6h.3M174.5 146.4h.3M166.9 143.1h.3M175.6 137.5h.3M170.4 147.3h.3" stroke="rgb(22, 141, 222)" stroke-opacity="0.9" stroke-width="1.0" stroke-linecap="square" fill="none"/>
<path d="M206.5 127.2h.3M181.4 139.9h.3M178.4 137.3h.3M206.6 127.4h.3M177.3 137.3h.3M199.4 130.2h.3M193.6 130.9h.3M195.0 128.2h.3M176.3 145.5h.3M174.2 137.9h.3M205.1 127.0h.3M196.1 130.7h.3M172.4 138.6h.3M180.4 138.0h.3M178.5 144.0h.3M197.7 130.5h.3M172.9 138.4h.3M176.4 145.4h.3M177.3 144.8h.3M180.9 141.0h.3M205.2 127.0h.3M167.1 143.0h.3M172.5 146.9h.3M204.6 128.7h.3M167.2 142.8h.3M194.3 130.8h.3M199.9 127.3h.3M179.6 142.9h.3M174.1 146.4h.3M190.7 130.1h.3M191.1 129.8h.3M173.1 146.7h.3M193.9 130.8h.3M175.5 145.8h.3M196.3 128.0h.3M180.9 140.7h.3M180.8 139.0h.3M178.0 137.5h.3M199.9 130.0h.3M174.5 146.2h.3M169.6 147.1h.3M195.4 130.7h.3M180.9 139.9h.3M204.6 128.7h.3M193.4 130.8h.3M200.8 127.2h.3M195.9 130.6h.3M179.7 138.0h.3M167.2 143.2h.3M178.9 143.4h.3M180.8 140.4h.3M180.8 140.4h.3M180.3 141.6h.3" stroke="rgb(18, 151, 218)" stroke-opacity="0.9" stroke-width="1.0" stroke-linecap="square" fill="none"/>
<path d="M206.2 127.6h.3M177.4 137.7h.3M168.0 142.1h.3M199.4 127.4h.3M191.4 130.6h.3M173.8 138.3h.3M173.9 146.3h.3M177.0 144.8h.3M172.5 138.8h.3M175.2 137.9h.3M168.2 146.6h.3M195.1 130.7h.3M205.9 127.9h.3M169.7 147.0h.3M179.9 142.0h.3M195.9 128.2h.3M179.9 142.0h.3M178.0 144.0h.3M195.5 128.3h.3M194.4 128.6h.3M167.9 146.3h.3M179.9 138.6h.3M173.0 138.7h.3M194.9 128.4h.3M193.3 130.7h.3M175.9 145.4h.3M179.4 138.2h.3M204.5 127.1h.3M200.8 129.7h.3M196.4 128.1h.3M172.0 139.2h.3M178.1 137.9h.3M169.2 141.0h.3M180.5 140.1h.3M180.5 140.1h.3M167.6 146.0h.3M203.5 127.1h.3M205.6 128.0h.3M168.1 142.2h.3M179.4 138.3h.3M205.8 127.7h.3M167.9 146.2h.3M180.3 140.9h.3M180.4 140.2h.3M194.5 128.6h.3M180.3 139.5h.3M168.7 146.6h.3M176.5 145.0h.3M191.9 129.6h.3M179.5 142.3h.3M174.5 146.0h.3M180.2 139.3h.3M201.3 127.3h.3M203.8 127.1h.3M178.6 143.3h.3" stroke="rgb(15, 160, 213)" stroke-opacity="1" stroke-width="1.0" stroke-linecap="square" fill="none"/>
<path d="M179.0 138.3h.3M205.6 127.5h.3M193.5 130.6h.3M180.3 139.8h.3M180.2 140.9h.3M180.0 141.3h.3M203.2 129.0h.3M178.3 138.1h.3M175.7 138.1h.3M179.1 142.7h.3M177.2 138.0h.3M167.2 145.2h.3M168.2 146.3h.3M196.3 128.1h.3M192.2 130.5h.3M170.6 140.1h.3M178.1 143.7h.3M205.4 128.0h.3M179.7 141.8h.3M171.3 139.7h.3M175.5 138.2h.3M178.0 138.1h.3M175.9 145.2h.3M169.2 141.2h.3M170.1 140.5h.3M201.3 127.3h.3M192.6 130.5h.3M173.0 146.3h.3M195.5 130.5h.3M167.7 143.1h.3M179.8 139.2h.3M169.6 140.9h.3M171.3 146.7h.3M179.3 142.2h.3M173.3 138.9h.3M194.5 130.5h.3M168.9 146.5h.3M176.1 138.2h.3M180.0 140.7h.3M179.5 141.8h.3M179.8 139.4h.3M199.1 127.6h.3M167.9 142.9h.3M167.5 143.8h.3M171.0 140.0h.3M203.7 127.2h.3M175.2 138.4h.3M168.3 146.1h.3M179.5 139.1h.3M176.6 138.2h.3M179.7 141.3h.3M179.3 138.9h.3M177.1 138.2h.3M195.1 130.5h.3" stroke="rgb(15, 165, 204)" stroke-opacity="1" stroke-width="1.0" stroke-linecap="square" fill="none"/>
<path d="M168.0 142.8h.3M200.7 127.4h.3M177.0 144.3h.3M172.3 139.4h.3M200.8 129.6h.3M177.9 143.5h.3M179.5 141.5h.3M203.0 127.3h.3M178.7 138.7h.3M174.4 145.7h.3M192.8 130.4h.3M199.5 127.6h.3M169.1 146.3h.3M193.0 130.4h.3M192.7 130.3h.3M173.4 139.0h.3M199.4 127.6h.3M202.5 129.1h.3M171.4 139.9h.3M169.4 146.4h.3M179.5 139.7h.3M174.5 145.6h.3M168.8 142.0h.3M167.9 143.3h.3M204.6 127.5h.3M200.6 129.6h.3M167.8 145.2h.3M204.0 128.6h.3M175.4 145.2h.3M198.6 130.0h.3M192.9 129.5h.3M195.1 130.4h.3M177.7 143.6h.3M192.5 129.8h.3M178.7 138.9h.3M199.9 129.7h.3M174.7 138.7h.3M169.1 146.2h.3M201.0 127.5h.3M168.5 145.9h.3M178.5 138.9h.3M201.6 129.3h.3M171.3 140.1h.3" stroke="rgb(16, 170, 195)" stroke-opacity="1" stroke-width="1.0" stroke-linecap="square" fill="none"/>
<path d="M171.4 140.0h.3M193.8 129.1h.3M177.6 143.6h.3M200.4 129.6h.3M171.8 139.8h.3M179.4 140.0h.3M198.3 130.0h.3M178.8 142.3h.3M201.3 129.4h.3M200.8 129.5h.3M171.0 140.3h.3M175.6 144.9h.3M176.9 138.6h.3M177.8 138.8h.3M178.3 138.9h.3M179.3 140.7h.3M168.3 145.6h.3M199.5 127.7h.3M175.1 138.7h.3M168.6 142.5h.3M203.0 128.8h.3M168.5 145.7h.3M199.7 127.7h.3M195.8 128.5h.3M172.9 139.4h.3M179.1 139.9h.3M178.2 139.0h.3M170.3 146.3h.3M195.5 128.6h.3M172.2 139.7h.3M168.8 142.3h.3M199.7 127.7h.3M193.1 129.6h.3M170.2 141.0h.3M204.4 127.8h.3M197.1 130.1h.3M169.5 141.6h.3M177.5 138.9h.3M193.2 130.1h.3M193.9 130.2h.3M172.6 139.6h.3M193.6 129.3h.3" stroke="rgb(17, 175, 186)" stroke-opacity="1" stroke-width="1.0" stroke-linecap="square" fill="none"/>
<path d="M175.7 138.8h.3M204.3 128.0h.3M173.6 139.3h.3M199.9 129.6h.3M178.6 142.0h.3M204.2 127.8h.3M178.6 142.0h.3M197.4 128.2h.3M170.4 140.9h.3M193.3 129.6h.3M193.9 129.2h.3M178.6 142.1h.3M193.5 129.4h.3M169.6 141.6h.3M201.1 127.6h.3M178.6 141.9h.3M198.8 127.9h.3M169.4 141.8h.3M198.5 129.8h.3M178.6 141.9h.3M168.5 145.2h.3M171.3 146.1h.3M171.3 140.4h.3M178.8 141.2h.3M203.6 127.7h.3M173.8 139.3h.3M203.1 127.6h.3M177.4 139.1h.3M175.8 138.9h.3M174.8 145.1h.3M196.1 128.5h.3M202.8 127.6h.3M174.4 145.2h.3M195.3 130.1h.3M168.3 144.4h.3M176.3 139.0h.3M173.8 145.5h.3M168.4 144.7h.3M203.1 127.7h.3" stroke="rgb(17, 180, 177)" stroke-opacity="1" stroke-width="1.0" stroke-linecap="square" fill="none"/>
<path d="M193.7 129.7h.3M202.8 127.6h.3M172.0 145.9h.3M178.1 139.6h.3M200.3 127.8h.3M177.8 142.8h.3M178.6 140.5h.3M177.9 139.4h.3M175.8 144.5h.3M172.6 145.8h.3M203.5 128.3h.3M168.6 145.0h.3M174.7 139.2h.3M173.4 145.5h.3M175.3 144.7h.3M178.3 141.9h.3M173.3 139.6h.3M169.3 145.6h.3M203.3 127.8h.3M177.1 139.2h.3M171.6 140.4h.3M176.7 139.2h.3M203.6 128.1h.3M178.0 139.7h.3M199.9 129.5h.3M203.4 127.8h.3M171.6 145.9h.3M172.0 140.2h.3M178.2 141.9h.3M193.9 129.7h.3M169.7 145.7h.3M201.9 128.9h.3M196.6 130.0h.3M200.3 129.4h.3M170.8 145.9h.3M194.4 129.2h.3M174.9 139.2h.3M195.4 128.8h.3M203.4 128.2h.3M171.2 145.9h.3M177.1 143.4h.3M194.3 129.9h.3M194.9 129.0h.3M177.1 139.3h.3M169.7 141.9h.3M177.0 143.4h.3M173.9 145.3h.3M175.8 139.2h.3M195.3 130.0h.3M177.6 139.6h.3M197.7 129.8h.3M169.3 145.4h.3M198.2 129.8h.3M195.3 128.9h.3M170.9 145.8h.3M168.8 143.3h.3M175.6 144.4h.3M169.2 145.3h.3M177.6 142.7h.3M169.4 142.4h.3M170.1 145.7h.3M171.0 140.9h.3" stroke="rgb(18, 185, 168)" stroke-opacity="1" stroke-width="1.0" stroke-linecap="square" fill="none"/>
<path d="M203.3 128.1h.3M175.4 144.5h.3M196.9 129.9h.3M202.1 127.7h.3M177.8 139.9h.3M170.2 145.7h.3M198.5 128.1h.3M178.1 141.8h.3M173.8 139.6h.3M168.8 144.5h.3M199.5 128.0h.3M196.4 129.9h.3M194.3 129.6h.3M172.4 140.1h.3M168.8 144.5h.3M178.2 140.6h.3M177.8 140.0h.3M178.1 141.2h.3M168.9 143.6h.3M196.0 128.8h.3M176.6 143.5h.3M178.1 140.8h.3M174.1 145.0h.3M170.1 141.7h.3M199.6 129.4h.3M176.4 139.5h.3M170.2 141.7h.3M201.9 127.9h.3M194.7 129.5h.3M196.6 129.8h.3M194.8 129.3h.3M177.0 143.0h.3M173.1 140.0h.3M177.9 140.5h.3M194.7 129.6h.3" stroke="rgb(19, 190, 159)" stroke-opacity="1" stroke-width="1.0" stroke-linecap="square" fill="none"/>
<path d="M202.1 127.9h.3M177.0 139.7h.3M169.3 145.0h.3M197.4 129.7h.3M201.8 128.8h.3M169.0 144.4h.3M195.6 129.0h.3M169.0 144.2h.3M169.0 144.0h.3M169.8 145.3h.3M169.2 144.8h.3M175.6 139.5h.3M177.3 142.5h.3M175.0 144.5h.3M202.6 128.2h.3M169.2 143.3h.3M175.6 139.5h.3M172.8 140.1h.3M194.9 129.4h.3M176.3 143.6h.3M201.2 127.9h.3M176.0 143.8h.3M177.8 141.5h.3M196.3 128.8h.3M176.3 143.5h.3M196.2 128.8h.3M195.1 129.4h.3M202.1 128.6h.3M195.1 129.6h.3M171.1 141.2h.3M195.2 129.4h.3M202.1 128.5h.3M196.8 128.7h.3M175.4 144.2h.3M175.3 144.2h.3M169.4 143.1h.3M176.9 142.8h.3" stroke="rgb(20, 195, 150)" stroke-opacity="1" stroke-width="1.0" stroke-linecap="square" fill="none"/>
<path d="M171.4 141.0h.3M174.1 139.9h.3M172.3 140.5h.3M177.7 141.1h.3M169.2 144.2h.3M171.5 145.4h.3M169.3 143.4h.3M202.0 128.1h.3M201.7 128.1h.3M196.6 129.7h.3M202.0 128.1h.3M173.3 140.1h.3M172.6 140.4h.3M195.7 129.6h.3M196.0 129.6h.3M200.3 129.1h.3M199.0 128.2h.3M196.0 129.6h.3M170.5 145.3h.3M197.1 129.6h.3M201.8 128.1h.3M169.3 143.8h.3M176.0 139.9h.3M170.9 145.3h.3M176.4 143.2h.3M176.5 140.0h.3M200.7 128.1h.3M171.6 145.3h.3M176.5 140.0h.3M169.6 144.5h.3M201.4 128.2h.3M200.8 128.9h.3M201.4 128.2h.3M199.9 128.2h.3M199.2 129.3h.3M196.4 129.6h.3M201.4 128.6h.3M175.1 144.1h.3" stroke="rgb(25, 196, 140)" stroke-opacity="1" stroke-width="1.0" stroke-linecap="square" fill="none"/>
<path d="M196.3 129.1h.3M176.5 142.9h.3M196.1 129.2h.3M170.9 145.2h.3M173.1 140.4h.3M201.4 128.5h.3M197.8 128.6h.3M175.8 143.6h.3M175.3 143.9h.3M172.0 140.9h.3M197.1 129.5h.3M199.6 128.3h.3M175.2 140.0h.3M172.1 145.1h.3M171.4 141.3h.3M197.2 128.8h.3M198.6 128.4h.3M170.4 142.2h.3M199.3 129.2h.3M172.6 145.0h.3M173.4 144.8h.3M196.6 129.0h.3M201.0 128.4h.3M200.2 128.3h.3M200.0 128.3h.3M177.1 141.5h.3M176.9 142.0h.3M176.2 140.2h.3M197.1 129.4h.3M169.9 143.0h.3M175.1 140.1h.3M173.2 140.5h.3M198.0 128.6h.3M199.5 129.1h.3M175.8 140.2h.3M199.9 129.0h.3M199.8 129.0h.3" stroke="rgb(31, 198, 130)" stroke-opacity="1" stroke-width="1.0" stroke-linecap="square" fill="none"/>
<path d="M197.9 128.7h.3M176.2 140.3h.3M171.7 141.2h.3M170.2 142.7h.3M176.4 140.4h.3M175.3 143.7h.3M171.3 145.0h.3M171.9 145.0h.3M174.9 140.2h.3M173.8 140.4h.3M199.8 128.9h.3M200.5 128.6h.3M200.1 128.4h.3M170.9 141.9h.3M197.6 129.3h.3M170.9 141.9h.3M171.4 141.5h.3M198.4 128.6h.3M174.6 140.2h.3M173.9 140.4h.3M175.7 140.3h.3M176.8 141.9h.3M169.9 143.7h.3M197.8 128.8h.3M170.0 144.2h.3M197.5 129.2h.3M171.0 141.8h.3M174.4 144.2h.3M199.8 128.5h.3M176.8 141.3h.3M171.6 141.5h.3M175.4 140.3h.3M171.2 144.8h.3M176.7 141.2h.3M199.4 128.9h.3M175.3 143.6h.3M176.6 141.0h.3M171.4 141.7h.3" stroke="rgb(36, 200, 120)" stroke-opacity="1" stroke-width="1.0" stroke-linecap="square" fill="none"/>
<path d="M199.0 128.8h.3M198.7 128.8h.3M174.1 140.5h.3M173.2 140.7h.3M175.3 143.4h.3M174.7 143.8h.3M176.4 141.0h.3M172.7 141.0h.3M170.2 143.7h.3M172.9 144.6h.3M173.2 140.8h.3M174.7 143.8h.3M170.9 144.4h.3M173.4 144.4h.3M171.5 144.6h.3M176.3 141.1h.3M173.9 144.2h.3M170.5 144.1h.3M174.7 143.7h.3M176.1 141.0h.3" stroke="rgb(42, 201, 110)" stroke-opacity="1" stroke-width="1.0" stroke-linecap="square" fill="none"/>
<path d="M171.3 142.0h.3M172.0 141.5h.3M173.5 140.8h.3M175.6 143.0h.3M171.6 144.6h.3M176.3 141.8h.3M171.6 144.6h.3M171.0 144.4h.3M170.5 143.4h.3M171.7 144.5h.3M170.7 142.9h.3M173.0 141.0h.3M170.7 144.0h.3M175.0 143.4h.3M170.9 142.7h.3M170.6 143.5h.3M174.3 143.8h.3M176.0 141.3h.3M175.6 142.8h.3M176.0 141.5h.3M172.1 141.6h.3M175.2 140.9h.3M172.8 141.2h.3" stroke="rgb(47, 203, 99)" stroke-opacity="1" stroke-width="1.0" stroke-linecap="square" fill="none"/>
<path d="M175.7 141.1h.3M174.5 140.8h.3M172.6 141.4h.3M175.7 141.2h.3M171.7 141.9h.3M175.6 142.5h.3M172.2 141.6h.3M175.4 141.1h.3M173.2 144.1h.3M170.8 143.4h.3M173.1 144.1h.3M173.9 141.0h.3M174.3 143.6h.3M173.1 144.1h.3M174.5 143.5h.3M172.6 141.5h.3M171.9 141.9h.3M175.4 142.6h.3M171.3 142.6h.3M175.4 141.3h.3M173.5 143.9h.3M175.1 141.2h.3" stroke="rgb(53, 205, 90)" stroke-opacity="1" stroke-width="1.0" stroke-linecap="square" fill="none"/>
<path d="M174.0 143.7h.3M173.4 141.3h.3M175.0 143.0h.3M173.3 144.0h.3M171.1 143.1h.3M175.2 141.3h.3M174.6 143.3h.3M173.5 141.3h.3M174.0 143.6h.3M175.4 141.8h.3M171.2 143.6h.3M174.7 143.1h.3M175.3 141.6h.3M171.4 143.7h.3M171.5 142.6h.3M171.3 143.3h.3M175.4 141.8h.3M173.2 141.5h.3M175.2 141.5h.3M174.3 141.2h.3M171.3 143.4h.3M172.4 141.9h.3M172.1 142.1h.3M172.6 143.9h.3M173.4 141.4h.3M173.2 143.8h.3M171.6 143.7h.3M174.6 141.4h.3M174.5 143.1h.3" stroke="rgb(58, 206, 79)" stroke-opacity="1" stroke-width="1.0" stroke-linecap="square" fill="none"/>
<path d="M174.7 142.8h.3M172.6 143.8h.3M174.8 142.7h.3M172.1 142.3h.3M174.1 143.3h.3M171.8 143.6h.3M173.6 143.5h.3M172.5 143.8h.3M173.0 143.7h.3M174.9 141.8h.3M173.0 143.7h.3M171.8 142.8h.3M173.0 143.7h.3M171.9 143.5h.3M171.8 143.3h.3M172.8 141.9h.3M171.9 143.4h.3M174.7 141.8h.3M171.9 143.4h.3M174.5 141.7h.3M174.7 142.5h.3M171.9 143.2h.3M172.0 142.8h.3M172.6 143.6h.3M173.3 143.4h.3" stroke="rgb(64, 208, 70)" stroke-opacity="1" stroke-width="1.0" stroke-linecap="square" fill="none"/>
<path d="M173.3 143.4h.3M174.4 142.6h.3M173.3 143.4h.3M172.1 142.7h.3M174.5 142.6h.3M174.0 141.8h.3M174.0 141.8h.3M174.5 142.2h.3M173.3 143.4h.3M172.8 143.5h.3M173.4 141.9h.3M174.5 142.1h.3M172.7 142.2h.3M174.3 142.6h.3M172.4 142.5h.3M174.4 142.1h.3M174.2 142.7h.3M172.9 143.4h.3M173.0 143.3h.3M174.3 142.6h.3M173.4 143.2h.3M172.5 143.2h.3M173.3 142.0h.3M174.2 142.4h.3M173.3 142.1h.3M173.7 143.0h.3M172.7 142.5h.3M173.6 143.0h.3M173.7 142.8h.3M173.0 143.1h.3M173.6 142.2h.3M173.1 142.4h.3M173.6 142.3h.3M173.5 142.9h.3M172.8 142.9h.3M173.8 142.5h.3" stroke="rgb(70, 210, 60)" stroke-opacity="1" stroke-width="1.0" stroke-linecap="square" fill="none"/>
<path d="M173.6 142.5h.3M173.4 142.5h.3" stroke="rgb(79, 211, 55)" stroke-opacity="1" stroke-width="1.0" stroke-linecap="square" fill="none"/>
</g>
<line x1="185.3" y1="93.6" x2="185.3" y2="160.3" stroke="#666" stroke-width="1.1"/>
<line x1="162.0" y1="132.1" x2="228.4" y2="132.1" stroke="#666" stroke-width="1.1"/>
<g font-family="Liberation Sans, sans-serif" font-size="5.6" font-weight="bold" fill="#000" stroke="#000" stroke-width="0.15">
<text x="164.2" y="100.8">3.4</text>
<text x="225.4" y="100.8" text-anchor="end">23.5</text>
<text x="164.2" y="158.5">55.6</text>
<text x="225.4" y="158.5" text-anchor="end">17.2</text>
</g>
<rect x="232.5" y="93.6" width="66.4" height="66.7" fill="#fff" stroke="#b8b8b8" stroke-width="0.8"/>
<g filter="url(#soft)">
<path d="M253.4 115.2h.3M291.7 149.2h.3M278.6 156.1h.3M236.4 126.1h.3M285.2 152.0h.3M287.1 150.3h.3M297.5 119.6h.3M296.6 131.5h.3M293.3 117.4h.3M241.8 124.5h.3M266.7 159.2h.3M233.5 129.7h.3M276.2 155.6h.3M252.4 121.0h.3M291.9 143.0h.3" stroke="rgb(120, 120, 245)" stroke-opacity="0.4" stroke-width="0.75" stroke-linecap="square" fill="none"/>
<path d="M297.7 123.6h.3M255.8 120.2h.3M258.7 119.5h.3M233.7 130.2h.3M292.5 139.8h.3M291.6 141.7h.3M280.3 116.3h.3M293.7 135.1h.3M277.1 116.5h.3M237.6 128.4h.3M287.2 146.5h.3M244.0 125.2h.3M258.9 120.3h.3M287.3 146.0h.3M276.9 153.5h.3M292.1 136.8h.3M276.6 153.5h.3M254.7 159.5h.3M240.5 159.5h.3M236.4 130.1h.3M288.7 143.6h.3M276.6 153.2h.3M278.0 117.1h.3M263.1 119.7h.3M291.4 134.8h.3M246.4 125.4h.3M235.2 157.4h.3M274.7 153.0h.3M255.2 122.6h.3M290.9 120.0h.3M238.5 157.8h.3" stroke="rgb(112, 114, 243)" stroke-opacity="0.4" stroke-width="0.75" stroke-linecap="square" fill="none"/>
<path d="M273.2 118.4h.3M293.1 122.8h.3M286.3 143.6h.3M291.2 131.5h.3M271.9 153.7h.3M290.3 133.4h.3M291.3 130.7h.3M282.0 147.5h.3M258.8 156.9h.3M256.9 122.7h.3M283.0 146.3h.3M273.2 118.8h.3M233.3 155.5h.3M290.5 131.4h.3M283.2 145.9h.3M281.2 147.7h.3M287.1 140.1h.3M283.5 118.8h.3M288.2 119.9h.3M270.1 153.5h.3M269.4 119.7h.3M275.3 151.1h.3M237.8 156.5h.3M256.6 156.6h.3M291.9 124.0h.3M234.5 134.5h.3M291.3 128.2h.3M279.1 118.8h.3M286.9 138.7h.3M288.3 120.4h.3M287.8 135.7h.3M262.9 121.4h.3M287.7 135.9h.3M265.0 120.9h.3M288.7 132.8h.3" stroke="rgb(105, 109, 242)" stroke-opacity="0.4" stroke-width="0.75" stroke-linecap="square" fill="none"/>
<path d="M257.4 123.4h.3M291.0 123.4h.3M253.4 156.5h.3M288.4 132.6h.3M275.2 150.2h.3M277.7 148.6h.3M256.5 155.8h.3M289.2 130.5h.3M281.1 145.6h.3M281.2 119.4h.3M285.7 137.9h.3M271.1 151.8h.3M281.9 119.5h.3M271.2 151.7h.3M272.4 119.9h.3M281.8 144.7h.3M280.1 146.3h.3M287.4 133.2h.3M234.3 135.7h.3M280.5 119.5h.3M289.9 123.1h.3M281.6 144.5h.3M263.8 121.8h.3M269.8 152.1h.3M253.6 155.8h.3M236.1 154.8h.3M243.8 156.1h.3M288.2 131.3h.3M287.5 132.4h.3M268.9 152.3h.3M277.6 147.8h.3M249.8 127.1h.3M252.8 155.7h.3" stroke="rgb(98, 104, 241)" stroke-opacity="0.4" stroke-width="0.75" stroke-linecap="square" fill="none"/>
<path d="M240.8 155.6h.3M252.9 155.6h.3M245.9 129.2h.3M250.4 127.0h.3M235.3 154.3h.3M257.6 124.2h.3M282.7 142.0h.3M249.5 155.8h.3M275.8 119.9h.3M272.8 150.0h.3M287.8 130.8h.3M243.9 130.6h.3M288.7 128.8h.3M288.8 128.6h.3M276.4 120.1h.3M289.3 126.7h.3M284.4 136.4h.3M245.3 130.0h.3M247.2 155.5h.3M268.1 151.7h.3M288.4 123.2h.3M286.8 131.7h.3M239.7 154.9h.3M283.6 120.8h.3M265.5 152.4h.3M281.6 142.1h.3M289.1 125.5h.3M258.4 154.1h.3M257.8 124.6h.3M250.1 127.9h.3M280.5 143.5h.3M279.3 144.8h.3M286.6 122.0h.3M259.6 153.8h.3M242.1 155.1h.3" stroke="rgb(90, 99, 240)" stroke-opacity="0.4" stroke-width="0.75" stroke-linecap="square" fill="none"/>
<path d="M281.4 142.1h.3M279.5 144.4h.3M239.0 133.9h.3M281.7 141.4h.3M274.0 148.5h.3M251.0 155.0h.3M267.4 151.4h.3M276.4 146.8h.3M260.9 153.3h.3M281.5 141.2h.3M239.2 134.0h.3M253.3 154.6h.3M239.3 133.9h.3M254.7 154.4h.3M271.9 149.3h.3M254.1 154.4h.3M250.9 154.7h.3M275.0 147.4h.3M252.1 127.5h.3M287.1 129.4h.3M256.0 153.9h.3M287.2 128.9h.3M256.9 125.5h.3M285.1 122.1h.3M233.8 138.0h.3" stroke="rgb(84, 94, 240)" stroke-opacity="0.55" stroke-width="0.75" stroke-linecap="square" fill="none"/>
<path d="M284.7 132.8h.3M261.2 152.6h.3M242.2 154.5h.3M256.1 153.7h.3M283.6 134.3h.3M268.0 150.4h.3M240.9 133.6h.3M282.2 136.7h.3M240.2 134.0h.3M284.9 122.2h.3M279.6 142.2h.3M285.6 131.2h.3M251.8 154.2h.3M258.8 153.1h.3M287.2 128.2h.3M284.6 132.5h.3M286.4 123.2h.3M254.2 153.9h.3M259.7 152.8h.3M284.2 133.0h.3M275.6 146.1h.3M283.7 121.8h.3M247.3 154.4h.3M269.3 149.6h.3M279.9 141.1h.3M246.3 131.0h.3M274.6 121.2h.3M248.1 154.3h.3M261.8 152.1h.3M271.1 148.7h.3M279.6 141.4h.3M281.3 137.7h.3M282.0 136.0h.3M252.3 128.1h.3M275.9 145.5h.3M248.4 154.2h.3M269.9 149.1h.3M253.2 127.7h.3M246.7 131.0h.3M286.9 127.4h.3" stroke="rgb(81, 93, 240)" stroke-opacity="0.55" stroke-width="0.75" stroke-linecap="square" fill="none"/>
<path d="M275.4 121.3h.3M281.3 136.9h.3M283.3 122.0h.3M265.2 123.1h.3M251.0 153.9h.3M246.3 131.3h.3M277.0 144.1h.3M279.9 139.9h.3M264.9 123.3h.3M280.6 121.5h.3M256.9 126.2h.3M281.8 135.5h.3M277.4 143.6h.3M272.7 147.3h.3M278.4 142.3h.3M275.0 121.4h.3M279.0 141.2h.3M254.8 153.3h.3M250.4 153.9h.3M234.4 151.8h.3M284.1 131.9h.3M269.3 122.3h.3M269.7 148.8h.3M273.0 146.9h.3M234.1 151.6h.3M277.2 143.3h.3M280.7 136.9h.3M286.4 127.5h.3M257.4 126.2h.3M260.0 152.0h.3M244.9 153.9h.3M260.7 151.8h.3M278.8 140.6h.3M251.6 128.9h.3M273.1 146.6h.3M251.8 153.5h.3M237.6 152.8h.3M281.1 135.6h.3M258.3 152.3h.3M286.1 127.7h.3M281.7 134.6h.3M262.9 151.0h.3" stroke="rgb(78, 92, 240)" stroke-opacity="0.55" stroke-width="0.75" stroke-linecap="square" fill="none"/>
<path d="M269.9 122.4h.3M245.6 132.2h.3M268.0 149.1h.3M283.1 132.5h.3M275.6 144.1h.3M271.5 147.2h.3M273.0 146.2h.3M277.8 141.3h.3M285.5 128.5h.3M254.8 127.7h.3M271.5 147.2h.3M279.6 137.6h.3M278.4 121.8h.3M273.4 122.0h.3M272.7 146.1h.3M275.7 143.5h.3M260.9 125.2h.3M258.5 151.8h.3M233.6 139.7h.3M267.8 148.7h.3M242.8 153.4h.3M274.6 144.4h.3M257.3 126.8h.3M279.1 122.0h.3M241.5 153.2h.3M285.5 127.5h.3M274.5 144.4h.3" stroke="rgb(75, 90, 240)" stroke-opacity="0.55" stroke-width="0.75" stroke-linecap="square" fill="none"/>
<path d="M275.0 143.9h.3M256.0 152.3h.3M259.3 126.0h.3M280.0 135.6h.3M282.6 132.2h.3M259.6 125.8h.3M272.3 146.0h.3M270.4 147.2h.3M264.6 149.8h.3M252.9 152.7h.3M243.5 133.8h.3M247.4 153.3h.3M259.8 151.2h.3M277.3 140.0h.3M280.2 134.7h.3M236.1 138.1h.3M276.9 140.5h.3M283.5 130.5h.3M245.1 133.2h.3M250.6 130.5h.3M279.4 122.3h.3M255.5 128.0h.3M285.3 126.0h.3M274.1 143.8h.3M259.7 126.1h.3M266.6 148.6h.3M250.9 152.8h.3M246.6 153.1h.3" stroke="rgb(71, 89, 240)" stroke-opacity="0.55" stroke-width="0.75" stroke-linecap="square" fill="none"/>
<path d="M275.7 141.8h.3M241.3 135.2h.3M247.7 132.1h.3M277.1 139.3h.3M263.3 149.7h.3M265.4 148.9h.3M277.7 137.8h.3M245.1 133.4h.3M277.5 138.0h.3M273.8 143.7h.3M283.1 130.4h.3M284.6 127.5h.3M270.5 146.2h.3M263.5 149.6h.3M282.0 131.8h.3M274.8 142.5h.3M284.9 126.4h.3M280.4 122.6h.3M284.5 127.5h.3M283.0 123.3h.3M233.5 149.8h.3M282.6 130.8h.3M261.2 125.7h.3M268.7 147.1h.3M276.8 138.6h.3M277.0 138.2h.3M255.6 151.7h.3M282.0 123.0h.3M233.1 149.4h.3" stroke="rgb(68, 88, 240)" stroke-opacity="0.55" stroke-width="0.75" stroke-linecap="square" fill="none"/>
<path d="M281.3 132.2h.3M284.7 125.8h.3M235.8 138.8h.3M234.0 140.4h.3M275.8 122.5h.3M241.9 135.3h.3M259.5 126.7h.3M273.0 122.8h.3M278.8 134.9h.3M250.9 131.1h.3M278.1 135.7h.3M267.5 147.3h.3M284.6 125.5h.3M244.1 134.3h.3M279.2 134.2h.3M278.5 122.6h.3M272.7 143.5h.3M274.1 141.8h.3M242.1 152.4h.3M268.4 146.6h.3M276.3 138.0h.3M271.5 144.4h.3M236.7 138.4h.3M260.2 126.5h.3M261.0 149.8h.3M253.4 151.8h.3M283.5 124.1h.3M234.1 140.5h.3M236.9 151.1h.3" stroke="rgb(65, 86, 240)" stroke-opacity="0.55" stroke-width="0.75" stroke-linecap="square" fill="none"/>
<path d="M272.9 142.9h.3M260.0 126.7h.3M235.8 139.2h.3M270.7 144.9h.3M239.4 151.8h.3M268.1 146.5h.3M282.9 128.9h.3M260.2 149.9h.3M279.9 132.9h.3M277.0 136.1h.3M272.7 142.8h.3M277.7 135.3h.3M267.6 146.7h.3M283.7 124.4h.3M260.4 149.8h.3M282.5 129.5h.3M234.9 140.0h.3M271.5 143.9h.3M237.3 138.3h.3M284.1 125.3h.3M259.0 150.1h.3M264.4 125.1h.3M245.4 152.3h.3M280.5 131.8h.3M259.5 127.1h.3M234.6 140.3h.3M265.4 147.6h.3M273.3 123.0h.3M265.0 124.9h.3" stroke="rgb(62, 85, 240)" stroke-opacity="0.55" stroke-width="0.75" stroke-linecap="square" fill="none"/>
<path d="M247.8 152.2h.3M274.7 138.7h.3M280.3 123.1h.3M282.5 129.0h.3M271.9 142.9h.3M267.4 124.2h.3M272.3 142.4h.3M275.1 137.8h.3M257.6 128.2h.3M264.6 147.7h.3M265.4 147.4h.3M274.3 138.9h.3M274.5 138.5h.3M260.5 126.8h.3M246.9 133.7h.3M250.8 151.8h.3M242.0 136.0h.3M282.0 129.4h.3M267.1 146.4h.3M253.1 151.4h.3M240.0 151.5h.3M240.8 151.7h.3M267.5 146.0h.3M283.0 127.8h.3M257.4 128.5h.3M268.2 145.6h.3M272.5 141.4h.3M275.3 136.8h.3M274.3 138.3h.3M259.7 149.5h.3M273.4 139.7h.3M271.0 143.1h.3M253.3 130.9h.3M241.6 136.3h.3" stroke="rgb(59, 84, 240)" stroke-opacity="0.55" stroke-width="0.75" stroke-linecap="square" fill="none"/>
<path d="M266.8 146.3h.3M275.2 136.9h.3M281.3 130.0h.3M273.2 139.7h.3M267.7 145.6h.3M263.7 147.8h.3M282.5 124.0h.3M268.3 145.2h.3M270.7 123.7h.3M252.2 131.6h.3M275.2 136.5h.3M243.7 151.9h.3M251.8 131.9h.3M265.1 125.2h.3M273.3 139.1h.3M282.5 124.2h.3M279.0 132.5h.3M277.8 133.6h.3M268.1 145.0h.3" stroke="rgb(56, 82, 240)" stroke-opacity="0.55" stroke-width="0.75" stroke-linecap="square" fill="none"/>
<path d="M248.8 133.4h.3M258.3 149.6h.3M246.7 134.3h.3M273.7 137.8h.3M234.4 148.9h.3M251.0 151.4h.3M265.4 146.6h.3M252.6 131.7h.3M275.7 135.4h.3M249.6 133.1h.3M272.8 139.1h.3M268.9 144.1h.3M283.2 126.4h.3M280.2 130.6h.3M267.0 124.7h.3M263.6 147.4h.3M277.3 133.8h.3M281.6 123.8h.3M274.1 136.9h.3M251.3 151.2h.3M274.4 136.6h.3M254.5 130.8h.3M243.6 135.7h.3M241.5 136.7h.3M256.0 150.2h.3M254.4 150.6h.3M263.1 147.6h.3M254.4 150.6h.3M238.1 150.6h.3M279.0 131.8h.3M275.9 134.9h.3M280.9 123.7h.3M248.8 151.5h.3M255.1 150.4h.3M269.9 142.6h.3M238.0 150.5h.3M268.7 143.9h.3M262.4 126.5h.3M265.4 146.2h.3M254.2 131.1h.3M267.8 144.5h.3" stroke="rgb(53, 81, 240)" stroke-opacity="0.55" stroke-width="0.75" stroke-linecap="square" fill="none"/>
<path d="M278.9 131.8h.3M241.4 151.3h.3M256.2 150.0h.3M267.1 145.0h.3M270.8 123.9h.3M269.8 142.4h.3M271.6 139.7h.3M271.6 139.7h.3M269.3 142.9h.3M270.1 142.0h.3M234.7 148.8h.3M271.5 139.7h.3M264.3 146.6h.3M261.4 148.1h.3M273.2 137.1h.3M244.0 151.5h.3M271.0 140.4h.3M276.1 134.3h.3M250.5 133.2h.3M256.9 129.7h.3M278.0 132.5h.3M234.6 148.7h.3M267.2 144.7h.3M268.7 124.4h.3M268.4 143.5h.3M257.6 149.4h.3M271.8 138.8h.3M262.0 126.9h.3M270.1 141.4h.3M271.6 138.8h.3M278.5 131.7h.3M277.6 132.6h.3M271.8 123.8h.3" stroke="rgb(50, 80, 240)" stroke-opacity="0.75" stroke-width="0.75" stroke-linecap="square" fill="none"/>
<path d="M277.1 133.0h.3M274.0 135.8h.3M255.7 130.7h.3M247.4 151.3h.3M236.2 140.2h.3M245.6 135.3h.3M253.3 150.5h.3M255.6 130.8h.3M276.2 133.7h.3M274.7 135.0h.3M242.1 151.1h.3M258.0 129.3h.3M273.2 136.3h.3M260.4 148.1h.3M238.2 138.9h.3M271.6 123.9h.3M233.2 147.0h.3M265.3 145.5h.3M259.3 128.6h.3M270.1 140.3h.3M267.3 124.9h.3M269.8 140.7h.3M253.8 150.2h.3M248.0 134.5h.3M243.8 151.2h.3" stroke="rgb(49, 81, 239)" stroke-opacity="0.75" stroke-width="0.75" stroke-linecap="square" fill="none"/>
<path d="M272.3 136.8h.3M281.8 124.4h.3M271.9 137.3h.3M264.3 146.0h.3M265.1 125.7h.3M249.6 134.0h.3M270.9 138.5h.3M272.9 136.2h.3M270.1 139.8h.3M266.6 144.2h.3M251.9 150.6h.3M266.0 144.6h.3M269.8 124.3h.3M280.9 128.5h.3M270.0 139.5h.3M270.1 139.3h.3M275.8 133.5h.3M261.0 147.6h.3M264.4 145.7h.3M257.1 149.1h.3M253.1 132.7h.3M242.3 150.9h.3M257.9 148.8h.3M251.8 133.3h.3M269.1 140.6h.3M277.0 132.2h.3" stroke="rgb(48, 82, 239)" stroke-opacity="0.75" stroke-width="0.75" stroke-linecap="square" fill="none"/>
<path d="M261.9 147.0h.3M266.5 143.9h.3M233.9 147.4h.3M267.4 143.0h.3M270.8 137.8h.3M269.9 139.0h.3M261.4 127.6h.3M266.0 144.3h.3M271.3 137.0h.3M277.1 132.0h.3M260.0 147.8h.3M251.7 150.4h.3M270.7 137.6h.3M272.6 135.7h.3M247.2 150.9h.3M234.5 142.2h.3M256.5 149.1h.3M279.1 129.9h.3M254.6 149.7h.3M267.0 142.9h.3M236.5 140.4h.3M252.9 133.1h.3M247.1 135.3h.3M273.3 134.9h.3M272.6 135.5h.3M252.3 150.2h.3M259.6 147.8h.3" stroke="rgb(48, 83, 239)" stroke-opacity="0.75" stroke-width="0.75" stroke-linecap="square" fill="none"/>
<path d="M268.8 139.9h.3M261.0 128.0h.3M253.6 132.9h.3M246.5 135.6h.3M260.1 147.6h.3M268.0 141.1h.3M267.8 141.5h.3M260.9 147.2h.3M272.1 135.6h.3M252.5 133.5h.3M265.8 143.8h.3M275.9 132.5h.3M268.0 140.7h.3M254.3 149.6h.3M268.3 140.1h.3M269.0 138.8h.3M274.4 133.7h.3M277.4 131.0h.3M267.6 141.1h.3M267.3 141.6h.3M266.2 143.0h.3M281.6 124.9h.3M272.8 134.8h.3M275.3 132.8h.3M262.0 146.4h.3M272.7 134.8h.3M266.7 142.4h.3M256.1 149.0h.3M260.8 128.3h.3M257.4 131.1h.3M275.8 132.3h.3M241.7 137.7h.3M267.2 141.4h.3M264.2 144.8h.3M268.6 138.8h.3M261.5 146.6h.3M242.6 150.5h.3M262.1 127.5h.3M258.2 130.5h.3M276.3 131.7h.3M253.0 133.6h.3M255.5 132.4h.3M272.9 134.4h.3M266.5 142.1h.3M249.0 135.0h.3M272.9 134.3h.3M269.6 137.0h.3M273.3 134.0h.3M270.3 124.5h.3M254.7 132.9h.3M237.3 140.2h.3M265.5 143.2h.3M271.3 135.4h.3M268.2 138.6h.3M247.7 135.5h.3M267.5 140.0h.3M265.5 143.2h.3M278.0 130.0h.3M268.5 137.9h.3M237.5 149.2h.3M272.0 134.8h.3M267.0 140.6h.3M261.3 146.4h.3M265.0 143.5h.3M275.8 131.8h.3M254.4 133.3h.3M258.3 130.8h.3M247.5 150.5h.3M266.9 140.7h.3M263.5 126.9h.3M281.8 125.9h.3M235.0 147.7h.3M253.8 133.6h.3M253.2 133.8h.3M261.3 128.3h.3M265.6 142.8h.3M259.5 129.7h.3M279.7 128.6h.3M271.6 134.9h.3M263.0 145.2h.3M267.3 139.5h.3M264.4 144.0h.3M265.5 142.8h.3M236.7 148.7h.3M269.3 136.6h.3M263.6 144.7h.3M263.8 126.8h.3M265.1 143.1h.3M278.6 129.4h.3M244.7 150.4h.3M267.9 138.0h.3M267.3 139.1h.3M270.3 135.6h.3M237.1 140.5h.3M252.4 134.2h.3M281.2 127.1h.3M273.3 133.4h.3M270.8 135.2h.3M275.0 132.1h.3M269.1 136.5h.3M275.4 131.8h.3M249.5 135.2h.3M254.2 133.7h.3M269.6 124.7h.3M258.5 131.1h.3M279.7 128.5h.3M234.5 143.1h.3M265.4 142.3h.3M270.1 135.5h.3M281.5 125.5h.3M276.7 130.6h.3" stroke="rgb(47, 85, 239)" stroke-opacity="0.75" stroke-width="0.75" stroke-linecap="square" fill="none"/>
<path d="M266.7 139.3h.3M262.5 145.1h.3M270.6 134.9h.3M266.3 140.0h.3M242.1 150.1h.3M255.1 133.5h.3M269.0 136.0h.3M260.4 146.4h.3M269.1 136.0h.3M266.7 138.9h.3M266.1 140.5h.3M267.8 137.1h.3M237.7 140.3h.3M270.5 134.9h.3M271.1 134.5h.3M261.9 145.5h.3M263.1 144.5h.3M237.6 148.9h.3M276.3 130.7h.3M264.0 143.6h.3M274.3 132.2h.3M241.0 138.5h.3M253.2 149.2h.3M272.7 133.3h.3M256.2 148.3h.3M266.5 138.6h.3M254.6 133.9h.3M263.8 127.0h.3M257.7 132.3h.3M275.2 131.4h.3M277.2 130.0h.3M274.0 132.3h.3M270.3 134.7h.3M268.7 125.1h.3M266.3 138.6h.3M257.6 132.5h.3M256.5 148.1h.3M266.8 137.6h.3M271.8 133.7h.3M266.3 138.3h.3M262.5 127.8h.3M274.1 132.1h.3M275.7 131.0h.3M265.8 139.7h.3M258.1 147.4h.3M251.1 149.6h.3M275.5 131.0h.3M268.7 135.6h.3M280.9 125.0h.3M265.1 141.4h.3M248.8 135.8h.3M273.0 124.2h.3M279.3 128.5h.3M264.6 142.1h.3M260.9 145.8h.3M268.4 135.7h.3M244.0 150.1h.3M265.7 139.2h.3M259.5 131.1h.3M263.9 127.0h.3M259.5 146.6h.3M266.7 137.1h.3M256.9 133.3h.3M272.1 133.2h.3M235.1 147.0h.3M260.5 146.0h.3M259.1 131.6h.3M265.9 138.3h.3M264.2 142.5h.3M258.3 132.5h.3M277.9 129.4h.3M257.7 132.9h.3M275.5 130.8h.3M267.1 136.3h.3M260.3 130.1h.3M266.9 136.5h.3M267.4 136.0h.3M268.6 135.2h.3M264.7 141.1h.3M252.1 135.1h.3M261.4 145.2h.3M262.4 144.3h.3M239.9 149.4h.3M273.7 131.9h.3M258.7 132.5h.3M275.0 124.1h.3M238.2 140.3h.3M247.7 136.4h.3M258.7 132.5h.3M265.6 137.6h.3M262.8 143.8h.3M260.5 130.1h.3M265.9 137.0h.3M280.2 124.7h.3M255.9 148.0h.3M264.0 127.1h.3M258.4 133.0h.3M280.5 124.9h.3M238.3 140.3h.3M264.6 140.1h.3M260.1 131.1h.3M259.1 132.5h.3M265.0 126.6h.3M269.2 134.3h.3M266.2 136.2h.3M264.7 139.1h.3M268.4 134.7h.3M281.0 126.2h.3M258.8 146.6h.3M265.6 136.7h.3M265.8 126.3h.3M264.5 140.0h.3M255.0 134.6h.3M256.3 134.2h.3M261.4 129.2h.3M261.5 144.7h.3M258.1 133.5h.3M261.8 128.7h.3M264.8 138.1h.3M256.8 147.5h.3M265.2 137.0h.3M265.1 137.2h.3M248.4 149.7h.3M251.4 135.6h.3M263.7 127.4h.3M264.3 140.0h.3M245.7 137.1h.3M264.7 137.8h.3M272.4 132.2h.3M276.8 124.1h.3M262.3 143.9h.3M262.7 143.5h.3M264.4 138.9h.3M270.6 133.2h.3M263.7 141.8h.3M267.2 135.0h.3M260.2 145.6h.3M274.5 131.0h.3M253.3 135.2h.3M248.6 136.3h.3M238.8 140.1h.3M264.1 140.3h.3M271.8 132.4h.3M249.4 136.2h.3M249.4 149.5h.3M261.9 144.1h.3M265.8 135.7h.3M259.9 132.6h.3M264.5 137.5h.3M264.3 138.0h.3M237.6 148.4h.3M260.6 131.5h.3M265.2 136.1h.3M263.1 142.5h.3M268.4 134.1h.3M270.2 133.2h.3M264.7 136.7h.3M258.9 133.6h.3M267.1 134.7h.3M266.1 135.2h.3M265.1 126.7h.3M272.3 132.0h.3M267.3 125.8h.3M251.7 135.7h.3M264.3 137.3h.3M237.7 140.9h.3M249.1 149.5h.3M267.8 134.2h.3M269.8 133.3h.3M260.9 130.6h.3M263.2 142.1h.3M263.8 140.4h.3M267.4 125.7h.3M259.0 133.7h.3M263.9 139.5h.3M278.3 128.8h.3M264.5 136.5h.3M277.9 124.3h.3M260.6 132.3h.3M245.9 137.2h.3M270.1 133.0h.3M246.4 149.7h.3M264.2 136.8h.3M265.3 135.5h.3M261.2 144.5h.3M246.4 137.1h.3M264.0 137.1h.3M264.4 136.3h.3M264.1 136.8h.3M257.5 134.5h.3M252.0 135.8h.3M263.8 138.3h.3M244.7 137.6h.3M267.8 134.0h.3M267.1 134.3h.3M263.6 140.4h.3M259.5 133.7h.3M263.6 137.8h.3M258.2 146.5h.3M260.7 132.9h.3M259.1 134.1h.3M238.0 140.8h.3M260.0 133.6h.3M264.2 135.9h.3M265.6 134.8h.3M246.9 137.0h.3M268.4 133.5h.3M246.6 149.6h.3M261.0 132.7h.3M274.6 130.6h.3M275.2 124.2h.3M263.4 138.8h.3M257.8 134.7h.3M260.9 144.5h.3M269.0 133.1h.3M263.4 140.0h.3M263.3 138.3h.3M269.4 132.9h.3M267.8 133.7h.3M265.0 134.8h.3M262.3 128.7h.3M267.4 133.8h.3M268.1 133.4h.3" stroke="rgb(43, 93, 237)" stroke-opacity="0.75" stroke-width="0.75" stroke-linecap="square" fill="none"/>
<path d="M276.5 124.2h.3M263.2 137.4h.3M261.3 132.8h.3M259.5 134.3h.3M260.3 133.9h.3M280.6 126.4h.3M241.3 139.0h.3M254.5 148.0h.3M260.9 133.6h.3M270.3 132.4h.3M263.1 137.4h.3M278.6 124.5h.3M274.5 130.6h.3M259.4 134.5h.3M267.6 133.5h.3M269.7 132.6h.3M267.0 133.7h.3M258.1 146.4h.3M261.7 143.6h.3M269.1 132.8h.3M244.7 149.5h.3M259.5 134.6h.3M262.5 142.3h.3M263.0 138.4h.3M266.0 133.9h.3M261.2 144.1h.3M261.6 133.5h.3M250.9 148.9h.3M254.0 148.1h.3M266.8 133.6h.3M259.4 134.8h.3M258.7 135.0h.3M261.9 132.1h.3M262.7 135.9h.3M263.0 135.0h.3M262.0 133.5h.3M247.9 136.9h.3M271.2 131.9h.3M264.4 134.2h.3M261.7 134.2h.3M262.5 135.8h.3M262.5 135.5h.3M260.3 134.8h.3M264.0 134.2h.3M262.0 134.5h.3M262.3 133.2h.3M271.6 131.7h.3M262.2 132.5h.3M267.0 133.3h.3M277.7 129.0h.3M260.4 134.9h.3M262.0 135.3h.3M262.5 133.3h.3M261.7 131.0h.3M256.0 147.3h.3M262.2 132.2h.3M266.7 133.3h.3M263.0 133.8h.3M264.4 133.8h.3M261.9 135.7h.3M243.3 138.3h.3M262.7 133.1h.3M265.6 133.6h.3M262.2 132.0h.3M244.6 149.4h.3M262.7 139.0h.3M239.3 148.6h.3M266.2 133.4h.3M262.2 137.0h.3M265.3 133.5h.3M261.0 135.4h.3M264.1 133.6h.3M263.3 128.0h.3M259.6 135.3h.3M263.3 133.3h.3M245.9 149.4h.3M262.4 141.8h.3M262.3 131.9h.3M265.1 133.4h.3M276.2 124.3h.3M261.8 136.7h.3M263.5 127.8h.3M280.4 125.9h.3M268.5 125.6h.3M262.3 131.7h.3M262.1 137.4h.3M271.7 131.5h.3M236.2 147.0h.3M245.1 137.8h.3M246.5 149.4h.3M260.5 135.7h.3M262.4 128.9h.3M270.7 131.9h.3M264.9 133.2h.3M261.3 136.2h.3M257.5 146.5h.3M259.7 145.1h.3M263.8 132.9h.3M259.9 144.9h.3M263.1 132.4h.3M261.5 136.6h.3M261.3 136.5h.3M235.2 145.4h.3M265.6 133.1h.3M264.3 127.4h.3M245.4 137.7h.3M261.0 136.4h.3M264.2 132.9h.3M248.4 137.0h.3M266.2 132.9h.3M260.1 136.0h.3M274.8 124.4h.3M259.2 135.8h.3M261.2 143.6h.3M249.9 136.7h.3M259.7 136.0h.3M263.9 132.6h.3M271.3 131.5h.3M237.6 141.3h.3M261.1 136.8h.3M265.1 132.8h.3M268.9 132.2h.3M247.6 137.2h.3M239.3 140.3h.3M260.4 136.4h.3M254.7 136.0h.3M257.0 135.9h.3M256.1 136.0h.3M243.6 138.4h.3M256.1 147.0h.3M255.6 136.0h.3M251.6 148.5h.3M236.5 142.4h.3M260.3 136.6h.3M267.1 132.4h.3M269.7 131.9h.3M261.7 138.5h.3M262.2 129.6h.3M266.0 132.5h.3M256.1 136.1h.3M262.9 131.5h.3M273.6 124.5h.3M261.9 141.7h.3M260.3 136.9h.3M263.0 131.6h.3M265.0 132.3h.3M275.9 124.4h.3M261.8 139.1h.3M276.1 124.4h.3M269.8 131.8h.3M236.9 142.1h.3M269.4 131.9h.3M262.4 130.7h.3M268.3 132.1h.3M261.4 142.7h.3M270.6 131.5h.3M238.9 148.3h.3M253.9 136.4h.3M250.2 136.8h.3M269.3 131.8h.3M238.4 148.1h.3M276.3 124.4h.3M246.9 137.5h.3M279.1 127.7h.3M261.6 139.2h.3M261.5 139.2h.3M257.9 145.9h.3M245.0 149.2h.3M270.5 131.5h.3M272.2 131.0h.3M236.0 146.3h.3M252.4 148.2h.3M268.9 131.8h.3M280.1 126.1h.3M260.9 143.2h.3M271.1 131.3h.3M266.4 126.5h.3M263.3 131.4h.3M266.4 132.1h.3M266.9 126.3h.3M258.4 136.7h.3M261.1 142.8h.3M251.2 148.4h.3M260.2 137.7h.3M271.0 131.3h.3M245.3 138.0h.3M258.0 145.7h.3M264.4 127.5h.3M259.5 137.4h.3M262.6 129.7h.3M264.9 131.7h.3M254.0 136.6h.3M263.8 131.4h.3M263.0 130.9h.3M246.7 137.7h.3M255.2 136.6h.3M261.4 140.4h.3M261.0 139.1h.3M253.5 136.7h.3M264.6 127.5h.3M238.2 147.8h.3M250.1 148.6h.3M245.9 138.0h.3M265.9 126.7h.3M272.5 130.8h.3M244.1 138.5h.3M244.9 149.0h.3M261.3 140.4h.3M258.7 145.1h.3M258.8 137.4h.3M264.4 127.6h.3M251.0 137.0h.3M266.6 126.4h.3M237.2 147.2h.3M267.2 131.7h.3M241.7 139.4h.3M260.5 143.0h.3" stroke="rgb(39, 101, 236)" stroke-opacity="0.75" stroke-width="0.75" stroke-linecap="square" fill="none"/>
<path d="M256.8 137.0h.3M252.6 147.9h.3M254.7 136.8h.3M277.6 128.5h.3M245.1 148.9h.3M250.9 148.3h.3M259.9 143.7h.3M263.0 130.3h.3M279.4 125.4h.3M261.0 140.8h.3M259.5 138.2h.3M264.4 127.7h.3M263.3 130.6h.3M253.6 137.0h.3M243.5 148.9h.3M260.8 140.3h.3M272.9 124.8h.3M279.2 125.2h.3M258.2 137.6h.3M253.4 147.5h.3M258.6 137.8h.3M260.2 139.2h.3M267.9 126.0h.3M258.6 137.8h.3M252.8 147.7h.3M248.9 137.5h.3M275.5 129.5h.3M251.8 137.1h.3M263.4 130.6h.3M279.7 125.8h.3M245.9 138.2h.3M260.1 139.1h.3M258.3 137.8h.3M241.1 139.8h.3M236.4 146.1h.3M260.7 141.0h.3M258.6 138.1h.3M271.8 130.7h.3M253.9 147.3h.3M275.2 129.6h.3M276.0 129.3h.3M277.1 128.7h.3M246.3 148.8h.3M263.9 130.8h.3M249.2 137.6h.3M259.8 139.3h.3M266.6 126.6h.3M247.3 137.9h.3M251.0 137.4h.3M259.5 139.0h.3M239.1 141.0h.3M263.2 129.7h.3M241.7 148.5h.3M275.3 124.6h.3M251.3 148.0h.3M246.1 138.2h.3M260.2 142.4h.3M244.2 148.7h.3M239.0 141.1h.3M267.0 131.3h.3M263.3 129.7h.3M267.6 131.3h.3M255.8 137.4h.3M249.2 137.6h.3M242.9 148.6h.3M260.3 141.9h.3M258.5 138.4h.3M253.8 137.3h.3M241.4 139.9h.3M259.4 139.1h.3M236.5 146.0h.3M242.8 148.6h.3M273.5 130.1h.3M250.6 148.1h.3M275.8 129.2h.3M268.6 131.2h.3M251.8 137.5h.3M252.3 137.4h.3M237.1 142.7h.3M270.9 125.2h.3M257.2 138.0h.3M252.8 147.4h.3M258.0 138.4h.3M265.3 127.4h.3M258.7 138.9h.3M270.7 130.8h.3M269.5 131.0h.3M269.2 131.0h.3M260.0 141.4h.3M250.6 148.0h.3M259.3 139.6h.3M253.5 137.6h.3M259.9 141.6h.3M266.4 131.1h.3M256.1 145.9h.3M259.8 142.1h.3M259.0 139.4h.3M259.8 140.9h.3M251.2 147.8h.3M268.8 131.0h.3M256.0 137.9h.3M274.7 124.8h.3M257.0 145.3h.3M259.6 142.5h.3M257.8 138.6h.3M246.1 148.5h.3M242.7 148.4h.3M252.8 137.6h.3M257.8 138.6h.3M238.1 141.9h.3M265.5 130.9h.3M259.7 142.2h.3M252.9 147.3h.3M237.3 146.5h.3M272.4 130.3h.3M256.4 138.1h.3M240.6 140.4h.3M273.8 129.9h.3M256.7 138.2h.3M264.7 130.6h.3M253.7 137.7h.3M267.2 126.5h.3M265.1 130.7h.3M258.8 139.5h.3" stroke="rgb(35, 110, 235)" stroke-opacity="0.9" stroke-width="1.0" stroke-linecap="square" fill="none"/>
<path d="M278.6 127.4h.3M246.0 148.5h.3M271.4 130.5h.3M273.6 129.9h.3M264.8 130.6h.3M259.2 140.2h.3M252.9 137.8h.3M236.7 145.5h.3M249.1 148.1h.3M254.3 137.9h.3M259.5 141.7h.3M249.8 148.0h.3M246.0 138.6h.3M266.8 130.9h.3M249.0 148.1h.3M259.4 142.2h.3M253.9 137.9h.3M257.9 139.0h.3M236.8 145.5h.3M265.2 127.6h.3M246.0 138.6h.3M264.6 130.3h.3M251.8 147.4h.3M259.2 140.9h.3M256.4 138.4h.3M274.6 124.9h.3M258.6 139.8h.3M266.0 130.8h.3M276.6 128.6h.3M265.1 127.8h.3M275.1 129.3h.3M252.9 147.0h.3M266.4 130.8h.3M257.9 139.3h.3M266.6 126.9h.3M240.6 140.6h.3M246.9 138.5h.3M243.9 148.3h.3M268.2 126.2h.3M258.9 142.8h.3M264.1 129.2h.3M256.5 145.3h.3M270.5 130.6h.3M274.0 129.7h.3M264.9 128.0h.3M240.6 147.8h.3M258.9 142.6h.3M245.2 148.3h.3M257.0 138.9h.3M253.9 138.1h.3M243.4 148.3h.3M275.9 128.9h.3M258.7 140.5h.3M237.8 146.5h.3M276.4 124.9h.3M238.3 142.1h.3M274.5 124.9h.3M258.0 139.7h.3M264.2 129.1h.3M270.9 130.4h.3M258.8 141.0h.3M264.4 128.7h.3M250.6 138.1h.3M268.2 126.3h.3M264.6 130.0h.3M257.3 139.2h.3M267.8 130.7h.3M257.7 139.5h.3M272.0 125.2h.3M253.5 138.2h.3M258.7 142.6h.3M249.5 138.2h.3M251.6 138.1h.3M278.3 125.5h.3M246.4 148.2h.3M239.7 141.3h.3M268.2 126.3h.3M254.9 138.5h.3M256.6 144.9h.3M253.7 146.5h.3M272.5 125.2h.3M256.4 138.9h.3M264.4 128.9h.3M254.3 146.2h.3M273.4 129.7h.3M255.1 138.6h.3M246.5 138.8h.3M238.6 146.9h.3M255.0 145.9h.3M250.7 147.5h.3M265.5 130.3h.3M252.0 147.1h.3M238.0 146.4h.3M257.1 139.4h.3M278.6 126.9h.3M276.3 128.6h.3M247.2 138.6h.3M264.6 129.7h.3M244.3 148.2h.3M256.6 139.2h.3M264.8 128.4h.3M277.8 125.3h.3M248.6 147.9h.3M266.7 130.6h.3M273.2 125.1h.3M274.2 129.5h.3" stroke="rgb(30, 120, 230)" stroke-opacity="0.9" stroke-width="1.0" stroke-linecap="square" fill="none"/>
<path d="M276.8 128.3h.3M258.0 143.4h.3M276.9 128.3h.3M258.3 142.7h.3M241.9 140.3h.3M268.6 130.6h.3M270.9 130.3h.3M278.6 126.0h.3M239.4 141.6h.3M257.8 140.1h.3M246.3 138.9h.3M237.7 146.0h.3M237.2 144.5h.3M258.4 141.8h.3M278.5 125.9h.3M266.3 127.2h.3M238.9 142.0h.3M267.1 126.8h.3M255.3 138.9h.3M241.4 147.7h.3M278.5 126.7h.3M256.2 144.9h.3M239.1 141.9h.3M265.7 130.2h.3M238.2 142.6h.3M271.5 130.1h.3M277.7 127.7h.3M247.4 147.9h.3M257.7 140.4h.3M258.1 142.7h.3M275.7 125.1h.3M246.3 139.0h.3M245.8 148.0h.3M274.1 125.1h.3M268.8 130.5h.3M254.8 145.7h.3M245.9 148.0h.3M254.7 145.8h.3M265.5 127.9h.3M268.7 126.2h.3M267.0 127.0h.3M256.0 139.3h.3M252.2 138.5h.3M255.7 145.1h.3M265.0 129.6h.3M246.8 139.0h.3M253.6 146.2h.3M240.0 141.4h.3M242.5 147.8h.3M252.6 146.6h.3M239.5 147.0h.3M247.0 147.8h.3M265.6 127.9h.3M275.3 125.1h.3M252.8 146.5h.3M267.1 126.9h.3M266.5 130.3h.3M257.4 140.5h.3M269.6 130.3h.3M266.8 130.3h.3M257.1 140.2h.3M248.7 147.6h.3M249.7 138.7h.3M266.2 130.2h.3M253.5 138.8h.3M265.8 130.0h.3M243.1 140.0h.3M250.9 138.6h.3M254.2 138.9h.3M247.9 147.7h.3M274.8 129.1h.3M251.6 146.9h.3M243.6 139.9h.3M266.8 130.2h.3M255.8 144.8h.3M249.7 138.7h.3M265.5 129.7h.3M245.2 147.8h.3M249.4 138.8h.3M239.4 146.7h.3M268.2 126.6h.3" stroke="rgb(26, 130, 226)" stroke-opacity="0.9" stroke-width="1.0" stroke-linecap="square" fill="none"/>
<path d="M238.2 145.9h.3M269.1 130.3h.3M257.4 141.2h.3M275.5 125.2h.3M256.0 144.5h.3M270.5 125.8h.3M265.2 128.7h.3M254.0 145.8h.3M266.1 130.0h.3M246.8 139.2h.3M237.9 143.7h.3M270.4 130.1h.3M272.3 125.4h.3M249.0 147.4h.3M247.5 147.6h.3M274.9 125.2h.3M254.5 139.2h.3M243.7 147.7h.3M242.8 147.6h.3M239.3 142.2h.3M277.9 127.0h.3M268.5 130.2h.3M267.4 130.2h.3M273.7 129.3h.3M250.2 138.9h.3M251.1 146.8h.3M251.8 138.9h.3M277.1 127.7h.3M252.2 146.5h.3M241.4 147.3h.3M271.9 129.8h.3M246.3 147.6h.3M255.9 139.9h.3M257.2 141.5h.3M242.2 140.6h.3M267.5 130.1h.3M256.3 140.3h.3M256.2 144.1h.3M239.4 146.5h.3M268.3 126.6h.3M277.4 127.4h.3M277.9 126.2h.3M255.4 144.7h.3M240.0 146.8h.3M247.2 147.5h.3M256.0 144.2h.3M265.4 129.1h.3M273.8 129.2h.3M266.9 130.0h.3M256.9 143.0h.3M249.6 139.0h.3M246.3 139.4h.3M252.2 139.1h.3M239.3 142.4h.3M247.4 139.3h.3M257.0 141.9h.3M252.8 146.1h.3M277.6 127.1h.3M271.2 129.9h.3M239.5 146.5h.3M273.3 129.4h.3M248.6 147.3h.3M274.6 125.3h.3M252.0 146.4h.3M266.2 129.7h.3M240.0 141.9h.3M252.5 139.2h.3M251.5 139.1h.3M243.6 140.2h.3M248.3 147.3h.3M265.9 129.4h.3M255.2 144.7h.3M239.4 146.3h.3M254.5 139.7h.3M256.7 141.3h.3M238.2 144.5h.3M252.2 139.2h.3M256.8 142.4h.3" stroke="rgb(22, 141, 222)" stroke-opacity="0.9" stroke-width="1.0" stroke-linecap="square" fill="none"/>
<path d="M266.1 128.0h.3M267.9 130.0h.3M241.9 147.2h.3M238.8 145.7h.3M267.8 130.0h.3M244.0 147.5h.3M256.4 141.1h.3M248.8 147.1h.3M251.1 139.1h.3M277.4 126.0h.3M253.8 139.5h.3M243.0 140.5h.3M274.8 128.7h.3M269.5 130.0h.3M266.4 127.9h.3M268.3 130.0h.3M253.9 139.6h.3M266.3 129.6h.3M267.0 127.4h.3M252.6 146.0h.3M266.0 128.2h.3M265.8 128.6h.3M244.3 140.1h.3M255.1 140.1h.3M252.5 146.0h.3M277.2 125.9h.3M248.0 147.2h.3M253.0 145.8h.3M277.5 126.8h.3M250.7 146.6h.3M245.6 139.8h.3M249.8 139.2h.3M267.7 129.9h.3M267.2 129.8h.3M269.8 129.9h.3M239.2 142.8h.3M245.3 147.4h.3M266.8 127.6h.3M255.8 143.8h.3M266.4 127.9h.3M270.2 126.1h.3M247.7 147.2h.3M277.1 125.9h.3M254.6 144.8h.3M255.8 140.8h.3M272.9 125.6h.3M255.6 143.9h.3M238.9 143.2h.3M247.1 139.5h.3M251.8 139.4h.3M273.5 125.5h.3M252.6 145.9h.3M238.8 145.4h.3M250.1 139.3h.3M256.4 142.1h.3M242.7 140.8h.3M269.3 126.4h.3M255.6 140.8h.3M277.2 126.1h.3M249.0 146.9h.3M277.3 126.9h.3M244.7 140.1h.3M238.6 144.3h.3M241.3 146.8h.3M255.9 141.2h.3M250.9 139.4h.3M277.3 126.4h.3M249.5 146.8h.3M253.4 139.8h.3M245.4 147.3h.3M277.0 126.0h.3M277.3 126.3h.3M271.8 125.8h.3M269.5 129.8h.3M246.9 139.7h.3M246.9 139.7h.3M273.8 129.0h.3M277.3 126.5h.3M243.7 140.5h.3" stroke="rgb(18, 151, 218)" stroke-opacity="0.9" stroke-width="1.0" stroke-linecap="square" fill="none"/>
<path d="M277.2 126.3h.3M240.2 142.2h.3M246.2 139.8h.3M254.1 144.9h.3M240.4 146.4h.3M239.0 145.2h.3M244.2 140.4h.3M273.5 129.0h.3M253.8 145.1h.3M243.4 140.6h.3M256.0 142.4h.3M240.6 142.0h.3M248.6 146.9h.3M244.4 140.3h.3M255.6 143.3h.3M248.1 146.9h.3M267.9 129.7h.3M241.8 141.3h.3M269.9 126.3h.3M275.6 128.1h.3M238.9 144.8h.3M239.0 143.9h.3M243.2 140.7h.3M245.7 140.0h.3M247.8 147.0h.3M245.3 147.1h.3M275.3 128.3h.3M274.0 125.6h.3M242.0 141.3h.3M243.3 140.7h.3M239.0 144.3h.3M239.6 145.7h.3M254.6 144.3h.3M239.4 143.2h.3M253.4 140.1h.3M243.7 147.1h.3M253.6 145.0h.3M251.9 139.7h.3M240.6 142.1h.3M245.0 140.3h.3M274.4 128.6h.3M252.4 145.6h.3M277.0 126.4h.3M254.0 140.3h.3M266.8 129.2h.3M247.6 146.9h.3M267.5 129.5h.3M274.8 128.4h.3M276.4 127.5h.3M272.0 129.3h.3M249.1 139.7h.3M266.7 128.4h.3M273.6 125.7h.3M274.4 128.6h.3M276.5 126.1h.3M274.1 128.7h.3M273.9 125.7h.3M243.9 140.7h.3M241.2 146.4h.3M241.0 146.3h.3M266.8 129.0h.3" stroke="rgb(15, 160, 213)" stroke-opacity="1" stroke-width="1.0" stroke-linecap="square" fill="none"/>
<path d="M275.1 128.2h.3M249.1 146.5h.3M266.8 128.3h.3M276.6 126.3h.3M267.5 129.3h.3M239.3 144.7h.3M266.9 129.0h.3M242.4 141.3h.3M266.8 128.4h.3M245.2 146.9h.3M239.7 143.3h.3M239.6 145.3h.3M255.2 142.0h.3M248.4 146.6h.3M239.4 144.1h.3M275.3 128.1h.3M243.2 146.8h.3M245.6 140.3h.3M269.4 129.5h.3M246.3 140.1h.3M239.4 144.5h.3M247.7 146.7h.3M241.8 141.7h.3M276.4 127.2h.3M270.6 129.4h.3M250.8 139.9h.3M268.3 127.2h.3M250.7 146.0h.3M252.7 140.2h.3M245.3 140.4h.3M240.6 145.9h.3M254.7 143.4h.3M245.2 140.5h.3M272.2 129.1h.3M252.1 140.1h.3M241.3 142.1h.3M254.3 143.9h.3M246.0 140.3h.3M270.3 126.5h.3M247.1 140.1h.3M267.6 129.2h.3M270.0 126.5h.3M240.8 142.4h.3M240.2 145.5h.3M253.1 144.8h.3M247.7 146.6h.3M270.9 129.3h.3M271.5 126.2h.3M249.2 140.0h.3M267.5 129.0h.3M253.7 140.8h.3M267.5 129.0h.3" stroke="rgb(15, 165, 204)" stroke-opacity="1" stroke-width="1.0" stroke-linecap="square" fill="none"/>
<path d="M254.8 142.7h.3M242.7 146.5h.3M254.0 144.0h.3M268.0 127.5h.3M267.3 128.3h.3M272.2 126.0h.3M275.2 126.0h.3M253.9 141.0h.3M253.6 140.9h.3M240.3 145.4h.3M272.2 129.0h.3M250.0 140.1h.3M267.4 128.8h.3M273.2 128.8h.3M254.6 142.1h.3M243.9 146.6h.3M272.3 129.0h.3M251.8 145.3h.3M240.0 143.6h.3M274.8 126.0h.3M246.2 146.6h.3M268.0 129.1h.3M267.8 127.8h.3M250.2 140.1h.3M246.7 140.4h.3M267.5 128.3h.3M273.3 128.7h.3M268.1 129.1h.3M253.3 144.4h.3M251.9 140.4h.3M250.4 145.8h.3M253.9 143.8h.3M267.8 129.0h.3M253.7 144.0h.3M253.0 144.6h.3M271.5 129.1h.3M250.8 145.6h.3M243.5 146.5h.3M254.2 143.2h.3M271.4 126.3h.3M249.0 146.1h.3M254.2 143.3h.3M254.4 142.4h.3M269.2 129.2h.3M273.1 126.0h.3M250.4 140.3h.3M267.7 128.8h.3M245.5 146.5h.3M248.2 140.3h.3M272.0 129.0h.3M274.4 126.0h.3M252.6 140.7h.3" stroke="rgb(16, 170, 195)" stroke-opacity="1" stroke-width="1.0" stroke-linecap="square" fill="none"/>
<path d="M254.2 143.1h.3M251.2 140.4h.3M242.3 141.8h.3M253.7 141.3h.3M268.1 127.8h.3M249.4 140.3h.3M241.2 145.7h.3M241.1 145.6h.3M275.6 127.3h.3M246.3 140.6h.3M272.4 126.2h.3M240.9 145.4h.3M271.5 126.3h.3M253.8 141.6h.3M249.7 140.3h.3M251.3 140.5h.3M254.0 143.2h.3M242.9 141.6h.3M243.5 146.3h.3M275.4 127.5h.3M254.1 142.9h.3M253.2 144.1h.3M275.6 127.3h.3M267.9 128.2h.3M254.0 143.1h.3M241.3 145.7h.3M248.8 146.1h.3M245.0 140.9h.3M253.9 143.1h.3M254.0 142.2h.3M248.3 140.4h.3M246.5 140.6h.3M268.2 127.8h.3M249.5 145.9h.3M254.0 142.3h.3M244.8 141.0h.3M271.0 129.0h.3M272.5 128.8h.3M252.9 144.3h.3M245.3 140.9h.3M250.6 145.5h.3M245.1 140.9h.3M273.6 126.1h.3M246.1 146.4h.3M270.3 129.1h.3M268.8 129.0h.3M253.7 143.2h.3M269.8 126.9h.3M271.3 126.5h.3M241.7 142.5h.3M245.5 146.4h.3M253.3 141.5h.3M273.5 128.4h.3M253.8 142.2h.3M248.8 146.0h.3M253.3 143.8h.3M246.4 146.3h.3M245.2 146.3h.3M268.1 128.2h.3M275.5 126.9h.3M269.7 127.0h.3M270.4 129.0h.3M240.6 144.6h.3" stroke="rgb(17, 175, 186)" stroke-opacity="1" stroke-width="1.0" stroke-linecap="square" fill="none"/>
<path d="M253.5 143.3h.3M248.8 145.9h.3M275.4 126.7h.3M240.8 143.4h.3M268.9 128.9h.3M240.7 143.6h.3M268.2 128.1h.3M242.5 142.0h.3M253.6 143.1h.3M252.1 144.6h.3M240.8 143.5h.3M244.3 146.2h.3M270.5 129.0h.3M241.7 142.6h.3M241.1 143.2h.3M250.0 145.5h.3M243.6 141.6h.3M271.5 128.8h.3M273.1 126.3h.3M247.0 140.7h.3M253.2 143.4h.3M245.6 141.0h.3M275.1 126.6h.3M272.5 128.6h.3M252.2 144.4h.3M275.1 127.3h.3M271.7 126.5h.3M253.5 142.6h.3M274.3 126.3h.3M241.0 143.5h.3M273.4 126.3h.3M243.0 145.9h.3M275.2 127.1h.3M246.0 146.2h.3M270.1 127.0h.3M273.0 128.4h.3M269.5 128.9h.3M246.4 140.9h.3M246.6 140.8h.3M252.8 141.6h.3M269.3 127.4h.3M268.5 128.3h.3M274.9 127.4h.3M272.2 128.6h.3M253.2 142.0h.3M275.1 126.8h.3M241.6 142.9h.3M272.1 126.5h.3M268.6 128.1h.3M253.1 141.9h.3M249.2 145.6h.3M250.0 145.4h.3M245.0 146.1h.3" stroke="rgb(17, 180, 177)" stroke-opacity="1" stroke-width="1.0" stroke-linecap="square" fill="none"/>
<path d="M242.1 145.5h.3M251.1 140.9h.3M241.9 142.7h.3M247.8 140.8h.3M250.2 145.3h.3M272.6 126.4h.3M241.0 144.0h.3M251.3 141.0h.3M242.0 145.4h.3M268.8 128.5h.3M274.0 127.9h.3M248.6 145.7h.3M247.3 140.8h.3M241.9 142.8h.3M271.4 128.7h.3M269.7 127.3h.3M241.3 144.7h.3M246.7 146.0h.3M250.0 145.3h.3M244.8 141.4h.3M268.8 128.2h.3M252.8 143.4h.3M271.0 126.8h.3M252.7 143.5h.3M251.2 141.1h.3M244.2 145.9h.3M246.8 145.9h.3M244.2 141.6h.3M271.1 128.7h.3M252.9 142.9h.3M252.8 143.2h.3M274.5 127.5h.3M248.1 145.7h.3M250.4 141.0h.3M241.5 143.5h.3M248.5 145.6h.3M252.9 142.9h.3M269.1 128.4h.3M243.5 142.0h.3M252.0 141.5h.3M250.5 141.0h.3M249.8 145.2h.3M244.2 145.9h.3M244.3 145.9h.3M241.7 143.3h.3M269.3 128.5h.3M245.4 141.3h.3M252.8 142.6h.3M274.5 126.8h.3M272.4 128.4h.3M252.2 141.7h.3M246.7 141.1h.3M273.0 126.6h.3" stroke="rgb(18, 185, 168)" stroke-opacity="1" stroke-width="1.0" stroke-linecap="square" fill="none"/>
<path d="M274.4 127.3h.3M273.7 126.6h.3M251.9 141.6h.3M247.2 141.0h.3M245.3 145.9h.3M269.3 127.9h.3M249.0 145.4h.3M269.3 128.3h.3M271.6 128.5h.3M246.9 145.8h.3M241.5 144.2h.3M252.4 142.1h.3M247.7 141.0h.3M270.5 128.6h.3M252.6 142.6h.3M274.2 126.8h.3M249.2 145.3h.3M246.4 141.2h.3M248.2 145.6h.3M245.6 145.8h.3M252.3 142.1h.3M249.4 141.0h.3M252.3 142.1h.3M274.1 126.9h.3M269.6 128.4h.3M270.7 128.5h.3M246.5 141.2h.3M249.3 141.1h.3M272.0 128.3h.3M274.1 126.9h.3M270.0 128.5h.3M242.0 144.8h.3M246.4 141.2h.3M252.4 143.0h.3M273.8 127.7h.3M270.0 128.4h.3M252.3 143.2h.3M251.3 141.5h.3M241.7 144.0h.3M272.7 126.7h.3M272.9 126.7h.3M271.1 128.4h.3M243.9 145.6h.3M251.4 141.6h.3M242.6 142.8h.3M242.3 144.9h.3M251.2 144.3h.3M244.7 141.7h.3M242.6 145.2h.3M248.6 141.1h.3M270.9 128.4h.3M249.4 145.1h.3M243.2 142.4h.3M272.7 126.8h.3M246.5 141.3h.3" stroke="rgb(19, 190, 159)" stroke-opacity="1" stroke-width="1.0" stroke-linecap="square" fill="none"/>
<path d="M273.4 126.8h.3M245.8 145.7h.3M273.9 127.2h.3M270.3 127.4h.3M271.4 127.0h.3M273.7 127.0h.3M251.7 142.0h.3M242.7 142.9h.3M273.3 127.8h.3M248.6 141.2h.3M252.0 142.4h.3M251.9 143.4h.3M242.4 143.2h.3M246.9 141.3h.3M243.6 145.4h.3M252.0 142.4h.3M252.0 142.6h.3M270.3 128.2h.3M272.3 128.1h.3M246.9 145.5h.3M244.7 141.9h.3M270.1 128.1h.3M249.4 145.0h.3M246.3 145.6h.3M273.5 127.5h.3M270.6 127.4h.3M271.5 128.2h.3M245.8 141.6h.3M248.5 141.3h.3M272.0 127.0h.3M250.4 141.6h.3M250.8 144.2h.3M251.4 142.0h.3M251.3 141.9h.3M243.3 142.6h.3M245.8 141.6h.3M244.5 142.0h.3M251.1 141.9h.3M251.0 141.9h.3M244.4 145.4h.3M251.7 143.0h.3M272.0 127.1h.3" stroke="rgb(20, 195, 150)" stroke-opacity="1" stroke-width="1.0" stroke-linecap="square" fill="none"/>
<path d="M249.8 144.7h.3M245.1 141.9h.3M251.7 142.9h.3M249.8 141.5h.3M270.9 127.6h.3M272.9 127.3h.3M271.7 128.0h.3M272.3 127.2h.3M272.8 127.5h.3M248.6 145.0h.3M243.4 142.8h.3M271.4 127.8h.3M251.4 143.3h.3M251.4 142.9h.3M242.7 144.1h.3M271.6 127.7h.3M271.7 127.5h.3M243.5 142.8h.3M250.7 142.0h.3M243.6 142.8h.3M249.1 141.6h.3M246.9 145.2h.3M248.6 144.9h.3M245.3 142.0h.3M243.3 143.1h.3M242.8 144.0h.3M243.4 144.8h.3" stroke="rgb(25, 196, 140)" stroke-opacity="1" stroke-width="1.0" stroke-linecap="square" fill="none"/>
<path d="M250.1 141.9h.3M244.7 145.1h.3M251.0 142.5h.3M250.4 144.0h.3M250.4 142.1h.3M251.0 143.1h.3M243.7 142.9h.3M246.1 145.2h.3M249.1 144.6h.3M243.1 144.1h.3M250.5 143.7h.3M243.5 144.6h.3M248.0 141.7h.3M249.0 144.6h.3M249.9 144.2h.3M243.5 143.2h.3M250.2 144.0h.3M250.5 142.3h.3M243.7 143.0h.3M243.3 144.4h.3M243.2 144.2h.3M249.6 144.3h.3M245.2 142.2h.3M249.8 142.0h.3M245.4 142.2h.3M247.2 145.0h.3M243.6 144.5h.3M245.4 142.2h.3M249.9 144.0h.3M243.5 143.4h.3M246.9 141.9h.3" stroke="rgb(31, 198, 130)" stroke-opacity="1" stroke-width="1.0" stroke-linecap="square" fill="none"/>
<path d="M250.5 143.3h.3M243.7 144.4h.3M243.8 143.2h.3M243.9 144.5h.3M243.6 144.1h.3M244.2 144.6h.3M246.0 142.2h.3M249.2 144.3h.3M244.2 142.9h.3M249.2 144.2h.3M243.7 143.5h.3M247.4 144.7h.3M247.4 142.0h.3M244.9 142.7h.3M245.6 142.4h.3M248.3 144.5h.3M245.7 142.4h.3M249.9 143.6h.3M249.1 144.2h.3M244.1 144.3h.3M248.5 144.4h.3M243.9 143.4h.3M246.5 142.2h.3M249.9 143.5h.3M245.3 142.5h.3M250.1 142.9h.3M249.9 143.5h.3M246.4 144.8h.3M243.9 143.7h.3" stroke="rgb(36, 200, 120)" stroke-opacity="1" stroke-width="1.0" stroke-linecap="square" fill="none"/>
<path d="M245.2 144.7h.3M247.9 144.5h.3M249.4 142.5h.3M247.1 144.6h.3M249.2 142.4h.3M249.1 142.4h.3M244.1 143.8h.3M245.0 142.8h.3M245.8 144.7h.3M249.6 143.5h.3M244.6 144.3h.3M246.2 142.4h.3M245.0 144.5h.3M249.6 143.5h.3M249.4 143.7h.3M247.6 144.5h.3M244.5 144.2h.3M247.4 144.5h.3M248.6 142.4h.3M246.4 142.4h.3M246.3 144.6h.3M245.0 144.4h.3M244.4 143.5h.3M247.1 144.5h.3M244.5 143.7h.3M247.0 144.5h.3M245.8 144.5h.3M249.3 143.3h.3M245.8 142.7h.3M245.9 142.7h.3M249.1 142.8h.3M245.7 142.8h.3" stroke="rgb(42, 201, 110)" stroke-opacity="1" stroke-width="1.0" stroke-linecap="square" fill="none"/>
<path d="M249.1 143.5h.3M245.4 144.3h.3M245.5 142.9h.3M249.0 142.8h.3M248.8 143.7h.3M248.4 143.9h.3M246.6 142.6h.3M249.0 143.3h.3M248.0 142.6h.3M244.9 143.6h.3M247.4 144.2h.3M248.8 143.0h.3M245.9 142.9h.3M246.6 144.3h.3M248.8 143.3h.3M248.4 143.7h.3M248.6 143.4h.3M245.8 143.0h.3M246.0 143.0h.3M246.6 142.8h.3M248.1 142.9h.3M248.4 143.4h.3M247.3 144.0h.3M246.2 143.0h.3M247.5 143.9h.3M247.8 143.8h.3M248.2 143.1h.3M248.3 143.4h.3M248.3 143.3h.3M248.3 143.1h.3" stroke="rgb(47, 203, 99)" stroke-opacity="1" stroke-width="1.0" stroke-linecap="square" fill="none"/>
<path d="M246.9 144.0h.3M246.4 143.9h.3M247.1 143.8h.3M247.8 143.6h.3M246.5 143.9h.3M247.3 143.7h.3M246.4 143.7h.3M247.5 143.4h.3M247.0 143.4h.3" stroke="rgb(53, 205, 90)" stroke-opacity="1" stroke-width="1.0" stroke-linecap="square" fill="none"/>
</g>
<line x1="255.6" y1="93.6" x2="255.6" y2="160.3" stroke="#666" stroke-width="1.1"/>
<line x1="232.5" y1="132.3" x2="298.9" y2="132.3" stroke="#666" stroke-width="1.1"/>
<g font-family="Liberation Sans, sans-serif" font-size="5.6" font-weight="bold" fill="#000" stroke="#000" stroke-width="0.15">
<text x="234.7" y="100.8">1.6</text>
<text x="295.9" y="100.8" text-anchor="end">24.0</text>
<text x="234.7" y="158.5">48.5</text>
<text x="295.9" y="158.5" text-anchor="end">25.9</text>
</g>
<path d="M13.9 167.5V152.3M13.9 167.5H52.5" stroke="#666" stroke-width="0.65" fill="none"/>
<text transform="translate(12.0,161.7) rotate(-90)" text-anchor="middle" font-family="Liberation Sans, sans-serif" font-size="6" font-weight="bold" fill="#000" stroke="#000" stroke-width="0.12">7AAD</text>
<text x="12.3" y="175.5" font-family="Liberation Sans, sans-serif" font-size="6" font-weight="bold" fill="#000" stroke="#000" stroke-width="0.12">Annexin V-APC</text>
<g stroke="#555" stroke-width="0.75" fill="none">
<path d="M332.7 13.3V79.8H397.5"/>
<path d="M330.9 79.80H332.7"/>
<path d="M330.9 63.17H332.7"/>
<path d="M330.9 46.55H332.7"/>
<path d="M330.9 29.92H332.7"/>
<path d="M330.9 13.30H332.7"/>
<path d="M342.7 79.8v1.6"/>
<path d="M358.1 79.8v1.6"/>
<path d="M373.7 79.8v1.6"/>
<path d="M389.0 79.8v1.6"/>
</g>
<g font-family="Liberation Sans, sans-serif" font-size="6" fill="#444" text-anchor="end">
<text x="329.9" y="81.90">0</text>
<text x="329.9" y="65.27">10</text>
<text x="329.9" y="48.65">20</text>
<text x="329.9" y="32.02">30</text>
<text x="329.9" y="15.40">40</text>
</g>
<rect x="337.2" y="57.85" width="11" height="21.95" fill="#22a4c4" stroke="#333" stroke-width="0.5"/>
<path d="M342.7 57.85V56.52M340.7 56.52h4" stroke="#222" stroke-width="0.6" fill="none"/>
<rect x="352.6" y="47.05" width="11" height="32.75" fill="#d8433a" stroke="#333" stroke-width="0.5"/>
<path d="M358.1 47.05V43.39M356.1 43.39h4" stroke="#222" stroke-width="0.6" fill="none"/>
<rect x="368.2" y="38.90" width="11" height="40.90" fill="#1ca035" stroke="#333" stroke-width="0.5"/>
<path d="M373.7 38.90V35.41M371.7 35.41h4" stroke="#222" stroke-width="0.6" fill="none"/>
<rect x="383.5" y="23.44" width="11" height="56.36" fill="#c400d6" stroke="#333" stroke-width="0.5"/>
<path d="M389.0 23.44V18.29M387.0 18.29h4" stroke="#222" stroke-width="0.6" fill="none"/>
<text transform="translate(317.7,46.1) rotate(-90)" text-anchor="middle" font-family="Liberation Sans, sans-serif" font-size="6.2" fill="#444">% Apoptotic cells</text>
<path d="M342.2 39.5H357.5" stroke="#555" stroke-width="0.75"/>
<text x="350" y="37.300000000000004" text-anchor="middle" font-family="Liberation Sans, sans-serif" font-size="5.8" fill="#444">ns</text>
<path d="M359.7 30.8H375.2" stroke="#555" stroke-width="0.75"/>
<text x="367.2" y="29.1" text-anchor="middle" font-family="Liberation Sans, sans-serif" font-size="5.8" fill="#444">ns</text>
<path d="M353.75 13.25H389" stroke="#555" stroke-width="0.75"/>
<text x="371.5" y="14.0" text-anchor="middle" font-family="Liberation Sans, sans-serif" font-size="7" fill="#444" letter-spacing="0.3">**</text>
<g stroke="#555" stroke-width="0.75" fill="none">
<path d="M332.7 97V164.0H397.5"/>
<path d="M330.9 164.00H332.7"/>
<path d="M330.9 152.83H332.7"/>
<path d="M330.9 141.67H332.7"/>
<path d="M330.9 130.50H332.7"/>
<path d="M330.9 119.33H332.7"/>
<path d="M330.9 108.17H332.7"/>
<path d="M330.9 97.00H332.7"/>
<path d="M342.7 164.0v1.6"/>
<path d="M358.1 164.0v1.6"/>
<path d="M373.7 164.0v1.6"/>
<path d="M389.0 164.0v1.6"/>
</g>
<g font-family="Liberation Sans, sans-serif" font-size="6" fill="#444" text-anchor="end">
<text x="329.9" y="166.10">0</text>
<text x="329.9" y="154.93">10</text>
<text x="329.9" y="143.77">20</text>
<text x="329.9" y="132.60">30</text>
<text x="329.9" y="121.43">40</text>
<text x="329.9" y="110.27">50</text>
<text x="329.9" y="99.10">60</text>
</g>
<rect x="337.2" y="148.03" width="11" height="15.97" fill="#22a4c4" stroke="#333" stroke-width="0.5"/>
<path d="M342.7 148.03V146.13M340.7 146.13h4" stroke="#222" stroke-width="0.6" fill="none"/>
<rect x="352.6" y="129.61" width="11" height="34.39" fill="#d8433a" stroke="#333" stroke-width="0.5"/>
<path d="M358.1 129.61V126.70M356.1 126.70h4" stroke="#222" stroke-width="0.6" fill="none"/>
<rect x="368.2" y="120.56" width="11" height="43.44" fill="#1ca035" stroke="#333" stroke-width="0.5"/>
<path d="M373.7 120.56V116.09M371.7 116.09h4" stroke="#222" stroke-width="0.6" fill="none"/>
<rect x="383.5" y="109.95" width="11" height="54.05" fill="#c400d6" stroke="#333" stroke-width="0.5"/>
<path d="M389.0 109.95V107.61M387.0 107.61h4" stroke="#222" stroke-width="0.6" fill="none"/>
<text transform="translate(317.7,128.3) rotate(-90)" text-anchor="middle" font-family="Liberation Sans, sans-serif" font-size="6.2" fill="#444">% Apoptotic cells</text>
<path d="M340.1 122.1H355.3" stroke="#555" stroke-width="0.75"/>
<text x="347.5" y="122.0" text-anchor="middle" font-family="Liberation Sans, sans-serif" font-size="7" fill="#444" letter-spacing="0.3">*</text>
<path d="M356 112H371.4" stroke="#555" stroke-width="0.75"/>
<text x="364" y="112.6" text-anchor="middle" font-family="Liberation Sans, sans-serif" font-size="7" fill="#444" letter-spacing="0.3">*</text>
<path d="M356 101.6H386.5" stroke="#555" stroke-width="0.75"/>
<text x="374" y="102.0" text-anchor="middle" font-family="Liberation Sans, sans-serif" font-size="7" fill="#444" letter-spacing="0.3">**</text>
<g stroke="#555" stroke-width="0.75" fill="none">
<path d="M215.7 235.6V302.1H279.5"/>
<path d="M213.89999999999998 302.10H215.7"/>
<path d="M213.89999999999998 285.48H215.7"/>
<path d="M213.89999999999998 268.85H215.7"/>
<path d="M213.89999999999998 252.22H215.7"/>
<path d="M213.89999999999998 235.60H215.7"/>
<path d="M225.2 302.1v1.6"/>
<path d="M240.6 302.1v1.6"/>
<path d="M255.75 302.1v1.6"/>
<path d="M271.2 302.1v1.6"/>
</g>
<g font-family="Liberation Sans, sans-serif" font-size="6" fill="#444" text-anchor="end">
<text x="212.89999999999998" y="304.20">0</text>
<text x="212.89999999999998" y="287.58">10</text>
<text x="212.89999999999998" y="270.95">20</text>
<text x="212.89999999999998" y="254.32">30</text>
<text x="212.89999999999998" y="237.70">40</text>
</g>
<rect x="219.89999999999998" y="294.45" width="10.6" height="7.65" fill="#22a4c4" stroke="#333" stroke-width="0.5"/>
<path d="M225.2 294.45V292.29M223.2 292.29h4" stroke="#222" stroke-width="0.6" fill="none"/>
<rect x="235.29999999999998" y="278.16" width="10.6" height="23.94" fill="#d8433a" stroke="#333" stroke-width="0.5"/>
<path d="M240.6 278.16V276.50M238.6 276.50h4" stroke="#222" stroke-width="0.6" fill="none"/>
<rect x="250.45" y="277.16" width="10.6" height="24.94" fill="#1ca035" stroke="#333" stroke-width="0.5"/>
<path d="M255.75 277.16V275.17M253.75 275.17h4" stroke="#222" stroke-width="0.6" fill="none"/>
<rect x="265.9" y="252.56" width="10.6" height="49.54" fill="#c400d6" stroke="#333" stroke-width="0.5"/>
<path d="M271.2 252.56V248.24M269.2 248.24h4" stroke="#222" stroke-width="0.6" fill="none"/>
<text transform="translate(200.4,268.1) rotate(-90)" text-anchor="middle" font-family="Liberation Sans, sans-serif" font-size="6.7" fill="#444">% Caspase3/7 activity</text>
<path d="M227.2 271.6H241.1" stroke="#555" stroke-width="0.75"/>
<text x="234.5" y="272.9" text-anchor="middle" font-family="Liberation Sans, sans-serif" font-size="7" fill="#444" letter-spacing="0.3">*</text>
<path d="M242 266H256" stroke="#555" stroke-width="0.75"/>
<text x="249" y="264.3" text-anchor="middle" font-family="Liberation Sans, sans-serif" font-size="5.8" fill="#444">ns</text>
<path d="M242 243.2H270.4" stroke="#555" stroke-width="0.75"/>
<text x="255" y="243.9" text-anchor="middle" font-family="Liberation Sans, sans-serif" font-size="7" fill="#444" letter-spacing="0.3">*</text>
<text x="249.6" y="227.1" text-anchor="middle" font-family="Liberation Sans, sans-serif" font-size="6.5" font-weight="bold" fill="#000" stroke="#000" stroke-width="0.12">24 hrs</text>
<g stroke="#555" stroke-width="0.75" fill="none">
<path d="M310.2 235.6V302.4H373.79999999999995"/>
<path d="M308.4 302.40H310.2"/>
<path d="M308.4 285.70H310.2"/>
<path d="M308.4 269.00H310.2"/>
<path d="M308.4 252.30H310.2"/>
<path d="M308.4 235.60H310.2"/>
<path d="M319.6 302.4v1.6"/>
<path d="M334.9 302.4v1.6"/>
<path d="M350.2 302.4v1.6"/>
<path d="M365.4 302.4v1.6"/>
</g>
<g font-family="Liberation Sans, sans-serif" font-size="6" fill="#444" text-anchor="end">
<text x="307.4" y="304.50">0</text>
<text x="307.4" y="287.80">10</text>
<text x="307.4" y="271.10">20</text>
<text x="307.4" y="254.40">30</text>
<text x="307.4" y="237.70">40</text>
</g>
<rect x="314.20000000000005" y="289.54" width="10.8" height="12.86" fill="#22a4c4" stroke="#333" stroke-width="0.5"/>
<path d="M319.6 289.54V288.04M317.6 288.04h4" stroke="#222" stroke-width="0.6" fill="none"/>
<rect x="329.5" y="270.17" width="10.8" height="32.23" fill="#d8433a" stroke="#333" stroke-width="0.5"/>
<path d="M334.9 270.17V267.50M332.9 267.50h4" stroke="#222" stroke-width="0.6" fill="none"/>
<rect x="344.8" y="254.14" width="10.8" height="48.26" fill="#1ca035" stroke="#333" stroke-width="0.5"/>
<path d="M350.2 254.14V252.13M348.2 252.13h4" stroke="#222" stroke-width="0.6" fill="none"/>
<rect x="360.0" y="242.95" width="10.8" height="59.45" fill="#c400d6" stroke="#333" stroke-width="0.5"/>
<path d="M365.4 242.95V240.11M363.4 240.11h4" stroke="#222" stroke-width="0.6" fill="none"/>
<text transform="translate(295.5,268.6) rotate(-90)" text-anchor="middle" font-family="Liberation Sans, sans-serif" font-size="6.7" fill="#444">% Caspase3/7 activity</text>
<path d="M320.9 263.4H335.5" stroke="#555" stroke-width="0.75"/>
<text x="328" y="263.7" text-anchor="middle" font-family="Liberation Sans, sans-serif" font-size="7" fill="#444" letter-spacing="0.3">**</text>
<path d="M336.2 248.7H350.9" stroke="#555" stroke-width="0.75"/>
<text x="343.5" y="249.6" text-anchor="middle" font-family="Liberation Sans, sans-serif" font-size="7" fill="#444" letter-spacing="0.3">**</text>
<path d="M336.2 236.5H366" stroke="#555" stroke-width="0.75"/>
<text x="351" y="236.9" text-anchor="middle" font-family="Liberation Sans, sans-serif" font-size="7" fill="#444" letter-spacing="0.3">**</text>
<text x="347.4" y="227.1" text-anchor="middle" font-family="Liberation Sans, sans-serif" font-size="6.5" font-weight="bold" fill="#000" stroke="#000" stroke-width="0.12">48 hrs</text>
<rect x="88" y="183.8" width="8.8" height="5.2" fill="#3fb2d3" stroke="#555" stroke-opacity="0.5" stroke-width="0.4"/>
<text x="98.3" y="189" font-family="Liberation Sans, sans-serif" font-size="6" font-weight="bold" fill="#000" stroke="#000" stroke-width="0.1">NI</text>
<rect x="111.6" y="183.8" width="8.8" height="5.2" fill="#d01818" stroke="#555" stroke-opacity="0.5" stroke-width="0.4"/>
<text x="121.89999999999999" y="189" font-family="Liberation Sans, sans-serif" font-size="6" font-weight="bold" fill="#000" stroke="#000" stroke-width="0.1">BCG</text>
<rect x="143" y="183.8" width="8.8" height="5.2" fill="#1c9a2c" stroke="#555" stroke-opacity="0.5" stroke-width="0.4"/>
<text x="153.3" y="189" font-family="Liberation Sans, sans-serif" font-size="6" font-weight="bold" fill="#000" stroke="#000" stroke-width="0.1">BCG+MK-2206-5 μM</text>
<rect x="220" y="183.8" width="8.8" height="5.2" fill="#9b52d8" stroke="#555" stroke-opacity="0.5" stroke-width="0.4"/>
<text x="230.3" y="189" font-family="Liberation Sans, sans-serif" font-size="6" font-weight="bold" fill="#000" stroke="#000" stroke-width="0.1">BCG+MK-2206-10 μM</text>
<rect x="46.5" y="227.2" width="68.0" height="72.30000000000001" fill="#fff" stroke="#888" stroke-width="0.9"/>
<line x1="46.5" y1="256.4" x2="114.5" y2="256.4" stroke="#bbb" stroke-width="0.6"/>
<line x1="46.5" y1="270.2" x2="114.5" y2="270.2" stroke="#bbb" stroke-width="0.6"/>
<line x1="46.5" y1="285.1" x2="114.5" y2="285.1" stroke="#bbb" stroke-width="0.6"/>
<path d="M47.0,256.4 L47.0,256.4 47.4,256.4 47.8,256.4 48.3,256.4 48.7,256.4 49.1,256.4 49.5,256.4 49.9,256.4 50.4,256.3 50.8,256.3 51.2,256.2 51.6,256.0 52.1,255.8 52.5,255.5 52.9,255.0 53.3,254.3 53.7,253.4 54.2,252.5 54.6,251.3 55.0,250.1 55.4,249.3 55.8,248.2 56.3,246.5 56.7,245.7 57.1,245.2 57.5,244.2 58.0,243.0 58.4,242.7 58.8,241.7 59.2,239.2 59.6,237.8 60.1,238.7 60.5,239.6 60.9,239.6 61.3,240.2 61.7,241.6 62.2,242.4 62.6,243.5 63.0,245.3 63.4,246.4 63.9,246.4 64.3,246.3 64.7,246.9 65.1,248.2 65.5,249.0 66.0,249.5 66.4,249.7 66.8,249.2 67.2,249.1 67.6,249.4 68.1,249.6 68.5,250.3 68.9,251.4 69.3,252.5 69.8,253.6 70.2,254.5 70.6,255.1 71.0,255.6 71.4,255.8 71.9,255.9 72.3,255.7 72.7,255.4 73.1,255.0 73.5,254.3 74.0,253.4 74.4,252.2 74.8,250.6 75.2,248.8 75.7,247.1 76.1,245.3 76.5,243.1 76.9,241.9 77.3,241.3 77.8,240.3 78.2,239.5 78.6,240.7 79.0,243.0 79.4,243.8 79.9,244.6 80.3,246.3 80.7,247.4 81.1,248.0 81.6,248.9 82.0,249.4 82.4,250.1 82.8,251.4 83.2,252.3 83.7,252.6 84.1,252.6 84.5,252.7 84.9,253.5 85.3,254.4 85.8,254.8 86.2,255.0 86.6,255.3 87.0,255.6 87.5,255.9 87.9,256.1 88.3,256.2 88.7,256.3 89.1,256.3 89.6,256.4 90.0,256.4 90.4,256.4 90.8,256.4 91.2,256.4 91.7,256.4 92.1,256.4 92.5,256.4 92.9,256.4 93.4,256.4 93.8,256.4 94.2,256.4 94.6,256.4 95.0,256.4 95.5,256.4 95.9,256.4 96.3,256.4 96.7,256.4 97.1,256.4 97.6,256.4 98.0,256.4 98.4,256.4 98.8,256.4 99.3,256.4 99.7,256.4 100.1,256.4 100.5,256.4 100.9,256.4 101.4,256.4 101.8,256.4 102.2,256.4 102.6,256.4 103.0,256.4 103.5,256.4 103.9,256.4 104.3,256.4 104.7,256.4 105.2,256.4 105.6,256.4 106.0,256.4 106.4,256.4 106.8,256.4 107.3,256.4 107.7,256.4 108.1,256.4 108.5,256.4 108.9,256.4 109.4,256.4 109.8,256.4 110.2,256.4 110.6,256.4 111.1,256.4 111.5,256.4 111.9,256.4 112.3,256.4 112.7,256.4 113.2,256.4 113.6,256.4 114.0,256.4 L114.0,256.4Z" fill="#333" fill-opacity="0.7"/>
<path d="M51.6,256.0 L52.1,255.8 L52.5,255.5 L52.9,255.0 L53.3,254.3 L53.7,253.4 L54.2,252.5 L54.6,251.3 L55.0,250.1 L55.4,249.3 L55.8,248.2 L56.3,246.5 L56.7,245.7 L57.1,245.2 L57.5,244.2 L58.0,243.0 L58.4,242.7 L58.8,241.7 L59.2,239.2 L59.6,237.8 L60.1,238.7 L60.5,239.6 L60.9,239.6 L61.3,240.2 L61.7,241.6 L62.2,242.4 L62.6,243.5 L63.0,245.3 L63.4,246.4 L63.9,246.4 L64.3,246.3 L64.7,246.9 L65.1,248.2 L65.5,249.0 L66.0,249.5 L66.4,249.7 L66.8,249.2 L67.2,249.1 L67.6,249.4 L68.1,249.6 L68.5,250.3 L68.9,251.4 L69.3,252.5 L69.8,253.6 L70.2,254.5 L70.6,255.1 L71.0,255.6 L71.4,255.8 L71.9,255.9 L72.3,255.7 L72.7,255.4 L73.1,255.0 L73.5,254.3 L74.0,253.4 L74.4,252.2 L74.8,250.6 L75.2,248.8 L75.7,247.1 L76.1,245.3 L76.5,243.1 L76.9,241.9 L77.3,241.3 L77.8,240.3 L78.2,239.5 L78.6,240.7 L79.0,243.0 L79.4,243.8 L79.9,244.6 L80.3,246.3 L80.7,247.4 L81.1,248.0 L81.6,248.9 L82.0,249.4 L82.4,250.1 L82.8,251.4 L83.2,252.3 L83.7,252.6 L84.1,252.6 L84.5,252.7 L84.9,253.5 L85.3,254.4 L85.8,254.8 L86.2,255.0 L86.6,255.3 L87.0,255.6 L87.5,255.9 L87.9,256.1" fill="none" stroke="#333" stroke-width="0.45"/>
<path d="M47.0,270.2 L47.0,270.2 47.4,270.2 47.8,270.2 48.3,270.2 48.7,270.2 49.1,270.2 49.5,270.2 49.9,270.2 50.4,270.2 50.8,270.2 51.2,270.2 51.6,270.2 52.1,270.2 52.5,270.2 52.9,270.2 53.3,270.1 53.7,270.1 54.2,270.0 54.6,269.8 55.0,269.5 55.4,269.0 55.8,268.4 56.3,267.5 56.7,266.2 57.1,264.8 57.5,263.1 58.0,260.8 58.4,258.2 58.8,255.6 59.2,254.0 59.6,252.6 60.1,249.5 60.5,245.9 60.9,245.9 61.3,247.4 61.7,247.9 62.2,247.3 62.6,246.7 63.0,248.3 63.4,249.2 63.9,250.8 64.3,253.1 64.7,253.3 65.1,253.4 65.5,254.7 66.0,256.0 66.4,257.2 66.8,258.6 67.2,260.2 67.6,261.6 68.1,263.1 68.5,264.5 68.9,265.8 69.3,267.1 69.8,268.0 70.2,268.6 70.6,269.0 71.0,269.5 71.4,269.8 71.9,270.0 72.3,270.1 72.7,270.2 73.1,270.2 73.5,270.2 74.0,270.2 74.4,270.2 74.8,270.2 75.2,270.2 75.7,270.1 76.1,270.0 76.5,269.8 76.9,269.5 77.3,269.2 77.8,268.8 78.2,268.6 78.6,268.3 79.0,267.9 79.4,267.5 79.9,267.4 80.3,267.4 80.7,267.6 81.1,267.9 81.6,268.1 82.0,267.9 82.4,267.7 82.8,267.5 83.2,267.3 83.7,267.3 84.1,267.6 84.5,267.8 84.9,268.0 85.3,268.2 85.8,268.4 86.2,268.6 86.6,268.6 87.0,268.7 87.5,268.9 87.9,269.2 88.3,269.3 88.7,269.5 89.1,269.7 89.6,269.8 90.0,269.9 90.4,270.0 90.8,270.1 91.2,270.1 91.7,270.2 92.1,270.2 92.5,270.2 92.9,270.2 93.4,270.2 93.8,270.2 94.2,270.2 94.6,270.2 95.0,270.2 95.5,270.2 95.9,270.2 96.3,270.2 96.7,270.2 97.1,270.2 97.6,270.2 98.0,270.2 98.4,270.2 98.8,270.2 99.3,270.2 99.7,270.2 100.1,270.2 100.5,270.2 100.9,270.2 101.4,270.2 101.8,270.2 102.2,270.2 102.6,270.2 103.0,270.2 103.5,270.2 103.9,270.2 104.3,270.2 104.7,270.2 105.2,270.2 105.6,270.2 106.0,270.2 106.4,270.2 106.8,270.2 107.3,270.2 107.7,270.2 108.1,270.2 108.5,270.2 108.9,270.2 109.4,270.2 109.8,270.2 110.2,270.2 110.6,270.2 111.1,270.2 111.5,270.2 111.9,270.2 112.3,270.2 112.7,270.2 113.2,270.2 113.6,270.2 114.0,270.2 L114.0,270.2Z" fill="#333" fill-opacity="0.7"/>
<path d="M54.6,269.8 L55.0,269.5 L55.4,269.0 L55.8,268.4 L56.3,267.5 L56.7,266.2 L57.1,264.8 L57.5,263.1 L58.0,260.8 L58.4,258.2 L58.8,255.6 L59.2,254.0 L59.6,252.6 L60.1,249.5 L60.5,245.9 L60.9,245.9 L61.3,247.4 L61.7,247.9 L62.2,247.3 L62.6,246.7 L63.0,248.3 L63.4,249.2 L63.9,250.8 L64.3,253.1 L64.7,253.3 L65.1,253.4 L65.5,254.7 L66.0,256.0 L66.4,257.2 L66.8,258.6 L67.2,260.2 L67.6,261.6 L68.1,263.1 L68.5,264.5 L68.9,265.8 L69.3,267.1 L69.8,268.0 L70.2,268.6 L70.6,269.0 L71.0,269.5 L71.4,269.8 M76.5,269.8 L76.9,269.5 L77.3,269.2 L77.8,268.8 L78.2,268.6 L78.6,268.3 L79.0,267.9 L79.4,267.5 L79.9,267.4 L80.3,267.4 L80.7,267.6 L81.1,267.9 L81.6,268.1 L82.0,267.9 L82.4,267.7 L82.8,267.5 L83.2,267.3 L83.7,267.3 L84.1,267.6 L84.5,267.8 L84.9,268.0 L85.3,268.2 L85.8,268.4 L86.2,268.6 L86.6,268.6 L87.0,268.7 L87.5,268.9 L87.9,269.2 L88.3,269.3 L88.7,269.5 L89.1,269.7 L89.6,269.8 L90.0,269.9" fill="none" stroke="#333" stroke-width="0.45"/>
<path d="M47.0,285.1 L47.0,285.1 47.4,285.1 47.8,285.1 48.3,285.1 48.7,285.1 49.1,285.1 49.5,285.1 49.9,285.1 50.4,285.1 50.8,285.1 51.2,285.1 51.6,285.1 52.1,285.0 52.5,284.9 52.9,284.8 53.3,284.6 53.7,284.2 54.2,283.6 54.6,282.8 55.0,281.8 55.4,280.3 55.8,278.7 56.3,277.3 56.7,275.9 57.1,274.3 57.5,273.1 58.0,271.5 58.4,267.3 58.8,264.1 59.2,262.8 59.6,261.6 60.1,261.8 60.5,264.4 60.9,266.9 61.3,265.6 61.7,262.6 62.2,261.8 62.6,263.0 63.0,265.2 63.4,270.1 63.9,272.3 64.3,271.6 64.7,271.1 65.1,271.7 65.5,272.9 66.0,274.5 66.4,275.8 66.8,276.3 67.2,277.1 67.6,278.1 68.1,279.4 68.5,280.7 68.9,281.9 69.3,282.8 69.8,283.5 70.2,284.1 70.6,284.6 71.0,284.8 71.4,284.9 71.9,285.0 72.3,285.1 72.7,285.1 73.1,285.1 73.5,285.1 74.0,285.1 74.4,285.1 74.8,285.1 75.2,285.1 75.7,285.1 76.1,285.1 76.5,285.1 76.9,285.1 77.3,285.1 77.8,285.1 78.2,285.1 78.6,285.1 79.0,285.1 79.4,285.0 79.9,285.0 80.3,284.9 80.7,284.8 81.1,284.6 81.6,284.4 82.0,284.2 82.4,283.9 82.8,283.4 83.2,282.9 83.7,282.4 84.1,282.1 84.5,281.7 84.9,281.2 85.3,280.9 85.8,280.9 86.2,281.2 86.6,281.6 87.0,281.9 87.5,281.9 87.9,281.9 88.3,282.2 88.7,282.5 89.1,282.6 89.6,282.7 90.0,282.8 90.4,283.0 90.8,283.2 91.2,283.3 91.7,283.5 92.1,283.7 92.5,283.8 92.9,284.0 93.4,284.3 93.8,284.5 94.2,284.7 94.6,284.8 95.0,284.9 95.5,285.0 95.9,285.0 96.3,285.0 96.7,285.1 97.1,285.1 97.6,285.1 98.0,285.1 98.4,285.1 98.8,285.1 99.3,285.1 99.7,285.1 100.1,285.1 100.5,285.1 100.9,285.1 101.4,285.1 101.8,285.1 102.2,285.1 102.6,285.1 103.0,285.1 103.5,285.1 103.9,285.1 104.3,285.1 104.7,285.1 105.2,285.1 105.6,285.1 106.0,285.1 106.4,285.1 106.8,285.1 107.3,285.1 107.7,285.1 108.1,285.1 108.5,285.1 108.9,285.1 109.4,285.1 109.8,285.1 110.2,285.1 110.6,285.1 111.1,285.1 111.5,285.1 111.9,285.1 112.3,285.1 112.7,285.1 113.2,285.1 113.6,285.1 114.0,285.1 L114.0,285.1Z" fill="#333" fill-opacity="0.7"/>
<path d="M52.9,284.8 L53.3,284.6 L53.7,284.2 L54.2,283.6 L54.6,282.8 L55.0,281.8 L55.4,280.3 L55.8,278.7 L56.3,277.3 L56.7,275.9 L57.1,274.3 L57.5,273.1 L58.0,271.5 L58.4,267.3 L58.8,264.1 L59.2,262.8 L59.6,261.6 L60.1,261.8 L60.5,264.4 L60.9,266.9 L61.3,265.6 L61.7,262.6 L62.2,261.8 L62.6,263.0 L63.0,265.2 L63.4,270.1 L63.9,272.3 L64.3,271.6 L64.7,271.1 L65.1,271.7 L65.5,272.9 L66.0,274.5 L66.4,275.8 L66.8,276.3 L67.2,277.1 L67.6,278.1 L68.1,279.4 L68.5,280.7 L68.9,281.9 L69.3,282.8 L69.8,283.5 L70.2,284.1 L70.6,284.6 L71.0,284.8 M80.7,284.8 L81.1,284.6 L81.6,284.4 L82.0,284.2 L82.4,283.9 L82.8,283.4 L83.2,282.9 L83.7,282.4 L84.1,282.1 L84.5,281.7 L84.9,281.2 L85.3,280.9 L85.8,280.9 L86.2,281.2 L86.6,281.6 L87.0,281.9 L87.5,281.9 L87.9,281.9 L88.3,282.2 L88.7,282.5 L89.1,282.6 L89.6,282.7 L90.0,282.8 L90.4,283.0 L90.8,283.2 L91.2,283.3 L91.7,283.5 L92.1,283.7 L92.5,283.8 L92.9,284.0 L93.4,284.3 L93.8,284.5 L94.2,284.7 L94.6,284.8" fill="none" stroke="#333" stroke-width="0.45"/>
<path d="M47.0,298.6 L47.0,298.6 47.4,298.6 47.8,298.6 48.3,298.6 48.7,298.6 49.1,298.6 49.5,298.6 49.9,298.5 50.4,298.5 50.8,298.3 51.2,298.1 51.6,297.8 52.1,297.3 52.5,296.3 52.9,295.3 53.3,294.3 53.7,292.6 54.2,289.7 54.6,287.0 55.0,285.2 55.4,283.7 55.8,282.9 56.3,281.8 56.7,279.5 57.1,276.9 57.5,276.0 58.0,275.9 58.4,274.8 58.8,274.5 59.2,275.3 59.6,276.6 60.1,278.5 60.5,279.8 60.9,280.5 61.3,281.4 61.7,282.8 62.2,284.2 62.6,285.0 63.0,286.8 63.4,288.7 63.9,290.0 64.3,290.5 64.7,291.5 65.1,293.2 65.5,295.1 66.0,296.6 66.4,297.4 66.8,297.8 67.2,298.1 67.6,298.3 68.1,298.5 68.5,298.5 68.9,298.6 69.3,298.6 69.8,298.6 70.2,298.6 70.6,298.6 71.0,298.6 71.4,298.6 71.9,298.6 72.3,298.6 72.7,298.6 73.1,298.6 73.5,298.6 74.0,298.6 74.4,298.6 74.8,298.6 75.2,298.6 75.7,298.6 76.1,298.6 76.5,298.6 76.9,298.6 77.3,298.6 77.8,298.6 78.2,298.6 78.6,298.6 79.0,298.6 79.4,298.6 79.9,298.6 80.3,298.6 80.7,298.6 81.1,298.6 81.6,298.6 82.0,298.6 82.4,298.6 82.8,298.6 83.2,298.6 83.7,298.6 84.1,298.6 84.5,298.6 84.9,298.6 85.3,298.6 85.8,298.6 86.2,298.6 86.6,298.6 87.0,298.6 87.5,298.6 87.9,298.6 88.3,298.6 88.7,298.6 89.1,298.6 89.6,298.6 90.0,298.6 90.4,298.6 90.8,298.6 91.2,298.6 91.7,298.6 92.1,298.6 92.5,298.6 92.9,298.6 93.4,298.6 93.8,298.6 94.2,298.6 94.6,298.6 95.0,298.6 95.5,298.6 95.9,298.6 96.3,298.6 96.7,298.6 97.1,298.6 97.6,298.6 98.0,298.6 98.4,298.6 98.8,298.6 99.3,298.6 99.7,298.6 100.1,298.6 100.5,298.6 100.9,298.6 101.4,298.6 101.8,298.6 102.2,298.6 102.6,298.6 103.0,298.6 103.5,298.6 103.9,298.6 104.3,298.6 104.7,298.6 105.2,298.6 105.6,298.6 106.0,298.6 106.4,298.6 106.8,298.6 107.3,298.6 107.7,298.6 108.1,298.6 108.5,298.6 108.9,298.6 109.4,298.6 109.8,298.6 110.2,298.6 110.6,298.6 111.1,298.6 111.5,298.6 111.9,298.6 112.3,298.6 112.7,298.6 113.2,298.6 113.6,298.6 114.0,298.6 L114.0,298.6Z" fill="#333" fill-opacity="0.7"/>
<path d="M50.8,298.3 L51.2,298.1 L51.6,297.8 L52.1,297.3 L52.5,296.3 L52.9,295.3 L53.3,294.3 L53.7,292.6 L54.2,289.7 L54.6,287.0 L55.0,285.2 L55.4,283.7 L55.8,282.9 L56.3,281.8 L56.7,279.5 L57.1,276.9 L57.5,276.0 L58.0,275.9 L58.4,274.8 L58.8,274.5 L59.2,275.3 L59.6,276.6 L60.1,278.5 L60.5,279.8 L60.9,280.5 L61.3,281.4 L61.7,282.8 L62.2,284.2 L62.6,285.0 L63.0,286.8 L63.4,288.7 L63.9,290.0 L64.3,290.5 L64.7,291.5 L65.1,293.2 L65.5,295.1 L66.0,296.6 L66.4,297.4 L66.8,297.8 L67.2,298.1 L67.6,298.3" fill="none" stroke="#333" stroke-width="0.45"/>
<line x1="72.4" y1="227.2" x2="72.4" y2="299.5" stroke="#666" stroke-width="0.6"/>
<g font-family="Liberation Sans, sans-serif" font-size="6.5" font-weight="bold" fill="#000" stroke="#000" stroke-width="0.12" text-anchor="end">
<text x="113.8" y="253.89999999999998">30.0%</text>
<text x="113.8" y="267.7">15.0%</text>
<text x="113.8" y="282.6">14.8%</text>
<text x="113.8" y="296.1">3%</text>
</g>
<line x1="69.5" y1="299.5" x2="69.5" y2="301.0" stroke="#666" stroke-width="0.5"/>
<line x1="92.5" y1="299.5" x2="92.5" y2="301.0" stroke="#666" stroke-width="0.5"/>
<rect x="116.5" y="227.2" width="68.80000000000001" height="72.30000000000001" fill="#fff" stroke="#888" stroke-width="0.9"/>
<line x1="116.5" y1="255.6" x2="185.3" y2="255.6" stroke="#bbb" stroke-width="0.6"/>
<line x1="116.5" y1="269.2" x2="185.3" y2="269.2" stroke="#bbb" stroke-width="0.6"/>
<line x1="116.5" y1="283.8" x2="185.3" y2="283.8" stroke="#bbb" stroke-width="0.6"/>
<path d="M117.0,255.6 L117.0,255.6 117.4,255.6 117.9,255.6 118.3,255.6 118.7,255.6 119.1,255.6 119.6,255.6 120.0,255.6 120.4,255.6 120.8,255.6 121.3,255.6 121.7,255.6 122.1,255.6 122.5,255.6 123.0,255.6 123.4,255.6 123.8,255.6 124.2,255.6 124.7,255.6 125.1,255.6 125.5,255.6 126.0,255.5 126.4,255.5 126.8,255.5 127.2,255.4 127.7,255.4 128.1,255.3 128.5,255.2 128.9,255.0 129.4,254.9 129.8,254.6 130.2,254.4 130.6,254.2 131.1,254.0 131.5,253.7 131.9,253.4 132.4,252.9 132.8,252.3 133.2,251.7 133.6,251.2 134.1,250.5 134.5,250.2 134.9,249.7 135.3,248.5 135.8,247.7 136.2,247.9 136.6,248.1 137.0,247.6 137.5,246.8 137.9,245.4 138.3,243.6 138.7,242.8 139.2,242.5 139.6,241.8 140.0,240.8 140.5,239.5 140.9,239.0 141.3,239.1 141.7,237.8 142.2,236.4 142.6,236.9 143.0,237.5 143.4,237.4 143.9,239.2 144.3,241.0 144.7,241.5 145.1,242.4 145.6,242.9 146.0,243.0 146.4,243.8 146.8,245.0 147.3,245.6 147.7,245.6 148.1,245.9 148.6,246.9 149.0,247.5 149.4,247.8 149.8,248.8 150.3,249.7 150.7,250.8 151.1,252.2 151.5,253.1 152.0,253.5 152.4,253.8 152.8,254.1 153.2,254.2 153.7,254.0 154.1,253.8 154.5,253.2 155.0,251.8 155.4,249.5 155.8,246.2 156.2,240.4 156.7,232.8 157.1,229.6 157.5,231.3 157.9,232.9 158.4,236.3 158.8,241.7 159.2,246.7 159.6,249.9 160.1,251.8 160.5,253.1 160.9,253.9 161.3,254.3 161.8,254.6 162.2,254.8 162.6,255.1 163.1,255.3 163.5,255.4 163.9,255.4 164.3,255.5 164.8,255.5 165.2,255.6 165.6,255.6 166.0,255.6 166.5,255.6 166.9,255.6 167.3,255.6 167.7,255.6 168.2,255.6 168.6,255.6 169.0,255.6 169.4,255.6 169.9,255.6 170.3,255.6 170.7,255.6 171.2,255.6 171.6,255.6 172.0,255.6 172.4,255.6 172.9,255.6 173.3,255.6 173.7,255.6 174.1,255.6 174.6,255.6 175.0,255.6 175.4,255.6 175.8,255.6 176.3,255.6 176.7,255.6 177.1,255.6 177.6,255.6 178.0,255.6 178.4,255.6 178.8,255.6 179.3,255.6 179.7,255.6 180.1,255.6 180.5,255.6 181.0,255.6 181.4,255.6 181.8,255.6 182.2,255.6 182.7,255.6 183.1,255.6 183.5,255.6 183.9,255.6 184.4,255.6 184.8,255.6 L184.8,255.6Z" fill="#333" fill-opacity="0.7"/>
<path d="M128.1,255.3 L128.5,255.2 L128.9,255.0 L129.4,254.9 L129.8,254.6 L130.2,254.4 L130.6,254.2 L131.1,254.0 L131.5,253.7 L131.9,253.4 L132.4,252.9 L132.8,252.3 L133.2,251.7 L133.6,251.2 L134.1,250.5 L134.5,250.2 L134.9,249.7 L135.3,248.5 L135.8,247.7 L136.2,247.9 L136.6,248.1 L137.0,247.6 L137.5,246.8 L137.9,245.4 L138.3,243.6 L138.7,242.8 L139.2,242.5 L139.6,241.8 L140.0,240.8 L140.5,239.5 L140.9,239.0 L141.3,239.1 L141.7,237.8 L142.2,236.4 L142.6,236.9 L143.0,237.5 L143.4,237.4 L143.9,239.2 L144.3,241.0 L144.7,241.5 L145.1,242.4 L145.6,242.9 L146.0,243.0 L146.4,243.8 L146.8,245.0 L147.3,245.6 L147.7,245.6 L148.1,245.9 L148.6,246.9 L149.0,247.5 L149.4,247.8 L149.8,248.8 L150.3,249.7 L150.7,250.8 L151.1,252.2 L151.5,253.1 L152.0,253.5 L152.4,253.8 L152.8,254.1 L153.2,254.2 L153.7,254.0 L154.1,253.8 L154.5,253.2 L155.0,251.8 L155.4,249.5 L155.8,246.2 L156.2,240.4 L156.7,232.8 L157.1,229.6 L157.5,231.3 L157.9,232.9 L158.4,236.3 L158.8,241.7 L159.2,246.7 L159.6,249.9 L160.1,251.8 L160.5,253.1 L160.9,253.9 L161.3,254.3 L161.8,254.6 L162.2,254.8 L162.6,255.1 L163.1,255.3" fill="none" stroke="#333" stroke-width="0.45"/>
<path d="M117.0,269.2 L117.0,269.2 117.4,269.2 117.9,269.2 118.3,269.2 118.7,269.2 119.1,269.2 119.6,269.2 120.0,269.2 120.4,269.2 120.8,269.2 121.3,269.2 121.7,269.2 122.1,269.2 122.5,269.2 123.0,269.2 123.4,269.2 123.8,269.2 124.2,269.2 124.7,269.2 125.1,269.2 125.5,269.2 126.0,269.2 126.4,269.2 126.8,269.2 127.2,269.1 127.7,269.1 128.1,269.0 128.5,268.9 128.9,268.8 129.4,268.5 129.8,268.3 130.2,267.9 130.6,267.2 131.1,266.3 131.5,265.3 131.9,264.2 132.4,262.6 132.8,261.1 133.2,259.5 133.6,257.8 134.1,256.1 134.5,255.1 134.9,253.8 135.3,251.3 135.8,249.6 136.2,249.2 136.6,249.3 137.0,249.6 137.5,249.1 137.9,247.7 138.3,248.5 138.7,250.2 139.2,250.5 139.6,250.7 140.0,250.3 140.5,249.1 140.9,248.5 141.3,248.5 141.7,249.6 142.2,249.1 142.6,247.6 143.0,247.1 143.4,248.4 143.9,250.4 144.3,251.8 144.7,252.3 145.1,252.9 145.6,254.1 146.0,254.8 146.4,255.5 146.8,256.1 147.3,256.1 147.7,256.3 148.1,257.7 148.6,258.7 149.0,259.1 149.4,259.6 149.8,260.2 150.3,261.0 150.7,262.0 151.1,263.2 151.5,263.8 152.0,264.2 152.4,264.5 152.8,264.9 153.2,265.1 153.7,264.9 154.1,264.9 154.5,265.3 155.0,265.8 155.4,266.3 155.8,266.9 156.2,267.2 156.7,266.9 157.1,265.8 157.5,263.6 157.9,260.7 158.4,257.5 158.8,253.4 159.2,250.9 159.6,250.4 160.1,252.2 160.5,255.6 160.9,260.0 161.3,263.6 161.8,265.7 162.2,266.9 162.6,267.5 163.1,267.9 163.5,268.2 163.9,268.5 164.3,268.7 164.8,268.8 165.2,269.0 165.6,269.0 166.0,269.1 166.5,269.1 166.9,269.2 167.3,269.2 167.7,269.2 168.2,269.2 168.6,269.2 169.0,269.2 169.4,269.2 169.9,269.2 170.3,269.2 170.7,269.2 171.2,269.2 171.6,269.2 172.0,269.2 172.4,269.2 172.9,269.2 173.3,269.2 173.7,269.2 174.1,269.2 174.6,269.2 175.0,269.2 175.4,269.2 175.8,269.2 176.3,269.2 176.7,269.2 177.1,269.2 177.6,269.2 178.0,269.2 178.4,269.2 178.8,269.2 179.3,269.2 179.7,269.2 180.1,269.2 180.5,269.2 181.0,269.2 181.4,269.2 181.8,269.2 182.2,269.2 182.7,269.2 183.1,269.2 183.5,269.2 183.9,269.2 184.4,269.2 184.8,269.2 L184.8,269.2Z" fill="#333" fill-opacity="0.7"/>
<path d="M128.5,268.9 L128.9,268.8 L129.4,268.5 L129.8,268.3 L130.2,267.9 L130.6,267.2 L131.1,266.3 L131.5,265.3 L131.9,264.2 L132.4,262.6 L132.8,261.1 L133.2,259.5 L133.6,257.8 L134.1,256.1 L134.5,255.1 L134.9,253.8 L135.3,251.3 L135.8,249.6 L136.2,249.2 L136.6,249.3 L137.0,249.6 L137.5,249.1 L137.9,247.7 L138.3,248.5 L138.7,250.2 L139.2,250.5 L139.6,250.7 L140.0,250.3 L140.5,249.1 L140.9,248.5 L141.3,248.5 L141.7,249.6 L142.2,249.1 L142.6,247.6 L143.0,247.1 L143.4,248.4 L143.9,250.4 L144.3,251.8 L144.7,252.3 L145.1,252.9 L145.6,254.1 L146.0,254.8 L146.4,255.5 L146.8,256.1 L147.3,256.1 L147.7,256.3 L148.1,257.7 L148.6,258.7 L149.0,259.1 L149.4,259.6 L149.8,260.2 L150.3,261.0 L150.7,262.0 L151.1,263.2 L151.5,263.8 L152.0,264.2 L152.4,264.5 L152.8,264.9 L153.2,265.1 L153.7,264.9 L154.1,264.9 L154.5,265.3 L155.0,265.8 L155.4,266.3 L155.8,266.9 L156.2,267.2 L156.7,266.9 L157.1,265.8 L157.5,263.6 L157.9,260.7 L158.4,257.5 L158.8,253.4 L159.2,250.9 L159.6,250.4 L160.1,252.2 L160.5,255.6 L160.9,260.0 L161.3,263.6 L161.8,265.7 L162.2,266.9 L162.6,267.5 L163.1,267.9 L163.5,268.2 L163.9,268.5 L164.3,268.7 L164.8,268.8" fill="none" stroke="#333" stroke-width="0.45"/>
<path d="M117.0,283.8 L117.0,283.8 117.4,283.8 117.9,283.8 118.3,283.8 118.7,283.8 119.1,283.8 119.6,283.8 120.0,283.8 120.4,283.8 120.8,283.8 121.3,283.8 121.7,283.8 122.1,283.8 122.5,283.8 123.0,283.8 123.4,283.8 123.8,283.8 124.2,283.8 124.7,283.8 125.1,283.8 125.5,283.8 126.0,283.7 126.4,283.7 126.8,283.6 127.2,283.4 127.7,283.3 128.1,283.1 128.5,282.9 128.9,282.5 129.4,281.8 129.8,281.1 130.2,280.2 130.6,279.4 131.1,278.8 131.5,277.7 131.9,276.0 132.4,274.3 132.8,272.3 133.2,270.4 133.6,270.0 134.1,270.3 134.5,270.1 134.9,268.6 135.3,266.4 135.8,265.2 136.2,264.8 136.6,264.5 137.0,265.9 137.5,267.3 137.9,267.0 138.3,262.3 138.7,260.9 139.2,263.9 139.6,266.8 140.0,266.5 140.5,266.2 140.9,267.9 141.3,267.1 141.7,265.4 142.2,265.3 142.6,265.8 143.0,266.0 143.4,266.8 143.9,269.6 144.3,271.2 144.7,270.4 145.1,269.9 145.6,270.8 146.0,272.0 146.4,273.6 146.8,274.1 147.3,273.3 147.7,273.6 148.1,274.5 148.6,276.5 149.0,278.0 149.4,278.6 149.8,278.5 150.3,278.6 150.7,279.2 151.1,279.9 151.5,280.1 152.0,280.3 152.4,280.6 152.8,281.0 153.2,281.2 153.7,281.5 154.1,281.8 154.5,282.2 155.0,282.4 155.4,282.5 155.8,282.6 156.2,282.4 156.7,281.8 157.1,280.7 157.5,279.1 157.9,277.4 158.4,275.9 158.8,274.9 159.2,275.2 159.6,276.7 160.1,278.2 160.5,279.5 160.9,281.1 161.3,282.0 161.8,282.6 162.2,282.9 162.6,283.2 163.1,283.4 163.5,283.5 163.9,283.6 164.3,283.7 164.8,283.7 165.2,283.8 165.6,283.8 166.0,283.8 166.5,283.8 166.9,283.8 167.3,283.8 167.7,283.8 168.2,283.8 168.6,283.8 169.0,283.8 169.4,283.8 169.9,283.8 170.3,283.8 170.7,283.8 171.2,283.8 171.6,283.8 172.0,283.8 172.4,283.8 172.9,283.8 173.3,283.8 173.7,283.8 174.1,283.8 174.6,283.8 175.0,283.8 175.4,283.8 175.8,283.8 176.3,283.8 176.7,283.8 177.1,283.8 177.6,283.8 178.0,283.8 178.4,283.8 178.8,283.8 179.3,283.8 179.7,283.8 180.1,283.8 180.5,283.8 181.0,283.8 181.4,283.8 181.8,283.8 182.2,283.8 182.7,283.8 183.1,283.8 183.5,283.8 183.9,283.8 184.4,283.8 184.8,283.8 L184.8,283.8Z" fill="#333" fill-opacity="0.7"/>
<path d="M127.2,283.4 L127.7,283.3 L128.1,283.1 L128.5,282.9 L128.9,282.5 L129.4,281.8 L129.8,281.1 L130.2,280.2 L130.6,279.4 L131.1,278.8 L131.5,277.7 L131.9,276.0 L132.4,274.3 L132.8,272.3 L133.2,270.4 L133.6,270.0 L134.1,270.3 L134.5,270.1 L134.9,268.6 L135.3,266.4 L135.8,265.2 L136.2,264.8 L136.6,264.5 L137.0,265.9 L137.5,267.3 L137.9,267.0 L138.3,262.3 L138.7,260.9 L139.2,263.9 L139.6,266.8 L140.0,266.5 L140.5,266.2 L140.9,267.9 L141.3,267.1 L141.7,265.4 L142.2,265.3 L142.6,265.8 L143.0,266.0 L143.4,266.8 L143.9,269.6 L144.3,271.2 L144.7,270.4 L145.1,269.9 L145.6,270.8 L146.0,272.0 L146.4,273.6 L146.8,274.1 L147.3,273.3 L147.7,273.6 L148.1,274.5 L148.6,276.5 L149.0,278.0 L149.4,278.6 L149.8,278.5 L150.3,278.6 L150.7,279.2 L151.1,279.9 L151.5,280.1 L152.0,280.3 L152.4,280.6 L152.8,281.0 L153.2,281.2 L153.7,281.5 L154.1,281.8 L154.5,282.2 L155.0,282.4 L155.4,282.5 L155.8,282.6 L156.2,282.4 L156.7,281.8 L157.1,280.7 L157.5,279.1 L157.9,277.4 L158.4,275.9 L158.8,274.9 L159.2,275.2 L159.6,276.7 L160.1,278.2 L160.5,279.5 L160.9,281.1 L161.3,282.0 L161.8,282.6 L162.2,282.9 L162.6,283.2 L163.1,283.4 L163.5,283.5" fill="none" stroke="#333" stroke-width="0.45"/>
<path d="M117.0,298.4 L117.0,297.3 117.4,297.0 117.9,296.9 118.3,296.7 118.7,296.4 119.1,295.9 119.6,295.5 120.0,295.6 120.4,295.6 120.8,295.0 121.3,294.0 121.7,293.1 122.1,292.6 122.5,292.1 123.0,291.7 123.4,291.2 123.8,291.3 124.2,291.5 124.7,290.9 125.1,290.3 125.5,290.0 126.0,289.3 126.4,288.8 126.8,288.7 127.2,288.2 127.7,287.4 128.1,286.6 128.5,285.9 128.9,285.8 129.4,286.2 129.8,286.0 130.2,285.2 130.6,283.2 131.1,280.9 131.5,279.8 131.9,279.0 132.4,277.3 132.8,276.1 133.2,276.6 133.6,277.1 134.1,277.9 134.5,277.4 134.9,276.3 135.3,275.9 135.8,274.9 136.2,275.2 136.6,277.0 137.0,278.2 137.5,279.8 137.9,281.5 138.3,281.4 138.7,280.7 139.2,280.6 139.6,281.3 140.0,281.9 140.5,282.6 140.9,283.2 141.3,284.4 141.7,285.7 142.2,286.5 142.6,286.9 143.0,287.8 143.4,288.7 143.9,290.8 144.3,292.5 144.7,293.0 145.1,293.0 145.6,292.7 146.0,293.1 146.4,293.8 146.8,294.5 147.3,295.1 147.7,295.5 148.1,296.0 148.6,296.5 149.0,296.8 149.4,297.2 149.8,297.5 150.3,297.7 150.7,297.9 151.1,298.1 151.5,298.2 152.0,298.2 152.4,298.3 152.8,298.3 153.2,298.4 153.7,298.4 154.1,298.4 154.5,298.4 155.0,298.4 155.4,298.4 155.8,298.4 156.2,298.4 156.7,298.4 157.1,298.4 157.5,298.3 157.9,297.9 158.4,297.3 158.8,296.5 159.2,295.8 159.6,295.3 160.1,295.6 160.5,296.3 160.9,297.2 161.3,297.9 161.8,298.2 162.2,298.3 162.6,298.4 163.1,298.4 163.5,298.4 163.9,298.4 164.3,298.4 164.8,298.4 165.2,298.4 165.6,298.4 166.0,298.4 166.5,298.4 166.9,298.4 167.3,298.4 167.7,298.4 168.2,298.4 168.6,298.4 169.0,298.4 169.4,298.4 169.9,298.4 170.3,298.4 170.7,298.4 171.2,298.4 171.6,298.4 172.0,298.4 172.4,298.4 172.9,298.4 173.3,298.4 173.7,298.4 174.1,298.4 174.6,298.4 175.0,298.4 175.4,298.4 175.8,298.4 176.3,298.4 176.7,298.4 177.1,298.4 177.6,298.4 178.0,298.4 178.4,298.4 178.8,298.4 179.3,298.4 179.7,298.4 180.1,298.4 180.5,298.4 181.0,298.4 181.4,298.4 181.8,298.4 182.2,298.4 182.7,298.4 183.1,298.4 183.5,298.4 183.9,298.4 184.4,298.4 184.8,298.4 L184.8,298.4Z" fill="#333" fill-opacity="0.7"/>
<path d="M117.0,297.3 L117.4,297.0 L117.9,296.9 L118.3,296.7 L118.7,296.4 L119.1,295.9 L119.6,295.5 L120.0,295.6 L120.4,295.6 L120.8,295.0 L121.3,294.0 L121.7,293.1 L122.1,292.6 L122.5,292.1 L123.0,291.7 L123.4,291.2 L123.8,291.3 L124.2,291.5 L124.7,290.9 L125.1,290.3 L125.5,290.0 L126.0,289.3 L126.4,288.8 L126.8,288.7 L127.2,288.2 L127.7,287.4 L128.1,286.6 L128.5,285.9 L128.9,285.8 L129.4,286.2 L129.8,286.0 L130.2,285.2 L130.6,283.2 L131.1,280.9 L131.5,279.8 L131.9,279.0 L132.4,277.3 L132.8,276.1 L133.2,276.6 L133.6,277.1 L134.1,277.9 L134.5,277.4 L134.9,276.3 L135.3,275.9 L135.8,274.9 L136.2,275.2 L136.6,277.0 L137.0,278.2 L137.5,279.8 L137.9,281.5 L138.3,281.4 L138.7,280.7 L139.2,280.6 L139.6,281.3 L140.0,281.9 L140.5,282.6 L140.9,283.2 L141.3,284.4 L141.7,285.7 L142.2,286.5 L142.6,286.9 L143.0,287.8 L143.4,288.7 L143.9,290.8 L144.3,292.5 L144.7,293.0 L145.1,293.0 L145.6,292.7 L146.0,293.1 L146.4,293.8 L146.8,294.5 L147.3,295.1 L147.7,295.5 L148.1,296.0 L148.6,296.5 L149.0,296.8 L149.4,297.2 L149.8,297.5 L150.3,297.7 L150.7,297.9 L151.1,298.1 M157.9,297.9 L158.4,297.3 L158.8,296.5 L159.2,295.8 L159.6,295.3 L160.1,295.6 L160.5,296.3 L160.9,297.2 L161.3,297.9" fill="none" stroke="#333" stroke-width="0.45"/>
<line x1="152.4" y1="227.2" x2="152.4" y2="299.5" stroke="#666" stroke-width="0.6"/>
<g font-family="Liberation Sans, sans-serif" font-size="6.5" font-weight="bold" fill="#000" stroke="#000" stroke-width="0.12" text-anchor="end">
<text x="184.4" y="253.1">41.0%</text>
<text x="184.4" y="266.7">30.0%</text>
<text x="184.4" y="281.3">20.0%</text>
<text x="184.4" y="295.9">6%</text>
</g>
<line x1="139.5" y1="299.5" x2="139.5" y2="301.0" stroke="#666" stroke-width="0.5"/>
<line x1="162.5" y1="299.5" x2="162.5" y2="301.0" stroke="#666" stroke-width="0.5"/>
<text x="80.5" y="224.8" text-anchor="middle" font-family="Liberation Sans, sans-serif" font-size="6.6" font-weight="bold" fill="#000" stroke="#000" stroke-width="0.12">24 hrs</text>
<text x="147.2" y="224.0" text-anchor="middle" font-family="Liberation Sans, sans-serif" font-size="6.6" font-weight="bold" fill="#000" stroke="#000" stroke-width="0.12">48 hrs</text>
<text transform="translate(36.7,255.5) rotate(-90)" text-anchor="middle" font-family="Liberation Sans, sans-serif" font-size="4.7" fill="#444">BCG + MK-2206</text>
<line x1="38.4" y1="238" x2="38.4" y2="279" stroke="#bbb" stroke-width="0.4"/>
<g font-family="Liberation Sans, sans-serif" font-size="3.9" fill="#444" text-anchor="middle">
<text transform="translate(44.5,247) rotate(-90)">10 μM</text>
<text transform="translate(44.5,262) rotate(-90)">5 μM</text>
<text transform="translate(44.5,276) rotate(-90)">DMSO</text>
<text transform="translate(44.5,289.5) rotate(-90)">NI</text>
</g>
<path d="M46 304.8H181" stroke="#333" stroke-width="0.6"/><path d="M183 304.8l-3 -1.4v2.8z" fill="#333"/>
<text x="120" y="314.2" text-anchor="middle" font-family="Liberation Sans, sans-serif" font-size="7" font-weight="bold" fill="#000" stroke="#000" stroke-width="0.12">Caspase 3/7 activity</text>
</svg></body></html>
